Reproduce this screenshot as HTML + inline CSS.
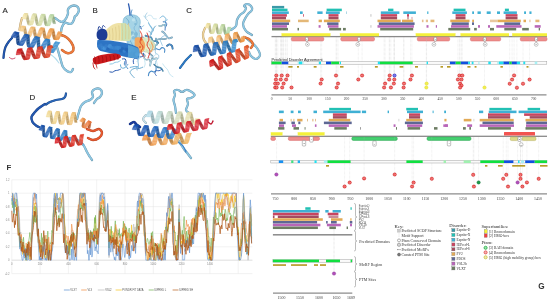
<!DOCTYPE html>
<html><head><meta charset="utf-8"><title>Figure</title>
<style>
html,body{margin:0;padding:0;background:#fff;}
body{width:550px;height:302px;overflow:hidden;position:relative;}
svg{position:absolute;left:0;top:0;display:block;filter:blur(0.3px);}
.sans{font-family:"Liberation Sans",Arial,sans-serif;}
.serif{font-family:"Liberation Serif","Times New Roman",serif;}
</style></head><body>
<svg width="550" height="302" viewBox="0 0 550 302">
<rect width="550" height="302" fill="#fff"/>
<path d="M3.5,58 C3.58,57.17 3.67,54.83 4,53 C4.33,51.17 4.75,48.83 5.5,47 C6.25,45.17 7.42,43.5 8.5,42 C9.58,40.5 11.42,38.67 12,38" fill="none" stroke="#193f7e" stroke-width="2.2" stroke-linecap="round" stroke-linejoin="round"/>
<path d="M3.5,58 C3.58,57.17 3.67,54.83 4,53 C4.33,51.17 4.75,48.83 5.5,47 C6.25,45.17 7.42,43.5 8.5,42 C9.58,40.5 11.42,38.67 12,38" fill="none" stroke="#2458b0" stroke-width="1.5" stroke-linecap="round" stroke-linejoin="round"/>
<path d="M9.5,57.5 C9.92,57.75 11.08,58.92 12,59 C12.92,59.08 14.5,58.17 15,58" fill="none" stroke="#d05070" stroke-width="1" stroke-linecap="round" stroke-linejoin="round"/>
<path d="M55,18 C56,18.63 59.33,21.48 61,21.8 C62.67,22.12 63.85,21.2 65,19.9 C66.15,18.6 67.42,15.67 67.9,14 C68.38,12.33 67.57,11.07 67.9,9.9 C68.23,8.73 68.9,7.73 69.9,7 C70.9,6.27 72.58,5.5 73.9,5.5 C75.22,5.5 76.98,6.1 77.8,7 C78.62,7.9 78.97,9.58 78.8,10.9 C78.63,12.22 77.45,13.98 76.8,14.9 C76.15,15.82 75.38,15.57 74.9,16.4 C74.42,17.23 74.4,18.75 73.9,19.9 C73.4,21.05 72.73,22.65 71.9,23.3 C71.07,23.95 70.07,23.88 68.9,23.8 C67.73,23.72 66.05,22.27 64.9,22.8 C63.75,23.33 62.65,25.47 62,27 C61.35,28.53 61.17,31.17 61,32" fill="none" stroke="#6690a4" stroke-width="2.3" stroke-linecap="round" stroke-linejoin="round"/>
<path d="M55,18 C56,18.63 59.33,21.48 61,21.8 C62.67,22.12 63.85,21.2 65,19.9 C66.15,18.6 67.42,15.67 67.9,14 C68.38,12.33 67.57,11.07 67.9,9.9 C68.23,8.73 68.9,7.73 69.9,7 C70.9,6.27 72.58,5.5 73.9,5.5 C75.22,5.5 76.98,6.1 77.8,7 C78.62,7.9 78.97,9.58 78.8,10.9 C78.63,12.22 77.45,13.98 76.8,14.9 C76.15,15.82 75.38,15.57 74.9,16.4 C74.42,17.23 74.4,18.75 73.9,19.9 C73.4,21.05 72.73,22.65 71.9,23.3 C71.07,23.95 70.07,23.88 68.9,23.8 C67.73,23.72 66.05,22.27 64.9,22.8 C63.75,23.33 62.65,25.47 62,27 C61.35,28.53 61.17,31.17 61,32" fill="none" stroke="#8ec8e4" stroke-width="1.6" stroke-linecap="round" stroke-linejoin="round"/>
<path d="M61,35 C61.83,35.33 64.33,35.83 66,37 C67.67,38.17 69.75,40.17 71,42 C72.25,43.83 73.33,46.33 73.5,48 C73.67,49.67 73.08,51.17 72,52 C70.92,52.83 68.67,53.33 67,53 C65.33,52.67 62.83,50.5 62,50" fill="none" stroke="#ab572b" stroke-width="2.5" stroke-linecap="round" stroke-linejoin="round"/>
<path d="M61,35 C61.83,35.33 64.33,35.83 66,37 C67.67,38.17 69.75,40.17 71,42 C72.25,43.83 73.33,46.33 73.5,48 C73.67,49.67 73.08,51.17 72,52 C70.92,52.83 68.67,53.33 67,53 C65.33,52.67 62.83,50.5 62,50" fill="none" stroke="#ee7a3c" stroke-width="1.8" stroke-linecap="round" stroke-linejoin="round"/>
<path d="M57,47 C57.33,48.17 58.33,51.67 59,54 C59.67,56.33 60.33,58.83 61,61 C61.67,63.17 62,65.33 63,67 C64,68.67 65.67,70.17 67,71 C68.33,71.83 70,72.33 71,72 C72,71.67 72.67,69.5 73,69" fill="none" stroke="#6690a4" stroke-width="2.3" stroke-linecap="round" stroke-linejoin="round"/>
<path d="M57,47 C57.33,48.17 58.33,51.67 59,54 C59.67,56.33 60.33,58.83 61,61 C61.67,63.17 62,65.33 63,67 C64,68.67 65.67,70.17 67,71 C68.33,71.83 70,72.33 71,72 C72,71.67 72.67,69.5 73,69" fill="none" stroke="#8ec8e4" stroke-width="1.6" stroke-linecap="round" stroke-linejoin="round"/>
<path d="M50,54 C50.83,54.67 53.5,56.5 55,58 C56.5,59.5 58.33,62.17 59,63" fill="none" stroke="#b2dcec" stroke-width="1.1" stroke-linecap="round" stroke-linejoin="round"/>
<path d="M22,18 C21.75,19 20.92,22 20.5,24 C20.08,26 19.67,29 19.5,30" fill="none" stroke="#ae976e" stroke-width="2.2" stroke-linecap="round" stroke-linejoin="round"/>
<path d="M22,18 C21.75,19 20.92,22 20.5,24 C20.08,26 19.67,29 19.5,30" fill="none" stroke="#f2d29a" stroke-width="1.5" stroke-linecap="round" stroke-linejoin="round"/>
<polygon points="24.41,13.5 24.76,13.72 27.49,13.83 27.13,13.61" fill="#c0b586" stroke="#c0b586" stroke-width="0.25"/>
<polygon points="24.76,13.72 25.1,14.31 27.82,14.42 27.49,13.83" fill="#bfb586" stroke="#bfb586" stroke-width="0.25"/>
<polygon points="25.1,14.31 25.42,15.23 28.15,15.34 27.82,14.42" fill="#beb586" stroke="#beb586" stroke-width="0.25"/>
<polygon points="25.42,15.23 25.73,16.42 28.46,16.53 28.15,15.34" fill="#beb586" stroke="#beb586" stroke-width="0.25"/>
<polygon points="25.73,16.42 26.04,17.79 28.76,17.91 28.46,16.53" fill="#bdb586" stroke="#bdb586" stroke-width="0.25"/>
<polygon points="26.04,17.79 26.34,19.27 29.06,19.38 28.76,17.91" fill="#bcb486" stroke="#bcb486" stroke-width="0.25"/>
<polygon points="26.34,19.27 26.64,20.73 29.36,20.85 29.06,19.38" fill="#bcb486" stroke="#bcb486" stroke-width="0.25"/>
<polygon points="26.64,20.73 26.94,22.1 29.66,22.21 29.36,20.85" fill="#bcb486" stroke="#bcb486" stroke-width="0.25"/>
<polygon points="26.94,22.1 27.25,23.26 29.98,23.38 29.66,22.21" fill="#bbb486" stroke="#bbb486" stroke-width="0.25"/>
<polygon points="27.25,23.26 27.58,24.15 30.3,24.26 29.98,23.38" fill="#bab486" stroke="#bab486" stroke-width="0.25"/>
<polygon points="27.58,24.15 27.92,24.7 30.64,24.81 30.3,24.26" fill="#b9b486" stroke="#b9b486" stroke-width="0.25"/>
<polygon points="27.92,24.7 28.27,24.87 30.99,24.99 30.64,24.81" fill="#b9b486" stroke="#b9b486" stroke-width="0.25"/>
<polygon points="33.09,13.87 33.44,14.13 36.17,14.25 35.81,13.99" fill="#b1b386" stroke="#b1b386" stroke-width="0.25"/>
<polygon points="33.44,14.13 33.78,14.76 36.5,14.88 36.17,14.25" fill="#b1b386" stroke="#b1b386" stroke-width="0.25"/>
<polygon points="33.78,14.76 34.1,15.72 36.82,15.83 36.5,14.88" fill="#b0b386" stroke="#b0b386" stroke-width="0.25"/>
<polygon points="34.1,15.72 34.41,16.93 37.13,17.05 36.82,15.83" fill="#b0b286" stroke="#b0b286" stroke-width="0.25"/>
<polygon points="34.41,16.93 34.71,18.33 37.44,18.44 37.13,17.05" fill="#afb286" stroke="#afb286" stroke-width="0.25"/>
<polygon points="34.71,18.33 35.01,19.8 37.73,19.92 37.44,18.44" fill="#afb286" stroke="#afb286" stroke-width="0.25"/>
<polygon points="35.01,19.8 35.31,21.26 38.03,21.38 37.73,19.92" fill="#aeb286" stroke="#aeb286" stroke-width="0.25"/>
<polygon points="35.31,21.26 35.62,22.61 38.34,22.72 38.03,21.38" fill="#adb286" stroke="#adb286" stroke-width="0.25"/>
<polygon points="35.62,22.61 35.93,23.74 38.65,23.86 38.34,22.72" fill="#adb286" stroke="#adb286" stroke-width="0.25"/>
<polygon points="35.93,23.74 36.26,24.6 38.98,24.71 38.65,23.86" fill="#acb286" stroke="#acb286" stroke-width="0.25"/>
<polygon points="36.26,24.6 36.6,25.11 39.32,25.22 38.98,24.71" fill="#acb186" stroke="#acb186" stroke-width="0.25"/>
<polygon points="36.6,25.11 36.95,25.24 39.68,25.36 39.32,25.22" fill="#abb186" stroke="#abb186" stroke-width="0.25"/>
<polygon points="41.77,14.25 42.12,14.56 44.85,14.67 44.5,14.37" fill="#a4b086" stroke="#a4b086" stroke-width="0.25"/>
<polygon points="42.12,14.56 42.46,15.22 45.18,15.34 44.85,14.67" fill="#a3b086" stroke="#a3b086" stroke-width="0.25"/>
<polygon points="42.46,15.22 42.78,16.21 45.5,16.33 45.18,15.34" fill="#a3b086" stroke="#a3b086" stroke-width="0.25"/>
<polygon points="42.78,16.21 43.09,17.45 45.81,17.57 45.5,16.33" fill="#a2b086" stroke="#a2b086" stroke-width="0.25"/>
<polygon points="43.09,17.45 43.39,18.86 46.11,18.97 45.81,17.57" fill="#a1b086" stroke="#a1b086" stroke-width="0.25"/>
<polygon points="43.39,18.86 43.69,20.34 46.41,20.46 46.11,18.97" fill="#a0b086" stroke="#a0b086" stroke-width="0.25"/>
<polygon points="43.69,20.34 43.99,21.79 46.71,21.91 46.41,20.46" fill="#a0b086" stroke="#a0b086" stroke-width="0.25"/>
<polygon points="43.99,21.79 44.29,23.12 47.02,23.23 46.71,21.91" fill="#a0af86" stroke="#a0af86" stroke-width="0.25"/>
<polygon points="44.29,23.12 44.61,24.22 47.33,24.34 47.02,23.23" fill="#9faf86" stroke="#9faf86" stroke-width="0.25"/>
<polygon points="44.61,24.22 44.94,25.04 47.66,25.16 47.33,24.34" fill="#9faf86" stroke="#9faf86" stroke-width="0.25"/>
<polygon points="44.94,25.04 45.28,25.51 48,25.63 47.66,25.16" fill="#9eaf86" stroke="#9eaf86" stroke-width="0.25"/>
<polygon points="45.28,25.51 45.64,25.6 48.36,25.72 48,25.63" fill="#9daf86" stroke="#9daf86" stroke-width="0.25"/>
<polygon points="50.46,14.64 50.8,14.98 53.53,15.1 53.18,14.76" fill="#96ad86" stroke="#96ad86" stroke-width="0.25"/>
<polygon points="50.8,14.98 51.14,15.69 53.86,15.81 53.53,15.1" fill="#95ad86" stroke="#95ad86" stroke-width="0.25"/>
<polygon points="51.14,15.69 51.45,16.71 54.18,16.83 53.86,15.81" fill="#94ad86" stroke="#94ad86" stroke-width="0.25"/>
<polygon points="51.45,16.71 51.76,17.97 54.48,18.09 54.18,16.83" fill="#94ad86" stroke="#94ad86" stroke-width="0.25"/>
<polygon points="51.76,17.97 52.06,19.39 54.79,19.51 54.48,18.09" fill="#94ad86" stroke="#94ad86" stroke-width="0.25"/>
<polygon points="52.06,19.39 52.36,20.87 55.09,20.99 54.79,19.51" fill="#93ac86" stroke="#93ac86" stroke-width="0.25"/>
<polygon points="52.36,20.87 52.66,22.32 55.39,22.43 55.09,20.99" fill="#92ac86" stroke="#92ac86" stroke-width="0.25"/>
<polygon points="52.66,22.32 52.97,23.62 55.69,23.74 55.39,22.43" fill="#92ac86" stroke="#92ac86" stroke-width="0.25"/>
<polygon points="22,19 22.42,17.56 26.31,17.73 25.89,19.17" fill="#f5e8b4" stroke="#f5e8b4" stroke-width="0.25"/>
<polygon points="22.42,17.56 22.84,16.22 26.73,16.39 26.31,17.73" fill="#f4e7b2" stroke="#f4e7b2" stroke-width="0.25"/>
<polygon points="22.84,16.22 23.26,15.08 27.14,15.24 26.73,16.39" fill="#f4e6ae" stroke="#f4e6ae" stroke-width="0.25"/>
<polygon points="23.26,15.08 23.66,14.2 27.54,14.37 27.14,15.24" fill="#f2e4a8" stroke="#f2e4a8" stroke-width="0.25"/>
<polygon points="23.66,14.2 24.04,13.66 27.93,13.83 27.54,14.37" fill="#f1e3a8" stroke="#f1e3a8" stroke-width="0.25"/>
<polygon points="24.04,13.66 24.41,13.5 28.3,13.66 27.93,13.83" fill="#f0e3a8" stroke="#f0e3a8" stroke-width="0.25"/>
<polygon points="28.27,24.87 28.64,24.66 32.53,24.83 32.16,25.04" fill="#e7e1a8" stroke="#e7e1a8" stroke-width="0.25"/>
<polygon points="28.64,24.66 29.03,24.09 32.92,24.25 32.53,24.83" fill="#e6e1a8" stroke="#e6e1a8" stroke-width="0.25"/>
<polygon points="29.03,24.09 29.43,23.18 33.32,23.35 32.92,24.25" fill="#e6e1a9" stroke="#e6e1a9" stroke-width="0.25"/>
<polygon points="29.43,23.18 29.84,22.01 33.73,22.17 33.32,23.35" fill="#e7e3ae" stroke="#e7e3ae" stroke-width="0.25"/>
<polygon points="29.84,22.01 30.26,20.65 34.15,20.82 33.73,22.17" fill="#e7e4b2" stroke="#e7e4b2" stroke-width="0.25"/>
<polygon points="30.26,20.65 30.69,19.21 34.58,19.38 34.15,20.82" fill="#e7e5b4" stroke="#e7e5b4" stroke-width="0.25"/>
<polygon points="30.69,19.21 31.11,17.78 35,17.94 34.58,19.38" fill="#e7e5b4" stroke="#e7e5b4" stroke-width="0.25"/>
<polygon points="31.11,17.78 31.53,16.45 35.42,16.62 35,17.94" fill="#e5e4b1" stroke="#e5e4b1" stroke-width="0.25"/>
<polygon points="31.53,16.45 31.94,15.33 35.83,15.5 35.42,16.62" fill="#e3e2ad" stroke="#e3e2ad" stroke-width="0.25"/>
<polygon points="31.94,15.33 32.34,14.5 36.23,14.66 35.83,15.5" fill="#e1e0a8" stroke="#e1e0a8" stroke-width="0.25"/>
<polygon points="32.34,14.5 32.72,14 36.61,14.16 36.23,14.66" fill="#e0e0a8" stroke="#e0e0a8" stroke-width="0.25"/>
<polygon points="32.72,14 33.09,13.87 36.98,14.04 36.61,14.16" fill="#dfe0a8" stroke="#dfe0a8" stroke-width="0.25"/>
<polygon points="36.95,25.24 37.33,24.99 41.22,25.15 40.84,25.41" fill="#d6dea8" stroke="#d6dea8" stroke-width="0.25"/>
<polygon points="37.33,24.99 37.72,24.37 41.61,24.54 41.22,25.15" fill="#d5dea8" stroke="#d5dea8" stroke-width="0.25"/>
<polygon points="37.72,24.37 38.12,23.43 42.01,23.6 41.61,24.54" fill="#d5dfa9" stroke="#d5dfa9" stroke-width="0.25"/>
<polygon points="38.12,23.43 38.53,22.23 42.42,22.4 42.01,23.6" fill="#d7e1af" stroke="#d7e1af" stroke-width="0.25"/>
<polygon points="38.53,22.23 38.95,20.87 42.84,21.03 42.42,22.4" fill="#d8e2b2" stroke="#d8e2b2" stroke-width="0.25"/>
<polygon points="38.95,20.87 39.38,19.42 43.27,19.58 42.84,21.03" fill="#d8e2b4" stroke="#d8e2b4" stroke-width="0.25"/>
<polygon points="39.38,19.42 39.8,17.99 43.69,18.16 43.27,19.58" fill="#d7e1b3" stroke="#d7e1b3" stroke-width="0.25"/>
<polygon points="39.8,17.99 40.22,16.69 44.11,16.85 43.69,18.16" fill="#d6e0b1" stroke="#d6e0b1" stroke-width="0.25"/>
<polygon points="40.22,16.69 40.63,15.6 44.52,15.76 44.11,16.85" fill="#d2dfad" stroke="#d2dfad" stroke-width="0.25"/>
<polygon points="40.63,15.6 41.03,14.79 44.92,14.96 44.52,15.76" fill="#cfdda8" stroke="#cfdda8" stroke-width="0.25"/>
<polygon points="41.03,14.79 41.41,14.34 45.3,14.5 44.92,14.96" fill="#cfdda8" stroke="#cfdda8" stroke-width="0.25"/>
<polygon points="41.41,14.34 41.77,14.25 45.66,14.42 45.3,14.5" fill="#cedda8" stroke="#cedda8" stroke-width="0.25"/>
<polygon points="45.64,25.6 46.01,25.31 49.9,25.47 49.53,25.77" fill="#c4dba8" stroke="#c4dba8" stroke-width="0.25"/>
<polygon points="46.01,25.31 46.4,24.65 50.29,24.82 49.9,25.47" fill="#c4dba8" stroke="#c4dba8" stroke-width="0.25"/>
<polygon points="46.4,24.65 46.81,23.68 50.7,23.85 50.29,24.82" fill="#c4dcaa" stroke="#c4dcaa" stroke-width="0.25"/>
<polygon points="46.81,23.68 47.22,22.46 51.11,22.63 50.7,23.85" fill="#c7ddaf" stroke="#c7ddaf" stroke-width="0.25"/>
<polygon points="47.22,22.46 47.64,21.08 51.53,21.24 51.11,22.63" fill="#c9deb3" stroke="#c9deb3" stroke-width="0.25"/>
<polygon points="47.64,21.08 48.07,19.63 51.96,19.79 51.53,21.24" fill="#c9dfb4" stroke="#c9dfb4" stroke-width="0.25"/>
<polygon points="48.07,19.63 48.49,18.21 52.38,18.38 51.96,19.79" fill="#c8dfb3" stroke="#c8dfb3" stroke-width="0.25"/>
<polygon points="48.49,18.21 48.91,16.93 52.8,17.09 52.38,18.38" fill="#c5deb0" stroke="#c5deb0" stroke-width="0.25"/>
<polygon points="48.91,16.93 49.32,15.86 53.2,16.03 52.8,17.09" fill="#c2dcac" stroke="#c2dcac" stroke-width="0.25"/>
<polygon points="49.32,15.86 49.71,15.1 53.6,15.26 53.2,16.03" fill="#bedaa8" stroke="#bedaa8" stroke-width="0.25"/>
<polygon points="49.71,15.1 50.09,14.68 53.98,14.84 53.6,15.26" fill="#bdd9a8" stroke="#bdd9a8" stroke-width="0.25"/>
<polygon points="50.09,14.68 50.46,14.64 54.34,14.81 53.98,14.84" fill="#bcd9a8" stroke="#bcd9a8" stroke-width="0.25"/>
<polygon points="21.86,26.04 22.24,26.27 25.17,26.54 24.79,26.32" fill="#c4a069" stroke="#c4a069" stroke-width="0.25"/>
<polygon points="22.24,26.27 22.58,26.83 25.52,27.11 25.17,26.54" fill="#c4a068" stroke="#c4a068" stroke-width="0.25"/>
<polygon points="22.58,26.83 22.9,27.71 25.84,27.98 25.52,27.11" fill="#c49f68" stroke="#c49f68" stroke-width="0.25"/>
<polygon points="22.9,27.71 23.2,28.83 26.13,29.1 25.84,27.98" fill="#c49f67" stroke="#c49f67" stroke-width="0.25"/>
<polygon points="23.2,28.83 23.47,30.12 26.41,30.4 26.13,29.1" fill="#c49e67" stroke="#c49e67" stroke-width="0.25"/>
<polygon points="23.47,30.12 23.75,31.51 26.68,31.78 26.41,30.4" fill="#c49e66" stroke="#c49e66" stroke-width="0.25"/>
<polygon points="23.75,31.51 24.02,32.89 26.95,33.16 26.68,31.78" fill="#c49d65" stroke="#c49d65" stroke-width="0.25"/>
<polygon points="24.02,32.89 24.3,34.17 27.23,34.44 26.95,33.16" fill="#c49d64" stroke="#c49d64" stroke-width="0.25"/>
<polygon points="24.3,34.17 24.59,35.27 27.53,35.55 27.23,34.44" fill="#c49c64" stroke="#c49c64" stroke-width="0.25"/>
<polygon points="24.59,35.27 24.91,36.12 27.85,36.39 27.53,35.55" fill="#c49c64" stroke="#c49c64" stroke-width="0.25"/>
<polygon points="24.91,36.12 25.26,36.65 28.2,36.92 27.85,36.39" fill="#c49c63" stroke="#c49c63" stroke-width="0.25"/>
<polygon points="25.26,36.65 25.65,36.84 28.58,37.11 28.2,36.92" fill="#c49b63" stroke="#c49b63" stroke-width="0.25"/>
<polygon points="31.36,26.93 31.74,27.19 34.67,27.46 34.3,27.2" fill="#c3955b" stroke="#c3955b" stroke-width="0.25"/>
<polygon points="31.74,27.19 32.08,27.79 35.02,28.06 34.67,27.46" fill="#c2945a" stroke="#c2945a" stroke-width="0.25"/>
<polygon points="32.08,27.79 32.4,28.69 35.33,28.96 35.02,28.06" fill="#c29459" stroke="#c29459" stroke-width="0.25"/>
<polygon points="32.4,28.69 32.69,29.83 35.63,30.1 35.33,28.96" fill="#c29459" stroke="#c29459" stroke-width="0.25"/>
<polygon points="32.69,29.83 32.97,31.14 35.9,31.41 35.63,30.1" fill="#c29458" stroke="#c29458" stroke-width="0.25"/>
<polygon points="32.97,31.14 33.24,32.53 36.17,32.8 35.9,31.41" fill="#c29358" stroke="#c29358" stroke-width="0.25"/>
<polygon points="33.24,32.53 33.51,33.9 36.44,34.17 36.17,32.8" fill="#c29258" stroke="#c29258" stroke-width="0.25"/>
<polygon points="33.51,33.9 33.79,35.17 36.73,35.44 36.44,34.17" fill="#c29257" stroke="#c29257" stroke-width="0.25"/>
<polygon points="33.79,35.17 34.09,36.25 37.02,36.52 36.73,35.44" fill="#c29156" stroke="#c29156" stroke-width="0.25"/>
<polygon points="34.09,36.25 34.41,37.06 37.35,37.34 37.02,36.52" fill="#c29155" stroke="#c29155" stroke-width="0.25"/>
<polygon points="34.41,37.06 34.76,37.57 37.7,37.84 37.35,37.34" fill="#c29055" stroke="#c29055" stroke-width="0.25"/>
<polygon points="34.76,37.57 35.15,37.72 38.09,37.99 37.7,37.84" fill="#c29054" stroke="#c29054" stroke-width="0.25"/>
<polygon points="40.86,27.82 41.24,28.11 44.17,28.39 43.8,28.09" fill="#c18a4c" stroke="#c18a4c" stroke-width="0.25"/>
<polygon points="41.24,28.11 41.58,28.74 44.51,29.01 44.17,28.39" fill="#c18a4c" stroke="#c18a4c" stroke-width="0.25"/>
<polygon points="41.58,28.74 41.89,29.67 44.83,29.94 44.51,29.01" fill="#c0894c" stroke="#c0894c" stroke-width="0.25"/>
<polygon points="41.89,29.67 42.18,30.83 45.12,31.1 44.83,29.94" fill="#c0884b" stroke="#c0884b" stroke-width="0.25"/>
<polygon points="42.18,30.83 42.46,32.15 45.39,32.42 45.12,31.1" fill="#c0884a" stroke="#c0884a" stroke-width="0.25"/>
<polygon points="42.46,32.15 42.73,33.54 45.66,33.81 45.39,32.42" fill="#c0884a" stroke="#c0884a" stroke-width="0.25"/>
<polygon points="42.73,33.54 43,34.91 45.94,35.18 45.66,33.81" fill="#c08849" stroke="#c08849" stroke-width="0.25"/>
<polygon points="43,34.91 43.28,36.16 46.22,36.44 45.94,35.18" fill="#c08748" stroke="#c08748" stroke-width="0.25"/>
<polygon points="43.28,36.16 43.58,37.22 46.52,37.49 46.22,36.44" fill="#c08748" stroke="#c08748" stroke-width="0.25"/>
<polygon points="43.58,37.22 43.91,38.01 46.85,38.28 46.52,37.49" fill="#c08648" stroke="#c08648" stroke-width="0.25"/>
<polygon points="43.91,38.01 44.27,38.48 47.2,38.75 46.85,38.28" fill="#c08547" stroke="#c08547" stroke-width="0.25"/>
<polygon points="44.27,38.48 44.65,38.6 47.59,38.87 47.2,38.75" fill="#c08546" stroke="#c08546" stroke-width="0.25"/>
<polygon points="50.37,28.71 50.73,29.04 53.67,29.31 53.3,28.99" fill="#c07f3f" stroke="#c07f3f" stroke-width="0.25"/>
<polygon points="50.73,29.04 51.07,29.7 54.01,29.97 53.67,29.31" fill="#c07f3e" stroke="#c07f3e" stroke-width="0.25"/>
<polygon points="51.07,29.7 51.38,30.65 54.32,30.93 54.01,29.97" fill="#bf7e3d" stroke="#bf7e3d" stroke-width="0.25"/>
<polygon points="51.38,30.65 51.67,31.83 54.61,32.11 54.32,30.93" fill="#bf7e3c" stroke="#bf7e3c" stroke-width="0.25"/>
<polygon points="51.67,31.83 51.95,33.17 54.88,33.44 54.61,32.11" fill="#bf7d3c" stroke="#bf7d3c" stroke-width="0.25"/>
<polygon points="51.95,33.17 52.22,34.56 55.15,34.83 54.88,33.44" fill="#bf7d3c" stroke="#bf7d3c" stroke-width="0.25"/>
<polygon points="52.22,34.56 52.49,35.92 55.43,36.19 55.15,34.83" fill="#bf7c3b" stroke="#bf7c3b" stroke-width="0.25"/>
<polygon points="52.49,35.92 52.78,37.16 55.71,37.43 55.43,36.19" fill="#bf7c3b" stroke="#bf7c3b" stroke-width="0.25"/>
<polygon points="52.78,37.16 53.08,38.19 56.02,38.46 55.71,37.43" fill="#bf7c3a" stroke="#bf7c3a" stroke-width="0.25"/>
<polygon points="53.08,38.19 53.41,38.95 56.34,39.22 56.02,38.46" fill="#bf7b39" stroke="#bf7b39" stroke-width="0.25"/>
<polygon points="53.41,38.95 53.77,39.38 56.7,39.66 56.34,39.22" fill="#bf7b38" stroke="#bf7b38" stroke-width="0.25"/>
<polygon points="53.77,39.38 54.16,39.47 57.09,39.74 56.7,39.66" fill="#bf7a38" stroke="#bf7a38" stroke-width="0.25"/>
<polygon points="19,31 19.52,29.69 23.72,30.08 23.2,31.39" fill="#f7d398" stroke="#f7d398" stroke-width="0.25"/>
<polygon points="19.52,29.69 20.03,28.48 24.23,28.87 23.72,30.08" fill="#f7d194" stroke="#f7d194" stroke-width="0.25"/>
<polygon points="20.03,28.48 20.53,27.44 24.72,27.83 24.23,28.87" fill="#f7ce8f" stroke="#f7ce8f" stroke-width="0.25"/>
<polygon points="20.53,27.44 21,26.65 25.2,27.04 24.72,27.83" fill="#f6ca86" stroke="#f6ca86" stroke-width="0.25"/>
<polygon points="21,26.65 21.45,26.18 25.64,26.57 25.2,27.04" fill="#f6ca85" stroke="#f6ca85" stroke-width="0.25"/>
<polygon points="21.45,26.18 21.86,26.04 26.05,26.43 25.64,26.57" fill="#f6c984" stroke="#f6c984" stroke-width="0.25"/>
<polygon points="25.65,36.84 26.06,36.67 30.26,37.06 29.84,37.23" fill="#f5c27b" stroke="#f5c27b" stroke-width="0.25"/>
<polygon points="26.06,36.67 26.51,36.16 30.7,36.55 30.26,37.06" fill="#f4c17a" stroke="#f4c17a" stroke-width="0.25"/>
<polygon points="26.51,36.16 26.98,35.35 31.18,35.74 30.7,36.55" fill="#f4c17a" stroke="#f4c17a" stroke-width="0.25"/>
<polygon points="26.98,35.35 27.48,34.29 31.68,34.68 31.18,35.74" fill="#f5c482" stroke="#f5c482" stroke-width="0.25"/>
<polygon points="27.48,34.29 27.99,33.06 32.19,33.45 31.68,34.68" fill="#f5c687" stroke="#f5c687" stroke-width="0.25"/>
<polygon points="27.99,33.06 28.52,31.75 32.71,32.14 32.19,33.45" fill="#f5c889" stroke="#f5c889" stroke-width="0.25"/>
<polygon points="28.52,31.75 29.04,30.45 33.23,30.84 32.71,32.14" fill="#f5c788" stroke="#f5c788" stroke-width="0.25"/>
<polygon points="29.04,30.45 29.55,29.25 33.74,29.64 33.23,30.84" fill="#f5c585" stroke="#f5c585" stroke-width="0.25"/>
<polygon points="29.55,29.25 30.04,28.23 34.24,28.62 33.74,29.64" fill="#f5c17d" stroke="#f5c17d" stroke-width="0.25"/>
<polygon points="30.04,28.23 30.51,27.47 34.71,27.86 34.24,28.62" fill="#f4bd74" stroke="#f4bd74" stroke-width="0.25"/>
<polygon points="30.51,27.47 30.95,27.03 35.15,27.42 34.71,27.86" fill="#f4bc73" stroke="#f4bc73" stroke-width="0.25"/>
<polygon points="30.95,27.03 31.36,26.93 35.56,27.32 35.15,27.42" fill="#f4bb73" stroke="#f4bb73" stroke-width="0.25"/>
<polygon points="35.15,37.72 35.57,37.52 39.76,37.91 39.34,38.11" fill="#f3b469" stroke="#f3b469" stroke-width="0.25"/>
<polygon points="35.57,37.52 36.02,36.98 40.21,37.37 39.76,37.91" fill="#f2b368" stroke="#f2b368" stroke-width="0.25"/>
<polygon points="36.02,36.98 36.49,36.14 40.69,36.53 40.21,37.37" fill="#f2b46a" stroke="#f2b46a" stroke-width="0.25"/>
<polygon points="36.49,36.14 36.99,35.06 41.19,35.45 40.69,36.53" fill="#f3b872" stroke="#f3b872" stroke-width="0.25"/>
<polygon points="36.99,35.06 37.51,33.82 41.7,34.21 41.19,35.45" fill="#f4bb78" stroke="#f4bb78" stroke-width="0.25"/>
<polygon points="37.51,33.82 38.03,32.5 42.23,32.89 41.7,34.21" fill="#f4bc7a" stroke="#f4bc7a" stroke-width="0.25"/>
<polygon points="38.03,32.5 38.55,31.2 42.75,31.6 42.23,32.89" fill="#f4bb79" stroke="#f4bb79" stroke-width="0.25"/>
<polygon points="38.55,31.2 39.06,30.02 43.26,30.41 42.75,31.6" fill="#f3b874" stroke="#f3b874" stroke-width="0.25"/>
<polygon points="39.06,30.02 39.55,29.02 43.75,29.41 43.26,30.41" fill="#f3b36b" stroke="#f3b36b" stroke-width="0.25"/>
<polygon points="39.55,29.02 40.02,28.29 44.22,28.68 43.75,29.41" fill="#f2af63" stroke="#f2af63" stroke-width="0.25"/>
<polygon points="40.02,28.29 40.46,27.88 44.65,28.27 44.22,28.68" fill="#f2ae62" stroke="#f2ae62" stroke-width="0.25"/>
<polygon points="40.46,27.88 40.86,27.82 45.06,28.21 44.65,28.27" fill="#f2ae61" stroke="#f2ae61" stroke-width="0.25"/>
<polygon points="44.65,38.6 45.07,38.36 49.27,38.75 48.85,38.99" fill="#f1a658" stroke="#f1a658" stroke-width="0.25"/>
<polygon points="45.07,38.36 45.53,37.79 49.72,38.18 49.27,38.75" fill="#f1a657" stroke="#f1a657" stroke-width="0.25"/>
<polygon points="45.53,37.79 46.01,36.92 50.2,37.31 49.72,38.18" fill="#f0a75a" stroke="#f0a75a" stroke-width="0.25"/>
<polygon points="46.01,36.92 46.51,35.82 50.7,36.22 50.2,37.31" fill="#f1ac63" stroke="#f1ac63" stroke-width="0.25"/>
<polygon points="46.51,35.82 47.02,34.57 51.22,34.96 50.7,36.22" fill="#f2af69" stroke="#f2af69" stroke-width="0.25"/>
<polygon points="47.02,34.57 47.55,33.25 51.74,33.64 51.22,34.96" fill="#f2b06b" stroke="#f2b06b" stroke-width="0.25"/>
<polygon points="47.55,33.25 48.07,31.96 52.26,32.35 51.74,33.64" fill="#f2af69" stroke="#f2af69" stroke-width="0.25"/>
<polygon points="48.07,31.96 48.57,30.79 52.77,31.18 52.26,32.35" fill="#f1ab63" stroke="#f1ab63" stroke-width="0.25"/>
<polygon points="48.57,30.79 49.06,29.82 53.26,30.21 52.77,31.18" fill="#f1a65a" stroke="#f1a65a" stroke-width="0.25"/>
<polygon points="49.06,29.82 49.53,29.12 53.72,29.51 53.26,30.21" fill="#f0a151" stroke="#f0a151" stroke-width="0.25"/>
<polygon points="49.53,29.12 49.96,28.74 54.16,29.13 53.72,29.51" fill="#f0a150" stroke="#f0a150" stroke-width="0.25"/>
<polygon points="49.96,28.74 50.37,28.71 54.56,29.1 54.16,29.13" fill="#f0a04f" stroke="#f0a04f" stroke-width="0.25"/>
<polygon points="54.16,39.47 54.58,39.2 58.78,39.59 58.35,39.86" fill="#ef9946" stroke="#ef9946" stroke-width="0.25"/>
<polygon points="54.58,39.2 55.04,38.6 59.23,38.99 58.78,39.59" fill="#ef9845" stroke="#ef9845" stroke-width="0.25"/>
<polygon points="55.04,38.6 55.52,37.71 59.72,38.1 59.23,38.99" fill="#ee9a49" stroke="#ee9a49" stroke-width="0.25"/>
<polygon points="55.52,37.71 56.02,36.59 60.22,36.98 59.72,38.1" fill="#efa054" stroke="#efa054" stroke-width="0.25"/>
<polygon points="56.02,36.59 56.54,35.33 60.74,35.72 60.22,36.98" fill="#f0a35a" stroke="#f0a35a" stroke-width="0.25"/>
<polygon points="56.54,35.33 57.06,34.01 61.26,34.4 60.74,35.72" fill="#f0a45c" stroke="#f0a45c" stroke-width="0.25"/>
<polygon points="57.06,34.01 57.58,32.72 61.78,33.11 61.26,34.4" fill="#f0a359" stroke="#f0a359" stroke-width="0.25"/>
<polygon points="57.58,32.72 58.09,31.57 62.28,31.96 61.78,33.11" fill="#f09f53" stroke="#f09f53" stroke-width="0.25"/>
<polygon points="14.95,31.75 15.33,32.07 18.53,32.8 18.15,32.48" fill="#164188" stroke="#164188" stroke-width="0.25"/>
<polygon points="15.33,32.07 15.62,32.78 18.82,33.51 18.53,32.8" fill="#164288" stroke="#164288" stroke-width="0.25"/>
<polygon points="15.62,32.78 15.84,33.84 19.04,34.57 18.82,33.51" fill="#174288" stroke="#174288" stroke-width="0.25"/>
<polygon points="15.84,33.84 15.99,35.18 19.19,35.91 19.04,34.57" fill="#174389" stroke="#174389" stroke-width="0.25"/>
<polygon points="15.99,35.18 16.09,36.71 19.29,37.44 19.19,35.91" fill="#174489" stroke="#174489" stroke-width="0.25"/>
<polygon points="16.09,36.71 16.18,38.34 19.38,39.07 19.29,37.44" fill="#18448a" stroke="#18448a" stroke-width="0.25"/>
<polygon points="16.18,38.34 16.26,39.96 19.46,40.69 19.38,39.07" fill="#18448a" stroke="#18448a" stroke-width="0.25"/>
<polygon points="16.26,39.96 16.38,41.46 19.58,42.2 19.46,40.69" fill="#18458a" stroke="#18458a" stroke-width="0.25"/>
<polygon points="16.38,41.46 16.54,42.76 19.74,43.49 19.58,42.2" fill="#18468b" stroke="#18468b" stroke-width="0.25"/>
<polygon points="16.54,42.76 16.77,43.75 19.97,44.49 19.74,43.49" fill="#18468b" stroke="#18468b" stroke-width="0.25"/>
<polygon points="16.77,43.75 17.08,44.39 20.28,45.12 19.97,44.49" fill="#18478c" stroke="#18478c" stroke-width="0.25"/>
<polygon points="17.08,44.39 17.48,44.64 20.68,45.37 20.28,45.12" fill="#18488c" stroke="#18488c" stroke-width="0.25"/>
<polygon points="25.37,34.15 25.73,34.55 28.93,35.28 28.57,34.88" fill="#1c4e90" stroke="#1c4e90" stroke-width="0.25"/>
<polygon points="25.73,34.55 26.01,35.33 29.21,36.06 28.93,35.28" fill="#1c4f90" stroke="#1c4f90" stroke-width="0.25"/>
<polygon points="26.01,35.33 26.21,36.44 29.41,37.18 29.21,36.06" fill="#1c5090" stroke="#1c5090" stroke-width="0.25"/>
<polygon points="26.21,36.44 26.35,37.83 29.55,38.56 29.41,37.18" fill="#1d5091" stroke="#1d5091" stroke-width="0.25"/>
<polygon points="26.35,37.83 26.45,39.39 29.65,40.12 29.55,38.56" fill="#1d5091" stroke="#1d5091" stroke-width="0.25"/>
<polygon points="26.45,39.39 26.53,41.02 29.73,41.76 29.65,40.12" fill="#1d5192" stroke="#1d5192" stroke-width="0.25"/>
<polygon points="26.53,41.02 26.62,42.63 29.82,43.36 29.73,41.76" fill="#1e5192" stroke="#1e5192" stroke-width="0.25"/>
<polygon points="26.62,42.63 26.74,44.1 29.94,44.83 29.82,43.36" fill="#1e5293" stroke="#1e5293" stroke-width="0.25"/>
<polygon points="26.74,44.1 26.92,45.34 30.12,46.07 29.94,44.83" fill="#1e5393" stroke="#1e5393" stroke-width="0.25"/>
<polygon points="26.92,45.34 27.16,46.27 30.36,47.01 30.12,46.07" fill="#1e5493" stroke="#1e5493" stroke-width="0.25"/>
<polygon points="27.16,46.27 27.49,46.84 30.69,47.57 30.36,47.01" fill="#1f5494" stroke="#1f5494" stroke-width="0.25"/>
<polygon points="27.49,46.84 27.9,47.01 31.1,47.74 30.69,47.57" fill="#1f5494" stroke="#1f5494" stroke-width="0.25"/>
<polygon points="35.78,36.56 36.13,37.04 39.33,37.77 38.98,37.3" fill="#225c98" stroke="#225c98" stroke-width="0.25"/>
<polygon points="36.13,37.04 36.39,37.89 39.59,38.62 39.33,37.77" fill="#235c98" stroke="#235c98" stroke-width="0.25"/>
<polygon points="36.39,37.89 36.58,39.06 39.78,39.79 39.59,38.62" fill="#235c99" stroke="#235c99" stroke-width="0.25"/>
<polygon points="36.58,39.06 36.71,40.48 39.91,41.22 39.78,39.79" fill="#235d99" stroke="#235d99" stroke-width="0.25"/>
<polygon points="36.71,40.48 36.81,42.07 40.01,42.8 39.91,41.22" fill="#245d99" stroke="#245d99" stroke-width="0.25"/>
<polygon points="36.81,42.07 36.89,43.7 40.09,44.44 40.01,42.8" fill="#245e9a" stroke="#245e9a" stroke-width="0.25"/>
<polygon points="36.89,43.7 36.98,45.29 40.18,46.03 40.09,44.44" fill="#245f9a" stroke="#245f9a" stroke-width="0.25"/>
<polygon points="36.98,45.29 37.11,46.73 40.31,47.46 40.18,46.03" fill="#245f9b" stroke="#245f9b" stroke-width="0.25"/>
<polygon points="37.11,46.73 37.3,47.91 40.5,48.65 40.31,47.46" fill="#24609b" stroke="#24609b" stroke-width="0.25"/>
<polygon points="37.3,47.91 37.55,48.78 40.75,49.51 40.5,48.65" fill="#24609b" stroke="#24609b" stroke-width="0.25"/>
<polygon points="37.55,48.78 37.9,49.27 41.1,50 40.75,49.51" fill="#24619c" stroke="#24619c" stroke-width="0.25"/>
<polygon points="45.77,38.84 46.2,38.99 49.4,39.73 48.97,39.58" fill="#2868a0" stroke="#2868a0" stroke-width="0.25"/>
<polygon points="46.2,38.99 46.53,39.54 49.73,40.27 49.4,39.73" fill="#2868a0" stroke="#2868a0" stroke-width="0.25"/>
<polygon points="46.53,39.54 46.78,40.46 49.98,41.19 49.73,40.27" fill="#2869a0" stroke="#2869a0" stroke-width="0.25"/>
<polygon points="46.78,40.46 46.95,41.68 50.15,42.42 49.98,41.19" fill="#2969a1" stroke="#2969a1" stroke-width="0.25"/>
<polygon points="46.95,41.68 47.07,43.15 50.27,43.88 50.15,42.42" fill="#296aa1" stroke="#296aa1" stroke-width="0.25"/>
<polygon points="47.07,43.15 47.16,44.75 50.36,45.48 50.27,43.88" fill="#296ba1" stroke="#296ba1" stroke-width="0.25"/>
<polygon points="47.16,44.75 47.25,46.38 50.45,47.12 50.36,45.48" fill="#2a6ba2" stroke="#2a6ba2" stroke-width="0.25"/>
<polygon points="47.25,46.38 47.34,47.95 50.54,48.68 50.45,47.12" fill="#2a6ca2" stroke="#2a6ca2" stroke-width="0.25"/>
<polygon points="47.34,47.95 47.48,49.34 50.68,50.08 50.54,48.68" fill="#2a6ca3" stroke="#2a6ca3" stroke-width="0.25"/>
<polygon points="47.48,49.34 47.68,50.47 50.88,51.21 50.68,50.08" fill="#2b6ca3" stroke="#2b6ca3" stroke-width="0.25"/>
<polygon points="47.68,50.47 47.95,51.27 51.15,52.01 50.88,51.21" fill="#2b6da4" stroke="#2b6da4" stroke-width="0.25"/>
<polygon points="47.95,51.27 48.31,51.69 51.51,52.42 51.15,52.01" fill="#2b6ea4" stroke="#2b6ea4" stroke-width="0.25"/>
<polygon points="11,37 11.78,35.57 16.36,36.62 15.57,38.05" fill="#3966b4" stroke="#3966b4" stroke-width="0.25"/>
<polygon points="11.78,35.57 12.54,34.25 17.11,35.3 16.36,36.62" fill="#3362b2" stroke="#3362b2" stroke-width="0.25"/>
<polygon points="12.54,34.25 13.26,33.14 17.83,34.18 17.11,35.3" fill="#2a5aaf" stroke="#2a5aaf" stroke-width="0.25"/>
<polygon points="13.26,33.14 13.9,32.31 18.47,33.36 17.83,34.18" fill="#1b50a9" stroke="#1b50a9" stroke-width="0.25"/>
<polygon points="13.9,32.31 14.47,31.83 19.04,32.88 18.47,33.36" fill="#1b51aa" stroke="#1b51aa" stroke-width="0.25"/>
<polygon points="14.47,31.83 14.95,31.75 19.52,32.8 19.04,32.88" fill="#1c51aa" stroke="#1c51aa" stroke-width="0.25"/>
<polygon points="17.48,44.64 17.97,44.48 22.54,45.52 22.05,45.68" fill="#205ab0" stroke="#205ab0" stroke-width="0.25"/>
<polygon points="17.97,44.48 18.55,43.93 23.13,44.98 22.54,45.52" fill="#205bb0" stroke="#205bb0" stroke-width="0.25"/>
<polygon points="18.55,43.93 19.21,43.04 23.79,44.09 23.13,44.98" fill="#235eb1" stroke="#235eb1" stroke-width="0.25"/>
<polygon points="19.21,43.04 19.94,41.88 24.51,42.92 23.79,44.09" fill="#3268b7" stroke="#3268b7" stroke-width="0.25"/>
<polygon points="19.94,41.88 20.7,40.53 25.28,41.58 24.51,42.92" fill="#3b70ba" stroke="#3b70ba" stroke-width="0.25"/>
<polygon points="20.7,40.53 21.49,39.09 26.06,40.14 25.28,41.58" fill="#3f74bc" stroke="#3f74bc" stroke-width="0.25"/>
<polygon points="21.49,39.09 22.27,37.68 26.84,38.73 26.06,40.14" fill="#3f73bc" stroke="#3f73bc" stroke-width="0.25"/>
<polygon points="22.27,37.68 23.02,36.39 27.6,37.44 26.84,38.73" fill="#396fba" stroke="#396fba" stroke-width="0.25"/>
<polygon points="23.02,36.39 23.73,35.32 28.3,36.37 27.6,37.44" fill="#2e68b7" stroke="#2e68b7" stroke-width="0.25"/>
<polygon points="23.73,35.32 24.36,34.56 28.93,35.61 28.3,36.37" fill="#2360b3" stroke="#2360b3" stroke-width="0.25"/>
<polygon points="24.36,34.56 24.91,34.16 29.48,35.2 28.93,35.61" fill="#2361b4" stroke="#2361b4" stroke-width="0.25"/>
<polygon points="24.91,34.16 25.37,34.15 29.94,35.2 29.48,35.2" fill="#2362b4" stroke="#2362b4" stroke-width="0.25"/>
<polygon points="27.9,47.01 28.42,46.77 32.99,47.82 32.48,48.05" fill="#276bba" stroke="#276bba" stroke-width="0.25"/>
<polygon points="28.42,46.77 29.01,46.15 33.59,47.2 32.99,47.82" fill="#286bba" stroke="#286bba" stroke-width="0.25"/>
<polygon points="29.01,46.15 29.69,45.21 34.26,46.25 33.59,47.2" fill="#2e70bc" stroke="#2e70bc" stroke-width="0.25"/>
<polygon points="29.69,45.21 30.42,44 34.99,45.05 34.26,46.25" fill="#3a79c1" stroke="#3a79c1" stroke-width="0.25"/>
<polygon points="30.42,44 31.19,42.63 35.76,43.68 34.99,45.05" fill="#437fc3" stroke="#437fc3" stroke-width="0.25"/>
<polygon points="31.19,42.63 31.98,41.19 36.55,42.24 35.76,43.68" fill="#4682c5" stroke="#4682c5" stroke-width="0.25"/>
<polygon points="31.98,41.19 32.76,39.79 37.33,40.84 36.55,42.24" fill="#4481c5" stroke="#4481c5" stroke-width="0.25"/>
<polygon points="32.76,39.79 33.5,38.54 38.07,39.59 37.33,40.84" fill="#3e7dc3" stroke="#3e7dc3" stroke-width="0.25"/>
<polygon points="33.5,38.54 34.19,37.52 38.76,38.57 38.07,39.59" fill="#3376c0" stroke="#3376c0" stroke-width="0.25"/>
<polygon points="34.19,37.52 34.81,36.82 39.38,37.87 38.76,38.57" fill="#2a71bd" stroke="#2a71bd" stroke-width="0.25"/>
<polygon points="34.81,36.82 35.34,36.49 39.91,37.54 39.38,37.87" fill="#2b71be" stroke="#2b71be" stroke-width="0.25"/>
<polygon points="35.34,36.49 35.78,36.56 40.35,37.61 39.91,37.54" fill="#2b72be" stroke="#2b72be" stroke-width="0.25"/>
<polygon points="37.9,49.27 38.34,49.36 42.91,50.41 42.47,50.32" fill="#2f7ac3" stroke="#2f7ac3" stroke-width="0.25"/>
<polygon points="38.34,49.36 38.86,49.05 43.44,50.1 42.91,50.41" fill="#2f7bc4" stroke="#2f7bc4" stroke-width="0.25"/>
<polygon points="38.86,49.05 39.48,48.37 44.05,49.41 43.44,50.1" fill="#2f7cc4" stroke="#2f7cc4" stroke-width="0.25"/>
<polygon points="39.48,48.37 40.16,47.36 44.74,48.41 44.05,49.41" fill="#3881c7" stroke="#3881c7" stroke-width="0.25"/>
<polygon points="40.16,47.36 40.91,46.12 45.48,47.17 44.74,48.41" fill="#4389ca" stroke="#4389ca" stroke-width="0.25"/>
<polygon points="40.91,46.12 41.68,44.73 46.25,45.77 45.48,47.17" fill="#4a8ecc" stroke="#4a8ecc" stroke-width="0.25"/>
<polygon points="41.68,44.73 42.47,43.29 47.04,44.33 46.25,45.77" fill="#4d90ce" stroke="#4d90ce" stroke-width="0.25"/>
<polygon points="42.47,43.29 43.24,41.91 47.81,42.96 47.04,44.33" fill="#4a8fcd" stroke="#4a8fcd" stroke-width="0.25"/>
<polygon points="43.24,41.91 43.98,40.69 48.55,41.74 47.81,42.96" fill="#438bcc" stroke="#438bcc" stroke-width="0.25"/>
<polygon points="43.98,40.69 44.66,39.73 49.23,40.78 48.55,41.74" fill="#3884c9" stroke="#3884c9" stroke-width="0.25"/>
<polygon points="44.66,39.73 45.26,39.1 49.83,40.15 49.23,40.78" fill="#3281c8" stroke="#3281c8" stroke-width="0.25"/>
<polygon points="45.26,39.1 45.77,38.84 50.34,39.89 49.83,40.15" fill="#3282c8" stroke="#3282c8" stroke-width="0.25"/>
<polygon points="48.31,51.69 48.77,51.7 53.34,52.75 52.89,52.74" fill="#368bcd" stroke="#368bcd" stroke-width="0.25"/>
<polygon points="48.77,51.7 49.31,51.32 53.89,52.36 53.34,52.75" fill="#378bce" stroke="#378bce" stroke-width="0.25"/>
<polygon points="49.31,51.32 49.94,50.57 54.51,51.61 53.89,52.36" fill="#378cce" stroke="#378cce" stroke-width="0.25"/>
<polygon points="49.94,50.57 50.64,49.51 55.21,50.56 54.51,51.61" fill="#4193d1" stroke="#4193d1" stroke-width="0.25"/>
<polygon points="50.64,49.51 51.39,48.23 55.96,49.28 55.21,50.56" fill="#4c99d4" stroke="#4c99d4" stroke-width="0.25"/>
<polygon points="51.39,48.23 52.17,46.82 56.74,47.87 55.96,49.28" fill="#529dd5" stroke="#529dd5" stroke-width="0.25"/>
<polygon points="52.17,46.82 52.96,45.39 57.53,46.43 56.74,47.87" fill="#539ed6" stroke="#539ed6" stroke-width="0.25"/>
<polygon points="52.96,45.39 53.73,44.03 58.3,45.08 57.53,46.43" fill="#509cd6" stroke="#509cd6" stroke-width="0.25"/>
<polygon points="53.73,44.03 54.45,42.86 59.02,43.91 58.3,45.08" fill="#4899d5" stroke="#4899d5" stroke-width="0.25"/>
<polygon points="54.45,42.86 55.12,41.95 59.69,43 59.02,43.91" fill="#3c93d2" stroke="#3c93d2" stroke-width="0.25"/>
<polygon points="55.12,41.95 55.7,41.39 60.27,42.44 59.69,43" fill="#3a91d2" stroke="#3a91d2" stroke-width="0.25"/>
<polygon points="17.98,49.17 18.42,49.33 21.64,49 21.19,48.84" fill="#a8191c" stroke="#a8191c" stroke-width="0.25"/>
<polygon points="18.42,49.33 18.91,49.87 22.12,49.54 21.64,49" fill="#a8191c" stroke="#a8191c" stroke-width="0.25"/>
<polygon points="18.91,49.87 19.43,50.74 22.64,50.41 22.12,49.54" fill="#a81a1c" stroke="#a81a1c" stroke-width="0.25"/>
<polygon points="19.43,50.74 19.97,51.87 23.18,51.54 22.64,50.41" fill="#a81b1c" stroke="#a81b1c" stroke-width="0.25"/>
<polygon points="19.97,51.87 20.54,53.19 23.75,52.86 23.18,51.54" fill="#a81b1c" stroke="#a81b1c" stroke-width="0.25"/>
<polygon points="20.54,53.19 21.11,54.61 24.32,54.28 23.75,52.86" fill="#a81c1c" stroke="#a81c1c" stroke-width="0.25"/>
<polygon points="21.11,54.61 21.68,56.01 24.9,55.68 24.32,54.28" fill="#a81c1c" stroke="#a81c1c" stroke-width="0.25"/>
<polygon points="21.68,56.01 22.25,57.31 25.46,56.98 24.9,55.68" fill="#a91c1c" stroke="#a91c1c" stroke-width="0.25"/>
<polygon points="22.25,57.31 22.79,58.4 26,58.07 25.46,56.98" fill="#a91d1c" stroke="#a91d1c" stroke-width="0.25"/>
<polygon points="22.79,58.4 23.3,59.21 26.51,58.88 26,58.07" fill="#a91e1c" stroke="#a91e1c" stroke-width="0.25"/>
<polygon points="23.3,59.21 23.78,59.68 26.99,59.36 26.51,58.88" fill="#a91e1c" stroke="#a91e1c" stroke-width="0.25"/>
<polygon points="23.78,59.68 24.22,59.78 27.43,59.45 26.99,59.36" fill="#aa1f1c" stroke="#aa1f1c" stroke-width="0.25"/>
<polygon points="28.17,48.13 28.63,48.36 31.84,48.04 31.39,47.8" fill="#ac251e" stroke="#ac251e" stroke-width="0.25"/>
<polygon points="28.63,48.36 29.12,48.96 32.33,48.63 31.84,48.04" fill="#ac261e" stroke="#ac261e" stroke-width="0.25"/>
<polygon points="29.12,48.96 29.64,49.88 32.85,49.55 32.33,48.63" fill="#ad271e" stroke="#ad271e" stroke-width="0.25"/>
<polygon points="29.64,49.88 30.19,51.06 33.4,50.73 32.85,49.55" fill="#ad271e" stroke="#ad271e" stroke-width="0.25"/>
<polygon points="30.19,51.06 30.76,52.4 33.97,52.07 33.4,50.73" fill="#ad281e" stroke="#ad281e" stroke-width="0.25"/>
<polygon points="30.76,52.4 31.33,53.82 34.55,53.49 33.97,52.07" fill="#ae281e" stroke="#ae281e" stroke-width="0.25"/>
<polygon points="31.33,53.82 31.91,55.21 35.12,54.88 34.55,53.49" fill="#ae281e" stroke="#ae281e" stroke-width="0.25"/>
<polygon points="31.91,55.21 32.47,56.48 35.68,56.15 35.12,54.88" fill="#ae291f" stroke="#ae291f" stroke-width="0.25"/>
<polygon points="32.47,56.48 33,57.53 36.21,57.2 35.68,56.15" fill="#ae291f" stroke="#ae291f" stroke-width="0.25"/>
<polygon points="33,57.53 33.51,58.28 36.72,57.95 36.21,57.2" fill="#af2a1f" stroke="#af2a1f" stroke-width="0.25"/>
<polygon points="33.51,58.28 33.98,58.69 37.19,58.36 36.72,57.95" fill="#af2b1f" stroke="#af2b1f" stroke-width="0.25"/>
<polygon points="33.98,58.69 34.41,58.72 37.62,58.39 37.19,58.36" fill="#af2b1f" stroke="#af2b1f" stroke-width="0.25"/>
<polygon points="38.37,47.11 38.83,47.41 42.04,47.08 41.58,46.78" fill="#b23220" stroke="#b23220" stroke-width="0.25"/>
<polygon points="38.83,47.41 39.33,48.07 42.54,47.74 42.04,47.08" fill="#b23220" stroke="#b23220" stroke-width="0.25"/>
<polygon points="39.33,48.07 39.86,49.04 43.07,48.71 42.54,47.74" fill="#b23320" stroke="#b23320" stroke-width="0.25"/>
<polygon points="39.86,49.04 40.41,50.25 43.62,49.92 43.07,48.71" fill="#b23420" stroke="#b23420" stroke-width="0.25"/>
<polygon points="40.41,50.25 40.98,51.61 44.19,51.28 43.62,49.92" fill="#b33420" stroke="#b33420" stroke-width="0.25"/>
<polygon points="40.98,51.61 41.56,53.03 44.77,52.7 44.19,51.28" fill="#b33420" stroke="#b33420" stroke-width="0.25"/>
<polygon points="41.56,53.03 42.13,54.41 45.34,54.08 44.77,52.7" fill="#b33520" stroke="#b33520" stroke-width="0.25"/>
<polygon points="42.13,54.41 42.68,55.64 45.89,55.31 45.34,54.08" fill="#b43521" stroke="#b43521" stroke-width="0.25"/>
<polygon points="42.68,55.64 43.21,56.64 46.43,56.32 45.89,55.31" fill="#b43621" stroke="#b43621" stroke-width="0.25"/>
<polygon points="43.21,56.64 43.72,57.34 46.93,57.01 46.43,56.32" fill="#b43621" stroke="#b43621" stroke-width="0.25"/>
<polygon points="43.72,57.34 44.18,57.69 47.39,57.36 46.93,57.01" fill="#b43721" stroke="#b43721" stroke-width="0.25"/>
<polygon points="44.18,57.69 44.61,57.65 47.82,57.32 47.39,57.36" fill="#b43821" stroke="#b43821" stroke-width="0.25"/>
<polygon points="48.14,46.11 48.57,46.09 51.78,45.76 51.36,45.78" fill="#b73d23" stroke="#b73d23" stroke-width="0.25"/>
<polygon points="48.57,46.09 49.04,46.46 52.25,46.13 51.78,45.76" fill="#b73e23" stroke="#b73e23" stroke-width="0.25"/>
<polygon points="49.04,46.46 49.54,47.18 52.75,46.85 52.25,46.13" fill="#b73f23" stroke="#b73f23" stroke-width="0.25"/>
<polygon points="49.54,47.18 50.08,48.2 53.29,47.87 52.75,46.85" fill="#b83f23" stroke="#b83f23" stroke-width="0.25"/>
<polygon points="16,55 16.28,53.5 20.86,53.03 20.59,54.53" fill="#d63a40" stroke="#d63a40" stroke-width="0.25"/>
<polygon points="16.28,53.5 16.56,52.11 21.15,51.64 20.86,53.03" fill="#d5363a" stroke="#d5363a" stroke-width="0.25"/>
<polygon points="16.56,52.11 16.87,50.91 21.46,50.44 21.15,51.64" fill="#d42c30" stroke="#d42c30" stroke-width="0.25"/>
<polygon points="16.87,50.91 17.2,49.98 21.79,49.51 21.46,50.44" fill="#d11e22" stroke="#d11e22" stroke-width="0.25"/>
<polygon points="17.2,49.98 17.57,49.39 22.16,48.92 21.79,49.51" fill="#d11f22" stroke="#d11f22" stroke-width="0.25"/>
<polygon points="17.57,49.39 17.98,49.17 22.57,48.7 22.16,48.92" fill="#d11f23" stroke="#d11f23" stroke-width="0.25"/>
<polygon points="24.22,59.78 24.62,59.5 29.21,59.03 28.81,59.31" fill="#d52824" stroke="#d52824" stroke-width="0.25"/>
<polygon points="24.62,59.5 24.98,58.84 29.57,58.37 29.21,59.03" fill="#d52824" stroke="#d52824" stroke-width="0.25"/>
<polygon points="24.98,58.84 25.31,57.86 29.9,57.39 29.57,58.37" fill="#d62c27" stroke="#d62c27" stroke-width="0.25"/>
<polygon points="25.31,57.86 25.61,56.62 30.2,56.15 29.9,57.39" fill="#d93935" stroke="#d93935" stroke-width="0.25"/>
<polygon points="25.61,56.62 25.89,55.2 30.48,54.73 30.2,56.15" fill="#db433e" stroke="#db433e" stroke-width="0.25"/>
<polygon points="25.89,55.2 26.17,53.7 30.76,53.22 30.48,54.73" fill="#dc4843" stroke="#dc4843" stroke-width="0.25"/>
<polygon points="26.17,53.7 26.45,52.21 31.03,51.74 30.76,53.22" fill="#dc4742" stroke="#dc4742" stroke-width="0.25"/>
<polygon points="26.45,52.21 26.74,50.84 31.32,50.37 31.03,51.74" fill="#db423c" stroke="#db423c" stroke-width="0.25"/>
<polygon points="26.74,50.84 27.05,49.68 31.63,49.21 31.32,50.37" fill="#d93831" stroke="#d93831" stroke-width="0.25"/>
<polygon points="27.05,49.68 27.39,48.81 31.97,48.34 31.63,49.21" fill="#d72d25" stroke="#d72d25" stroke-width="0.25"/>
<polygon points="27.39,48.81 27.76,48.28 32.35,47.81 31.97,48.34" fill="#d82e25" stroke="#d82e25" stroke-width="0.25"/>
<polygon points="27.76,48.28 28.17,48.13 32.76,47.66 32.35,47.81" fill="#d82f26" stroke="#d82f26" stroke-width="0.25"/>
<polygon points="34.41,58.72 34.81,58.37 39.39,57.9 39,58.25" fill="#db3727" stroke="#db3727" stroke-width="0.25"/>
<polygon points="34.81,58.37 35.16,57.65 39.75,57.18 39.39,57.9" fill="#dc3827" stroke="#dc3827" stroke-width="0.25"/>
<polygon points="35.16,57.65 35.48,56.62 40.07,56.15 39.75,57.18" fill="#dd3d2c" stroke="#dd3d2c" stroke-width="0.25"/>
<polygon points="35.48,56.62 35.78,55.34 40.37,54.87 40.07,56.15" fill="#df493a" stroke="#df493a" stroke-width="0.25"/>
<polygon points="35.78,55.34 36.06,53.9 40.65,53.43 40.37,54.87" fill="#e05242" stroke="#e05242" stroke-width="0.25"/>
<polygon points="36.06,53.9 36.34,52.39 40.93,51.92 40.65,53.43" fill="#e25545" stroke="#e25545" stroke-width="0.25"/>
<polygon points="36.34,52.39 36.62,50.92 41.21,50.45 40.93,51.92" fill="#e15444" stroke="#e15444" stroke-width="0.25"/>
<polygon points="36.62,50.92 36.91,49.58 41.5,49.11 41.21,50.45" fill="#e04e3d" stroke="#e04e3d" stroke-width="0.25"/>
<polygon points="36.91,49.58 37.22,48.47 41.81,48 41.5,49.11" fill="#df4431" stroke="#df4431" stroke-width="0.25"/>
<polygon points="37.22,48.47 37.57,47.65 42.16,47.18 41.81,48" fill="#de3d28" stroke="#de3d28" stroke-width="0.25"/>
<polygon points="37.57,47.65 37.95,47.19 42.54,46.72 42.16,47.18" fill="#de3d28" stroke="#de3d28" stroke-width="0.25"/>
<polygon points="37.95,47.19 38.37,47.11 42.96,46.64 42.54,46.72" fill="#de3e29" stroke="#de3e29" stroke-width="0.25"/>
<polygon points="44.61,57.65 44.99,57.23 49.58,56.76 49.19,57.18" fill="#e2462a" stroke="#e2462a" stroke-width="0.25"/>
<polygon points="44.99,57.23 45.34,56.45 49.93,55.98 49.58,56.76" fill="#e2472a" stroke="#e2472a" stroke-width="0.25"/>
<polygon points="45.34,56.45 45.66,55.37 50.25,54.9 49.93,55.98" fill="#e34f32" stroke="#e34f32" stroke-width="0.25"/>
<polygon points="45.66,55.37 45.95,54.06 50.54,53.59 50.25,54.9" fill="#e6593e" stroke="#e6593e" stroke-width="0.25"/>
<polygon points="45.95,54.06 46.23,52.6 50.82,52.13 50.54,53.59" fill="#e76046" stroke="#e76046" stroke-width="0.25"/>
<polygon points="46.23,52.6 46.51,51.09 51.1,50.62 50.82,52.13" fill="#e76348" stroke="#e76348" stroke-width="0.25"/>
<polygon points="46.51,51.09 46.79,49.63 51.38,49.16 51.1,50.62" fill="#e76045" stroke="#e76045" stroke-width="0.25"/>
<polygon points="46.79,49.63 47.08,48.33 51.67,47.86 51.38,49.16" fill="#e65b3e" stroke="#e65b3e" stroke-width="0.25"/>
<polygon points="47.08,48.33 47.4,47.26 51.99,46.79 51.67,47.86" fill="#e55232" stroke="#e55232" stroke-width="0.25"/>
<polygon points="47.4,47.26 47.76,46.51 52.34,46.04 51.99,46.79" fill="#e44c2b" stroke="#e44c2b" stroke-width="0.25"/>
<polygon points="47.76,46.51 48.14,46.11 52.73,45.64 52.34,46.04" fill="#e54d2b" stroke="#e54d2b" stroke-width="0.25"/>
<path d="M150.48,48.23 C150.61,47.76 150.87,46.3 151.27,45.43 C151.66,44.55 152.7,43.86 152.84,42.98 C152.99,42.1 152.44,41.08 152.14,40.15 C151.84,39.23 151.7,38.03 151.05,37.45 C150.4,36.88 149.16,37.01 148.24,36.72 C147.31,36.42 145.96,35.87 145.51,35.7" fill="none" stroke="#407390" stroke-width="1.8" stroke-linecap="round" stroke-linejoin="round"/>
<path d="M150.48,48.23 C150.61,47.76 150.87,46.3 151.27,45.43 C151.66,44.55 152.7,43.86 152.84,42.98 C152.99,42.1 152.44,41.08 152.14,40.15 C151.84,39.23 151.7,38.03 151.05,37.45 C150.4,36.88 149.16,37.01 148.24,36.72 C147.31,36.42 145.96,35.87 145.51,35.7" fill="none" stroke="#5aa0c8" stroke-width="1.1" stroke-linecap="round" stroke-linejoin="round"/>
<path d="M164.49,52.26 C164.53,51.74 165.12,49.92 164.7,49.15 C164.27,48.38 162.81,47.57 161.96,47.66 C161.11,47.75 160.49,49.49 159.59,49.68 C158.7,49.87 157.54,49.23 156.6,48.82 C155.65,48.41 154.53,47.98 153.92,47.22 C153.32,46.46 153.14,44.75 152.98,44.25" fill="none" stroke="#4a8cc8" stroke-width="1.1" stroke-linecap="round" stroke-linejoin="round"/>
<path d="M146.44,49.91 C146.75,50.33 147.57,51.66 148.28,52.41 C148.98,53.15 149.91,53.68 150.66,54.39 C151.4,55.1 152.59,55.81 152.75,56.67 C152.91,57.53 151.8,59.06 151.61,59.54" fill="none" stroke="#7090a1" stroke-width="1.6" stroke-linecap="round" stroke-linejoin="round"/>
<path d="M146.44,49.91 C146.75,50.33 147.57,51.66 148.28,52.41 C148.98,53.15 149.91,53.68 150.66,54.39 C151.4,55.1 152.59,55.81 152.75,56.67 C152.91,57.53 151.8,59.06 151.61,59.54" fill="none" stroke="#9cc8e0" stroke-width="0.9" stroke-linecap="round" stroke-linejoin="round"/>
<path d="M138.66,31.72 C138.3,31.61 137.24,31.2 136.51,31.11 C135.77,31.01 134.78,31.49 134.26,31.15 C133.75,30.81 133.36,29.76 133.39,29.09 C133.43,28.41 134.56,27.71 134.47,27.12 C134.39,26.53 133.14,25.81 132.87,25.55" fill="none" stroke="#9cc8e0" stroke-width="1.1" stroke-linecap="round" stroke-linejoin="round"/>
<path d="M142.71,67.15 C142.16,67.37 140.53,68.28 139.38,68.44 C138.23,68.6 136.97,67.98 135.82,68.13 C134.66,68.27 133.41,68.67 132.45,69.31 C131.48,69.95 130.14,70.98 130.03,71.94 C129.92,72.9 131.1,74.09 131.8,75.05 C132.5,76 133.83,77.22 134.24,77.66" fill="none" stroke="#5aa0c8" stroke-width="0.9" stroke-linecap="round" stroke-linejoin="round"/>
<path d="M165.53,25.27 C165.16,25.18 164,24.62 163.31,24.73 C162.62,24.85 162.09,25.77 161.39,25.96 C160.68,26.16 159.48,25.9 159.1,25.88" fill="none" stroke="#809ea9" stroke-width="1.6" stroke-linecap="round" stroke-linejoin="round"/>
<path d="M165.53,25.27 C165.16,25.18 164,24.62 163.31,24.73 C162.62,24.85 162.09,25.77 161.39,25.96 C160.68,26.16 159.48,25.9 159.1,25.88" fill="none" stroke="#b2dcec" stroke-width="0.9" stroke-linecap="round" stroke-linejoin="round"/>
<path d="M140.19,52.76 C140.62,52.93 141.97,53.36 142.78,53.8 C143.59,54.25 144.82,54.72 145.04,55.43 C145.26,56.14 143.89,57.33 144.09,58.05 C144.3,58.78 145.46,59.56 146.28,59.78 C147.11,60 148.39,59.02 149.04,59.38 C149.69,59.74 150,61.5 150.19,61.92" fill="none" stroke="#809ea9" stroke-width="1.4" stroke-linecap="round" stroke-linejoin="round"/>
<path d="M140.19,52.76 C140.62,52.93 141.97,53.36 142.78,53.8 C143.59,54.25 144.82,54.72 145.04,55.43 C145.26,56.14 143.89,57.33 144.09,58.05 C144.3,58.78 145.46,59.56 146.28,59.78 C147.11,60 148.39,59.02 149.04,59.38 C149.69,59.74 150,61.5 150.19,61.92" fill="none" stroke="#b2dcec" stroke-width="0.7" stroke-linecap="round" stroke-linejoin="round"/>
<path d="M155.26,49.16 C155.26,48.74 155.35,47.47 155.22,46.66 C155.08,45.85 154.98,44.74 154.44,44.28 C153.9,43.82 152.73,43.73 151.97,43.91 C151.22,44.09 150.26,45.1 149.92,45.34" fill="none" stroke="#6690a4" stroke-width="1.6" stroke-linecap="round" stroke-linejoin="round"/>
<path d="M155.26,49.16 C155.26,48.74 155.35,47.47 155.22,46.66 C155.08,45.85 154.98,44.74 154.44,44.28 C153.9,43.82 152.73,43.73 151.97,43.91 C151.22,44.09 150.26,45.1 149.92,45.34" fill="none" stroke="#8ec8e4" stroke-width="0.9" stroke-linecap="round" stroke-linejoin="round"/>
<path d="M156.37,18.84 C155.86,18.79 154.08,19.05 153.31,18.56 C152.55,18.07 152.53,16.46 151.77,15.9 C151.01,15.35 149.67,15.02 148.77,15.23 C147.88,15.44 147.26,17.03 146.38,17.16 C145.51,17.29 144.01,16.2 143.53,16.01" fill="none" stroke="#b8dcec" stroke-width="0.7" stroke-linecap="round" stroke-linejoin="round"/>
<path d="M162.17,31.47 C162.59,31.81 163.95,32.73 164.68,33.51 C165.42,34.29 165.86,35.33 166.57,36.14 C167.28,36.94 168.03,38.12 168.94,38.33 C169.86,38.55 171.53,37.58 172.05,37.42" fill="none" stroke="#7090a1" stroke-width="1.8" stroke-linecap="round" stroke-linejoin="round"/>
<path d="M162.17,31.47 C162.59,31.81 163.95,32.73 164.68,33.51 C165.42,34.29 165.86,35.33 166.57,36.14 C167.28,36.94 168.03,38.12 168.94,38.33 C169.86,38.55 171.53,37.58 172.05,37.42" fill="none" stroke="#9cc8e0" stroke-width="1.1" stroke-linecap="round" stroke-linejoin="round"/>
<path d="M137.24,69.98 C137.1,69.58 136.21,68.23 136.41,67.56 C136.61,66.9 138.12,66.68 138.44,66 C138.75,65.31 138.36,64.29 138.28,63.44 C138.21,62.59 137.92,61.73 138,60.9 C138.07,60.06 138.36,59.21 138.72,58.44 C139.07,57.68 139.9,56.66 140.14,56.31" fill="none" stroke="#9cc8e0" stroke-width="1.1" stroke-linecap="round" stroke-linejoin="round"/>
<path d="M138.37,29.47 C138.72,29.3 139.82,28.89 140.43,28.45 C141.04,28 141.45,27.29 142.02,26.79 C142.6,26.3 143.59,25.69 143.9,25.47" fill="none" stroke="#9cc8e0" stroke-width="0.9" stroke-linecap="round" stroke-linejoin="round"/>
<path d="M140.21,37.56 C140.73,37.5 142.52,36.86 143.31,37.24 C144.11,37.63 144.41,39.01 145,39.87 C145.59,40.73 146.1,41.68 146.85,42.38 C147.6,43.08 148.53,43.73 149.48,44.05 C150.44,44.37 152.08,44.25 152.59,44.29" fill="none" stroke="#5aa0c8" stroke-width="1.1" stroke-linecap="round" stroke-linejoin="round"/>
<path d="M137.07,50.31 C137.24,49.97 137.72,48.92 138.1,48.26 C138.48,47.6 138.79,46.8 139.36,46.34 C139.92,45.88 140.84,45.41 141.5,45.51 C142.15,45.61 142.89,46.33 143.3,46.93 C143.7,47.53 143.93,48.39 143.94,49.13 C143.96,49.87 143.48,50.99 143.39,51.36" fill="none" stroke="#b2dcec" stroke-width="0.9" stroke-linecap="round" stroke-linejoin="round"/>
<path d="M161.38,67.41 C160.87,67.29 159.02,67.28 158.31,66.68 C157.6,66.07 157.41,64.76 157.11,63.75 C156.8,62.75 156.58,61.17 156.48,60.66" fill="none" stroke="#b8dcec" stroke-width="0.7" stroke-linecap="round" stroke-linejoin="round"/>
<path d="M156,38.65 C156.06,39.03 156.11,40.23 156.4,40.92 C156.68,41.62 157.7,42.16 157.73,42.81 C157.76,43.46 156.78,44.49 156.59,44.83" fill="none" stroke="#6690a4" stroke-width="1.8" stroke-linecap="round" stroke-linejoin="round"/>
<path d="M156,38.65 C156.06,39.03 156.11,40.23 156.4,40.92 C156.68,41.62 157.7,42.16 157.73,42.81 C157.76,43.46 156.78,44.49 156.59,44.83" fill="none" stroke="#8ec8e4" stroke-width="1.1" stroke-linecap="round" stroke-linejoin="round"/>
<path d="M158.21,42.72 C157.81,42.45 156.67,41.31 155.78,41.1 C154.89,40.88 153.8,41.57 152.87,41.43 C151.94,41.3 150.62,40.48 150.18,40.29" fill="none" stroke="#407390" stroke-width="1.8" stroke-linecap="round" stroke-linejoin="round"/>
<path d="M158.21,42.72 C157.81,42.45 156.67,41.31 155.78,41.1 C154.89,40.88 153.8,41.57 152.87,41.43 C151.94,41.3 150.62,40.48 150.18,40.29" fill="none" stroke="#5aa0c8" stroke-width="1.1" stroke-linecap="round" stroke-linejoin="round"/>
<path d="M151.91,51.18 C151.37,50.99 149.71,49.92 148.66,50.01 C147.62,50.1 146.65,51.72 145.65,51.71 C144.66,51.69 143.52,50.69 142.69,49.93 C141.87,49.16 141.43,47.99 140.7,47.1 C139.97,46.21 138.71,45.02 138.31,44.61" fill="none" stroke="#5aa0c8" stroke-width="0.9" stroke-linecap="round" stroke-linejoin="round"/>
<path d="M164.54,35.66 C164.09,35.91 162.57,36.48 161.84,37.16 C161.11,37.84 160.24,38.83 160.14,39.74 C160.04,40.65 160.86,41.67 161.23,42.63 C161.6,43.59 162.17,45.03 162.36,45.5" fill="none" stroke="#7ab8dc" stroke-width="0.7" stroke-linecap="round" stroke-linejoin="round"/>
<path d="M162.79,63.83 C163.1,64.3 163.93,65.77 164.64,66.62 C165.35,67.47 166.4,68.06 167.06,68.94 C167.73,69.82 168.09,70.92 168.62,71.91 C169.14,72.89 169.49,74.05 170.22,74.85 C170.95,75.65 172.53,76.41 172.99,76.72" fill="none" stroke="#b2dcec" stroke-width="0.7" stroke-linecap="round" stroke-linejoin="round"/>
<path d="M162.85,71.03 C162.69,70.68 162.37,69.49 161.89,68.94 C161.4,68.38 160.65,67.97 159.95,67.69 C159.25,67.41 158.38,67.54 157.69,67.26 C156.99,66.97 156.36,66.47 155.76,65.99 C155.15,65.52 154.35,64.69 154.06,64.43" fill="none" stroke="#407390" stroke-width="1.4" stroke-linecap="round" stroke-linejoin="round"/>
<path d="M162.85,71.03 C162.69,70.68 162.37,69.49 161.89,68.94 C161.4,68.38 160.65,67.97 159.95,67.69 C159.25,67.41 158.38,67.54 157.69,67.26 C156.99,66.97 156.36,66.47 155.76,65.99 C155.15,65.52 154.35,64.69 154.06,64.43" fill="none" stroke="#5aa0c8" stroke-width="0.7" stroke-linecap="round" stroke-linejoin="round"/>
<path d="M156.51,39.88 C157.03,39.72 158.58,39.07 159.65,38.93 C160.72,38.8 161.83,39.1 162.92,39.08 C164.01,39.05 165.64,38.81 166.18,38.76" fill="none" stroke="#7090a1" stroke-width="1.6" stroke-linecap="round" stroke-linejoin="round"/>
<path d="M156.51,39.88 C157.03,39.72 158.58,39.07 159.65,38.93 C160.72,38.8 161.83,39.1 162.92,39.08 C164.01,39.05 165.64,38.81 166.18,38.76" fill="none" stroke="#9cc8e0" stroke-width="0.9" stroke-linecap="round" stroke-linejoin="round"/>
<path d="M156.16,53.37 C155.86,53.81 155.18,55.39 154.39,55.99 C153.59,56.59 152.4,56.68 151.38,56.96 C150.37,57.24 148.82,57.54 148.3,57.66" fill="none" stroke="#b8dcec" stroke-width="0.7" stroke-linecap="round" stroke-linejoin="round"/>
<path d="M137.16,30.23 C137.11,30.68 137.21,32.15 136.88,32.97 C136.54,33.78 135.31,34.31 135.15,35.1 C134.99,35.9 135.61,36.88 135.91,37.75 C136.22,38.61 136.81,39.86 136.99,40.28" fill="none" stroke="#b8dcec" stroke-width="1.1" stroke-linecap="round" stroke-linejoin="round"/>
<path d="M156.02,67.14 C156.02,67.61 156.34,69.17 156.01,69.99 C155.67,70.8 154.79,71.82 154.01,72.02 C153.22,72.21 152.12,71 151.3,71.14 C150.47,71.29 149.54,72.15 149.06,72.91 C148.58,73.67 148.51,75.22 148.4,75.68" fill="none" stroke="#4a8cc8" stroke-width="1.1" stroke-linecap="round" stroke-linejoin="round"/>
<path d="M148.49,22.74 C148.68,23.13 149.2,24.31 149.64,25.04 C150.08,25.77 150.68,26.4 151.13,27.13 C151.58,27.85 152.22,28.6 152.34,29.39 C152.45,30.19 151.97,31.06 151.8,31.9 C151.64,32.74 151.43,34.01 151.35,34.43" fill="none" stroke="#7ab8dc" stroke-width="1.1" stroke-linecap="round" stroke-linejoin="round"/>
<path d="M136.91,61.69 C137.26,61.26 138.34,60 139,59.12 C139.67,58.24 140.06,56.66 140.9,56.39 C141.74,56.12 143.4,56.76 144.03,57.48 C144.66,58.21 144.48,59.65 144.67,60.74 C144.86,61.83 145.25,62.95 145.16,64.03 C145.07,65.1 144.3,66.66 144.13,67.18" fill="none" stroke="#b2dcec" stroke-width="0.7" stroke-linecap="round" stroke-linejoin="round"/>
<path d="M150.09,65.52 C150.19,65.06 150.48,63.68 150.72,62.77 C150.96,61.87 150.95,60.7 151.52,60.07 C152.09,59.45 153.23,59.29 154.12,59 C155.01,58.72 156.41,58.46 156.86,58.35" fill="none" stroke="#809ea9" stroke-width="1.8" stroke-linecap="round" stroke-linejoin="round"/>
<path d="M150.09,65.52 C150.19,65.06 150.48,63.68 150.72,62.77 C150.96,61.87 150.95,60.7 151.52,60.07 C152.09,59.45 153.23,59.29 154.12,59 C155.01,58.72 156.41,58.46 156.86,58.35" fill="none" stroke="#b2dcec" stroke-width="1.1" stroke-linecap="round" stroke-linejoin="round"/>
<path d="M145.97,38.59 C145.44,38.76 143.84,39.35 142.75,39.65 C141.67,39.95 140.55,40.16 139.45,40.41 C138.35,40.66 137.25,41.05 136.14,41.14 C135.02,41.23 133.54,40.46 132.75,40.95 C131.97,41.44 131.65,43.55 131.43,44.07" fill="none" stroke="#9cc8e0" stroke-width="1.1" stroke-linecap="round" stroke-linejoin="round"/>
<path d="M167.02,45.86 C167.43,45.62 168.67,44.37 169.5,44.38 C170.32,44.38 171.43,45.17 171.95,45.89 C172.48,46.61 172.52,48.23 172.63,48.7" fill="none" stroke="#356490" stroke-width="1.8" stroke-linecap="round" stroke-linejoin="round"/>
<path d="M167.02,45.86 C167.43,45.62 168.67,44.37 169.5,44.38 C170.32,44.38 171.43,45.17 171.95,45.89 C172.48,46.61 172.52,48.23 172.63,48.7" fill="none" stroke="#4a8cc8" stroke-width="1.1" stroke-linecap="round" stroke-linejoin="round"/>
<path d="M148.93,31.3 C149.33,31.5 150.59,32.62 151.31,32.52 C152.04,32.42 152.86,31.44 153.27,30.69 C153.69,29.95 153.41,28.84 153.8,28.07 C154.18,27.3 155.27,26.4 155.57,26.06" fill="none" stroke="#5aa0c8" stroke-width="0.9" stroke-linecap="round" stroke-linejoin="round"/>
<path d="M167.27,19.92 C166.97,20.13 165.73,20.59 165.44,21.17 C165.15,21.75 165.73,22.7 165.56,23.38 C165.39,24.07 164.44,24.63 164.41,25.28 C164.37,25.93 165.19,26.95 165.34,27.29" fill="none" stroke="#6aaed8" stroke-width="0.9" stroke-linecap="round" stroke-linejoin="round"/>
<path d="M152.34,31.53 C152.05,31.77 150.95,32.36 150.63,32.97 C150.31,33.58 150.6,34.48 150.4,35.19 C150.2,35.9 149.87,36.61 149.44,37.21 C149.02,37.8 148.39,38.26 147.84,38.76 C147.28,39.25 146.77,40.02 146.12,40.18 C145.47,40.33 144.3,39.77 143.94,39.69" fill="none" stroke="#9cc8e0" stroke-width="1.1" stroke-linecap="round" stroke-linejoin="round"/>
<path d="M155.57,64.27 C155.63,63.69 155.41,61.79 155.89,60.82 C156.36,59.84 157.97,59.41 158.4,58.44 C158.83,57.46 158.95,55.85 158.47,54.97 C157.99,54.1 156.01,54.06 155.5,53.19 C155,52.31 155.45,50.3 155.44,49.72" fill="none" stroke="#9cc8e0" stroke-width="0.9" stroke-linecap="round" stroke-linejoin="round"/>
<path d="M141.71,28.97 C141.37,28.65 140.29,27.75 139.64,27.08 C138.99,26.42 138.19,25.79 137.79,24.98 C137.4,24.17 137.35,22.69 137.27,22.23" fill="none" stroke="#2a5ab0" stroke-width="0.9" stroke-linecap="round" stroke-linejoin="round"/>
<path d="M143.62,53.26 C143.54,53.72 143.67,55.41 143.16,56.02 C142.64,56.64 140.95,56.79 140.51,56.94" fill="none" stroke="#2a5ab0" stroke-width="0.9" stroke-linecap="round" stroke-linejoin="round"/>
<path d="M165.11,30.19 C165.14,29.73 165.01,28.26 165.28,27.4 C165.55,26.53 166.6,25.85 166.72,25 C166.84,24.15 166.56,22.83 165.98,22.3 C165.4,21.76 163.69,21.86 163.23,21.78" fill="none" stroke="#3a70b8" stroke-width="0.9" stroke-linecap="round" stroke-linejoin="round"/>
<path d="M140.97,26.68 C140.52,26.56 139.1,25.78 138.28,25.93 C137.45,26.09 136.46,26.88 136.04,27.62 C135.62,28.37 135.51,29.57 135.75,30.41 C135.99,31.24 137.19,32.24 137.48,32.61" fill="none" stroke="#3a70b8" stroke-width="0.9" stroke-linecap="round" stroke-linejoin="round"/>
<path d="M161.53,69.56 C161.11,69.77 159.89,70.59 159,70.78 C158.12,70.97 156.89,70.32 156.2,70.72 C155.52,71.12 154.85,72.38 154.88,73.18 C154.9,73.99 156.11,75.17 156.35,75.57" fill="none" stroke="#2a5ab0" stroke-width="0.9" stroke-linecap="round" stroke-linejoin="round"/>
<path d="M148.94,44.19 C149.2,44.58 150.12,45.69 150.48,46.53 C150.84,47.38 150.56,48.73 151.12,49.26 C151.69,49.78 153.43,49.59 153.9,49.66" fill="none" stroke="#1e4a9c" stroke-width="0.9" stroke-linecap="round" stroke-linejoin="round"/>
<path d="M124.81,61.53 C124.72,61.99 124.09,63.46 124.3,64.28 C124.51,65.1 125.49,65.71 126.07,66.44 C126.65,67.17 127.5,68.29 127.78,68.66" fill="none" stroke="#4a8cc8" stroke-width="1" stroke-linecap="round" stroke-linejoin="round"/>
<path d="M120.37,69.29 C119.93,69.46 118.65,70.06 117.76,70.29 C116.86,70.53 115.84,70.38 114.98,70.7 C114.13,71.01 113.47,71.99 112.61,72.18 C111.75,72.37 110.3,71.9 109.83,71.84" fill="none" stroke="#2a5ab0" stroke-width="1" stroke-linecap="round" stroke-linejoin="round"/>
<path d="M126.71,56.86 C126.78,56.4 126.65,54.73 127.16,54.1 C127.66,53.46 128.94,52.97 129.76,53.06 C130.57,53.15 131.47,53.98 132.06,54.66 C132.64,55.35 133.08,56.76 133.29,57.18" fill="none" stroke="#6aaed8" stroke-width="1" stroke-linecap="round" stroke-linejoin="round"/>
<path d="M138.41,67.24 C137.97,67.11 136.64,66.53 135.73,66.46 C134.81,66.39 133.87,66.67 132.95,66.82 C132.03,66.98 130.67,67.31 130.21,67.41" fill="none" stroke="#6aaed8" stroke-width="1" stroke-linecap="round" stroke-linejoin="round"/>
<path d="M120.25,60.69 C119.85,60.92 118.7,61.82 117.83,62.1 C116.97,62.38 115.92,62.09 115.05,62.36 C114.18,62.64 113.48,63.47 112.61,63.75 C111.74,64.03 110.29,63.98 109.83,64.03" fill="none" stroke="#8ec8e4" stroke-width="1" stroke-linecap="round" stroke-linejoin="round"/>
<path d="M133.67,63.53 C133.6,63.07 133.08,61.63 133.24,60.76 C133.4,59.9 133.96,58.65 134.65,58.34 C135.34,58.03 136.93,58.82 137.39,58.91" fill="none" stroke="#2a5ab0" stroke-width="1" stroke-linecap="round" stroke-linejoin="round"/>
<path d="M120.55,64.85 C120.65,65.3 120.59,67.04 121.14,67.58 C121.7,68.13 123.05,68.28 123.89,68.1 C124.74,67.93 125.53,67.15 126.2,66.51 C126.86,65.88 127.6,64.65 127.88,64.27" fill="none" stroke="#6aaed8" stroke-width="1" stroke-linecap="round" stroke-linejoin="round"/>
<path d="M122.36,59.01 C122.83,59 124.55,58.5 125.16,58.93 C125.77,59.36 125.9,60.68 126.02,61.59 C126.15,62.5 125.92,63.93 125.9,64.39" fill="none" stroke="#2a5ab0" stroke-width="1" stroke-linecap="round" stroke-linejoin="round"/>
<path d="M139.43,56.22 C139,56.03 137.77,55.31 136.88,55.06 C135.99,54.81 134.67,55.21 134.1,54.7 C133.54,54.18 133.29,52.77 133.5,51.96 C133.7,51.15 135.01,50.19 135.31,49.83" fill="none" stroke="#8ec8e4" stroke-width="1" stroke-linecap="round" stroke-linejoin="round"/>
<path d="M160,18 C160.5,17.67 162,15.83 163,16 C164,16.17 165.83,18 166,19 C166.17,20 164.33,21.5 164,22" fill="none" stroke="#7ab8dc" stroke-width="1" stroke-linecap="round" stroke-linejoin="round"/>
<path d="M147,13 C146.67,13.67 144.83,15.67 145,17 C145.17,18.33 147.5,20.33 148,21" fill="none" stroke="#9cc8e0" stroke-width="0.9" stroke-linecap="round" stroke-linejoin="round"/>
<path d="M124,18 C127,14.5 133,14 137,16 C140.5,18 141,22 139.5,26 C138.5,29 139.5,33 140,37 C140.5,43 139.5,49 136.5,52 C132,53 129,50 128,46 C127,42 126,37 125,33 C123.5,28 122,22 124,18 Z" fill="#a6d4e6" stroke="#78b4d0" stroke-width="0.6"/>
<circle cx="132.59" cy="36.28" r="1.43" fill="#c4e6f0" opacity="0.8"/>
<circle cx="130.89" cy="33.91" r="1.6" fill="#7ab6d4" opacity="0.8"/>
<circle cx="132.43" cy="32.43" r="1.27" fill="#7ab6d4" opacity="0.8"/>
<circle cx="134.29" cy="41.42" r="1.03" fill="#b8e0ee" opacity="0.8"/>
<circle cx="133.2" cy="37.52" r="1.41" fill="#c4e6f0" opacity="0.8"/>
<circle cx="125.74" cy="26.71" r="1.4" fill="#7ab6d4" opacity="0.8"/>
<circle cx="126.03" cy="46.79" r="1.43" fill="#c4e6f0" opacity="0.8"/>
<circle cx="128.51" cy="41.69" r="1.05" fill="#8cc4dc" opacity="0.8"/>
<circle cx="138.12" cy="40.57" r="1.47" fill="#b8e0ee" opacity="0.8"/>
<circle cx="133.45" cy="19.91" r="1.62" fill="#c4e6f0" opacity="0.8"/>
<circle cx="126.65" cy="45.28" r="1.36" fill="#b8e0ee" opacity="0.8"/>
<circle cx="126.74" cy="31.06" r="1.67" fill="#c4e6f0" opacity="0.8"/>
<circle cx="133.41" cy="37.75" r="1.68" fill="#7ab6d4" opacity="0.8"/>
<circle cx="135.89" cy="34.05" r="2" fill="#7ab6d4" opacity="0.8"/>
<circle cx="135.28" cy="24.11" r="1.11" fill="#7ab6d4" opacity="0.8"/>
<circle cx="135.98" cy="37.25" r="1.36" fill="#7ab6d4" opacity="0.8"/>
<path d="M126,18 C126.5,18.67 128.83,20.5 129,22 C129.17,23.5 126.67,25.33 127,27 C127.33,28.67 130.67,30.17 131,32 C131.33,33.83 128.83,36 129,38 C129.17,40 131.17,42 132,44 C132.83,46 133.67,49 134,50" fill="none" stroke="#6aa8cc" stroke-width="0.8" stroke-linecap="round" stroke-linejoin="round"/>
<path d="M135,17 C135.33,18 137.17,21.17 137,23 C136.83,24.83 134,26.17 134,28 C134,29.83 136.83,32 137,34 C137.17,36 134.83,37.83 135,40 C135.17,42.17 137.5,45.83 138,47" fill="none" stroke="#7cb8d8" stroke-width="0.8" stroke-linecap="round" stroke-linejoin="round"/>
<path d="M128.5,4 C128.67,4.83 129.25,7.17 129.5,9 C129.75,10.83 129.92,14 130,15" fill="none" stroke="#2a5ab0" stroke-width="1.3" stroke-linecap="round" stroke-linejoin="round"/>
<path d="M132,10 C131.83,10.67 130.83,12.83 131,14 C131.17,15.17 132.67,16.5 133,17" fill="none" stroke="#4a8cc8" stroke-width="1" stroke-linecap="round" stroke-linejoin="round"/>
<path d="M141,38 C146,36 153,39 155,44 C156,49 152,53 147,53 C143,52 140,46 141,38 Z" fill="#e4ecc0" opacity="0.85"/>
<path d="M135,38 C139,36 144,39 145,44 C146,49 143,53 139,53 C135,52 134,45 135,38 Z" fill="#f2a860"/>
<circle cx="141.1" cy="48.15" r="1.39" fill="#f4c070" opacity="0.9"/>
<circle cx="141.33" cy="48.55" r="1.03" fill="#f4c070" opacity="0.9"/>
<circle cx="140.02" cy="47.14" r="1.04" fill="#e8602e" opacity="0.9"/>
<circle cx="141.28" cy="38.13" r="1.08" fill="#e8602e" opacity="0.9"/>
<circle cx="141.23" cy="39.43" r="1.28" fill="#e8602e" opacity="0.9"/>
<circle cx="142.56" cy="50.78" r="1.01" fill="#f4c070" opacity="0.9"/>
<path d="M140,31 C140.33,31.83 142,34.17 142,36 C142,37.83 139.83,40.17 140,42 C140.17,43.83 142.83,45.33 143,47 C143.17,48.67 140.83,50.33 141,52 C141.17,53.67 143.5,56.17 144,57" fill="none" stroke="#e0402c" stroke-width="0.9" stroke-linecap="round" stroke-linejoin="round"/>
<path d="M147,33 C147.33,34 149,37 149,39 C149,41 146.83,43 147,45 C147.17,47 149.83,48.83 150,51 C150.17,53.17 148.33,56.83 148,58" fill="none" stroke="#d83028" stroke-width="0.9" stroke-linecap="round" stroke-linejoin="round"/>
<path d="M151,42 C151.33,42.83 153,45.33 153,47 C153,48.67 151.33,51.17 151,52" fill="none" stroke="#f08a40" stroke-width="0.9" stroke-linecap="round" stroke-linejoin="round"/>
<path d="M103.5,36 C104.5,31 108,27 113,24.5 C118,22.5 124,22.5 128,25 C131,28 131.5,33 131,37 C130.5,39.5 130,40.5 129,41 C122,41 114,40.6 108,40.2 C105,40 103.6,38.5 103.5,36 Z" fill="#efe2a6"/>
<path d="M121,23 C125,23 128.5,25 130,28.5 C131.5,32 131.2,37 129.5,41 C126,41 123,40.8 121,40.6 Z" fill="#cce2b6"/>
<path d="M106,31 q1.0,7 0.4,9" fill="none" stroke="#dcc886" stroke-width="0.7"/>
<path d="M109.2,29.6 q1.0,7 0.4,10.4" fill="none" stroke="#dcc886" stroke-width="0.7"/>
<path d="M112.4,28.2 q1.0,7 0.4,11.8" fill="none" stroke="#dcc886" stroke-width="0.7"/>
<path d="M115.6,26.8 q1.0,7 0.4,13.2" fill="none" stroke="#dcc886" stroke-width="0.7"/>
<path d="M118.8,25.4 q1.0,7 0.4,14.6" fill="none" stroke="#dcc886" stroke-width="0.7"/>
<path d="M122,24 q1.0,7 0.4,16" fill="none" stroke="#dcc886" stroke-width="0.7"/>
<path d="M125.2,23.2 q1.0,7 0.4,16" fill="none" stroke="#dcc886" stroke-width="0.7"/>
<path d="M128.4,23.2 q1.0,7 0.4,16" fill="none" stroke="#dcc886" stroke-width="0.7"/>
<path d="M97,32 C99,28.5 103,28 106,30 C108,32.5 108,37 106,39.5 C103,41 99,40.5 97.5,38.5 C96.4,36.5 96.4,34 97,32 Z" fill="#1c3c94"/>
<path d="M98,30 C98.17,29.42 98.5,26.75 99,26.5 C99.5,26.25 100.67,28.17 101,28.5" fill="none" stroke="#1c3c94" stroke-width="1" stroke-linecap="round" stroke-linejoin="round"/>
<path d="M102,29 C102.17,28.42 102.5,25.83 103,25.5 C103.5,25.17 104.67,26.75 105,27" fill="none" stroke="#22449c" stroke-width="0.9" stroke-linecap="round" stroke-linejoin="round"/>
<path d="M97.5,40 C104,39.6 112,40.6 120,42 C128,43.4 134,45 138,47.4 C140,50.5 140,55 138.5,58.6 C133,58.8 126,57.2 118,55 C111,53.4 104.5,52 100.6,51 C97.2,49.5 96.4,44.5 97.5,40 Z" fill="#2d74c4"/>
<circle cx="99" cy="46.29" r="1.77" fill="#3a80cc" opacity="0.75"/>
<circle cx="100.81" cy="44.96" r="1.74" fill="#3a80cc" opacity="0.75"/>
<circle cx="102.62" cy="47.64" r="2.24" fill="#3c88d2" opacity="0.75"/>
<circle cx="104.43" cy="48.31" r="1.85" fill="#4c98dc" opacity="0.75"/>
<circle cx="106.24" cy="46.5" r="2.15" fill="#3a80cc" opacity="0.75"/>
<circle cx="108.05" cy="49.03" r="1.77" fill="#2466b6" opacity="0.75"/>
<circle cx="109.86" cy="46.25" r="2.16" fill="#4c98dc" opacity="0.75"/>
<circle cx="111.67" cy="47.4" r="1.77" fill="#3c88d2" opacity="0.75"/>
<circle cx="113.48" cy="47.94" r="1.72" fill="#3c88d2" opacity="0.75"/>
<circle cx="115.29" cy="48.09" r="1.97" fill="#3a80cc" opacity="0.75"/>
<circle cx="117.1" cy="47.63" r="2.18" fill="#3c88d2" opacity="0.75"/>
<circle cx="118.9" cy="48.03" r="2.31" fill="#3c88d2" opacity="0.75"/>
<circle cx="120.71" cy="50.67" r="1.89" fill="#2466b6" opacity="0.75"/>
<circle cx="122.52" cy="48.53" r="1.54" fill="#2466b6" opacity="0.75"/>
<circle cx="124.33" cy="51.11" r="1.73" fill="#3c88d2" opacity="0.75"/>
<circle cx="126.14" cy="49.43" r="1.84" fill="#2466b6" opacity="0.75"/>
<circle cx="127.95" cy="50.46" r="2.2" fill="#2466b6" opacity="0.75"/>
<circle cx="129.76" cy="50.92" r="1.62" fill="#4c98dc" opacity="0.75"/>
<circle cx="131.57" cy="49.01" r="2.23" fill="#3c88d2" opacity="0.75"/>
<circle cx="133.38" cy="51.01" r="1.8" fill="#3a80cc" opacity="0.75"/>
<circle cx="135.19" cy="53.94" r="2.14" fill="#2466b6" opacity="0.75"/>
<circle cx="137" cy="54.28" r="1.94" fill="#4c98dc" opacity="0.75"/>
<path d="M128,45 C133,46 137,47.5 139,49.5 C139.6,53 139,56 138,58.5 C134,58.4 131,57.6 128,57 Z" fill="#5aa6d8" opacity="0.8"/>
<path d="M93,58.3 C96,56 100,54.8 104,54.4 C109,53.6 114,53.3 118,54 C120.5,54.6 121.4,56.2 120.8,57.6 C118.5,59.4 114,60.4 108,61.8 C103,63 99,64.4 95.4,64.5 C93.2,63.6 92.2,60.6 93,58.3 Z" fill="#cc1a1c"/>
<path d="M94.5,56.5 q1.3,3.5 0.6,7" fill="none" stroke="#9c0a10" stroke-width="0.7"/>
<path d="M98.3,56.2 q1.3,3.5 0.6,6.7" fill="none" stroke="#9c0a10" stroke-width="0.7"/>
<path d="M102.1,55.9 q1.3,3.5 0.6,6.4" fill="none" stroke="#9c0a10" stroke-width="0.7"/>
<path d="M105.9,55.6 q1.3,3.5 0.6,6.1" fill="none" stroke="#9c0a10" stroke-width="0.7"/>
<path d="M109.7,55.3 q1.3,3.5 0.6,5.8" fill="none" stroke="#9c0a10" stroke-width="0.7"/>
<path d="M113.5,55 q1.3,3.5 0.6,5.5" fill="none" stroke="#9c0a10" stroke-width="0.7"/>
<path d="M117.3,54.7 q1.3,3.5 0.6,5.2" fill="none" stroke="#9c0a10" stroke-width="0.7"/>
<path d="M93,63 C93.1,63.67 93.27,66 93.6,67 C93.93,68 94.77,68.67 95,69" fill="none" stroke="#c01818" stroke-width="0.9" stroke-linecap="round" stroke-linejoin="round"/>
<path d="M96,64 C96.17,64.67 96.83,67.33 97,68" fill="none" stroke="#b81414" stroke-width="0.8" stroke-linecap="round" stroke-linejoin="round"/>
<path d="M180,68 C180.5,67.33 182,65.33 183,64 C184,62.67 184.67,61.5 186,60 C187.33,58.5 190.17,55.83 191,55" fill="none" stroke="#215990" stroke-width="2.1" stroke-linecap="round" stroke-linejoin="round"/>
<path d="M180,68 C180.5,67.33 182,65.33 183,64 C184,62.67 184.67,61.5 186,60 C187.33,58.5 190.17,55.83 191,55" fill="none" stroke="#2f7cc8" stroke-width="1.4" stroke-linecap="round" stroke-linejoin="round"/>
<path d="M205,28 C204.67,29 203.17,32 203,34 C202.83,36 203.33,38.33 204,40 C204.67,41.67 206.5,43.33 207,44" fill="none" stroke="#ac986e" stroke-width="2.2" stroke-linecap="round" stroke-linejoin="round"/>
<path d="M205,28 C204.67,29 203.17,32 203,34 C202.83,36 203.33,38.33 204,40 C204.67,41.67 206.5,43.33 207,44" fill="none" stroke="#f0d49a" stroke-width="1.5" stroke-linecap="round" stroke-linejoin="round"/>
<path d="M231,30 C231.83,29.33 235,27.67 236,26 C237,24.33 236.33,21.83 237,20 C237.67,18.17 238.83,16.33 240,15 C241.17,13.67 243,13.17 244,12 C245,10.83 246,9 246,8 C246,7 243.83,6.67 244,6 C244.17,5.33 245.83,4 247,4 C248.17,4 250.17,5 251,6 C251.83,7 252.33,8.83 252,10 C251.67,11.17 250,11.83 249,13 C248,14.17 247,15.17 246,17 C245,18.83 243,21.67 243,24 C243,26.33 244.5,29.17 246,31 C247.5,32.83 251,34.33 252,35" fill="none" stroke="#6690a4" stroke-width="2.2" stroke-linecap="round" stroke-linejoin="round"/>
<path d="M231,30 C231.83,29.33 235,27.67 236,26 C237,24.33 236.33,21.83 237,20 C237.67,18.17 238.83,16.33 240,15 C241.17,13.67 243,13.17 244,12 C245,10.83 246,9 246,8 C246,7 243.83,6.67 244,6 C244.17,5.33 245.83,4 247,4 C248.17,4 250.17,5 251,6 C251.83,7 252.33,8.83 252,10 C251.67,11.17 250,11.83 249,13 C248,14.17 247,15.17 246,17 C245,18.83 243,21.67 243,24 C243,26.33 244.5,29.17 246,31 C247.5,32.83 251,34.33 252,35" fill="none" stroke="#8ec8e4" stroke-width="1.5" stroke-linecap="round" stroke-linejoin="round"/>
<path d="M246,38 C247,38.83 250.17,41.33 252,43 C253.83,44.67 255.67,46 257,48 C258.33,50 260.17,53.17 260,55 C259.83,56.83 257.5,58.83 256,59 C254.5,59.17 252.17,57.17 251,56 C249.83,54.83 249.33,52.67 249,52" fill="none" stroke="#6690a4" stroke-width="2.2" stroke-linecap="round" stroke-linejoin="round"/>
<path d="M246,38 C247,38.83 250.17,41.33 252,43 C253.83,44.67 255.67,46 257,48 C258.33,50 260.17,53.17 260,55 C259.83,56.83 257.5,58.83 256,59 C254.5,59.17 252.17,57.17 251,56 C249.83,54.83 249.33,52.67 249,52" fill="none" stroke="#8ec8e4" stroke-width="1.5" stroke-linecap="round" stroke-linejoin="round"/>
<path d="M244,37 C244.83,37.33 247.5,37.83 249,39 C250.5,40.17 252.67,42.5 253,44 C253.33,45.5 251.33,47.33 251,48" fill="none" stroke="#ab572b" stroke-width="2.4" stroke-linecap="round" stroke-linejoin="round"/>
<path d="M244,37 C244.83,37.33 247.5,37.83 249,39 C250.5,40.17 252.67,42.5 253,44 C253.33,45.5 251.33,47.33 251,48" fill="none" stroke="#ee7a3c" stroke-width="1.7" stroke-linecap="round" stroke-linejoin="round"/>
<polygon points="207.2,23.36 207.5,23.55 209.85,23.74 209.55,23.54" fill="#bcb481" stroke="#bcb481" stroke-width="0.25"/>
<polygon points="207.5,23.55 207.76,24.07 210.11,24.25 209.85,23.74" fill="#bcb481" stroke="#bcb481" stroke-width="0.25"/>
<polygon points="207.76,24.07 208.01,24.87 210.36,25.05 210.11,24.25" fill="#bbb381" stroke="#bbb381" stroke-width="0.25"/>
<polygon points="208.01,24.87 208.24,25.9 210.59,26.08 210.36,25.05" fill="#bab381" stroke="#bab381" stroke-width="0.25"/>
<polygon points="208.24,25.9 208.46,27.09 210.8,27.27 210.59,26.08" fill="#b9b381" stroke="#b9b381" stroke-width="0.25"/>
<polygon points="208.46,27.09 208.67,28.36 211.01,28.54 210.8,27.27" fill="#b8b381" stroke="#b8b381" stroke-width="0.25"/>
<polygon points="208.67,28.36 208.88,29.63 211.22,29.81 211.01,28.54" fill="#b8b381" stroke="#b8b381" stroke-width="0.25"/>
<polygon points="208.88,29.63 209.09,30.8 211.44,30.98 211.22,29.81" fill="#b7b381" stroke="#b7b381" stroke-width="0.25"/>
<polygon points="209.09,30.8 209.32,31.81 211.67,31.99 211.44,30.98" fill="#b6b281" stroke="#b6b281" stroke-width="0.25"/>
<polygon points="209.32,31.81 209.57,32.57 211.92,32.76 211.67,31.99" fill="#b5b281" stroke="#b5b281" stroke-width="0.25"/>
<polygon points="209.57,32.57 209.84,33.05 212.19,33.23 211.92,32.76" fill="#b4b281" stroke="#b4b281" stroke-width="0.25"/>
<polygon points="209.84,33.05 210.14,33.21 212.49,33.39 212.19,33.23" fill="#b4b281" stroke="#b4b281" stroke-width="0.25"/>
<polygon points="214.55,23.92 214.84,24.17 217.19,24.35 216.9,24.11" fill="#a9b080" stroke="#a9b080" stroke-width="0.25"/>
<polygon points="214.84,24.17 215.1,24.72 217.45,24.9 217.19,24.35" fill="#a8b080" stroke="#a8b080" stroke-width="0.25"/>
<polygon points="215.1,24.72 215.35,25.55 217.69,25.74 217.45,24.9" fill="#a8b080" stroke="#a8b080" stroke-width="0.25"/>
<polygon points="215.35,25.55 215.57,26.61 217.92,26.79 217.69,25.74" fill="#a7b080" stroke="#a7b080" stroke-width="0.25"/>
<polygon points="215.57,26.61 215.79,27.82 218.14,28 217.92,26.79" fill="#a6b080" stroke="#a6b080" stroke-width="0.25"/>
<polygon points="215.79,27.82 216,29.09 218.35,29.27 218.14,28" fill="#a5af80" stroke="#a5af80" stroke-width="0.25"/>
<polygon points="216,29.09 216.21,30.35 218.56,30.53 218.35,29.27" fill="#a4af80" stroke="#a4af80" stroke-width="0.25"/>
<polygon points="216.21,30.35 216.43,31.51 218.78,31.69 218.56,30.53" fill="#a4af80" stroke="#a4af80" stroke-width="0.25"/>
<polygon points="216.43,31.51 216.66,32.48 219.01,32.66 218.78,31.69" fill="#a3af80" stroke="#a3af80" stroke-width="0.25"/>
<polygon points="216.66,32.48 216.91,33.22 219.26,33.4 219.01,32.66" fill="#a2af80" stroke="#a2af80" stroke-width="0.25"/>
<polygon points="216.91,33.22 217.19,33.65 219.53,33.83 219.26,33.4" fill="#a1ae80" stroke="#a1ae80" stroke-width="0.25"/>
<polygon points="217.19,33.65 217.49,33.77 219.83,33.95 219.53,33.83" fill="#a0ae80" stroke="#a0ae80" stroke-width="0.25"/>
<polygon points="221.89,24.5 222.18,24.78 224.53,24.96 224.24,24.68" fill="#96ac80" stroke="#96ac80" stroke-width="0.25"/>
<polygon points="222.18,24.78 222.44,25.38 224.79,25.56 224.53,24.96" fill="#95ac80" stroke="#95ac80" stroke-width="0.25"/>
<polygon points="222.44,25.38 222.68,26.24 225.03,26.42 224.79,25.56" fill="#94ac80" stroke="#94ac80" stroke-width="0.25"/>
<polygon points="222.68,26.24 222.91,27.32 225.25,27.5 225.03,26.42" fill="#94ac80" stroke="#94ac80" stroke-width="0.25"/>
<polygon points="222.91,27.32 223.12,28.54 225.47,28.72 225.25,27.5" fill="#93ac80" stroke="#93ac80" stroke-width="0.25"/>
<polygon points="223.12,28.54 223.33,29.82 225.68,30 225.47,28.72" fill="#92ac80" stroke="#92ac80" stroke-width="0.25"/>
<polygon points="223.33,29.82 223.54,31.07 225.89,31.25 225.68,30" fill="#91ac80" stroke="#91ac80" stroke-width="0.25"/>
<polygon points="223.54,31.07 223.76,32.21 226.11,32.39 225.89,31.25" fill="#90ab80" stroke="#90ab80" stroke-width="0.25"/>
<polygon points="223.76,32.21 224,33.15 226.34,33.34 226.11,32.39" fill="#90ab80" stroke="#90ab80" stroke-width="0.25"/>
<polygon points="224,33.15 224.25,33.85 226.6,34.03 226.34,33.34" fill="#8fab80" stroke="#8fab80" stroke-width="0.25"/>
<polygon points="224.25,33.85 224.53,34.25 226.88,34.43 226.6,34.03" fill="#8eab80" stroke="#8eab80" stroke-width="0.25"/>
<polygon points="224.53,34.25 224.83,34.32 227.18,34.5 226.88,34.43" fill="#8dab80" stroke="#8dab80" stroke-width="0.25"/>
<polygon points="205,28 205.4,26.78 208.76,27.04 208.35,28.26" fill="#f4e6ae" stroke="#f4e6ae" stroke-width="0.25"/>
<polygon points="205.4,26.78 205.8,25.64 209.15,25.9 208.76,27.04" fill="#f3e5ac" stroke="#f3e5ac" stroke-width="0.25"/>
<polygon points="205.8,25.64 206.18,24.67 209.53,24.93 209.15,25.9" fill="#f1e4a8" stroke="#f1e4a8" stroke-width="0.25"/>
<polygon points="206.18,24.67 206.54,23.94 209.9,24.19 209.53,24.93" fill="#efe1a2" stroke="#efe1a2" stroke-width="0.25"/>
<polygon points="206.54,23.94 206.89,23.49 210.24,23.74 209.9,24.19" fill="#eee1a2" stroke="#eee1a2" stroke-width="0.25"/>
<polygon points="206.89,23.49 207.2,23.36 210.56,23.61 210.24,23.74" fill="#ede1a2" stroke="#ede1a2" stroke-width="0.25"/>
<polygon points="210.14,33.21 210.46,33.04 213.82,33.29 213.5,33.47" fill="#e0dfa2" stroke="#e0dfa2" stroke-width="0.25"/>
<polygon points="210.46,33.04 210.81,32.55 214.16,32.8 213.82,33.29" fill="#dfdea1" stroke="#dfdea1" stroke-width="0.25"/>
<polygon points="210.81,32.55 211.17,31.78 214.53,32.03 214.16,32.8" fill="#dedea2" stroke="#dedea2" stroke-width="0.25"/>
<polygon points="211.17,31.78 211.56,30.78 214.91,31.04 214.53,32.03" fill="#dfe0a8" stroke="#dfe0a8" stroke-width="0.25"/>
<polygon points="211.56,30.78 211.95,29.63 215.31,29.89 214.91,31.04" fill="#e0e2ac" stroke="#e0e2ac" stroke-width="0.25"/>
<polygon points="211.95,29.63 212.36,28.4 215.71,28.66 215.31,29.89" fill="#e0e2ae" stroke="#e0e2ae" stroke-width="0.25"/>
<polygon points="212.36,28.4 212.76,27.19 216.11,27.45 215.71,28.66" fill="#dfe1ad" stroke="#dfe1ad" stroke-width="0.25"/>
<polygon points="212.76,27.19 213.15,26.07 216.51,26.33 216.11,27.45" fill="#dde1ab" stroke="#dde1ab" stroke-width="0.25"/>
<polygon points="213.15,26.07 213.53,25.12 216.89,25.38 216.51,26.33" fill="#dadfa6" stroke="#dadfa6" stroke-width="0.25"/>
<polygon points="213.53,25.12 213.89,24.42 217.25,24.68 216.89,25.38" fill="#d7dda1" stroke="#d7dda1" stroke-width="0.25"/>
<polygon points="213.89,24.42 214.23,24.01 217.59,24.27 217.25,24.68" fill="#d6dda1" stroke="#d6dda1" stroke-width="0.25"/>
<polygon points="214.23,24.01 214.55,23.92 217.9,24.18 217.59,24.27" fill="#d5dda1" stroke="#d5dda1" stroke-width="0.25"/>
<polygon points="217.49,33.77 217.81,33.55 221.16,33.81 220.84,34.02" fill="#c8daa1" stroke="#c8daa1" stroke-width="0.25"/>
<polygon points="217.81,33.55 218.16,33.02 221.51,33.28 221.16,33.81" fill="#c7daa1" stroke="#c7daa1" stroke-width="0.25"/>
<polygon points="218.16,33.02 218.53,32.22 221.88,32.48 221.51,33.28" fill="#c7dba3" stroke="#c7dba3" stroke-width="0.25"/>
<polygon points="218.53,32.22 218.91,31.2 222.27,31.46 221.88,32.48" fill="#cadca8" stroke="#cadca8" stroke-width="0.25"/>
<polygon points="218.91,31.2 219.31,30.04 222.67,30.29 222.27,31.46" fill="#cbdeac" stroke="#cbdeac" stroke-width="0.25"/>
<polygon points="219.31,30.04 219.71,28.81 223.07,29.06 222.67,30.29" fill="#cbdeae" stroke="#cbdeae" stroke-width="0.25"/>
<polygon points="219.71,28.81 220.11,27.6 223.47,27.86 223.07,29.06" fill="#cadead" stroke="#cadead" stroke-width="0.25"/>
<polygon points="220.11,27.6 220.51,26.5 223.86,26.76 223.47,27.86" fill="#c7ddaa" stroke="#c7ddaa" stroke-width="0.25"/>
<polygon points="220.51,26.5 220.89,25.58 224.24,25.84 223.86,26.76" fill="#c3dba6" stroke="#c3dba6" stroke-width="0.25"/>
<polygon points="220.89,25.58 221.24,24.91 224.6,25.17 224.24,25.84" fill="#bfd8a1" stroke="#bfd8a1" stroke-width="0.25"/>
<polygon points="221.24,24.91 221.58,24.54 224.94,24.8 224.6,25.17" fill="#bed8a1" stroke="#bed8a1" stroke-width="0.25"/>
<polygon points="221.58,24.54 221.89,24.5 225.25,24.76 224.94,24.8" fill="#bdd8a1" stroke="#bdd8a1" stroke-width="0.25"/>
<polygon points="224.83,34.32 225.16,34.06 228.51,34.32 228.19,34.58" fill="#b0d6a0" stroke="#b0d6a0" stroke-width="0.25"/>
<polygon points="225.16,34.06 225.51,33.5 228.86,33.75 228.51,34.32" fill="#afd5a0" stroke="#afd5a0" stroke-width="0.25"/>
<polygon points="225.51,33.5 225.88,32.66 229.24,32.92 228.86,33.75" fill="#b0d6a3" stroke="#b0d6a3" stroke-width="0.25"/>
<polygon points="225.88,32.66 226.27,31.62 229.62,31.88 229.24,32.92" fill="#b4d9a8" stroke="#b4d9a8" stroke-width="0.25"/>
<polygon points="226.27,31.62 226.67,30.44 230.02,30.7 229.62,31.88" fill="#b6daac" stroke="#b6daac" stroke-width="0.25"/>
<polygon points="226.67,30.44 227.07,29.21 230.43,29.47 230.02,30.7" fill="#b6dbad" stroke="#b6dbad" stroke-width="0.25"/>
<polygon points="227.07,29.21 227.47,28.01 230.83,28.27 230.43,29.47" fill="#b5d9ac" stroke="#b5d9ac" stroke-width="0.25"/>
<polygon points="227.47,28.01 227.86,26.93 231.22,27.19 230.83,28.27" fill="#b1d8a9" stroke="#b1d8a9" stroke-width="0.25"/>
<polygon points="209.11,37.5 209.49,37.61 212.08,37.12 211.7,37.01" fill="#c5a36f" stroke="#c5a36f" stroke-width="0.25"/>
<polygon points="209.49,37.61 209.94,38.05 212.53,37.56 212.08,37.12" fill="#c5a36e" stroke="#c5a36e" stroke-width="0.25"/>
<polygon points="209.94,38.05 210.44,38.8 213.03,38.31 212.53,37.56" fill="#c5a26d" stroke="#c5a26d" stroke-width="0.25"/>
<polygon points="210.44,38.8 210.99,39.79 213.58,39.3 213.03,38.31" fill="#c5a16c" stroke="#c5a16c" stroke-width="0.25"/>
<polygon points="210.99,39.79 211.57,40.96 214.16,40.47 213.58,39.3" fill="#c5a16c" stroke="#c5a16c" stroke-width="0.25"/>
<polygon points="211.57,40.96 212.16,42.21 214.75,41.72 214.16,40.47" fill="#c5a06c" stroke="#c5a06c" stroke-width="0.25"/>
<polygon points="212.16,42.21 212.76,43.47 215.35,42.98 214.75,41.72" fill="#c5a06b" stroke="#c5a06b" stroke-width="0.25"/>
<polygon points="212.76,43.47 213.34,44.64 215.93,44.15 215.35,42.98" fill="#c5a06a" stroke="#c5a06a" stroke-width="0.25"/>
<polygon points="213.34,44.64 213.89,45.63 216.48,45.14 215.93,44.15" fill="#c59f69" stroke="#c59f69" stroke-width="0.25"/>
<polygon points="213.89,45.63 214.39,46.37 216.98,45.88 216.48,45.14" fill="#c49f69" stroke="#c49f69" stroke-width="0.25"/>
<polygon points="214.39,46.37 214.83,46.82 217.42,46.33 216.98,45.88" fill="#c49e68" stroke="#c49e68" stroke-width="0.25"/>
<polygon points="214.83,46.82 215.21,46.93 217.8,46.44 217.42,46.33" fill="#c49d68" stroke="#c49d68" stroke-width="0.25"/>
<polygon points="217.44,35.92 217.82,36.03 220.41,35.54 220.03,35.43" fill="#c4975f" stroke="#c4975f" stroke-width="0.25"/>
<polygon points="217.82,36.03 218.26,36.48 220.85,35.99 220.41,35.54" fill="#c4975e" stroke="#c4975e" stroke-width="0.25"/>
<polygon points="218.26,36.48 218.76,37.22 221.35,36.73 220.85,35.99" fill="#c4965d" stroke="#c4965d" stroke-width="0.25"/>
<polygon points="218.76,37.22 219.31,38.21 221.9,37.72 221.35,36.73" fill="#c4955c" stroke="#c4955c" stroke-width="0.25"/>
<polygon points="219.31,38.21 219.89,39.38 222.48,38.89 221.9,37.72" fill="#c3955c" stroke="#c3955c" stroke-width="0.25"/>
<polygon points="219.89,39.38 220.49,40.64 223.08,40.15 222.48,38.89" fill="#c3945c" stroke="#c3945c" stroke-width="0.25"/>
<polygon points="220.49,40.64 221.08,41.89 223.67,41.4 223.08,40.15" fill="#c3945b" stroke="#c3945b" stroke-width="0.25"/>
<polygon points="221.08,41.89 221.66,43.06 224.25,42.57 223.67,41.4" fill="#c3945a" stroke="#c3945a" stroke-width="0.25"/>
<polygon points="221.66,43.06 222.21,44.05 224.8,43.56 224.25,42.57" fill="#c39359" stroke="#c39359" stroke-width="0.25"/>
<polygon points="222.21,44.05 222.71,44.8 225.3,44.31 224.8,43.56" fill="#c39359" stroke="#c39359" stroke-width="0.25"/>
<polygon points="222.71,44.8 223.16,45.24 225.75,44.75 225.3,44.31" fill="#c39258" stroke="#c39258" stroke-width="0.25"/>
<polygon points="223.16,45.24 223.54,45.35 226.13,44.86 225.75,44.75" fill="#c39158" stroke="#c39158" stroke-width="0.25"/>
<polygon points="225.76,34.35 226.14,34.46 228.73,33.97 228.35,33.86" fill="#c18b4f" stroke="#c18b4f" stroke-width="0.25"/>
<polygon points="226.14,34.46 226.59,34.9 229.18,34.41 228.73,33.97" fill="#c18b4e" stroke="#c18b4e" stroke-width="0.25"/>
<polygon points="226.59,34.9 227.09,35.65 229.68,35.16 229.18,34.41" fill="#c18a4d" stroke="#c18a4d" stroke-width="0.25"/>
<polygon points="227.09,35.65 227.64,36.64 230.23,36.15 229.68,35.16" fill="#c1894c" stroke="#c1894c" stroke-width="0.25"/>
<polygon points="227.64,36.64 228.22,37.81 230.81,37.32 230.23,36.15" fill="#c1894c" stroke="#c1894c" stroke-width="0.25"/>
<polygon points="228.22,37.81 228.81,39.06 231.4,38.57 230.81,37.32" fill="#c1884c" stroke="#c1884c" stroke-width="0.25"/>
<polygon points="228.81,39.06 229.41,40.32 232,39.83 231.4,38.57" fill="#c1884b" stroke="#c1884b" stroke-width="0.25"/>
<polygon points="229.41,40.32 229.99,41.49 232.58,41 232,39.83" fill="#c1884a" stroke="#c1884a" stroke-width="0.25"/>
<polygon points="229.99,41.49 230.54,42.48 233.13,41.99 232.58,41" fill="#c18749" stroke="#c18749" stroke-width="0.25"/>
<polygon points="230.54,42.48 231.04,43.22 233.63,42.73 233.13,41.99" fill="#c08749" stroke="#c08749" stroke-width="0.25"/>
<polygon points="231.04,43.22 231.48,43.67 234.07,43.18 233.63,42.73" fill="#c08648" stroke="#c08648" stroke-width="0.25"/>
<polygon points="231.48,43.67 231.86,43.78 234.45,43.29 234.07,43.18" fill="#c08548" stroke="#c08548" stroke-width="0.25"/>
<polygon points="234.09,32.77 234.47,32.88 237.06,32.39 236.68,32.28" fill="#c07f3f" stroke="#c07f3f" stroke-width="0.25"/>
<polygon points="234.47,32.88 234.91,33.33 237.5,32.84 237.06,32.39" fill="#c07f3e" stroke="#c07f3e" stroke-width="0.25"/>
<polygon points="234.91,33.33 235.41,34.07 238,33.58 237.5,32.84" fill="#c07e3d" stroke="#c07e3d" stroke-width="0.25"/>
<polygon points="235.41,34.07 235.96,35.06 238.55,34.57 238,33.58" fill="#c07d3c" stroke="#c07d3c" stroke-width="0.25"/>
<polygon points="235.96,35.06 236.54,36.23 239.13,35.74 238.55,34.57" fill="#bf7d3c" stroke="#bf7d3c" stroke-width="0.25"/>
<polygon points="236.54,36.23 237.14,37.49 239.73,37 239.13,35.74" fill="#bf7c3c" stroke="#bf7c3c" stroke-width="0.25"/>
<polygon points="237.14,37.49 237.73,38.74 240.32,38.25 239.73,37" fill="#bf7c3b" stroke="#bf7c3b" stroke-width="0.25"/>
<polygon points="237.73,38.74 238.31,39.91 240.9,39.42 240.32,38.25" fill="#bf7c3a" stroke="#bf7c3a" stroke-width="0.25"/>
<polygon points="238.31,39.91 238.86,40.9 241.45,40.41 240.9,39.42" fill="#bf7b39" stroke="#bf7b39" stroke-width="0.25"/>
<polygon points="238.86,40.9 239.36,41.65 241.95,41.16 241.45,40.41" fill="#bf7b39" stroke="#bf7b39" stroke-width="0.25"/>
<polygon points="239.36,41.65 239.81,42.09 242.4,41.6 241.95,41.16" fill="#bf7a38" stroke="#bf7a38" stroke-width="0.25"/>
<polygon points="239.81,42.09 240.19,42.2 242.78,41.71 242.4,41.6" fill="#bf7938" stroke="#bf7938" stroke-width="0.25"/>
<polygon points="208,43 208.1,41.61 211.8,40.91 211.7,42.3" fill="#f9d69f" stroke="#f9d69f" stroke-width="0.25"/>
<polygon points="208.1,41.61 208.21,40.31 211.91,39.61 211.8,40.91" fill="#f9d49b" stroke="#f9d49b" stroke-width="0.25"/>
<polygon points="208.21,40.31 208.36,39.19 212.06,38.49 211.91,39.61" fill="#f8d295" stroke="#f8d295" stroke-width="0.25"/>
<polygon points="208.36,39.19 208.55,38.31 212.25,37.61 212.06,38.49" fill="#f8ce8e" stroke="#f8ce8e" stroke-width="0.25"/>
<polygon points="208.55,38.31 208.8,37.74 212.5,37.04 212.25,37.61" fill="#f8ce8d" stroke="#f8ce8d" stroke-width="0.25"/>
<polygon points="208.8,37.74 209.11,37.5 212.81,36.8 212.5,37.04" fill="#f7cd8c" stroke="#f7cd8c" stroke-width="0.25"/>
<polygon points="215.21,46.93 215.52,46.69 219.22,45.99 218.91,46.23" fill="#f6c581" stroke="#f6c581" stroke-width="0.25"/>
<polygon points="215.52,46.69 215.77,46.11 219.47,45.41 219.22,45.99" fill="#f6c480" stroke="#f6c480" stroke-width="0.25"/>
<polygon points="215.77,46.11 215.97,45.23 219.67,44.53 219.47,45.41" fill="#f6c47f" stroke="#f6c47f" stroke-width="0.25"/>
<polygon points="215.97,45.23 216.11,44.11 219.81,43.41 219.67,44.53" fill="#f7c786" stroke="#f7c786" stroke-width="0.25"/>
<polygon points="216.11,44.11 216.23,42.81 219.93,42.11 219.81,43.41" fill="#f7c98c" stroke="#f7c98c" stroke-width="0.25"/>
<polygon points="216.23,42.81 216.32,41.42 220.02,40.72 219.93,42.11" fill="#f7ca8e" stroke="#f7ca8e" stroke-width="0.25"/>
<polygon points="216.32,41.42 216.42,40.04 220.12,39.34 220.02,40.72" fill="#f7c98e" stroke="#f7c98e" stroke-width="0.25"/>
<polygon points="216.42,40.04 216.54,38.74 220.24,38.04 220.12,39.34" fill="#f6c78a" stroke="#f6c78a" stroke-width="0.25"/>
<polygon points="216.54,38.74 216.68,37.62 220.38,36.92 220.24,38.04" fill="#f6c483" stroke="#f6c483" stroke-width="0.25"/>
<polygon points="216.68,37.62 216.88,36.74 220.58,36.04 220.38,36.92" fill="#f5bf7a" stroke="#f5bf7a" stroke-width="0.25"/>
<polygon points="216.88,36.74 217.13,36.16 220.83,35.46 220.58,36.04" fill="#f5be79" stroke="#f5be79" stroke-width="0.25"/>
<polygon points="217.13,36.16 217.44,35.92 221.14,35.22 220.83,35.46" fill="#f5be78" stroke="#f5be78" stroke-width="0.25"/>
<polygon points="223.54,45.35 223.85,45.11 227.55,44.41 227.24,44.65" fill="#f4b66d" stroke="#f4b66d" stroke-width="0.25"/>
<polygon points="223.85,45.11 224.1,44.54 227.8,43.84 227.55,44.41" fill="#f4b56c" stroke="#f4b56c" stroke-width="0.25"/>
<polygon points="224.1,44.54 224.29,43.66 227.99,42.96 227.8,43.84" fill="#f3b46b" stroke="#f3b46b" stroke-width="0.25"/>
<polygon points="224.29,43.66 224.44,42.54 228.14,41.84 227.99,42.96" fill="#f4b974" stroke="#f4b974" stroke-width="0.25"/>
<polygon points="224.44,42.54 224.55,41.24 228.25,40.54 228.14,41.84" fill="#f4bb7a" stroke="#f4bb7a" stroke-width="0.25"/>
<polygon points="224.55,41.24 224.65,39.85 228.35,39.15 228.25,40.54" fill="#f5bd7d" stroke="#f5bd7d" stroke-width="0.25"/>
<polygon points="224.65,39.85 224.75,38.46 228.45,37.76 228.35,39.15" fill="#f5bc7c" stroke="#f5bc7c" stroke-width="0.25"/>
<polygon points="224.75,38.46 224.86,37.16 228.56,36.46 228.45,37.76" fill="#f4ba78" stroke="#f4ba78" stroke-width="0.25"/>
<polygon points="224.86,37.16 225.01,36.04 228.71,35.34 228.56,36.46" fill="#f4b670" stroke="#f4b670" stroke-width="0.25"/>
<polygon points="225.01,36.04 225.2,35.16 228.9,34.46 228.71,35.34" fill="#f3b066" stroke="#f3b066" stroke-width="0.25"/>
<polygon points="225.2,35.16 225.45,34.59 229.15,33.89 228.9,34.46" fill="#f3b065" stroke="#f3b065" stroke-width="0.25"/>
<polygon points="225.45,34.59 225.76,34.35 229.46,33.65 229.15,33.89" fill="#f2af64" stroke="#f2af64" stroke-width="0.25"/>
<polygon points="231.86,43.78 232.17,43.54 235.87,42.84 235.56,43.08" fill="#f1a759" stroke="#f1a759" stroke-width="0.25"/>
<polygon points="232.17,43.54 232.42,42.96 236.12,42.26 235.87,42.84" fill="#f1a658" stroke="#f1a658" stroke-width="0.25"/>
<polygon points="232.42,42.96 232.62,42.08 236.32,41.38 236.12,42.26" fill="#f1a657" stroke="#f1a657" stroke-width="0.25"/>
<polygon points="232.62,42.08 232.76,40.96 236.46,40.26 236.32,41.38" fill="#f2ab61" stroke="#f2ab61" stroke-width="0.25"/>
<polygon points="232.76,40.96 232.88,39.66 236.58,38.96 236.46,40.26" fill="#f3ae69" stroke="#f3ae69" stroke-width="0.25"/>
<polygon points="232.88,39.66 232.97,38.28 236.67,37.58 236.58,38.96" fill="#f3b06c" stroke="#f3b06c" stroke-width="0.25"/>
<polygon points="232.97,38.28 233.07,36.89 236.77,36.19 236.67,37.58" fill="#f2af6b" stroke="#f2af6b" stroke-width="0.25"/>
<polygon points="233.07,36.89 233.19,35.59 236.89,34.89 236.77,36.19" fill="#f2ac66" stroke="#f2ac66" stroke-width="0.25"/>
<polygon points="233.19,35.59 233.33,34.47 237.03,33.77 236.89,34.89" fill="#f1a85d" stroke="#f1a85d" stroke-width="0.25"/>
<polygon points="233.33,34.47 233.53,33.59 237.23,32.89 237.03,33.77" fill="#f0a152" stroke="#f0a152" stroke-width="0.25"/>
<polygon points="233.53,33.59 233.78,33.01 237.48,32.31 237.23,32.89" fill="#f0a051" stroke="#f0a051" stroke-width="0.25"/>
<polygon points="233.78,33.01 234.09,32.77 237.79,32.07 237.48,32.31" fill="#f0a050" stroke="#f0a050" stroke-width="0.25"/>
<polygon points="240.19,42.2 240.5,41.96 244.2,41.26 243.89,41.5" fill="#ef9845" stroke="#ef9845" stroke-width="0.25"/>
<polygon points="240.5,41.96 240.75,41.39 244.45,40.69 244.2,41.26" fill="#ef9744" stroke="#ef9744" stroke-width="0.25"/>
<polygon points="240.75,41.39 240.94,40.51 244.64,39.81 244.45,40.69" fill="#ee9643" stroke="#ee9643" stroke-width="0.25"/>
<polygon points="240.94,40.51 241.09,39.39 244.79,38.69 244.64,39.81" fill="#ef9d4e" stroke="#ef9d4e" stroke-width="0.25"/>
<polygon points="241.09,39.39 241.2,38.09 244.9,37.39 244.79,38.69" fill="#f0a157" stroke="#f0a157" stroke-width="0.25"/>
<polygon points="241.2,38.09 241.3,36.7 245,36 244.9,37.39" fill="#f0a35a" stroke="#f0a35a" stroke-width="0.25"/>
<polygon points="194.56,45.7 195,45.86 197.99,45.41 197.55,45.26" fill="#164188" stroke="#164188" stroke-width="0.25"/>
<polygon points="195,45.86 195.5,46.41 198.49,45.97 197.99,45.41" fill="#164288" stroke="#164288" stroke-width="0.25"/>
<polygon points="195.5,46.41 196.05,47.32 199.04,46.87 198.49,45.97" fill="#174288" stroke="#174288" stroke-width="0.25"/>
<polygon points="196.05,47.32 196.64,48.5 199.63,48.06 199.04,46.87" fill="#174389" stroke="#174389" stroke-width="0.25"/>
<polygon points="196.64,48.5 197.26,49.89 200.25,49.45 199.63,48.06" fill="#174489" stroke="#174489" stroke-width="0.25"/>
<polygon points="197.26,49.89 197.9,51.38 200.89,50.93 200.25,49.45" fill="#184489" stroke="#184489" stroke-width="0.25"/>
<polygon points="197.9,51.38 198.54,52.86 201.53,52.41 200.89,50.93" fill="#18448a" stroke="#18448a" stroke-width="0.25"/>
<polygon points="198.54,52.86 199.15,54.23 202.15,53.78 201.53,52.41" fill="#18458a" stroke="#18458a" stroke-width="0.25"/>
<polygon points="199.15,54.23 199.74,55.38 202.73,54.93 202.15,53.78" fill="#18458b" stroke="#18458b" stroke-width="0.25"/>
<polygon points="199.74,55.38 200.29,56.24 203.28,55.79 202.73,54.93" fill="#18468b" stroke="#18468b" stroke-width="0.25"/>
<polygon points="200.29,56.24 200.78,56.74 203.77,56.29 203.28,55.79" fill="#18478b" stroke="#18478b" stroke-width="0.25"/>
<polygon points="200.78,56.74 201.21,56.84 204.2,56.4 203.77,56.29" fill="#19478c" stroke="#19478c" stroke-width="0.25"/>
<polygon points="204.32,44.25 204.77,44.47 207.76,44.02 207.32,43.81" fill="#1c4e90" stroke="#1c4e90" stroke-width="0.25"/>
<polygon points="204.77,44.47 205.28,45.07 208.27,44.62 207.76,44.02" fill="#1c4f90" stroke="#1c4f90" stroke-width="0.25"/>
<polygon points="205.28,45.07 205.84,46.02 208.83,45.57 208.27,44.62" fill="#1c4f90" stroke="#1c4f90" stroke-width="0.25"/>
<polygon points="205.84,46.02 206.43,47.24 209.42,46.79 208.83,45.57" fill="#1d5090" stroke="#1d5090" stroke-width="0.25"/>
<polygon points="206.43,47.24 207.06,48.64 210.05,48.2 209.42,46.79" fill="#1d5091" stroke="#1d5091" stroke-width="0.25"/>
<polygon points="207.06,48.64 207.7,50.14 210.69,49.69 210.05,48.2" fill="#1d5091" stroke="#1d5091" stroke-width="0.25"/>
<polygon points="207.7,50.14 208.33,51.61 211.32,51.16 210.69,49.69" fill="#1e5191" stroke="#1e5191" stroke-width="0.25"/>
<polygon points="208.33,51.61 208.95,52.95 211.94,52.51 211.32,51.16" fill="#1e5292" stroke="#1e5292" stroke-width="0.25"/>
<polygon points="208.95,52.95 209.53,54.07 212.52,53.62 211.94,52.51" fill="#1e5292" stroke="#1e5292" stroke-width="0.25"/>
<polygon points="209.53,54.07 210.07,54.88 213.06,54.44 212.52,53.62" fill="#1f5393" stroke="#1f5393" stroke-width="0.25"/>
<polygon points="210.07,54.88 210.55,55.33 213.54,54.89 213.06,54.44" fill="#1f5493" stroke="#1f5493" stroke-width="0.25"/>
<polygon points="210.55,55.33 210.97,55.38 213.96,54.93 213.54,54.89" fill="#1f5493" stroke="#1f5493" stroke-width="0.25"/>
<polygon points="214.09,42.81 214.55,43.08 217.54,42.63 217.08,42.37" fill="#225b98" stroke="#225b98" stroke-width="0.25"/>
<polygon points="214.55,43.08 215.06,43.73 218.05,43.29 217.54,42.63" fill="#235c98" stroke="#235c98" stroke-width="0.25"/>
<polygon points="215.06,43.73 215.63,44.72 218.62,44.28 218.05,43.29" fill="#235c98" stroke="#235c98" stroke-width="0.25"/>
<polygon points="215.63,44.72 216.23,45.97 219.22,45.53 218.62,44.28" fill="#235c98" stroke="#235c98" stroke-width="0.25"/>
<polygon points="216.23,45.97 216.86,47.4 219.85,46.95 219.22,45.53" fill="#245d98" stroke="#245d98" stroke-width="0.25"/>
<polygon points="216.86,47.4 217.49,48.9 220.49,48.45 219.85,46.95" fill="#245d99" stroke="#245d99" stroke-width="0.25"/>
<polygon points="217.49,48.9 218.13,50.35 221.12,49.91 220.49,48.45" fill="#245e99" stroke="#245e99" stroke-width="0.25"/>
<polygon points="218.13,50.35 218.74,51.67 221.73,51.23 221.12,49.91" fill="#245f99" stroke="#245f99" stroke-width="0.25"/>
<polygon points="218.74,51.67 219.32,52.75 222.31,52.31 221.73,51.23" fill="#245f9a" stroke="#245f9a" stroke-width="0.25"/>
<polygon points="219.32,52.75 219.85,53.52 222.84,53.08 222.31,52.31" fill="#24609a" stroke="#24609a" stroke-width="0.25"/>
<polygon points="219.85,53.52 220.32,53.91 223.31,53.47 222.84,53.08" fill="#25609b" stroke="#25609b" stroke-width="0.25"/>
<polygon points="220.32,53.91 220.74,53.91 223.73,53.46 223.31,53.47" fill="#25609b" stroke="#25609b" stroke-width="0.25"/>
<polygon points="223.86,41.38 224.33,41.7 227.32,41.26 226.85,40.93" fill="#28689f" stroke="#28689f" stroke-width="0.25"/>
<polygon points="224.33,41.7 224.85,42.4 227.84,41.96 227.32,41.26" fill="#2968a0" stroke="#2968a0" stroke-width="0.25"/>
<polygon points="224.85,42.4 225.42,43.43 228.41,42.99 227.84,41.96" fill="#2968a0" stroke="#2968a0" stroke-width="0.25"/>
<polygon points="225.42,43.43 226.02,44.71 229.01,44.27 228.41,42.99" fill="#2969a0" stroke="#2969a0" stroke-width="0.25"/>
<polygon points="226.02,44.71 226.65,46.16 229.64,45.71 229.01,44.27" fill="#2a6aa0" stroke="#2a6aa0" stroke-width="0.25"/>
<polygon points="226.65,46.16 227.29,47.65 230.28,47.21 229.64,45.71" fill="#2a6aa0" stroke="#2a6aa0" stroke-width="0.25"/>
<polygon points="227.29,47.65 227.92,49.1 230.91,48.65 230.28,47.21" fill="#2a6ba1" stroke="#2a6ba1" stroke-width="0.25"/>
<polygon points="227.92,49.1 228.53,50.39 231.52,49.94 230.91,48.65" fill="#2b6ca1" stroke="#2b6ca1" stroke-width="0.25"/>
<polygon points="228.53,50.39 229.1,51.43 232.09,50.99 231.52,49.94" fill="#2b6ca1" stroke="#2b6ca1" stroke-width="0.25"/>
<polygon points="229.1,51.43 229.63,52.15 232.62,51.71 232.09,50.99" fill="#2b6ca2" stroke="#2b6ca2" stroke-width="0.25"/>
<polygon points="229.63,52.15 230.09,52.49 233.08,52.05 232.62,51.71" fill="#2b6da2" stroke="#2b6da2" stroke-width="0.25"/>
<polygon points="233.22,39.98 233.63,39.95 236.62,39.51 236.21,39.54" fill="#2f74a6" stroke="#2f74a6" stroke-width="0.25"/>
<polygon points="233.63,39.95 234.1,40.33 237.1,39.88 236.62,39.51" fill="#2f74a7" stroke="#2f74a7" stroke-width="0.25"/>
<polygon points="234.1,40.33 234.63,41.08 237.62,40.63 237.1,39.88" fill="#2f75a7" stroke="#2f75a7" stroke-width="0.25"/>
<polygon points="234.63,41.08 235.21,42.15 238.2,41.7 237.62,40.63" fill="#3075a8" stroke="#3075a8" stroke-width="0.25"/>
<polygon points="193,52 193.18,50.39 197.45,49.76 197.27,51.36" fill="#3966b4" stroke="#3966b4" stroke-width="0.25"/>
<polygon points="193.18,50.39 193.37,48.9 197.64,48.26 197.45,49.76" fill="#3362b2" stroke="#3362b2" stroke-width="0.25"/>
<polygon points="193.37,48.9 193.59,47.6 197.87,46.97 197.64,48.26" fill="#2a5aaf" stroke="#2a5aaf" stroke-width="0.25"/>
<polygon points="193.59,47.6 193.86,46.6 198.13,45.96 197.87,46.97" fill="#1b50a9" stroke="#1b50a9" stroke-width="0.25"/>
<polygon points="193.86,46.6 194.18,45.95 198.45,45.32 198.13,45.96" fill="#1b51aa" stroke="#1b51aa" stroke-width="0.25"/>
<polygon points="194.18,45.95 194.56,45.7 198.83,45.07 198.45,45.32" fill="#1c51aa" stroke="#1c51aa" stroke-width="0.25"/>
<polygon points="201.21,56.84 201.58,56.53 205.85,55.9 205.48,56.21" fill="#205aaf" stroke="#205aaf" stroke-width="0.25"/>
<polygon points="201.58,56.53 201.89,55.84 206.16,55.2 205.85,55.9" fill="#205bb0" stroke="#205bb0" stroke-width="0.25"/>
<polygon points="201.89,55.84 202.15,54.79 206.42,54.15 206.16,55.2" fill="#225db1" stroke="#225db1" stroke-width="0.25"/>
<polygon points="202.15,54.79 202.37,53.46 206.64,52.83 206.42,54.15" fill="#3168b6" stroke="#3168b6" stroke-width="0.25"/>
<polygon points="202.37,53.46 202.56,51.94 206.83,51.31 206.64,52.83" fill="#3a70ba" stroke="#3a70ba" stroke-width="0.25"/>
<polygon points="202.56,51.94 202.73,50.33 207.01,49.7 206.83,51.31" fill="#3f73bc" stroke="#3f73bc" stroke-width="0.25"/>
<polygon points="202.73,50.33 202.91,48.74 207.19,48.1 207.01,49.7" fill="#3f73bc" stroke="#3f73bc" stroke-width="0.25"/>
<polygon points="202.91,48.74 203.11,47.26 207.38,46.62 207.19,48.1" fill="#3970ba" stroke="#3970ba" stroke-width="0.25"/>
<polygon points="203.11,47.26 203.34,46 207.61,45.36 207.38,46.62" fill="#2f68b6" stroke="#2f68b6" stroke-width="0.25"/>
<polygon points="203.34,46 203.61,45.04 207.88,44.41 207.61,45.36" fill="#2360b3" stroke="#2360b3" stroke-width="0.25"/>
<polygon points="203.61,45.04 203.94,44.45 208.21,43.81 207.88,44.41" fill="#2361b3" stroke="#2361b3" stroke-width="0.25"/>
<polygon points="203.94,44.45 204.32,44.25 208.6,43.62 208.21,43.81" fill="#2361b4" stroke="#2361b4" stroke-width="0.25"/>
<polygon points="210.97,55.38 211.34,55.02 215.61,54.38 215.25,54.74" fill="#286ab9" stroke="#286ab9" stroke-width="0.25"/>
<polygon points="211.34,55.02 211.64,54.27 215.91,53.63 215.61,54.38" fill="#286bb9" stroke="#286bb9" stroke-width="0.25"/>
<polygon points="211.64,54.27 211.89,53.18 216.17,52.54 215.91,53.63" fill="#2c6ebb" stroke="#2c6ebb" stroke-width="0.25"/>
<polygon points="211.89,53.18 212.11,51.82 216.38,51.18 216.17,52.54" fill="#3a78bf" stroke="#3a78bf" stroke-width="0.25"/>
<polygon points="212.11,51.82 212.29,50.28 216.57,49.64 216.38,51.18" fill="#427ec2" stroke="#427ec2" stroke-width="0.25"/>
<polygon points="212.29,50.28 212.47,48.67 216.74,48.03 216.57,49.64" fill="#4681c4" stroke="#4681c4" stroke-width="0.25"/>
<polygon points="212.47,48.67 212.65,47.08 216.92,46.44 216.74,48.03" fill="#4681c4" stroke="#4681c4" stroke-width="0.25"/>
<polygon points="212.65,47.08 212.85,45.63 217.12,44.99 216.92,46.44" fill="#3f7dc3" stroke="#3f7dc3" stroke-width="0.25"/>
<polygon points="212.85,45.63 213.08,44.41 217.36,43.77 217.12,44.99" fill="#3476bf" stroke="#3476bf" stroke-width="0.25"/>
<polygon points="213.08,44.41 213.36,43.49 217.64,42.86 217.36,43.77" fill="#2b70bc" stroke="#2b70bc" stroke-width="0.25"/>
<polygon points="213.36,43.49 213.7,42.95 217.97,42.32 217.64,42.86" fill="#2b71bd" stroke="#2b71bd" stroke-width="0.25"/>
<polygon points="213.7,42.95 214.09,42.81 218.37,42.18 217.97,42.32" fill="#2b71bd" stroke="#2b71bd" stroke-width="0.25"/>
<polygon points="220.74,53.91 221.09,53.49 225.36,52.85 225.01,53.27" fill="#2f7ac2" stroke="#2f7ac2" stroke-width="0.25"/>
<polygon points="221.09,53.49 221.39,52.69 225.66,52.05 225.36,52.85" fill="#307bc3" stroke="#307bc3" stroke-width="0.25"/>
<polygon points="221.39,52.69 221.64,51.56 225.91,50.92 225.66,52.05" fill="#367fc5" stroke="#367fc5" stroke-width="0.25"/>
<polygon points="221.64,51.56 221.84,50.17 226.12,49.54 225.91,50.92" fill="#4287c9" stroke="#4287c9" stroke-width="0.25"/>
<polygon points="221.84,50.17 222.03,48.62 226.3,47.98 226.12,49.54" fill="#4a8dcb" stroke="#4a8dcb" stroke-width="0.25"/>
<polygon points="222.03,48.62 222.2,47 226.48,46.36 226.3,47.98" fill="#4d8fcc" stroke="#4d8fcc" stroke-width="0.25"/>
<polygon points="222.2,47 222.39,45.42 226.66,44.79 226.48,46.36" fill="#4b8ecc" stroke="#4b8ecc" stroke-width="0.25"/>
<polygon points="222.39,45.42 222.59,44 226.86,43.36 226.66,44.79" fill="#458bca" stroke="#458bca" stroke-width="0.25"/>
<polygon points="222.59,44 222.83,42.81 227.1,42.18 226.86,43.36" fill="#3a84c8" stroke="#3a84c8" stroke-width="0.25"/>
<polygon points="222.83,42.81 223.12,41.95 227.39,41.31 227.1,42.18" fill="#3280c6" stroke="#3280c6" stroke-width="0.25"/>
<polygon points="223.12,41.95 223.46,41.46 227.73,40.83 227.39,41.31" fill="#3381c6" stroke="#3381c6" stroke-width="0.25"/>
<polygon points="223.46,41.46 223.86,41.38 228.14,40.74 227.73,40.83" fill="#3381c7" stroke="#3381c7" stroke-width="0.25"/>
<polygon points="230.09,52.49 230.5,52.43 234.77,51.79 234.37,51.86" fill="#3789cc" stroke="#3789cc" stroke-width="0.25"/>
<polygon points="230.5,52.43 230.85,51.96 235.12,51.32 234.77,51.79" fill="#378acc" stroke="#378acc" stroke-width="0.25"/>
<polygon points="230.85,51.96 231.13,51.11 235.41,50.47 235.12,51.32" fill="#378bcc" stroke="#378bcc" stroke-width="0.25"/>
<polygon points="231.13,51.11 231.38,49.94 235.65,49.3 235.41,50.47" fill="#3f8fcf" stroke="#3f8fcf" stroke-width="0.25"/>
<polygon points="231.38,49.94 231.58,48.52 235.85,47.88 235.65,49.3" fill="#4a97d2" stroke="#4a97d2" stroke-width="0.25"/>
<polygon points="231.58,48.52 231.76,46.95 236.04,46.31 235.85,47.88" fill="#519bd4" stroke="#519bd4" stroke-width="0.25"/>
<polygon points="231.76,46.95 231.94,45.33 236.21,44.7 236.04,46.31" fill="#549dd5" stroke="#549dd5" stroke-width="0.25"/>
<polygon points="231.94,45.33 232.12,43.77 236.39,43.14 236.21,44.7" fill="#529cd4" stroke="#529cd4" stroke-width="0.25"/>
<polygon points="232.12,43.77 232.33,42.37 236.6,41.74 236.39,43.14" fill="#4a99d3" stroke="#4a99d3" stroke-width="0.25"/>
<polygon points="232.33,42.37 232.58,41.23 236.85,40.59 236.6,41.74" fill="#4093d1" stroke="#4093d1" stroke-width="0.25"/>
<polygon points="232.58,41.23 232.87,40.42 237.14,39.78 236.85,40.59" fill="#3a90d0" stroke="#3a90d0" stroke-width="0.25"/>
<polygon points="232.87,40.42 233.22,39.98 237.49,39.34 237.14,39.78" fill="#3a91d0" stroke="#3a91d0" stroke-width="0.25"/>
<polygon points="209.93,60.56 210.38,60.61 213.05,59.53 212.6,59.47" fill="#aa1817" stroke="#aa1817" stroke-width="0.25"/>
<polygon points="210.38,60.61 210.97,61.04 213.65,59.96 213.05,59.53" fill="#aa1817" stroke="#aa1817" stroke-width="0.25"/>
<polygon points="210.97,61.04 211.7,61.8 214.38,60.71 213.65,59.96" fill="#ab1817" stroke="#ab1817" stroke-width="0.25"/>
<polygon points="211.7,61.8 212.54,62.82 215.21,61.74 214.38,60.71" fill="#ab1918" stroke="#ab1918" stroke-width="0.25"/>
<polygon points="212.54,62.82 213.45,64.03 216.13,62.95 215.21,61.74" fill="#ab1a18" stroke="#ab1a18" stroke-width="0.25"/>
<polygon points="213.45,64.03 214.4,65.33 217.08,64.25 216.13,62.95" fill="#ab1a18" stroke="#ab1a18" stroke-width="0.25"/>
<polygon points="214.4,65.33 215.35,66.63 218.02,65.55 217.08,64.25" fill="#ab1b18" stroke="#ab1b18" stroke-width="0.25"/>
<polygon points="215.35,66.63 216.26,67.82 218.93,66.74 218.02,65.55" fill="#ab1c18" stroke="#ab1c18" stroke-width="0.25"/>
<polygon points="216.26,67.82 217.08,68.81 219.75,67.73 218.93,66.74" fill="#ac1c18" stroke="#ac1c18" stroke-width="0.25"/>
<polygon points="217.08,68.81 217.79,69.53 220.47,68.44 219.75,67.73" fill="#ac1c18" stroke="#ac1c18" stroke-width="0.25"/>
<polygon points="217.79,69.53 218.37,69.9 221.04,68.82 220.47,68.44" fill="#ac1d18" stroke="#ac1d18" stroke-width="0.25"/>
<polygon points="218.37,69.9 218.8,69.91 221.47,68.83 221.04,68.82" fill="#ac1d18" stroke="#ac1d18" stroke-width="0.25"/>
<polygon points="218.66,57.03 219.13,57.14 221.8,56.06 221.33,55.95" fill="#ae241a" stroke="#ae241a" stroke-width="0.25"/>
<polygon points="219.13,57.14 219.74,57.61 222.42,56.53 221.8,56.06" fill="#ae251a" stroke="#ae251a" stroke-width="0.25"/>
<polygon points="219.74,57.61 220.49,58.41 223.16,57.33 222.42,56.53" fill="#ae251a" stroke="#ae251a" stroke-width="0.25"/>
<polygon points="220.49,58.41 221.34,59.46 224.01,58.38 223.16,57.33" fill="#ae261b" stroke="#ae261b" stroke-width="0.25"/>
<polygon points="221.34,59.46 222.26,60.69 224.93,59.61 224.01,58.38" fill="#ae271b" stroke="#ae271b" stroke-width="0.25"/>
<polygon points="222.26,60.69 223.21,62 225.88,60.92 224.93,59.61" fill="#af271b" stroke="#af271b" stroke-width="0.25"/>
<polygon points="223.21,62 224.16,63.29 226.83,62.21 225.88,60.92" fill="#af281b" stroke="#af281b" stroke-width="0.25"/>
<polygon points="224.16,63.29 225.05,64.46 227.73,63.38 226.83,62.21" fill="#af281b" stroke="#af281b" stroke-width="0.25"/>
<polygon points="225.05,64.46 225.86,65.42 228.54,64.33 227.73,63.38" fill="#af281c" stroke="#af281c" stroke-width="0.25"/>
<polygon points="225.86,65.42 226.56,66.09 229.23,65 228.54,64.33" fill="#af291c" stroke="#af291c" stroke-width="0.25"/>
<polygon points="226.56,66.09 227.12,66.42 229.79,65.33 229.23,65" fill="#b02a1c" stroke="#b02a1c" stroke-width="0.25"/>
<polygon points="227.12,66.42 227.52,66.37 230.19,65.29 229.79,65.33" fill="#b02a1c" stroke="#b02a1c" stroke-width="0.25"/>
<polygon points="227.39,53.51 227.88,53.67 230.55,52.59 230.07,52.43" fill="#b1311d" stroke="#b1311d" stroke-width="0.25"/>
<polygon points="227.88,53.67 228.52,54.19 231.19,53.11 230.55,52.59" fill="#b1321d" stroke="#b1321d" stroke-width="0.25"/>
<polygon points="228.52,54.19 229.28,55.03 231.95,53.95 231.19,53.11" fill="#b2321e" stroke="#b2321e" stroke-width="0.25"/>
<polygon points="229.28,55.03 230.14,56.11 232.81,55.03 231.95,53.95" fill="#b2331e" stroke="#b2331e" stroke-width="0.25"/>
<polygon points="230.14,56.11 231.07,57.36 233.74,56.27 232.81,55.03" fill="#b2341e" stroke="#b2341e" stroke-width="0.25"/>
<polygon points="231.07,57.36 232.02,58.67 234.69,57.59 233.74,56.27" fill="#b2341e" stroke="#b2341e" stroke-width="0.25"/>
<polygon points="232.02,58.67 232.96,59.94 235.63,58.86 234.69,57.59" fill="#b2341e" stroke="#b2341e" stroke-width="0.25"/>
<polygon points="232.96,59.94 233.85,61.09 236.52,60.01 235.63,58.86" fill="#b3351e" stroke="#b3351e" stroke-width="0.25"/>
<polygon points="233.85,61.09 234.64,62.01 237.32,60.93 236.52,60.01" fill="#b3351f" stroke="#b3351f" stroke-width="0.25"/>
<polygon points="234.64,62.01 235.32,62.64 237.99,61.56 237.32,60.93" fill="#b3361f" stroke="#b3361f" stroke-width="0.25"/>
<polygon points="235.32,62.64 235.86,62.92 238.53,61.84 237.99,61.56" fill="#b3371f" stroke="#b3371f" stroke-width="0.25"/>
<polygon points="235.86,62.92 236.24,62.82 238.91,61.74 238.53,61.84" fill="#b3371f" stroke="#b3371f" stroke-width="0.25"/>
<polygon points="236.13,50 236.64,50.21 239.31,49.13 238.8,48.91" fill="#b53e20" stroke="#b53e20" stroke-width="0.25"/>
<polygon points="236.64,50.21 237.29,50.78 239.96,49.69 239.31,49.13" fill="#b53f21" stroke="#b53f21" stroke-width="0.25"/>
<polygon points="237.29,50.78 238.07,51.65 240.74,50.57 239.96,49.69" fill="#b53f21" stroke="#b53f21" stroke-width="0.25"/>
<polygon points="238.07,51.65 238.94,52.76 241.61,51.68 240.74,50.57" fill="#b54021" stroke="#b54021" stroke-width="0.25"/>
<polygon points="238.94,52.76 239.87,54.02 242.55,52.94 241.61,51.68" fill="#b64021" stroke="#b64021" stroke-width="0.25"/>
<polygon points="239.87,54.02 240.83,55.33 243.5,54.25 242.55,52.94" fill="#b64021" stroke="#b64021" stroke-width="0.25"/>
<polygon points="240.83,55.33 241.76,56.6 244.44,55.52 243.5,54.25" fill="#b64121" stroke="#b64121" stroke-width="0.25"/>
<polygon points="241.76,56.6 242.64,57.72 245.31,56.64 244.44,55.52" fill="#b64222" stroke="#b64222" stroke-width="0.25"/>
<polygon points="242.64,57.72 243.42,58.6 246.09,57.52 245.31,56.64" fill="#b64222" stroke="#b64222" stroke-width="0.25"/>
<polygon points="243.42,58.6 244.08,59.19 246.75,58.11 246.09,57.52" fill="#b74322" stroke="#b74322" stroke-width="0.25"/>
<polygon points="244.08,59.19 244.6,59.42 247.27,58.33 246.75,58.11" fill="#b74422" stroke="#b74422" stroke-width="0.25"/>
<polygon points="244.49,46.61 244.87,46.49 247.54,45.41 247.16,45.52" fill="#b84a24" stroke="#b84a24" stroke-width="0.25"/>
<polygon points="244.87,46.49 245.4,46.75 248.07,45.67 247.54,45.41" fill="#b84b24" stroke="#b84b24" stroke-width="0.25"/>
<polygon points="245.4,46.75 246.07,47.37 248.74,46.28 248.07,45.67" fill="#b94c24" stroke="#b94c24" stroke-width="0.25"/>
<polygon points="246.07,47.37 246.86,48.28 249.53,47.19 248.74,46.28" fill="#b94c24" stroke="#b94c24" stroke-width="0.25"/>
<polygon points="210,67 209.78,65.41 213.6,63.86 213.82,65.45" fill="#da393a" stroke="#da393a" stroke-width="0.25"/>
<polygon points="209.78,65.41 209.6,63.91 213.41,62.36 213.6,63.86" fill="#d93435" stroke="#d93435" stroke-width="0.25"/>
<polygon points="209.6,63.91 209.49,62.61 213.31,61.06 213.41,62.36" fill="#d72a2b" stroke="#d72a2b" stroke-width="0.25"/>
<polygon points="209.49,62.61 209.5,61.58 213.32,60.03 213.31,61.06" fill="#d51c1d" stroke="#d51c1d" stroke-width="0.25"/>
<polygon points="209.5,61.58 209.64,60.88 213.46,59.34 213.32,60.03" fill="#d51d1d" stroke="#d51d1d" stroke-width="0.25"/>
<polygon points="209.64,60.88 209.93,60.56 213.75,59.01 213.46,59.34" fill="#d51d1d" stroke="#d51d1d" stroke-width="0.25"/>
<polygon points="218.8,69.91 219.07,69.53 222.88,67.99 222.61,68.36" fill="#d7261f" stroke="#d7261f" stroke-width="0.25"/>
<polygon points="219.07,69.53 219.19,68.79 223.01,67.24 222.88,67.99" fill="#d8271f" stroke="#d8271f" stroke-width="0.25"/>
<polygon points="219.19,68.79 219.18,67.72 223,66.17 223.01,67.24" fill="#d82921" stroke="#d82921" stroke-width="0.25"/>
<polygon points="219.18,67.72 219.06,66.38 222.88,64.84 223,66.17" fill="#db3730" stroke="#db3730" stroke-width="0.25"/>
<polygon points="219.06,66.38 218.87,64.87 222.69,63.32 222.88,64.84" fill="#dc423a" stroke="#dc423a" stroke-width="0.25"/>
<polygon points="218.87,64.87 218.65,63.27 222.46,61.72 222.69,63.32" fill="#dd463e" stroke="#dd463e" stroke-width="0.25"/>
<polygon points="218.65,63.27 218.43,61.68 222.25,60.14 222.46,61.72" fill="#de463d" stroke="#de463d" stroke-width="0.25"/>
<polygon points="218.43,61.68 218.25,60.21 222.07,58.66 222.25,60.14" fill="#dd4137" stroke="#dd4137" stroke-width="0.25"/>
<polygon points="218.25,60.21 218.16,58.94 221.98,57.39 222.07,58.66" fill="#db372d" stroke="#db372d" stroke-width="0.25"/>
<polygon points="218.16,58.94 218.19,57.95 222.01,56.4 221.98,57.39" fill="#d92c21" stroke="#d92c21" stroke-width="0.25"/>
<polygon points="218.19,57.95 218.35,57.3 222.17,55.76 222.01,56.4" fill="#d92d21" stroke="#d92d21" stroke-width="0.25"/>
<polygon points="218.35,57.3 218.66,57.03 222.48,55.48 222.17,55.76" fill="#da2d21" stroke="#da2d21" stroke-width="0.25"/>
<polygon points="227.52,66.37 227.77,65.94 231.59,64.39 231.34,64.82" fill="#dc3623" stroke="#dc3623" stroke-width="0.25"/>
<polygon points="227.77,65.94 227.87,65.15 231.69,63.6 231.59,64.39" fill="#dc3723" stroke="#dc3723" stroke-width="0.25"/>
<polygon points="227.87,65.15 227.84,64.04 231.66,62.49 231.69,63.6" fill="#dd3b28" stroke="#dd3b28" stroke-width="0.25"/>
<polygon points="227.84,64.04 227.72,62.67 231.53,61.13 231.66,62.49" fill="#e04835" stroke="#e04835" stroke-width="0.25"/>
<polygon points="227.72,62.67 227.52,61.14 231.34,59.6 231.53,61.13" fill="#e1513e" stroke="#e1513e" stroke-width="0.25"/>
<polygon points="227.52,61.14 227.29,59.54 231.11,57.99 231.34,59.6" fill="#e25442" stroke="#e25442" stroke-width="0.25"/>
<polygon points="227.29,59.54 227.08,57.96 230.9,56.41 231.11,57.99" fill="#e15440" stroke="#e15440" stroke-width="0.25"/>
<polygon points="227.08,57.96 226.91,56.51 230.73,54.96 230.9,56.41" fill="#e04f3a" stroke="#e04f3a" stroke-width="0.25"/>
<polygon points="226.91,56.51 226.84,55.27 230.66,53.73 230.73,54.96" fill="#e04530" stroke="#e04530" stroke-width="0.25"/>
<polygon points="226.84,55.27 226.88,54.33 230.7,52.78 230.66,53.73" fill="#de3c25" stroke="#de3c25" stroke-width="0.25"/>
<polygon points="226.88,54.33 227.06,53.73 230.88,52.18 230.7,52.78" fill="#de3d25" stroke="#de3d25" stroke-width="0.25"/>
<polygon points="227.06,53.73 227.39,53.51 231.21,51.96 230.88,52.18" fill="#de3d25" stroke="#de3d25" stroke-width="0.25"/>
<polygon points="236.24,62.82 236.47,62.34 240.29,60.79 240.06,61.27" fill="#e14627" stroke="#e14627" stroke-width="0.25"/>
<polygon points="236.47,62.34 236.55,61.5 240.37,59.96 240.29,60.79" fill="#e14727" stroke="#e14727" stroke-width="0.25"/>
<polygon points="236.55,61.5 236.51,60.35 240.33,58.81 240.37,59.96" fill="#e24c2e" stroke="#e24c2e" stroke-width="0.25"/>
<polygon points="236.51,60.35 236.37,58.96 240.19,57.41 240.33,58.81" fill="#e4583a" stroke="#e4583a" stroke-width="0.25"/>
<polygon points="236.37,58.96 236.17,57.41 239.99,55.87 240.19,57.41" fill="#e55f42" stroke="#e55f42" stroke-width="0.25"/>
<polygon points="236.17,57.41 235.94,55.8 239.76,54.26 239.99,55.87" fill="#e66245" stroke="#e66245" stroke-width="0.25"/>
<polygon points="235.94,55.8 235.73,54.24 239.55,52.69 239.76,54.26" fill="#e66143" stroke="#e66143" stroke-width="0.25"/>
<polygon points="235.73,54.24 235.58,52.81 239.39,51.27 239.55,52.69" fill="#e55c3d" stroke="#e55c3d" stroke-width="0.25"/>
<polygon points="235.58,52.81 235.51,51.61 239.33,50.07 239.39,51.27" fill="#e35232" stroke="#e35232" stroke-width="0.25"/>
<polygon points="235.51,51.61 235.57,50.71 239.39,49.17 239.33,50.07" fill="#e24c29" stroke="#e24c29" stroke-width="0.25"/>
<polygon points="235.57,50.71 235.77,50.16 239.59,48.62 239.39,49.17" fill="#e24d29" stroke="#e24d29" stroke-width="0.25"/>
<polygon points="235.77,50.16 236.13,50 239.95,48.45 239.59,48.62" fill="#e34d29" stroke="#e34d29" stroke-width="0.25"/>
<polygon points="244.6,59.42 244.96,59.26 248.78,57.72 248.41,57.87" fill="#e5552b" stroke="#e5552b" stroke-width="0.25"/>
<polygon points="244.96,59.26 245.17,58.73 248.98,57.19 248.78,57.72" fill="#e5562b" stroke="#e5562b" stroke-width="0.25"/>
<polygon points="245.17,58.73 245.23,57.85 249.05,56.3 248.98,57.19" fill="#e5572c" stroke="#e5572c" stroke-width="0.25"/>
<polygon points="245.23,57.85 245.17,56.66 248.99,55.12 249.05,56.3" fill="#e75d34" stroke="#e75d34" stroke-width="0.25"/>
<polygon points="245.17,56.66 245.02,55.24 248.84,53.7 248.99,55.12" fill="#e8673f" stroke="#e8673f" stroke-width="0.25"/>
<polygon points="245.02,55.24 244.81,53.68 248.63,52.14 248.84,53.7" fill="#e96e47" stroke="#e96e47" stroke-width="0.25"/>
<polygon points="244.81,53.68 244.59,52.07 248.41,50.53 248.63,52.14" fill="#e97049" stroke="#e97049" stroke-width="0.25"/>
<polygon points="244.59,52.07 244.38,50.52 248.2,48.98 248.41,50.53" fill="#e96e46" stroke="#e96e46" stroke-width="0.25"/>
<polygon points="244.38,50.52 244.24,49.12 248.06,47.58 248.2,48.98" fill="#e8693f" stroke="#e8693f" stroke-width="0.25"/>
<polygon points="244.24,49.12 244.19,47.96 248.01,46.41 248.06,47.58" fill="#e86034" stroke="#e86034" stroke-width="0.25"/>
<polygon points="244.19,47.96 244.27,47.1 248.09,45.56 248.01,46.41" fill="#e75c2d" stroke="#e75c2d" stroke-width="0.25"/>
<polygon points="244.27,47.1 244.49,46.61 248.31,45.06 248.09,45.56" fill="#e75d2d" stroke="#e75d2d" stroke-width="0.25"/>
<path d="M66,93.5 C65.83,94.08 65.67,96.08 65,97 C64.33,97.92 63.5,98.5 62,99 C60.5,99.5 58,99.5 56,100 C54,100.5 51.67,101.25 50,102 C48.33,102.75 46.67,104.08 46,104.5" fill="none" stroke="#1e4984" stroke-width="2.2" stroke-linecap="round" stroke-linejoin="round"/>
<path d="M66,93.5 C65.83,94.08 65.67,96.08 65,97 C64.33,97.92 63.5,98.5 62,99 C60.5,99.5 58,99.5 56,100 C54,100.5 51.67,101.25 50,102 C48.33,102.75 46.67,104.08 46,104.5" fill="none" stroke="#2a66b8" stroke-width="1.5" stroke-linecap="round" stroke-linejoin="round"/>
<path d="M45,104 C44,104.67 40.67,106.67 39,108 C37.33,109.33 36.25,110.5 35,112 C33.75,113.5 31.92,115.33 31.5,117 C31.08,118.67 31.75,120.58 32.5,122 C33.25,123.42 34.92,124.67 36,125.5 C37.08,126.33 38.5,126.75 39,127" fill="none" stroke="#193f7e" stroke-width="2.4" stroke-linecap="round" stroke-linejoin="round"/>
<path d="M45,104 C44,104.67 40.67,106.67 39,108 C37.33,109.33 36.25,110.5 35,112 C33.75,113.5 31.92,115.33 31.5,117 C31.08,118.67 31.75,120.58 32.5,122 C33.25,123.42 34.92,124.67 36,125.5 C37.08,126.33 38.5,126.75 39,127" fill="none" stroke="#2458b0" stroke-width="1.7" stroke-linecap="round" stroke-linejoin="round"/>
<path d="M77,119 C77.33,117.83 78.33,114.17 79,112 C79.67,109.83 80,107.67 81,106 C82,104.33 83.5,103 85,102 C86.5,101 88.67,100.83 90,100 C91.33,99.17 92.67,98.33 93,97 C93.33,95.67 91.67,93.33 92,92 C92.33,90.67 93.67,89.5 95,89 C96.33,88.5 98.83,88.33 100,89 C101.17,89.67 102,91.67 102,93 C102,94.33 100.83,96 100,97 C99.17,98 98,98 97,99 C96,100 94.5,102.33 94,103" fill="none" stroke="#6690a4" stroke-width="2.3" stroke-linecap="round" stroke-linejoin="round"/>
<path d="M77,119 C77.33,117.83 78.33,114.17 79,112 C79.67,109.83 80,107.67 81,106 C82,104.33 83.5,103 85,102 C86.5,101 88.67,100.83 90,100 C91.33,99.17 92.67,98.33 93,97 C93.33,95.67 91.67,93.33 92,92 C92.33,90.67 93.67,89.5 95,89 C96.33,88.5 98.83,88.33 100,89 C101.17,89.67 102,91.67 102,93 C102,94.33 100.83,96 100,97 C99.17,98 98,98 97,99 C96,100 94.5,102.33 94,103" fill="none" stroke="#8ec8e4" stroke-width="1.6" stroke-linecap="round" stroke-linejoin="round"/>
<path d="M87,129 C88,129.33 91,131 93,131 C95,131 97.5,128.67 99,129 C100.5,129.33 102,131.5 102,133 C102,134.5 100.5,136.83 99,138 C97.5,139.17 94.83,140 93,140 C91.17,140 88.83,138.33 88,138" fill="none" stroke="#a74022" stroke-width="2.4" stroke-linecap="round" stroke-linejoin="round"/>
<path d="M87,129 C88,129.33 91,131 93,131 C95,131 97.5,128.67 99,129 C100.5,129.33 102,131.5 102,133 C102,134.5 100.5,136.83 99,138 C97.5,139.17 94.83,140 93,140 C91.17,140 88.83,138.33 88,138" fill="none" stroke="#e85a30" stroke-width="1.7" stroke-linecap="round" stroke-linejoin="round"/>
<path d="M80,141 C80.67,141.83 82.83,144.17 84,146 C85.17,147.83 86,150.17 87,152 C88,153.83 89.17,155.67 90,157 C90.83,158.33 91.67,159.5 92,160" fill="none" stroke="#6690a4" stroke-width="2.3" stroke-linecap="round" stroke-linejoin="round"/>
<path d="M80,141 C80.67,141.83 82.83,144.17 84,146 C85.17,147.83 86,150.17 87,152 C88,153.83 89.17,155.67 90,157 C90.83,158.33 91.67,159.5 92,160" fill="none" stroke="#8ec8e4" stroke-width="1.6" stroke-linecap="round" stroke-linejoin="round"/>
<path d="M75,138 C75.83,138.5 78.5,139.83 80,141 C81.5,142.17 83.33,144.33 84,145" fill="none" stroke="#6aaed8" stroke-width="1.2" stroke-linecap="round" stroke-linejoin="round"/>
<polygon points="82.8,117.92 82.97,118.19 85.16,119.24 84.98,118.97" fill="#bf743c" stroke="#bf743c" stroke-width="0.25"/>
<polygon points="82.97,118.19 83.03,118.71 85.21,119.76 85.16,119.24" fill="#bf743c" stroke="#bf743c" stroke-width="0.25"/>
<polygon points="83.03,118.71 82.97,119.46 85.16,120.51 85.21,119.76" fill="#be733b" stroke="#be733b" stroke-width="0.25"/>
<polygon points="82.97,119.46 82.83,120.38 85.02,121.43 85.16,120.51" fill="#be723a" stroke="#be723a" stroke-width="0.25"/>
<polygon points="82.83,120.38 82.63,121.43 84.82,122.48 85.02,121.43" fill="#be703a" stroke="#be703a" stroke-width="0.25"/>
<polygon points="82.63,121.43 82.4,122.55 84.59,123.6 84.82,122.48" fill="#be7039" stroke="#be7039" stroke-width="0.25"/>
<polygon points="82.4,122.55 82.17,123.65 84.36,124.7 84.59,123.6" fill="#bd6f38" stroke="#bd6f38" stroke-width="0.25"/>
<polygon points="82.17,123.65 81.99,124.68 84.17,125.73 84.36,124.7" fill="#bd6e38" stroke="#bd6e38" stroke-width="0.25"/>
<polygon points="81.99,124.68 81.86,125.56 84.05,126.61 84.17,125.73" fill="#bd6c38" stroke="#bd6c38" stroke-width="0.25"/>
<polygon points="81.86,125.56 81.83,126.25 84.02,127.3 84.05,126.61" fill="#bd6c37" stroke="#bd6c37" stroke-width="0.25"/>
<polygon points="81.83,126.25 81.92,126.71 84.11,127.76 84.02,127.3" fill="#bd6b36" stroke="#bd6b36" stroke-width="0.25"/>
<polygon points="81.92,126.71 82.13,126.91 84.31,127.96 84.11,127.76" fill="#bc6a35" stroke="#bc6a35" stroke-width="0.25"/>
<polygon points="88.71,120.78 88.86,121.11 91.04,122.16 90.9,121.83" fill="#bb5c2e" stroke="#bb5c2e" stroke-width="0.25"/>
<polygon points="88.86,121.11 88.88,121.69 91.07,122.74 91.04,122.16" fill="#ba5c2d" stroke="#ba5c2d" stroke-width="0.25"/>
<polygon points="88.88,121.69 88.8,122.48 90.99,123.53 91.07,122.74" fill="#ba5b2c" stroke="#ba5b2c" stroke-width="0.25"/>
<polygon points="88.8,122.48 88.65,123.45 90.83,124.5 90.99,123.53" fill="#ba592c" stroke="#ba592c" stroke-width="0.25"/>
<polygon points="88.65,123.45 88.43,124.52 90.62,125.57 90.83,124.5" fill="#ba582c" stroke="#ba582c" stroke-width="0.25"/>
<polygon points="88.43,124.52 88.2,125.64 90.39,126.69 90.62,125.57" fill="#ba582b" stroke="#ba582b" stroke-width="0.25"/>
<polygon points="88.2,125.64 87.98,126.73 90.17,127.78 90.39,126.69" fill="#b9572a" stroke="#b9572a" stroke-width="0.25"/>
<polygon points="87.98,126.73 87.81,127.73 89.99,128.78 90.17,127.78" fill="#b9552a" stroke="#b9552a" stroke-width="0.25"/>
<polygon points="79.5,121 80.22,120.13 83.35,121.63 82.62,122.5" fill="#f2a867" stroke="#f2a867" stroke-width="0.25"/>
<polygon points="80.22,120.13 80.91,119.33 84.04,120.83 83.35,121.63" fill="#f2a462" stroke="#f2a462" stroke-width="0.25"/>
<polygon points="80.91,119.33 81.54,118.66 84.66,120.16 84.04,120.83" fill="#f19e5a" stroke="#f19e5a" stroke-width="0.25"/>
<polygon points="81.54,118.66 82.07,118.17 85.2,119.67 84.66,120.16" fill="#ef964e" stroke="#ef964e" stroke-width="0.25"/>
<polygon points="82.07,118.17 82.5,117.92 85.62,119.42 85.2,119.67" fill="#ef954d" stroke="#ef954d" stroke-width="0.25"/>
<polygon points="82.5,117.92 82.8,117.92 85.92,119.42 85.62,119.42" fill="#ef944c" stroke="#ef944c" stroke-width="0.25"/>
<polygon points="82.13,126.91 82.46,126.85 85.58,128.35 85.25,128.41" fill="#ec8343" stroke="#ec8343" stroke-width="0.25"/>
<polygon points="82.46,126.85 82.91,126.54 86.04,128.04 85.58,128.35" fill="#ec8242" stroke="#ec8242" stroke-width="0.25"/>
<polygon points="82.91,126.54 83.47,126 86.6,127.5 86.04,128.04" fill="#ec8344" stroke="#ec8344" stroke-width="0.25"/>
<polygon points="83.47,126 84.12,125.3 87.24,126.8 86.6,127.5" fill="#ed8950" stroke="#ed8950" stroke-width="0.25"/>
<polygon points="84.12,125.3 84.82,124.47 87.94,125.97 87.24,126.8" fill="#ed8d57" stroke="#ed8d57" stroke-width="0.25"/>
<polygon points="84.82,124.47 85.54,123.59 88.67,125.09 87.94,125.97" fill="#ee8f59" stroke="#ee8f59" stroke-width="0.25"/>
<polygon points="85.54,123.59 86.26,122.73 89.38,124.23 88.67,125.09" fill="#ee8d57" stroke="#ee8d57" stroke-width="0.25"/>
<polygon points="86.26,122.73 86.93,121.96 90.06,123.46 89.38,124.23" fill="#ed8751" stroke="#ed8751" stroke-width="0.25"/>
<polygon points="86.93,121.96 87.54,121.33 90.66,122.83 90.06,123.46" fill="#ec8047" stroke="#ec8047" stroke-width="0.25"/>
<polygon points="87.54,121.33 88.05,120.9 91.17,122.4 90.66,122.83" fill="#ea783c" stroke="#ea783c" stroke-width="0.25"/>
<polygon points="88.05,120.9 88.44,120.71 91.57,122.21 91.17,122.4" fill="#ea773b" stroke="#ea773b" stroke-width="0.25"/>
<polygon points="88.44,120.71 88.71,120.78 91.84,122.28 91.57,122.21" fill="#ea753b" stroke="#ea753b" stroke-width="0.25"/>
<polygon points="48.4,110.94 48.72,111.18 51.25,111.34 50.92,111.09" fill="#c1ae79" stroke="#c1ae79" stroke-width="0.25"/>
<polygon points="48.72,111.18 49.02,111.84 51.54,111.99 51.25,111.34" fill="#c1ae78" stroke="#c1ae78" stroke-width="0.25"/>
<polygon points="49.02,111.84 49.29,112.86 51.82,113.01 51.54,111.99" fill="#c1ae78" stroke="#c1ae78" stroke-width="0.25"/>
<polygon points="49.29,112.86 49.55,114.18 52.07,114.33 51.82,113.01" fill="#c1ad78" stroke="#c1ad78" stroke-width="0.25"/>
<polygon points="49.55,114.18 49.79,115.71 52.32,115.86 52.07,114.33" fill="#c1ad78" stroke="#c1ad78" stroke-width="0.25"/>
<polygon points="49.79,115.71 50.03,117.34 52.55,117.49 52.32,115.86" fill="#c1ad78" stroke="#c1ad78" stroke-width="0.25"/>
<polygon points="50.03,117.34 50.26,118.96 52.79,119.12 52.55,117.49" fill="#c1ac78" stroke="#c1ac78" stroke-width="0.25"/>
<polygon points="50.26,118.96 50.51,120.47 53.03,120.63 52.79,119.12" fill="#c1ac77" stroke="#c1ac77" stroke-width="0.25"/>
<polygon points="50.51,120.47 50.76,121.77 53.29,121.92 53.03,120.63" fill="#c1ac77" stroke="#c1ac77" stroke-width="0.25"/>
<polygon points="50.76,121.77 51.04,122.75 53.57,122.9 53.29,121.92" fill="#c1ac76" stroke="#c1ac76" stroke-width="0.25"/>
<polygon points="51.04,122.75 51.34,123.36 53.87,123.52 53.57,122.9" fill="#c1ac76" stroke="#c1ac76" stroke-width="0.25"/>
<polygon points="51.34,123.36 51.67,123.56 54.19,123.71 53.87,123.52" fill="#c1ac76" stroke="#c1ac76" stroke-width="0.25"/>
<polygon points="56.46,111.44 56.78,111.73 59.31,111.88 58.99,111.59" fill="#c1a872" stroke="#c1a872" stroke-width="0.25"/>
<polygon points="56.78,111.73 57.07,112.43 59.6,112.58 59.31,111.88" fill="#c1a871" stroke="#c1a871" stroke-width="0.25"/>
<polygon points="57.07,112.43 57.34,113.49 59.87,113.64 59.6,112.58" fill="#c1a871" stroke="#c1a871" stroke-width="0.25"/>
<polygon points="57.34,113.49 57.6,114.83 60.13,114.99 59.87,113.64" fill="#c1a871" stroke="#c1a871" stroke-width="0.25"/>
<polygon points="57.6,114.83 57.84,116.38 60.37,116.53 60.13,114.99" fill="#c1a870" stroke="#c1a870" stroke-width="0.25"/>
<polygon points="57.84,116.38 58.08,118.02 60.6,118.17 60.37,116.53" fill="#c1a770" stroke="#c1a770" stroke-width="0.25"/>
<polygon points="58.08,118.02 58.31,119.63 60.84,119.79 60.6,118.17" fill="#c1a770" stroke="#c1a770" stroke-width="0.25"/>
<polygon points="58.31,119.63 58.56,121.12 61.09,121.28 60.84,119.79" fill="#c1a770" stroke="#c1a770" stroke-width="0.25"/>
<polygon points="58.56,121.12 58.82,122.38 61.35,122.54 61.09,121.28" fill="#c1a770" stroke="#c1a770" stroke-width="0.25"/>
<polygon points="58.82,122.38 59.1,123.33 61.63,123.49 61.35,122.54" fill="#c1a66f" stroke="#c1a66f" stroke-width="0.25"/>
<polygon points="59.1,123.33 59.4,123.9 61.93,124.05 61.63,123.49" fill="#c1a66f" stroke="#c1a66f" stroke-width="0.25"/>
<polygon points="59.4,123.9 59.73,124.05 62.26,124.2 61.93,124.05" fill="#c1a66f" stroke="#c1a66f" stroke-width="0.25"/>
<polygon points="64.52,111.94 64.84,112.28 67.36,112.44 67.05,112.1" fill="#c1a36b" stroke="#c1a36b" stroke-width="0.25"/>
<polygon points="64.84,112.28 65.13,113.02 67.66,113.18 67.36,112.44" fill="#c1a26b" stroke="#c1a26b" stroke-width="0.25"/>
<polygon points="65.13,113.02 65.4,114.12 67.93,114.27 67.66,113.18" fill="#c1a26a" stroke="#c1a26a" stroke-width="0.25"/>
<polygon points="65.4,114.12 65.65,115.49 68.18,115.65 67.93,114.27" fill="#c1a26a" stroke="#c1a26a" stroke-width="0.25"/>
<polygon points="65.65,115.49 65.89,117.05 68.42,117.21 68.18,115.65" fill="#c1a169" stroke="#c1a169" stroke-width="0.25"/>
<polygon points="65.89,117.05 66.13,118.69 68.66,118.85 68.42,117.21" fill="#c1a169" stroke="#c1a169" stroke-width="0.25"/>
<polygon points="66.13,118.69 66.37,120.3 68.89,120.46 68.66,118.85" fill="#c1a169" stroke="#c1a169" stroke-width="0.25"/>
<polygon points="66.37,120.3 66.61,121.77 69.14,121.93 68.89,120.46" fill="#c1a168" stroke="#c1a168" stroke-width="0.25"/>
<polygon points="66.61,121.77 66.87,123 69.4,123.16 69.14,121.93" fill="#c1a068" stroke="#c1a068" stroke-width="0.25"/>
<polygon points="66.87,123 67.16,123.91 69.68,124.06 69.4,123.16" fill="#c1a068" stroke="#c1a068" stroke-width="0.25"/>
<polygon points="67.16,123.91 67.46,124.43 69.99,124.58 69.68,124.06" fill="#c1a068" stroke="#c1a068" stroke-width="0.25"/>
<polygon points="67.46,124.43 67.79,124.53 70.32,124.69 69.99,124.58" fill="#c1a068" stroke="#c1a068" stroke-width="0.25"/>
<polygon points="72.58,112.45 72.89,112.84 75.42,112.99 75.11,112.61" fill="#c19c64" stroke="#c19c64" stroke-width="0.25"/>
<polygon points="72.89,112.84 73.18,113.62 75.71,113.78 75.42,112.99" fill="#c19c64" stroke="#c19c64" stroke-width="0.25"/>
<polygon points="73.18,113.62 73.45,114.75 75.98,114.91 75.71,113.78" fill="#c19c63" stroke="#c19c63" stroke-width="0.25"/>
<polygon points="73.45,114.75 73.7,116.15 76.23,116.31 75.98,114.91" fill="#c19c63" stroke="#c19c63" stroke-width="0.25"/>
<polygon points="73.7,116.15 73.94,117.73 76.47,117.88 76.23,116.31" fill="#c19c62" stroke="#c19c62" stroke-width="0.25"/>
<polygon points="73.94,117.73 74.18,119.37 76.71,119.52 76.47,117.88" fill="#c19c62" stroke="#c19c62" stroke-width="0.25"/>
<polygon points="74.18,119.37 74.42,120.97 76.94,121.12 76.71,119.52" fill="#c19c62" stroke="#c19c62" stroke-width="0.25"/>
<polygon points="74.42,120.97 74.67,122.42 77.19,122.57 76.94,121.12" fill="#c19b61" stroke="#c19b61" stroke-width="0.25"/>
<polygon points="46,117 46.43,115.41 50.05,115.63 49.61,117.22" fill="#f4e1a8" stroke="#f4e1a8" stroke-width="0.25"/>
<polygon points="46.43,115.41 46.86,113.93 50.47,114.16 50.05,115.63" fill="#f3e0a5" stroke="#f3e0a5" stroke-width="0.25"/>
<polygon points="46.86,113.93 47.28,112.67 50.89,112.89 50.47,114.16" fill="#f3dda0" stroke="#f3dda0" stroke-width="0.25"/>
<polygon points="47.28,112.67 47.67,111.71 51.29,111.93 50.89,112.89" fill="#f2db99" stroke="#f2db99" stroke-width="0.25"/>
<polygon points="47.67,111.71 48.05,111.12 51.66,111.34 51.29,111.93" fill="#f2db99" stroke="#f2db99" stroke-width="0.25"/>
<polygon points="48.05,111.12 48.4,110.94 52.01,111.16 51.66,111.34" fill="#f2da98" stroke="#f2da98" stroke-width="0.25"/>
<polygon points="51.67,123.56 52.02,123.33 55.63,123.55 55.28,123.78" fill="#f2d793" stroke="#f2d793" stroke-width="0.25"/>
<polygon points="52.02,123.33 52.39,122.7 56,122.92 55.63,123.55" fill="#f2d693" stroke="#f2d693" stroke-width="0.25"/>
<polygon points="52.39,122.7 52.79,121.7 56.4,121.92 56,122.92" fill="#f2d694" stroke="#f2d694" stroke-width="0.25"/>
<polygon points="52.79,121.7 53.21,120.4 56.82,120.63 56.4,121.92" fill="#f3d99a" stroke="#f3d99a" stroke-width="0.25"/>
<polygon points="53.21,120.4 53.64,118.91 57.25,119.13 56.82,120.63" fill="#f3da9e" stroke="#f3da9e" stroke-width="0.25"/>
<polygon points="53.64,118.91 54.07,117.32 57.68,117.54 57.25,119.13" fill="#f4dba0" stroke="#f4dba0" stroke-width="0.25"/>
<polygon points="54.07,117.32 54.51,115.73 58.12,115.96 57.68,117.54" fill="#f4dba0" stroke="#f4dba0" stroke-width="0.25"/>
<polygon points="54.51,115.73 54.93,114.28 58.55,114.5 58.12,115.96" fill="#f3d99d" stroke="#f3d99d" stroke-width="0.25"/>
<polygon points="54.93,114.28 55.35,113.04 58.96,113.26 58.55,114.5" fill="#f3d796" stroke="#f3d796" stroke-width="0.25"/>
<polygon points="55.35,113.04 55.74,112.12 59.35,112.34 58.96,113.26" fill="#f2d490" stroke="#f2d490" stroke-width="0.25"/>
<polygon points="55.74,112.12 56.11,111.57 59.72,111.79 59.35,112.34" fill="#f2d490" stroke="#f2d490" stroke-width="0.25"/>
<polygon points="56.11,111.57 56.46,111.44 60.07,111.66 59.72,111.79" fill="#f2d38f" stroke="#f2d38f" stroke-width="0.25"/>
<polygon points="59.73,124.05 60.08,123.77 63.69,124 63.34,124.27" fill="#f2cf8a" stroke="#f2cf8a" stroke-width="0.25"/>
<polygon points="60.08,123.77 60.46,123.1 64.07,123.32 63.69,124" fill="#f2cf8a" stroke="#f2cf8a" stroke-width="0.25"/>
<polygon points="60.46,123.1 60.86,122.06 64.47,122.28 64.07,123.32" fill="#f2d08c" stroke="#f2d08c" stroke-width="0.25"/>
<polygon points="60.86,122.06 61.28,120.74 64.89,120.96 64.47,122.28" fill="#f3d292" stroke="#f3d292" stroke-width="0.25"/>
<polygon points="61.28,120.74 61.71,119.23 65.32,119.45 64.89,120.96" fill="#f4d497" stroke="#f4d497" stroke-width="0.25"/>
<polygon points="61.71,119.23 62.15,117.63 65.76,117.85 65.32,119.45" fill="#f4d599" stroke="#f4d599" stroke-width="0.25"/>
<polygon points="62.15,117.63 62.58,116.06 66.19,116.28 65.76,117.85" fill="#f4d498" stroke="#f4d498" stroke-width="0.25"/>
<polygon points="62.58,116.06 63.01,114.62 66.62,114.84 66.19,116.28" fill="#f3d294" stroke="#f3d294" stroke-width="0.25"/>
<polygon points="63.01,114.62 63.42,113.42 67.03,113.64 66.62,114.84" fill="#f3d08d" stroke="#f3d08d" stroke-width="0.25"/>
<polygon points="63.42,113.42 63.81,112.53 67.42,112.75 67.03,113.64" fill="#f2cd87" stroke="#f2cd87" stroke-width="0.25"/>
<polygon points="63.81,112.53 64.18,112.03 67.79,112.25 67.42,112.75" fill="#f2cc87" stroke="#f2cc87" stroke-width="0.25"/>
<polygon points="64.18,112.03 64.52,111.94 68.13,112.16 67.79,112.25" fill="#f2cc86" stroke="#f2cc86" stroke-width="0.25"/>
<polygon points="67.79,124.53 68.15,124.21 71.76,124.43 71.4,124.75" fill="#f2c881" stroke="#f2c881" stroke-width="0.25"/>
<polygon points="68.15,124.21 68.53,123.49 72.14,123.71 71.76,124.43" fill="#f2c881" stroke="#f2c881" stroke-width="0.25"/>
<polygon points="68.53,123.49 68.93,122.42 72.54,122.64 72.14,123.71" fill="#f2c884" stroke="#f2c884" stroke-width="0.25"/>
<polygon points="68.93,122.42 69.35,121.07 72.96,121.3 72.54,122.64" fill="#f3cc8a" stroke="#f3cc8a" stroke-width="0.25"/>
<polygon points="69.35,121.07 69.78,119.55 73.39,119.77 72.96,121.3" fill="#f4ce8f" stroke="#f4ce8f" stroke-width="0.25"/>
<polygon points="69.78,119.55 70.22,117.95 73.83,118.17 73.39,119.77" fill="#f4cf91" stroke="#f4cf91" stroke-width="0.25"/>
<polygon points="70.22,117.95 70.65,116.38 74.26,116.61 73.83,118.17" fill="#f4cd8f" stroke="#f4cd8f" stroke-width="0.25"/>
<polygon points="70.65,116.38 71.08,114.97 74.69,115.19 74.26,116.61" fill="#f3cc8b" stroke="#f3cc8b" stroke-width="0.25"/>
<polygon points="71.08,114.97 71.49,113.79 75.1,114.02 74.69,115.19" fill="#f3c984" stroke="#f3c984" stroke-width="0.25"/>
<polygon points="71.49,113.79 71.88,112.95 75.49,113.17 75.1,114.02" fill="#f2c57e" stroke="#f2c57e" stroke-width="0.25"/>
<polygon points="71.88,112.95 72.24,112.49 75.85,112.71 75.49,113.17" fill="#f2c57e" stroke="#f2c57e" stroke-width="0.25"/>
<polygon points="72.24,112.49 72.58,112.45 76.19,112.67 75.85,112.71" fill="#f2c57d" stroke="#f2c57d" stroke-width="0.25"/>
<polygon points="41.76,125.15 42.03,125.4 44.36,125.93 44.09,125.68" fill="#18468b" stroke="#18468b" stroke-width="0.25"/>
<polygon points="42.03,125.4 42.23,126 44.56,126.53 44.36,125.93" fill="#18468c" stroke="#18468c" stroke-width="0.25"/>
<polygon points="42.23,126 42.35,126.91 44.68,127.43 44.56,126.53" fill="#18478c" stroke="#18478c" stroke-width="0.25"/>
<polygon points="42.35,126.91 42.42,128.07 44.75,128.59 44.68,127.43" fill="#18478c" stroke="#18478c" stroke-width="0.25"/>
<polygon points="42.42,128.07 42.44,129.41 44.77,129.93 44.75,128.59" fill="#18488c" stroke="#18488c" stroke-width="0.25"/>
<polygon points="42.44,129.41 42.45,130.84 44.78,131.37 44.77,129.93" fill="#18488c" stroke="#18488c" stroke-width="0.25"/>
<polygon points="42.45,130.84 42.45,132.28 44.78,132.8 44.78,131.37" fill="#19488c" stroke="#19488c" stroke-width="0.25"/>
<polygon points="42.45,132.28 42.48,133.62 44.81,134.14 44.78,132.8" fill="#19498d" stroke="#19498d" stroke-width="0.25"/>
<polygon points="42.48,133.62 42.54,134.78 44.87,135.3 44.81,134.14" fill="#19498d" stroke="#19498d" stroke-width="0.25"/>
<polygon points="42.54,134.78 42.67,135.69 45,136.21 44.87,135.3" fill="#1a4a8e" stroke="#1a4a8e" stroke-width="0.25"/>
<polygon points="42.67,135.69 42.86,136.28 45.19,136.81 45,136.21" fill="#1a4b8e" stroke="#1a4b8e" stroke-width="0.25"/>
<polygon points="42.86,136.28 43.13,136.53 45.46,137.06 45.19,136.81" fill="#1a4b8e" stroke="#1a4b8e" stroke-width="0.25"/>
<polygon points="49.25,126.84 49.52,127.09 51.85,127.62 51.58,127.37" fill="#1d5192" stroke="#1d5192" stroke-width="0.25"/>
<polygon points="49.52,127.09 49.72,127.69 52.05,128.21 51.85,127.62" fill="#1e5293" stroke="#1e5293" stroke-width="0.25"/>
<polygon points="49.72,127.69 49.84,128.6 52.17,129.12 52.05,128.21" fill="#1e5293" stroke="#1e5293" stroke-width="0.25"/>
<polygon points="49.84,128.6 49.91,129.76 52.24,130.28 52.17,129.12" fill="#1e5393" stroke="#1e5393" stroke-width="0.25"/>
<polygon points="49.91,129.76 49.93,131.1 52.26,131.62 52.24,130.28" fill="#1f5494" stroke="#1f5494" stroke-width="0.25"/>
<polygon points="49.93,131.1 49.94,132.53 52.27,133.06 52.26,131.62" fill="#1f5494" stroke="#1f5494" stroke-width="0.25"/>
<polygon points="49.94,132.53 49.94,133.97 52.27,134.49 52.27,133.06" fill="#1f5494" stroke="#1f5494" stroke-width="0.25"/>
<polygon points="49.94,133.97 49.97,135.31 52.3,135.83 52.27,134.49" fill="#205494" stroke="#205494" stroke-width="0.25"/>
<polygon points="49.97,135.31 50.04,136.47 52.37,136.99 52.3,135.83" fill="#205594" stroke="#205594" stroke-width="0.25"/>
<polygon points="50.04,136.47 50.16,137.37 52.49,137.9 52.37,136.99" fill="#205695" stroke="#205695" stroke-width="0.25"/>
<polygon points="50.16,137.37 50.35,137.97 52.68,138.5 52.49,137.9" fill="#205695" stroke="#205695" stroke-width="0.25"/>
<polygon points="50.35,137.97 50.63,138.22 52.96,138.75 52.68,138.5" fill="#205795" stroke="#205795" stroke-width="0.25"/>
<polygon points="56.74,128.53 57.02,128.78 59.35,129.3 59.08,129.05" fill="#245d99" stroke="#245d99" stroke-width="0.25"/>
<polygon points="57.02,128.78 57.21,129.38 59.54,129.9 59.35,129.3" fill="#245d9a" stroke="#245d9a" stroke-width="0.25"/>
<polygon points="57.21,129.38 57.33,130.28 59.66,130.81 59.54,129.9" fill="#245e9a" stroke="#245e9a" stroke-width="0.25"/>
<polygon points="57.33,130.28 57.4,131.44 59.73,131.97 59.66,130.81" fill="#245e9a" stroke="#245e9a" stroke-width="0.25"/>
<polygon points="57.4,131.44 57.43,132.78 59.76,133.31 59.73,131.97" fill="#245f9b" stroke="#245f9b" stroke-width="0.25"/>
<polygon points="57.43,132.78 57.43,134.22 59.76,134.74 59.76,133.31" fill="#24609b" stroke="#24609b" stroke-width="0.25"/>
<polygon points="57.43,134.22 57.44,135.65 59.77,136.18 59.76,134.74" fill="#25609b" stroke="#25609b" stroke-width="0.25"/>
<polygon points="57.44,135.65 57.46,136.99 59.79,137.52 59.77,136.18" fill="#25609c" stroke="#25609c" stroke-width="0.25"/>
<polygon points="57.46,136.99 57.53,138.15 59.86,138.68 59.79,137.52" fill="#25609c" stroke="#25609c" stroke-width="0.25"/>
<polygon points="57.53,138.15 57.65,139.06 59.98,139.59 59.86,138.68" fill="#26619c" stroke="#26619c" stroke-width="0.25"/>
<polygon points="57.65,139.06 57.85,139.66 60.18,140.18 59.98,139.59" fill="#26629c" stroke="#26629c" stroke-width="0.25"/>
<polygon points="57.85,139.66 58.12,139.91 60.45,140.43 60.18,140.18" fill="#26629c" stroke="#26629c" stroke-width="0.25"/>
<polygon points="64.24,130.22 64.51,130.47 66.84,130.99 66.57,130.74" fill="#2968a0" stroke="#2968a0" stroke-width="0.25"/>
<polygon points="64.51,130.47 64.7,131.06 67.03,131.59 66.84,130.99" fill="#2a69a1" stroke="#2a69a1" stroke-width="0.25"/>
<polygon points="64.7,131.06 64.83,131.97 67.16,132.5 67.03,131.59" fill="#2a69a1" stroke="#2a69a1" stroke-width="0.25"/>
<polygon points="64.83,131.97 64.89,133.13 67.22,133.66 67.16,132.5" fill="#2a6aa1" stroke="#2a6aa1" stroke-width="0.25"/>
<polygon points="64.89,133.13 64.92,134.47 67.25,135 67.22,133.66" fill="#2b6ba2" stroke="#2b6ba2" stroke-width="0.25"/>
<polygon points="64.92,134.47 64.92,135.91 67.25,136.43 67.25,135" fill="#2b6ba2" stroke="#2b6ba2" stroke-width="0.25"/>
<polygon points="64.92,135.91 64.93,137.34 67.26,137.87 67.25,136.43" fill="#2b6ca3" stroke="#2b6ca3" stroke-width="0.25"/>
<polygon points="64.93,137.34 64.95,138.68 67.29,139.21 67.26,137.87" fill="#2c6ca3" stroke="#2c6ca3" stroke-width="0.25"/>
<polygon points="64.95,138.68 65.02,139.84 67.35,140.37 67.29,139.21" fill="#2c6ca3" stroke="#2c6ca3" stroke-width="0.25"/>
<polygon points="65.02,139.84 65.14,140.75 67.48,141.27 67.35,140.37" fill="#2c6da4" stroke="#2c6da4" stroke-width="0.25"/>
<polygon points="65.14,140.75 65.34,141.35 67.67,141.87 67.48,141.27" fill="#2c6da4" stroke="#2c6da4" stroke-width="0.25"/>
<polygon points="65.34,141.35 65.61,141.6 67.94,142.12 67.67,141.87" fill="#2c6ea4" stroke="#2c6ea4" stroke-width="0.25"/>
<polygon points="38.7,130 39.32,128.71 42.65,129.46 42.03,130.75" fill="#3a6bb7" stroke="#3a6bb7" stroke-width="0.25"/>
<polygon points="39.32,128.71 39.92,127.51 43.25,128.26 42.65,129.46" fill="#3568b5" stroke="#3568b5" stroke-width="0.25"/>
<polygon points="39.92,127.51 40.48,126.49 43.81,127.24 43.25,128.26" fill="#2c60b2" stroke="#2c60b2" stroke-width="0.25"/>
<polygon points="40.48,126.49 40.98,125.72 44.31,126.47 43.81,127.24" fill="#1d56ad" stroke="#1d56ad" stroke-width="0.25"/>
<polygon points="40.98,125.72 41.41,125.26 44.74,126.01 44.31,126.47" fill="#1d56ae" stroke="#1d56ae" stroke-width="0.25"/>
<polygon points="41.41,125.26 41.76,125.15 45.09,125.9 44.74,126.01" fill="#1e57ae" stroke="#1e57ae" stroke-width="0.25"/>
<polygon points="43.13,136.53 43.49,136.42 46.82,137.17 46.46,137.28" fill="#225fb3" stroke="#225fb3" stroke-width="0.25"/>
<polygon points="43.49,136.42 43.92,135.97 47.25,136.72 46.82,137.17" fill="#225fb3" stroke="#225fb3" stroke-width="0.25"/>
<polygon points="43.92,135.97 44.42,135.2 47.75,135.95 47.25,136.72" fill="#2260b4" stroke="#2260b4" stroke-width="0.25"/>
<polygon points="44.42,135.2 44.97,134.18 48.3,134.93 47.75,135.95" fill="#316bb9" stroke="#316bb9" stroke-width="0.25"/>
<polygon points="44.97,134.18 45.57,132.98 48.9,133.73 48.3,134.93" fill="#3b72bc" stroke="#3b72bc" stroke-width="0.25"/>
<polygon points="45.57,132.98 46.19,131.69 49.52,132.44 48.9,133.73" fill="#4077bf" stroke="#4077bf" stroke-width="0.25"/>
<polygon points="46.19,131.69 46.81,130.39 50.14,131.14 49.52,132.44" fill="#4177bf" stroke="#4177bf" stroke-width="0.25"/>
<polygon points="46.81,130.39 47.41,129.19 50.74,129.94 50.14,131.14" fill="#3c74bd" stroke="#3c74bd" stroke-width="0.25"/>
<polygon points="47.41,129.19 47.97,128.17 51.3,128.92 50.74,129.94" fill="#326ebb" stroke="#326ebb" stroke-width="0.25"/>
<polygon points="47.97,128.17 48.47,127.41 51.8,128.16 51.3,128.92" fill="#2464b6" stroke="#2464b6" stroke-width="0.25"/>
<polygon points="48.47,127.41 48.9,126.95 52.23,127.7 51.8,128.16" fill="#2565b6" stroke="#2565b6" stroke-width="0.25"/>
<polygon points="48.9,126.95 49.25,126.84 52.58,127.59 52.23,127.7" fill="#2566b7" stroke="#2566b7" stroke-width="0.25"/>
<polygon points="50.63,138.22 50.98,138.11 54.31,138.86 53.96,138.97" fill="#296dbc" stroke="#296dbc" stroke-width="0.25"/>
<polygon points="50.98,138.11 51.41,137.66 54.74,138.41 54.31,138.86" fill="#296ebc" stroke="#296ebc" stroke-width="0.25"/>
<polygon points="51.41,137.66 51.91,136.89 55.24,137.64 54.74,138.41" fill="#2a6fbc" stroke="#2a6fbc" stroke-width="0.25"/>
<polygon points="51.91,136.89 52.47,135.87 55.8,136.62 55.24,137.64" fill="#3878c1" stroke="#3878c1" stroke-width="0.25"/>
<polygon points="52.47,135.87 53.07,134.67 56.4,135.42 55.8,136.62" fill="#4280c4" stroke="#4280c4" stroke-width="0.25"/>
<polygon points="53.07,134.67 53.69,133.38 57.02,134.12 56.4,135.42" fill="#4783c7" stroke="#4783c7" stroke-width="0.25"/>
<polygon points="53.69,133.38 54.3,132.08 57.63,132.83 57.02,134.12" fill="#4784c7" stroke="#4784c7" stroke-width="0.25"/>
<polygon points="54.3,132.08 54.9,130.88 58.23,131.63 57.63,132.83" fill="#4282c5" stroke="#4282c5" stroke-width="0.25"/>
<polygon points="54.9,130.88 55.46,129.86 58.79,130.61 58.23,131.63" fill="#3a7bc3" stroke="#3a7bc3" stroke-width="0.25"/>
<polygon points="55.46,129.86 55.96,129.09 59.29,129.84 58.79,130.61" fill="#2c73bf" stroke="#2c73bf" stroke-width="0.25"/>
<polygon points="55.96,129.09 56.39,128.64 59.72,129.39 59.29,129.84" fill="#2c73c0" stroke="#2c73c0" stroke-width="0.25"/>
<polygon points="56.39,128.64 56.74,128.53 60.07,129.28 59.72,129.39" fill="#2d74c0" stroke="#2d74c0" stroke-width="0.25"/>
<polygon points="58.12,139.91 58.47,139.8 61.8,140.55 61.45,140.66" fill="#317cc5" stroke="#317cc5" stroke-width="0.25"/>
<polygon points="58.47,139.8 58.9,139.34 62.23,140.09 61.8,140.55" fill="#317cc5" stroke="#317cc5" stroke-width="0.25"/>
<polygon points="58.9,139.34 59.4,138.58 62.73,139.33 62.23,140.09" fill="#317dc6" stroke="#317dc6" stroke-width="0.25"/>
<polygon points="59.4,138.58 59.96,137.56 63.29,138.31 62.73,139.33" fill="#3f86ca" stroke="#3f86ca" stroke-width="0.25"/>
<polygon points="59.96,137.56 60.56,136.36 63.89,137.11 63.29,138.31" fill="#498ccc" stroke="#498ccc" stroke-width="0.25"/>
<polygon points="60.56,136.36 61.18,135.06 64.51,135.81 63.89,137.11" fill="#4d90cf" stroke="#4d90cf" stroke-width="0.25"/>
<polygon points="61.18,135.06 61.8,133.77 65.13,134.52 64.51,135.81" fill="#4d91cf" stroke="#4d91cf" stroke-width="0.25"/>
<polygon points="61.8,133.77 62.4,132.57 65.73,133.32 65.13,134.52" fill="#4a8ecd" stroke="#4a8ecd" stroke-width="0.25"/>
<polygon points="62.4,132.57 62.95,131.55 66.28,132.3 65.73,133.32" fill="#4089cc" stroke="#4089cc" stroke-width="0.25"/>
<polygon points="62.95,131.55 63.45,130.78 66.78,131.53 66.28,132.3" fill="#3381c8" stroke="#3381c8" stroke-width="0.25"/>
<polygon points="63.45,130.78 63.88,130.33 67.21,131.08 66.78,131.53" fill="#3482c8" stroke="#3482c8" stroke-width="0.25"/>
<polygon points="63.88,130.33 64.24,130.22 67.57,130.97 67.21,131.08" fill="#3483c9" stroke="#3483c9" stroke-width="0.25"/>
<polygon points="65.61,141.6 65.96,141.49 69.29,142.24 68.94,142.35" fill="#388ace" stroke="#388ace" stroke-width="0.25"/>
<polygon points="65.96,141.49 66.39,141.03 69.72,141.78 69.29,142.24" fill="#388bce" stroke="#388bce" stroke-width="0.25"/>
<polygon points="66.39,141.03 66.89,140.26 70.22,141.01 69.72,141.78" fill="#398cce" stroke="#398cce" stroke-width="0.25"/>
<polygon points="66.89,140.26 67.45,139.24 70.78,139.99 70.22,141.01" fill="#4694d2" stroke="#4694d2" stroke-width="0.25"/>
<polygon points="67.45,139.24 68.05,138.04 71.38,138.79 70.78,139.99" fill="#4f9ad4" stroke="#4f9ad4" stroke-width="0.25"/>
<polygon points="68.05,138.04 68.67,136.75 72,137.5 71.38,138.79" fill="#549cd6" stroke="#549cd6" stroke-width="0.25"/>
<polygon points="56.09,138.05 56.47,138.2 59.08,137.8 58.71,137.65" fill="#ad181c" stroke="#ad181c" stroke-width="0.25"/>
<polygon points="56.47,138.2 56.89,138.69 59.51,138.3 59.08,137.8" fill="#ad181c" stroke="#ad181c" stroke-width="0.25"/>
<polygon points="56.89,138.69 57.36,139.49 59.98,139.1 59.51,138.3" fill="#ad191c" stroke="#ad191c" stroke-width="0.25"/>
<polygon points="57.36,139.49 57.87,140.53 60.49,140.14 59.98,139.1" fill="#ad191c" stroke="#ad191c" stroke-width="0.25"/>
<polygon points="57.87,140.53 58.41,141.75 61.03,141.36 60.49,140.14" fill="#ad1a1c" stroke="#ad1a1c" stroke-width="0.25"/>
<polygon points="58.41,141.75 58.96,143.05 61.57,142.65 61.03,141.36" fill="#ad1a1c" stroke="#ad1a1c" stroke-width="0.25"/>
<polygon points="58.96,143.05 59.5,144.33 62.12,143.94 61.57,142.65" fill="#ad1b1c" stroke="#ad1b1c" stroke-width="0.25"/>
<polygon points="59.5,144.33 60.03,145.52 62.65,145.12 62.12,143.94" fill="#ad1b1c" stroke="#ad1b1c" stroke-width="0.25"/>
<polygon points="60.03,145.52 60.53,146.51 63.15,146.11 62.65,145.12" fill="#ad1c1c" stroke="#ad1c1c" stroke-width="0.25"/>
<polygon points="60.53,146.51 60.99,147.23 63.61,146.84 63.15,146.11" fill="#ae1c1c" stroke="#ae1c1c" stroke-width="0.25"/>
<polygon points="60.99,147.23 61.41,147.64 64.02,147.25 63.61,146.84" fill="#ae1c1c" stroke="#ae1c1c" stroke-width="0.25"/>
<polygon points="61.41,147.64 61.77,147.7 64.39,147.31 64.02,147.25" fill="#ae1c1c" stroke="#ae1c1c" stroke-width="0.25"/>
<polygon points="64.36,136.82 64.74,137.06 67.36,136.66 66.97,136.43" fill="#af211d" stroke="#af211d" stroke-width="0.25"/>
<polygon points="64.74,137.06 65.18,137.63 67.8,137.24 67.36,136.66" fill="#af221d" stroke="#af221d" stroke-width="0.25"/>
<polygon points="65.18,137.63 65.66,138.5 68.28,138.11 67.8,137.24" fill="#af221d" stroke="#af221d" stroke-width="0.25"/>
<polygon points="65.66,138.5 66.18,139.6 68.8,139.2 68.28,138.11" fill="#af231d" stroke="#af231d" stroke-width="0.25"/>
<polygon points="66.18,139.6 66.72,140.84 69.34,140.45 68.8,139.2" fill="#b0231e" stroke="#b0231e" stroke-width="0.25"/>
<polygon points="66.72,140.84 67.27,142.14 69.89,141.75 69.34,140.45" fill="#b0241e" stroke="#b0241e" stroke-width="0.25"/>
<polygon points="67.27,142.14 67.81,143.41 70.43,143.02 69.89,141.75" fill="#b0241e" stroke="#b0241e" stroke-width="0.25"/>
<polygon points="67.81,143.41 68.34,144.55 70.95,144.16 70.43,143.02" fill="#b0241e" stroke="#b0241e" stroke-width="0.25"/>
<polygon points="68.34,144.55 68.83,145.48 71.44,145.09 70.95,144.16" fill="#b0241e" stroke="#b0241e" stroke-width="0.25"/>
<polygon points="68.83,145.48 69.28,146.14 71.89,145.74 71.44,145.09" fill="#b0241e" stroke="#b0241e" stroke-width="0.25"/>
<polygon points="69.28,146.14 69.68,146.46 72.3,146.07 71.89,145.74" fill="#b0251e" stroke="#b0251e" stroke-width="0.25"/>
<polygon points="69.68,146.46 70.03,146.43 72.64,146.04 72.3,146.07" fill="#b0251e" stroke="#b0251e" stroke-width="0.25"/>
<polygon points="72.28,135.65 72.62,135.62 75.24,135.22 74.89,135.25" fill="#b12a20" stroke="#b12a20" stroke-width="0.25"/>
<polygon points="72.62,135.62 73.02,135.94 75.64,135.55 75.24,135.22" fill="#b12b20" stroke="#b12b20" stroke-width="0.25"/>
<polygon points="73.02,135.94 73.47,136.59 76.09,136.2 75.64,135.55" fill="#b12b20" stroke="#b12b20" stroke-width="0.25"/>
<polygon points="73.47,136.59 73.97,137.52 76.58,137.13 76.09,136.2" fill="#b12c20" stroke="#b12c20" stroke-width="0.25"/>
<polygon points="73.97,137.52 74.49,138.67 77.11,138.27 76.58,137.13" fill="#b12c20" stroke="#b12c20" stroke-width="0.25"/>
<polygon points="74.49,138.67 75.03,139.93 77.65,139.54 77.11,138.27" fill="#b12c20" stroke="#b12c20" stroke-width="0.25"/>
<polygon points="75.03,139.93 75.58,141.24 78.2,140.84 77.65,139.54" fill="#b12c20" stroke="#b12c20" stroke-width="0.25"/>
<polygon points="75.58,141.24 76.12,142.48 78.74,142.09 78.2,140.84" fill="#b12c20" stroke="#b12c20" stroke-width="0.25"/>
<polygon points="76.12,142.48 76.64,143.58 79.25,143.18 78.74,142.09" fill="#b12d20" stroke="#b12d20" stroke-width="0.25"/>
<polygon points="76.64,143.58 77.12,144.45 79.74,144.05 79.25,143.18" fill="#b22d20" stroke="#b22d20" stroke-width="0.25"/>
<polygon points="77.12,144.45 77.56,145.02 80.18,144.63 79.74,144.05" fill="#b22e20" stroke="#b22e20" stroke-width="0.25"/>
<polygon points="77.56,145.02 77.95,145.26 80.56,144.86 80.18,144.63" fill="#b22e20" stroke="#b22e20" stroke-width="0.25"/>
<polygon points="54.8,143.5 54.94,142.1 58.68,141.54 58.54,142.94" fill="#dd3a40" stroke="#dd3a40" stroke-width="0.25"/>
<polygon points="54.94,142.1 55.1,140.8 58.84,140.24 58.68,141.54" fill="#dc353a" stroke="#dc353a" stroke-width="0.25"/>
<polygon points="55.1,140.8 55.28,139.68 59.02,139.12 58.84,140.24" fill="#da2b30" stroke="#da2b30" stroke-width="0.25"/>
<polygon points="55.28,139.68 55.5,138.81 59.24,138.25 59.02,139.12" fill="#d81d22" stroke="#d81d22" stroke-width="0.25"/>
<polygon points="55.5,138.81 55.77,138.26 59.51,137.69 59.24,138.25" fill="#d81e22" stroke="#d81e22" stroke-width="0.25"/>
<polygon points="55.77,138.26 56.09,138.05 59.83,137.49 59.51,137.69" fill="#d91e23" stroke="#d91e23" stroke-width="0.25"/>
<polygon points="61.77,147.7 62.08,147.41 65.81,146.84 65.51,147.14" fill="#da2524" stroke="#da2524" stroke-width="0.25"/>
<polygon points="62.08,147.41 62.33,146.77 66.07,146.21 65.81,146.84" fill="#da2524" stroke="#da2524" stroke-width="0.25"/>
<polygon points="62.33,146.77 62.54,145.83 66.28,145.27 66.07,146.21" fill="#db2928" stroke="#db2928" stroke-width="0.25"/>
<polygon points="62.54,145.83 62.72,144.66 66.46,144.09 66.28,145.27" fill="#dd3735" stroke="#dd3735" stroke-width="0.25"/>
<polygon points="62.72,144.66 62.87,143.32 66.61,142.76 66.46,144.09" fill="#de403e" stroke="#de403e" stroke-width="0.25"/>
<polygon points="62.87,143.32 63.01,141.92 66.75,141.35 66.61,142.76" fill="#df4442" stroke="#df4442" stroke-width="0.25"/>
<polygon points="63.01,141.92 63.15,140.54 66.89,139.97 66.75,141.35" fill="#e04341" stroke="#e04341" stroke-width="0.25"/>
<polygon points="63.15,140.54 63.32,139.27 67.05,138.71 66.89,139.97" fill="#df3e3b" stroke="#df3e3b" stroke-width="0.25"/>
<polygon points="63.32,139.27 63.51,138.2 67.25,137.64 67.05,138.71" fill="#dd3330" stroke="#dd3330" stroke-width="0.25"/>
<polygon points="63.51,138.2 63.74,137.41 67.48,136.85 67.25,137.64" fill="#db2925" stroke="#db2925" stroke-width="0.25"/>
<polygon points="63.74,137.41 64.02,136.94 67.76,136.38 67.48,136.85" fill="#db2925" stroke="#db2925" stroke-width="0.25"/>
<polygon points="64.02,136.94 64.36,136.82 68.09,136.26 67.76,136.38" fill="#db2a25" stroke="#db2a25" stroke-width="0.25"/>
<polygon points="70.03,146.43 70.32,146.05 74.06,145.48 73.76,145.87" fill="#dc3026" stroke="#dc3026" stroke-width="0.25"/>
<polygon points="70.32,146.05 70.57,145.33 74.3,144.77 74.06,145.48" fill="#dd3027" stroke="#dd3027" stroke-width="0.25"/>
<polygon points="70.57,145.33 70.77,144.33 74.5,143.76 74.3,144.77" fill="#de382e" stroke="#de382e" stroke-width="0.25"/>
<polygon points="70.77,144.33 70.93,143.1 74.67,142.54 74.5,143.76" fill="#e0433a" stroke="#e0433a" stroke-width="0.25"/>
<polygon points="70.93,143.1 71.08,141.74 74.82,141.18 74.67,142.54" fill="#e14c42" stroke="#e14c42" stroke-width="0.25"/>
<polygon points="71.08,141.74 71.22,140.33 74.96,139.77 74.82,141.18" fill="#e24e45" stroke="#e24e45" stroke-width="0.25"/>
<polygon points="71.22,140.33 71.37,138.97 75.11,138.41 74.96,139.77" fill="#e14c42" stroke="#e14c42" stroke-width="0.25"/>
<polygon points="71.37,138.97 71.54,137.75 75.27,137.19 75.11,138.41" fill="#e0453a" stroke="#e0453a" stroke-width="0.25"/>
<polygon points="71.54,137.75 71.74,136.75 75.48,136.19 75.27,137.19" fill="#de3b2e" stroke="#de3b2e" stroke-width="0.25"/>
<polygon points="71.74,136.75 71.98,136.03 75.72,135.47 75.48,136.19" fill="#dd3427" stroke="#dd3427" stroke-width="0.25"/>
<polygon points="71.98,136.03 72.28,135.65 76.01,135.08 75.72,135.47" fill="#dd3527" stroke="#dd3527" stroke-width="0.25"/>
<polygon points="77.95,145.26 78.28,145.14 82.02,144.58 81.68,144.69" fill="#df3b29" stroke="#df3b29" stroke-width="0.25"/>
<polygon points="78.28,145.14 78.56,144.67 82.3,144.1 82.02,144.58" fill="#df3b29" stroke="#df3b29" stroke-width="0.25"/>
<polygon points="78.56,144.67 78.79,143.87 82.53,143.31 82.3,144.1" fill="#df3c29" stroke="#df3c29" stroke-width="0.25"/>
<polygon points="78.79,143.87 78.99,142.81 82.72,142.25 82.53,143.31" fill="#e14634" stroke="#e14634" stroke-width="0.25"/>
<polygon points="78.99,142.81 79.15,141.54 82.89,140.98 82.72,142.25" fill="#e2503e" stroke="#e2503e" stroke-width="0.25"/>
<polygon points="79.15,141.54 79.29,140.16 83.03,139.6 82.89,140.98" fill="#e35645" stroke="#e35645" stroke-width="0.25"/>
<polygon points="79.29,140.16 79.43,138.76 83.17,138.19 83.03,139.6" fill="#e35846" stroke="#e35846" stroke-width="0.25"/>
<polygon points="79.43,138.76 79.58,137.42 83.32,136.86 83.17,138.19" fill="#e45543" stroke="#e45543" stroke-width="0.25"/>
<polygon points="79.58,137.42 79.76,136.25 83.5,135.68 83.32,136.86" fill="#e24e3a" stroke="#e24e3a" stroke-width="0.25"/>
<polygon points="79.76,136.25 79.97,135.31 83.71,134.75 83.5,135.68" fill="#e1422d" stroke="#e1422d" stroke-width="0.25"/>
<polygon points="79.97,135.31 80.23,134.67 83.96,134.11 83.71,134.75" fill="#e0402a" stroke="#e0402a" stroke-width="0.25"/>
<path d="M130,124 C130.67,123.67 132.83,121.83 134,122 C135.17,122.17 136,124.17 137,125 C138,125.83 139.5,126.67 140,127" fill="none" stroke="#142b70" stroke-width="2.5" stroke-linecap="round" stroke-linejoin="round"/>
<path d="M130,124 C130.67,123.67 132.83,121.83 134,122 C135.17,122.17 136,124.17 137,125 C138,125.83 139.5,126.67 140,127" fill="none" stroke="#1c3c9c" stroke-width="1.8" stroke-linecap="round" stroke-linejoin="round"/>
<path d="M176,113 C175.83,111.83 175.42,108.17 175,106 C174.58,103.83 173.5,101.83 173.5,100 C173.5,98.17 174.92,96.5 175,95 C175.08,93.5 173.5,91.83 174,91 C174.5,90.17 176.67,89.83 178,90 C179.33,90.17 180.67,92 182,92 C183.33,92 184.67,90.17 186,90 C187.33,89.83 188.57,90.17 190,91 C191.43,91.83 194.43,93.83 194.6,95 C194.77,96.17 192.27,97.33 191,98 C189.73,98.67 187.5,98 187,99 C186.5,100 188.17,102.17 188,104 C187.83,105.83 185.83,108.5 186,110 C186.17,111.5 188.5,112.5 189,113" fill="none" stroke="#6690a4" stroke-width="2.2" stroke-linecap="round" stroke-linejoin="round"/>
<path d="M176,113 C175.83,111.83 175.42,108.17 175,106 C174.58,103.83 173.5,101.83 173.5,100 C173.5,98.17 174.92,96.5 175,95 C175.08,93.5 173.5,91.83 174,91 C174.5,90.17 176.67,89.83 178,90 C179.33,90.17 180.67,92 182,92 C183.33,92 184.67,90.17 186,90 C187.33,89.83 188.57,90.17 190,91 C191.43,91.83 194.43,93.83 194.6,95 C194.77,96.17 192.27,97.33 191,98 C189.73,98.67 187.5,98 187,99 C186.5,100 188.17,102.17 188,104 C187.83,105.83 185.83,108.5 186,110 C186.17,111.5 188.5,112.5 189,113" fill="none" stroke="#8ec8e4" stroke-width="1.5" stroke-linecap="round" stroke-linejoin="round"/>
<path d="M176,137 C176.67,138 178.67,141 180,143 C181.33,145 182.67,147.17 184,149 C185.33,150.83 186.83,152.5 188,154 C189.17,155.5 190.5,157.33 191,158" fill="none" stroke="#6690a4" stroke-width="2.3" stroke-linecap="round" stroke-linejoin="round"/>
<path d="M176,137 C176.67,138 178.67,141 180,143 C181.33,145 182.67,147.17 184,149 C185.33,150.83 186.83,152.5 188,154 C189.17,155.5 190.5,157.33 191,158" fill="none" stroke="#8ec8e4" stroke-width="1.6" stroke-linecap="round" stroke-linejoin="round"/>
<path d="M178,142 C178.83,142.67 181.67,144.33 183,146 C184.33,147.67 185.5,151 186,152" fill="none" stroke="#3a80c8" stroke-width="1.2" stroke-linecap="round" stroke-linejoin="round"/>
<path d="M146,115 C145.5,115.67 143,117.67 143,119 C143,120.33 145.5,122.33 146,123" fill="none" stroke="#90a4ab" stroke-width="2.1" stroke-linecap="round" stroke-linejoin="round"/>
<path d="M146,115 C145.5,115.67 143,117.67 143,119 C143,120.33 145.5,122.33 146,123" fill="none" stroke="#c8e4ee" stroke-width="1.4" stroke-linecap="round" stroke-linejoin="round"/>
<polygon points="148.63,111.07 149.04,111.29 152.04,111.37 151.64,111.16" fill="#92b0b8" stroke="#92b0b8" stroke-width="0.25"/>
<polygon points="149.04,111.29 149.43,111.9 152.43,111.98 152.04,111.37" fill="#93b0b8" stroke="#93b0b8" stroke-width="0.25"/>
<polygon points="149.43,111.9 149.82,112.86 152.82,112.95 152.43,111.98" fill="#93b0b7" stroke="#93b0b7" stroke-width="0.25"/>
<polygon points="149.82,112.86 150.19,114.12 153.19,114.2 152.82,112.95" fill="#93b0b6" stroke="#93b0b6" stroke-width="0.25"/>
<polygon points="150.19,114.12 150.56,115.57 153.57,115.66 153.19,114.2" fill="#94b0b6" stroke="#94b0b6" stroke-width="0.25"/>
<polygon points="150.56,115.57 150.93,117.14 153.93,117.22 153.57,115.66" fill="#94b0b5" stroke="#94b0b5" stroke-width="0.25"/>
<polygon points="150.93,117.14 151.3,118.7 154.3,118.79 153.93,117.22" fill="#94b0b5" stroke="#94b0b5" stroke-width="0.25"/>
<polygon points="151.3,118.7 151.67,120.16 154.67,120.24 154.3,118.79" fill="#94b0b4" stroke="#94b0b4" stroke-width="0.25"/>
<polygon points="151.67,120.16 152.05,121.41 155.05,121.5 154.67,120.24" fill="#95b0b4" stroke="#95b0b4" stroke-width="0.25"/>
<polygon points="152.05,121.41 152.43,122.38 155.43,122.46 155.05,121.5" fill="#96b0b4" stroke="#96b0b4" stroke-width="0.25"/>
<polygon points="152.43,122.38 152.82,122.99 155.83,123.07 155.43,122.46" fill="#96b0b3" stroke="#96b0b3" stroke-width="0.25"/>
<polygon points="152.82,122.99 153.23,123.2 156.23,123.29 155.83,123.07" fill="#96b0b3" stroke="#96b0b3" stroke-width="0.25"/>
<polygon points="158.5,111.35 158.9,111.56 161.9,111.65 161.5,111.43" fill="#9cb0ac" stroke="#9cb0ac" stroke-width="0.25"/>
<polygon points="158.9,111.56 159.3,112.17 162.3,112.26 161.9,111.65" fill="#9cb0ac" stroke="#9cb0ac" stroke-width="0.25"/>
<polygon points="159.3,112.17 159.68,113.14 162.68,113.22 162.3,112.26" fill="#9cb0ab" stroke="#9cb0ab" stroke-width="0.25"/>
<polygon points="159.68,113.14 160.06,114.39 163.06,114.48 162.68,113.22" fill="#9cb0ab" stroke="#9cb0ab" stroke-width="0.25"/>
<polygon points="160.06,114.39 160.43,115.85 163.43,115.93 163.06,114.48" fill="#9db0aa" stroke="#9db0aa" stroke-width="0.25"/>
<polygon points="160.43,115.85 160.79,117.41 163.8,117.5 163.43,115.93" fill="#9eb0a9" stroke="#9eb0a9" stroke-width="0.25"/>
<polygon points="160.79,117.41 161.16,118.98 164.16,119.06 163.8,117.5" fill="#9eb0a9" stroke="#9eb0a9" stroke-width="0.25"/>
<polygon points="161.16,118.98 161.53,120.44 164.53,120.52 164.16,119.06" fill="#9eb0a8" stroke="#9eb0a8" stroke-width="0.25"/>
<polygon points="161.53,120.44 161.91,121.69 164.91,121.77 164.53,120.52" fill="#9fb0a8" stroke="#9fb0a8" stroke-width="0.25"/>
<polygon points="161.91,121.69 162.29,122.65 165.29,122.74 164.91,121.77" fill="#a0b0a8" stroke="#a0b0a8" stroke-width="0.25"/>
<polygon points="162.29,122.65 162.69,123.26 165.69,123.35 165.29,122.74" fill="#a0b0a7" stroke="#a0b0a7" stroke-width="0.25"/>
<polygon points="162.69,123.26 163.09,123.48 166.09,123.56 165.69,123.35" fill="#a0b0a7" stroke="#a0b0a7" stroke-width="0.25"/>
<polygon points="168.36,111.62 168.76,111.84 171.77,111.92 171.36,111.71" fill="#a5b1a0" stroke="#a5b1a0" stroke-width="0.25"/>
<polygon points="168.76,111.84 169.16,112.45 172.16,112.53 171.77,111.92" fill="#a6b1a0" stroke="#a6b1a0" stroke-width="0.25"/>
<polygon points="169.16,112.45 169.54,113.41 172.54,113.5 172.16,112.53" fill="#a6b19f" stroke="#a6b19f" stroke-width="0.25"/>
<polygon points="169.54,113.41 169.92,114.67 172.92,114.75 172.54,113.5" fill="#a6b19f" stroke="#a6b19f" stroke-width="0.25"/>
<polygon points="169.92,114.67 170.29,116.13 173.29,116.21 172.92,114.75" fill="#a7b19e" stroke="#a7b19e" stroke-width="0.25"/>
<polygon points="170.29,116.13 170.66,117.69 173.66,117.77 173.29,116.21" fill="#a8b19e" stroke="#a8b19e" stroke-width="0.25"/>
<polygon points="170.66,117.69 171.02,119.25 174.03,119.34 173.66,117.77" fill="#a8b19d" stroke="#a8b19d" stroke-width="0.25"/>
<polygon points="171.02,119.25 171.39,120.71 174.4,120.8 174.03,119.34" fill="#a8b19c" stroke="#a8b19c" stroke-width="0.25"/>
<polygon points="171.39,120.71 171.77,121.97 174.77,122.05 174.4,120.8" fill="#a8b19c" stroke="#a8b19c" stroke-width="0.25"/>
<polygon points="171.77,121.97 172.15,122.93 175.16,123.01 174.77,122.05" fill="#a9b19c" stroke="#a9b19c" stroke-width="0.25"/>
<polygon points="172.15,122.93 172.55,123.54 175.55,123.62 175.16,123.01" fill="#a9b19c" stroke="#a9b19c" stroke-width="0.25"/>
<polygon points="172.55,123.54 172.95,123.76 175.96,123.84 175.55,123.62" fill="#a9b19b" stroke="#a9b19b" stroke-width="0.25"/>
<polygon points="178.22,111.9 178.63,112.12 181.63,112.2 181.22,111.98" fill="#afb294" stroke="#afb294" stroke-width="0.25"/>
<polygon points="178.63,112.12 179.02,112.73 182.02,112.81 181.63,112.2" fill="#b0b294" stroke="#b0b294" stroke-width="0.25"/>
<polygon points="179.02,112.73 179.4,113.69 182.41,113.77 182.02,112.81" fill="#b0b294" stroke="#b0b294" stroke-width="0.25"/>
<polygon points="179.4,113.69 179.78,114.94 182.78,115.03 182.41,113.77" fill="#b0b293" stroke="#b0b293" stroke-width="0.25"/>
<polygon points="179.78,114.94 180.15,116.4 183.15,116.49 182.78,115.03" fill="#b0b292" stroke="#b0b292" stroke-width="0.25"/>
<polygon points="180.15,116.4 180.52,117.97 183.52,118.05 183.15,116.49" fill="#b1b292" stroke="#b1b292" stroke-width="0.25"/>
<polygon points="180.52,117.97 180.89,119.53 183.89,119.61 183.52,118.05" fill="#b1b291" stroke="#b1b291" stroke-width="0.25"/>
<polygon points="180.89,119.53 181.26,120.99 184.26,121.07 183.89,119.61" fill="#b1b291" stroke="#b1b291" stroke-width="0.25"/>
<polygon points="181.26,120.99 181.63,122.24 184.63,122.33 184.26,121.07" fill="#b2b290" stroke="#b2b290" stroke-width="0.25"/>
<polygon points="181.63,122.24 182.02,123.21 185.02,123.29 184.63,122.33" fill="#b3b290" stroke="#b3b290" stroke-width="0.25"/>
<polygon points="182.02,123.21 182.41,123.82 185.41,123.9 185.02,123.29" fill="#b3b290" stroke="#b3b290" stroke-width="0.25"/>
<polygon points="182.41,123.82 182.82,124.03 185.82,124.12 185.41,123.9" fill="#b3b28f" stroke="#b3b28f" stroke-width="0.25"/>
<polygon points="188.08,112.18 188.49,112.39 191.49,112.48 191.08,112.26" fill="#b8b288" stroke="#b8b288" stroke-width="0.25"/>
<polygon points="188.49,112.39 188.88,113 191.88,113.09 191.49,112.48" fill="#b9b288" stroke="#b9b288" stroke-width="0.25"/>
<polygon points="188.88,113 189.27,113.97 192.27,114.05 191.88,113.09" fill="#b9b288" stroke="#b9b288" stroke-width="0.25"/>
<polygon points="189.27,113.97 189.64,115.22 192.64,115.3 192.27,114.05" fill="#b9b387" stroke="#b9b387" stroke-width="0.25"/>
<polygon points="189.64,115.22 190.01,116.68 193.01,116.76 192.64,115.3" fill="#bab387" stroke="#bab387" stroke-width="0.25"/>
<polygon points="190.01,116.68 190.38,118.24 193.38,118.33 193.01,116.76" fill="#bbb386" stroke="#bbb386" stroke-width="0.25"/>
<polygon points="190.38,118.24 190.75,119.81 193.75,119.89 193.38,118.33" fill="#bbb385" stroke="#bbb385" stroke-width="0.25"/>
<polygon points="190.75,119.81 191.12,121.26 194.12,121.35 193.75,119.89" fill="#bbb385" stroke="#bbb385" stroke-width="0.25"/>
<polygon points="191.12,121.26 191.49,122.52 194.5,122.6 194.12,121.35" fill="#bcb384" stroke="#bcb384" stroke-width="0.25"/>
<polygon points="191.49,122.52 191.88,123.48 194.88,123.57 194.5,122.6" fill="#bcb384" stroke="#bcb384" stroke-width="0.25"/>
<polygon points="191.88,123.48 192.27,124.09 195.27,124.18 194.88,123.57" fill="#bcb384" stroke="#bcb384" stroke-width="0.25"/>
<polygon points="192.27,124.09 192.68,124.31 195.68,124.39 195.27,124.18" fill="#bcb383" stroke="#bcb383" stroke-width="0.25"/>
<polygon points="146,117 146.45,115.46 150.74,115.58 150.29,117.12" fill="#bee1ed" stroke="#bee1ed" stroke-width="0.25"/>
<polygon points="146.45,115.46 146.91,114.02 151.19,114.14 150.74,115.58" fill="#bce0eb" stroke="#bce0eb" stroke-width="0.25"/>
<polygon points="146.91,114.02 147.35,112.79 151.64,112.91 151.19,114.14" fill="#badeea" stroke="#badeea" stroke-width="0.25"/>
<polygon points="147.35,112.79 147.79,111.85 152.08,111.97 151.64,112.91" fill="#b6dce8" stroke="#b6dce8" stroke-width="0.25"/>
<polygon points="147.79,111.85 148.22,111.26 152.5,111.38 152.08,111.97" fill="#b6dce8" stroke="#b6dce8" stroke-width="0.25"/>
<polygon points="148.22,111.26 148.63,111.07 152.92,111.19 152.5,111.38" fill="#b6dce7" stroke="#b6dce7" stroke-width="0.25"/>
<polygon points="153.23,123.2 153.65,123.01 157.93,123.13 157.52,123.32" fill="#bddddf" stroke="#bddddf" stroke-width="0.25"/>
<polygon points="153.65,123.01 154.07,122.42 158.36,122.54 157.93,123.13" fill="#beddde" stroke="#beddde" stroke-width="0.25"/>
<polygon points="154.07,122.42 154.51,121.48 158.8,121.6 158.36,122.54" fill="#beddde" stroke="#beddde" stroke-width="0.25"/>
<polygon points="154.51,121.48 154.96,120.25 159.24,120.37 158.8,121.6" fill="#c2dfdf" stroke="#c2dfdf" stroke-width="0.25"/>
<polygon points="154.96,120.25 155.41,118.82 159.7,118.94 159.24,120.37" fill="#c6e1e0" stroke="#c6e1e0" stroke-width="0.25"/>
<polygon points="155.41,118.82 155.86,117.28 160.15,117.4 159.7,118.94" fill="#c8e2e1" stroke="#c8e2e1" stroke-width="0.25"/>
<polygon points="155.86,117.28 156.32,115.74 160.6,115.86 160.15,117.4" fill="#c8e2e0" stroke="#c8e2e0" stroke-width="0.25"/>
<polygon points="156.32,115.74 156.77,114.3 161.06,114.42 160.6,115.86" fill="#c7e1df" stroke="#c7e1df" stroke-width="0.25"/>
<polygon points="156.77,114.3 157.21,113.07 161.5,113.19 161.06,114.42" fill="#c5dfdc" stroke="#c5dfdc" stroke-width="0.25"/>
<polygon points="157.21,113.07 157.65,112.13 161.94,112.25 161.5,113.19" fill="#c2ddd9" stroke="#c2ddd9" stroke-width="0.25"/>
<polygon points="157.65,112.13 158.08,111.54 162.37,111.66 161.94,112.25" fill="#c2ddd9" stroke="#c2ddd9" stroke-width="0.25"/>
<polygon points="158.08,111.54 158.5,111.35 162.78,111.47 162.37,111.66" fill="#c2ddd8" stroke="#c2ddd8" stroke-width="0.25"/>
<polygon points="163.09,123.48 163.51,123.29 167.8,123.41 167.38,123.6" fill="#c9ddd0" stroke="#c9ddd0" stroke-width="0.25"/>
<polygon points="163.51,123.29 163.94,122.7 168.22,122.82 167.8,123.41" fill="#caddcf" stroke="#caddcf" stroke-width="0.25"/>
<polygon points="163.94,122.7 164.37,121.76 168.66,121.88 168.22,122.82" fill="#caddcf" stroke="#caddcf" stroke-width="0.25"/>
<polygon points="164.37,121.76 164.82,120.53 169.11,120.65 168.66,121.88" fill="#cde0d1" stroke="#cde0d1" stroke-width="0.25"/>
<polygon points="164.82,120.53 165.27,119.09 169.56,119.21 169.11,120.65" fill="#d1e2d3" stroke="#d1e2d3" stroke-width="0.25"/>
<polygon points="165.27,119.09 165.72,117.55 170.01,117.67 169.56,119.21" fill="#d3e2d4" stroke="#d3e2d4" stroke-width="0.25"/>
<polygon points="165.72,117.55 166.18,116.01 170.47,116.13 170.01,117.67" fill="#d3e2d3" stroke="#d3e2d3" stroke-width="0.25"/>
<polygon points="166.18,116.01 166.63,114.58 170.92,114.7 170.47,116.13" fill="#d2e2d2" stroke="#d2e2d2" stroke-width="0.25"/>
<polygon points="166.63,114.58 167.08,113.35 171.36,113.47 170.92,114.7" fill="#d0e0ce" stroke="#d0e0ce" stroke-width="0.25"/>
<polygon points="167.08,113.35 167.51,112.4 171.8,112.52 171.36,113.47" fill="#cedecb" stroke="#cedecb" stroke-width="0.25"/>
<polygon points="167.51,112.4 167.94,111.82 172.23,111.94 171.8,112.52" fill="#cedeca" stroke="#cedeca" stroke-width="0.25"/>
<polygon points="167.94,111.82 168.36,111.62 172.65,111.74 172.23,111.94" fill="#cedec9" stroke="#cedec9" stroke-width="0.25"/>
<polygon points="172.95,123.76 173.37,123.56 177.66,123.68 177.24,123.88" fill="#d5dec1" stroke="#d5dec1" stroke-width="0.25"/>
<polygon points="173.37,123.56 173.8,122.98 178.09,123.1 177.66,123.68" fill="#d6dec1" stroke="#d6dec1" stroke-width="0.25"/>
<polygon points="173.8,122.98 174.24,122.03 178.52,122.15 178.09,123.1" fill="#d6dec0" stroke="#d6dec0" stroke-width="0.25"/>
<polygon points="174.24,122.03 174.68,120.8 178.97,120.92 178.52,122.15" fill="#d9e0c3" stroke="#d9e0c3" stroke-width="0.25"/>
<polygon points="174.68,120.8 175.13,119.37 179.42,119.49 178.97,120.92" fill="#dbe2c6" stroke="#dbe2c6" stroke-width="0.25"/>
<polygon points="175.13,119.37 175.59,117.83 179.88,117.95 179.42,119.49" fill="#dde2c7" stroke="#dde2c7" stroke-width="0.25"/>
<polygon points="175.59,117.83 176.04,116.29 180.33,116.41 179.88,117.95" fill="#dde2c7" stroke="#dde2c7" stroke-width="0.25"/>
<polygon points="176.04,116.29 176.49,114.85 180.78,114.97 180.33,116.41" fill="#dce2c4" stroke="#dce2c4" stroke-width="0.25"/>
<polygon points="176.49,114.85 176.94,113.62 181.23,113.74 180.78,114.97" fill="#dbe0c0" stroke="#dbe0c0" stroke-width="0.25"/>
<polygon points="176.94,113.62 177.38,112.68 181.66,112.8 181.23,113.74" fill="#dadebc" stroke="#dadebc" stroke-width="0.25"/>
<polygon points="177.38,112.68 177.8,112.09 182.09,112.21 181.66,112.8" fill="#dadfbb" stroke="#dadfbb" stroke-width="0.25"/>
<polygon points="177.8,112.09 178.22,111.9 182.51,112.02 182.09,112.21" fill="#dadfbb" stroke="#dadfbb" stroke-width="0.25"/>
<polygon points="182.82,124.03 183.23,123.84 187.52,123.96 187.1,124.15" fill="#e1dfb2" stroke="#e1dfb2" stroke-width="0.25"/>
<polygon points="183.23,123.84 183.66,123.25 187.95,123.37 187.52,123.96" fill="#e2dfb2" stroke="#e2dfb2" stroke-width="0.25"/>
<polygon points="183.66,123.25 184.1,122.31 188.39,122.43 187.95,123.37" fill="#e2dfb1" stroke="#e2dfb1" stroke-width="0.25"/>
<polygon points="184.1,122.31 184.54,121.08 188.83,121.2 188.39,122.43" fill="#e4e1b6" stroke="#e4e1b6" stroke-width="0.25"/>
<polygon points="184.54,121.08 185,119.64 189.28,119.76 188.83,121.2" fill="#e6e3b9" stroke="#e6e3b9" stroke-width="0.25"/>
<polygon points="185,119.64 185.45,118.1 189.74,118.22 189.28,119.76" fill="#e8e3ba" stroke="#e8e3ba" stroke-width="0.25"/>
<polygon points="185.45,118.1 185.9,116.56 190.19,116.68 189.74,118.22" fill="#e8e3ba" stroke="#e8e3ba" stroke-width="0.25"/>
<polygon points="185.9,116.56 186.36,115.13 190.64,115.25 190.19,116.68" fill="#e7e3b7" stroke="#e7e3b7" stroke-width="0.25"/>
<polygon points="186.36,115.13 186.8,113.9 191.09,114.02 190.64,115.25" fill="#e7e1b3" stroke="#e7e1b3" stroke-width="0.25"/>
<polygon points="186.8,113.9 187.24,112.96 191.53,113.08 191.09,114.02" fill="#e6dfad" stroke="#e6dfad" stroke-width="0.25"/>
<polygon points="187.24,112.96 187.67,112.37 191.95,112.49 191.53,113.08" fill="#e6dfac" stroke="#e6dfac" stroke-width="0.25"/>
<polygon points="187.67,112.37 188.08,112.18 192.37,112.3 191.95,112.49" fill="#e6dfac" stroke="#e6dfac" stroke-width="0.25"/>
<polygon points="192.68,124.31 193.1,124.12 197.38,124.24 196.97,124.43" fill="#ede0a4" stroke="#ede0a4" stroke-width="0.25"/>
<polygon points="193.1,124.12 193.52,123.53 197.81,123.65 197.38,124.24" fill="#eee0a3" stroke="#eee0a3" stroke-width="0.25"/>
<polygon points="193.52,123.53 193.96,122.59 198.25,122.71 197.81,123.65" fill="#eee0a2" stroke="#eee0a2" stroke-width="0.25"/>
<polygon points="193.96,122.59 194.41,121.36 198.69,121.48 198.25,122.71" fill="#efe2a8" stroke="#efe2a8" stroke-width="0.25"/>
<polygon points="194.41,121.36 194.86,119.92 199.15,120.04 198.69,121.48" fill="#f1e3ab" stroke="#f1e3ab" stroke-width="0.25"/>
<polygon points="194.86,119.92 195.31,118.38 199.6,118.5 199.15,120.04" fill="#f2e4ae" stroke="#f2e4ae" stroke-width="0.25"/>
<polygon points="144.45,135.17 144.92,135.35 148.25,135.18 147.79,135" fill="#c17c41" stroke="#c17c41" stroke-width="0.25"/>
<polygon points="144.92,135.35 145.4,135.87 148.73,135.7 148.25,135.18" fill="#c17c41" stroke="#c17c41" stroke-width="0.25"/>
<polygon points="145.4,135.87 145.89,136.69 149.22,136.53 148.73,135.7" fill="#c17d41" stroke="#c17d41" stroke-width="0.25"/>
<polygon points="145.89,136.69 146.4,137.77 149.73,137.61 149.22,136.53" fill="#c17d42" stroke="#c17d42" stroke-width="0.25"/>
<polygon points="146.4,137.77 146.91,139.02 150.25,138.86 149.73,137.61" fill="#c17d42" stroke="#c17d42" stroke-width="0.25"/>
<polygon points="146.91,139.02 147.44,140.36 150.77,140.19 150.25,138.86" fill="#c17e42" stroke="#c17e42" stroke-width="0.25"/>
<polygon points="147.44,140.36 147.95,141.69 151.29,141.52 150.77,140.19" fill="#c17e42" stroke="#c17e42" stroke-width="0.25"/>
<polygon points="147.95,141.69 148.47,142.91 151.8,142.74 151.29,141.52" fill="#c17e43" stroke="#c17e43" stroke-width="0.25"/>
<polygon points="148.47,142.91 148.98,143.95 152.31,143.78 151.8,142.74" fill="#c17f43" stroke="#c17f43" stroke-width="0.25"/>
<polygon points="148.98,143.95 149.47,144.72 152.8,144.55 152.31,143.78" fill="#c17f43" stroke="#c17f43" stroke-width="0.25"/>
<polygon points="149.47,144.72 149.94,145.18 153.28,145.01 152.8,144.55" fill="#c17f43" stroke="#c17f43" stroke-width="0.25"/>
<polygon points="149.94,145.18 150.4,145.28 153.74,145.12 153.28,145.01" fill="#c18044" stroke="#c18044" stroke-width="0.25"/>
<polygon points="155.31,134.64 155.78,134.88 159.11,134.71 158.65,134.47" fill="#c08346" stroke="#c08346" stroke-width="0.25"/>
<polygon points="155.78,134.88 156.26,135.46 159.59,135.3 159.11,134.71" fill="#c08447" stroke="#c08447" stroke-width="0.25"/>
<polygon points="156.26,135.46 156.76,136.34 160.09,136.18 159.59,135.3" fill="#c08447" stroke="#c08447" stroke-width="0.25"/>
<polygon points="156.76,136.34 157.27,137.46 160.6,137.29 160.09,136.18" fill="#c08447" stroke="#c08447" stroke-width="0.25"/>
<polygon points="157.27,137.46 157.78,138.74 161.12,138.57 160.6,137.29" fill="#c08448" stroke="#c08448" stroke-width="0.25"/>
<polygon points="157.78,138.74 158.31,140.08 161.64,139.91 161.12,138.57" fill="#c08448" stroke="#c08448" stroke-width="0.25"/>
<polygon points="158.31,140.08 158.82,141.39 162.16,141.22 161.64,139.91" fill="#c08448" stroke="#c08448" stroke-width="0.25"/>
<polygon points="158.82,141.39 159.34,142.59 162.67,142.42 162.16,141.22" fill="#c08548" stroke="#c08548" stroke-width="0.25"/>
<polygon points="159.34,142.59 159.84,143.58 163.17,143.41 162.67,142.42" fill="#c08548" stroke="#c08548" stroke-width="0.25"/>
<polygon points="159.84,143.58 160.33,144.29 163.66,144.13 163.17,143.41" fill="#c08548" stroke="#c08548" stroke-width="0.25"/>
<polygon points="160.33,144.29 160.8,144.69 164.14,144.52 163.66,144.13" fill="#c08648" stroke="#c08648" stroke-width="0.25"/>
<polygon points="160.8,144.69 161.26,144.72 164.59,144.56 164.14,144.52" fill="#c08648" stroke="#c08648" stroke-width="0.25"/>
<polygon points="166.17,134.12 166.64,134.43 169.97,134.26 169.5,133.95" fill="#c0894c" stroke="#c0894c" stroke-width="0.25"/>
<polygon points="166.64,134.43 167.13,135.07 170.46,134.9 169.97,134.26" fill="#c08a4c" stroke="#c08a4c" stroke-width="0.25"/>
<polygon points="167.13,135.07 167.63,136 170.96,135.84 170.46,134.9" fill="#c08a4c" stroke="#c08a4c" stroke-width="0.25"/>
<polygon points="167.63,136 168.14,137.16 171.47,136.99 170.96,135.84" fill="#c08a4c" stroke="#c08a4c" stroke-width="0.25"/>
<polygon points="168.14,137.16 168.65,138.45 171.99,138.28 171.47,136.99" fill="#c08b4c" stroke="#c08b4c" stroke-width="0.25"/>
<polygon points="168.65,138.45 169.18,139.79 172.51,139.63 171.99,138.28" fill="#c08b4d" stroke="#c08b4d" stroke-width="0.25"/>
<polygon points="169.18,139.79 169.69,141.09 173.03,140.93 172.51,139.63" fill="#c08b4d" stroke="#c08b4d" stroke-width="0.25"/>
<polygon points="169.69,141.09 170.21,142.25 173.54,142.09 173.03,140.93" fill="#c08c4d" stroke="#c08c4d" stroke-width="0.25"/>
<polygon points="170.21,142.25 170.71,143.2 174.04,143.03 173.54,142.09" fill="#c08c4d" stroke="#c08c4d" stroke-width="0.25"/>
<polygon points="170.71,143.2 171.19,143.86 174.53,143.69 174.04,143.03" fill="#c08c4e" stroke="#c08c4e" stroke-width="0.25"/>
<polygon points="171.19,143.86 171.66,144.18 175,144.02 174.53,143.69" fill="#c08c4e" stroke="#c08c4e" stroke-width="0.25"/>
<polygon points="176.57,133.59 177.03,133.61 180.36,133.44 179.91,133.42" fill="#c09051" stroke="#c09051" stroke-width="0.25"/>
<polygon points="177.03,133.61 177.5,133.99 180.84,133.82 180.36,133.44" fill="#c09051" stroke="#c09051" stroke-width="0.25"/>
<polygon points="177.5,133.99 177.99,134.69 181.32,134.52 180.84,133.82" fill="#c09051" stroke="#c09051" stroke-width="0.25"/>
<polygon points="177.99,134.69 178.49,135.67 181.83,135.5 181.32,134.52" fill="#c09051" stroke="#c09051" stroke-width="0.25"/>
<polygon points="178.49,135.67 179.01,136.86 182.34,136.69 181.83,135.5" fill="#c09152" stroke="#c09152" stroke-width="0.25"/>
<polygon points="179.01,136.86 179.52,138.17 182.86,138 182.34,136.69" fill="#c09152" stroke="#c09152" stroke-width="0.25"/>
<polygon points="179.52,138.17 180.05,139.51 183.38,139.34 182.86,138" fill="#c09152" stroke="#c09152" stroke-width="0.25"/>
<polygon points="180.05,139.51 180.56,140.79 183.9,140.62 183.38,139.34" fill="#c09253" stroke="#c09253" stroke-width="0.25"/>
<polygon points="180.56,140.79 181.07,141.92 184.41,141.75 183.9,140.62" fill="#c09253" stroke="#c09253" stroke-width="0.25"/>
<polygon points="181.07,141.92 181.57,142.81 184.9,142.64 184.41,141.75" fill="#c09253" stroke="#c09253" stroke-width="0.25"/>
<polygon points="181.57,142.81 182.05,143.41 185.39,143.24 184.9,142.64" fill="#c09353" stroke="#c09353" stroke-width="0.25"/>
<polygon points="182.05,143.41 182.52,143.67 185.85,143.5 185.39,143.24" fill="#c09354" stroke="#c09354" stroke-width="0.25"/>
<polygon points="142,140.5 142.38,139.12 147.15,138.88 146.76,140.26" fill="#f4a867" stroke="#f4a867" stroke-width="0.25"/>
<polygon points="142.38,139.12 142.77,137.84 147.54,137.6 147.15,138.88" fill="#f3a563" stroke="#f3a563" stroke-width="0.25"/>
<polygon points="142.77,137.84 143.17,136.74 147.93,136.5 147.54,137.6" fill="#f3a15c" stroke="#f3a15c" stroke-width="0.25"/>
<polygon points="143.17,136.74 143.58,135.89 148.35,135.65 147.93,136.5" fill="#f29b51" stroke="#f29b51" stroke-width="0.25"/>
<polygon points="143.58,135.89 144.01,135.36 148.77,135.12 148.35,135.65" fill="#f29b51" stroke="#f29b51" stroke-width="0.25"/>
<polygon points="144.01,135.36 144.45,135.17 149.22,134.93 148.77,135.12" fill="#f29c51" stroke="#f29c51" stroke-width="0.25"/>
<polygon points="150.4,145.28 150.84,145.03 155.61,144.79 155.16,145.04" fill="#f2a055" stroke="#f2a055" stroke-width="0.25"/>
<polygon points="150.84,145.03 151.27,144.43 156.03,144.19 155.61,144.79" fill="#f2a055" stroke="#f2a055" stroke-width="0.25"/>
<polygon points="151.27,144.43 151.68,143.53 156.44,143.29 156.03,144.19" fill="#f2a258" stroke="#f2a258" stroke-width="0.25"/>
<polygon points="151.68,143.53 152.07,142.39 156.83,142.15 156.44,143.29" fill="#f3a863" stroke="#f3a863" stroke-width="0.25"/>
<polygon points="152.07,142.39 152.46,141.08 157.22,140.84 156.83,142.15" fill="#f4ac6a" stroke="#f4ac6a" stroke-width="0.25"/>
<polygon points="152.46,141.08 152.84,139.7 157.61,139.46 157.22,140.84" fill="#f4af6d" stroke="#f4af6d" stroke-width="0.25"/>
<polygon points="152.84,139.7 153.23,138.33 157.99,138.09 157.61,139.46" fill="#f4ae6d" stroke="#f4ae6d" stroke-width="0.25"/>
<polygon points="153.23,138.33 153.62,137.07 158.38,136.84 157.99,138.09" fill="#f3ac68" stroke="#f3ac68" stroke-width="0.25"/>
<polygon points="153.62,137.07 154.02,136.02 158.78,135.78 158.38,136.84" fill="#f2a860" stroke="#f2a860" stroke-width="0.25"/>
<polygon points="154.02,136.02 154.43,135.22 159.2,134.99 158.78,135.78" fill="#f1a358" stroke="#f1a358" stroke-width="0.25"/>
<polygon points="154.43,135.22 154.86,134.76 159.63,134.52 159.2,134.99" fill="#f1a458" stroke="#f1a458" stroke-width="0.25"/>
<polygon points="154.86,134.76 155.31,134.64 160.07,134.4 159.63,134.52" fill="#f1a458" stroke="#f1a458" stroke-width="0.25"/>
<polygon points="161.26,144.72 161.7,144.4 166.46,144.16 166.02,144.49" fill="#f1a85c" stroke="#f1a85c" stroke-width="0.25"/>
<polygon points="161.7,144.4 162.12,143.74 166.88,143.51 166.46,144.16" fill="#f1a95c" stroke="#f1a95c" stroke-width="0.25"/>
<polygon points="162.12,143.74 162.52,142.79 167.28,142.55 166.88,143.51" fill="#f1ab60" stroke="#f1ab60" stroke-width="0.25"/>
<polygon points="162.52,142.79 162.92,141.61 167.68,141.37 167.28,142.55" fill="#f2b06b" stroke="#f2b06b" stroke-width="0.25"/>
<polygon points="162.92,141.61 163.3,140.28 168.07,140.04 167.68,141.37" fill="#f3b471" stroke="#f3b471" stroke-width="0.25"/>
<polygon points="163.3,140.28 163.69,138.89 168.45,138.65 168.07,140.04" fill="#f3b673" stroke="#f3b673" stroke-width="0.25"/>
<polygon points="163.69,138.89 164.07,137.54 168.84,137.3 168.45,138.65" fill="#f3b572" stroke="#f3b572" stroke-width="0.25"/>
<polygon points="164.07,137.54 164.47,136.32 169.23,136.08 168.84,137.3" fill="#f2b36d" stroke="#f2b36d" stroke-width="0.25"/>
<polygon points="164.47,136.32 164.87,135.3 169.63,135.07 169.23,136.08" fill="#f2ae65" stroke="#f2ae65" stroke-width="0.25"/>
<polygon points="164.87,135.3 165.29,134.57 170.05,134.33 169.63,135.07" fill="#f1ab5e" stroke="#f1ab5e" stroke-width="0.25"/>
<polygon points="165.29,134.57 165.72,134.17 170.48,133.93 170.05,134.33" fill="#f1ac5f" stroke="#f1ac5f" stroke-width="0.25"/>
<polygon points="165.72,134.17 166.17,134.12 170.93,133.88 170.48,133.93" fill="#f1ac5f" stroke="#f1ac5f" stroke-width="0.25"/>
<polygon points="171.66,144.18 172.11,144.15 176.88,143.91 176.42,143.94" fill="#f1b062" stroke="#f1b062" stroke-width="0.25"/>
<polygon points="172.11,144.15 172.55,143.76 177.31,143.53 176.88,143.91" fill="#f1b062" stroke="#f1b062" stroke-width="0.25"/>
<polygon points="172.55,143.76 172.97,143.05 177.73,142.81 177.31,143.53" fill="#f1b163" stroke="#f1b163" stroke-width="0.25"/>
<polygon points="172.97,143.05 173.37,142.04 178.13,141.81 177.73,142.81" fill="#f2b469" stroke="#f2b469" stroke-width="0.25"/>
<polygon points="173.37,142.04 173.76,140.83 178.52,140.59 178.13,141.81" fill="#f2b872" stroke="#f2b872" stroke-width="0.25"/>
<polygon points="173.76,140.83 174.15,139.48 178.91,139.24 178.52,140.59" fill="#f3bc78" stroke="#f3bc78" stroke-width="0.25"/>
<polygon points="174.15,139.48 174.53,138.09 179.29,137.85 178.91,139.24" fill="#f3bd79" stroke="#f3bd79" stroke-width="0.25"/>
<polygon points="174.53,138.09 174.92,136.76 179.68,136.52 179.29,137.85" fill="#f3bb77" stroke="#f3bb77" stroke-width="0.25"/>
<polygon points="174.92,136.76 175.31,135.57 180.08,135.33 179.68,136.52" fill="#f2ba71" stroke="#f2ba71" stroke-width="0.25"/>
<polygon points="175.31,135.57 175.72,134.6 180.48,134.36 180.08,135.33" fill="#f1b569" stroke="#f1b569" stroke-width="0.25"/>
<polygon points="175.72,134.6 176.14,133.93 180.9,133.69 180.48,134.36" fill="#f0b465" stroke="#f0b465" stroke-width="0.25"/>
<polygon points="176.14,133.93 176.57,133.59 181.34,133.35 180.9,133.69" fill="#f0b465" stroke="#f0b465" stroke-width="0.25"/>
<polygon points="182.52,143.67 182.97,143.57 187.73,143.33 187.28,143.43" fill="#f0b869" stroke="#f0b869" stroke-width="0.25"/>
<polygon points="182.97,143.57 183.4,143.11 188.16,142.87 187.73,143.33" fill="#f0b969" stroke="#f0b969" stroke-width="0.25"/>
<polygon points="183.4,143.11 183.81,142.34 188.58,142.1 188.16,142.87" fill="#f0b969" stroke="#f0b969" stroke-width="0.25"/>
<polygon points="183.81,142.34 184.22,141.29 188.98,141.05 188.58,142.1" fill="#f1bd71" stroke="#f1bd71" stroke-width="0.25"/>
<polygon points="184.22,141.29 184.61,140.04 189.37,139.8 188.98,141.05" fill="#f2c179" stroke="#f2c179" stroke-width="0.25"/>
<polygon points="184.61,140.04 184.99,138.68 189.75,138.44 189.37,139.8" fill="#f2c37d" stroke="#f2c37d" stroke-width="0.25"/>
<polygon points="184.99,138.68 185.38,137.29 190.14,137.05 189.75,138.44" fill="#f2c37f" stroke="#f2c37f" stroke-width="0.25"/>
<polygon points="185.38,137.29 185.76,135.98 190.53,135.74 190.14,137.05" fill="#f2c37c" stroke="#f2c37c" stroke-width="0.25"/>
<polygon points="185.76,135.98 186.16,134.82 190.92,134.59 190.53,135.74" fill="#f1c076" stroke="#f1c076" stroke-width="0.25"/>
<polygon points="186.16,134.82 186.57,133.91 191.33,133.67 190.92,134.59" fill="#f0bc6d" stroke="#f0bc6d" stroke-width="0.25"/>
<polygon points="186.57,133.91 186.99,133.3 191.75,133.06 191.33,133.67" fill="#f0bc6c" stroke="#f0bc6c" stroke-width="0.25"/>
<polygon points="134.96,124.57 135.35,124.81 138.35,125.11 137.96,124.87" fill="#16428e" stroke="#16428e" stroke-width="0.25"/>
<polygon points="135.35,124.81 135.7,125.39 138.7,125.69 138.35,125.11" fill="#16438e" stroke="#16438e" stroke-width="0.25"/>
<polygon points="135.7,125.39 136.02,126.28 139.02,126.58 138.7,125.69" fill="#17438f" stroke="#17438f" stroke-width="0.25"/>
<polygon points="136.02,126.28 136.32,127.41 139.32,127.71 139.02,126.58" fill="#17448f" stroke="#17448f" stroke-width="0.25"/>
<polygon points="136.32,127.41 136.6,128.72 139.6,129.02 139.32,127.71" fill="#17448f" stroke="#17448f" stroke-width="0.25"/>
<polygon points="136.6,128.72 136.87,130.12 139.87,130.42 139.6,129.02" fill="#184490" stroke="#184490" stroke-width="0.25"/>
<polygon points="136.87,130.12 137.15,131.5 140.15,131.8 139.87,130.42" fill="#184590" stroke="#184590" stroke-width="0.25"/>
<polygon points="137.15,131.5 137.43,132.79 140.43,133.09 140.15,131.8" fill="#184590" stroke="#184590" stroke-width="0.25"/>
<polygon points="137.43,132.79 137.73,133.88 140.73,134.18 140.43,133.09" fill="#184690" stroke="#184690" stroke-width="0.25"/>
<polygon points="137.73,133.88 138.06,134.72 141.06,135.02 140.73,134.18" fill="#184690" stroke="#184690" stroke-width="0.25"/>
<polygon points="138.06,134.72 138.42,135.23 141.42,135.53 141.06,135.02" fill="#184790" stroke="#184790" stroke-width="0.25"/>
<polygon points="138.42,135.23 138.81,135.4 141.81,135.7 141.42,135.53" fill="#184890" stroke="#184890" stroke-width="0.25"/>
<polygon points="144.73,125.56 145.11,125.86 148.11,126.16 147.73,125.86" fill="#1c4d94" stroke="#1c4d94" stroke-width="0.25"/>
<polygon points="145.11,125.86 145.46,126.51 148.46,126.81 148.11,126.16" fill="#1c4d94" stroke="#1c4d94" stroke-width="0.25"/>
<polygon points="145.46,126.51 145.78,127.45 148.78,127.75 148.46,126.81" fill="#1c4e94" stroke="#1c4e94" stroke-width="0.25"/>
<polygon points="145.78,127.45 146.07,128.62 149.07,128.92 148.78,127.75" fill="#1d4e95" stroke="#1d4e95" stroke-width="0.25"/>
<polygon points="146.07,128.62 146.35,129.96 149.35,130.26 149.07,128.92" fill="#1d4f95" stroke="#1d4f95" stroke-width="0.25"/>
<polygon points="146.35,129.96 146.62,131.36 149.62,131.66 149.35,130.26" fill="#1d5095" stroke="#1d5095" stroke-width="0.25"/>
<polygon points="146.62,131.36 146.89,132.73 149.89,133.03 149.62,131.66" fill="#1e5096" stroke="#1e5096" stroke-width="0.25"/>
<polygon points="146.89,132.73 147.18,133.98 150.18,134.28 149.89,133.03" fill="#1e5096" stroke="#1e5096" stroke-width="0.25"/>
<polygon points="147.18,133.98 147.48,135.03 150.48,135.33 150.18,134.28" fill="#1e5096" stroke="#1e5096" stroke-width="0.25"/>
<polygon points="147.48,135.03 147.82,135.81 150.82,136.11 150.48,135.33" fill="#1e5196" stroke="#1e5196" stroke-width="0.25"/>
<polygon points="147.82,135.81 148.18,136.26 151.18,136.56 150.82,136.11" fill="#1f5197" stroke="#1f5197" stroke-width="0.25"/>
<polygon points="148.18,136.26 148.58,136.36 151.58,136.66 151.18,136.56" fill="#1f5297" stroke="#1f5297" stroke-width="0.25"/>
<polygon points="154.5,126.56 154.87,126.93 157.87,127.23 157.5,126.86" fill="#22589a" stroke="#22589a" stroke-width="0.25"/>
<polygon points="154.87,126.93 155.21,127.63 158.21,127.93 157.87,127.23" fill="#23589b" stroke="#23589b" stroke-width="0.25"/>
<polygon points="155.21,127.63 155.53,128.62 158.53,128.92 158.21,127.93" fill="#23589b" stroke="#23589b" stroke-width="0.25"/>
<polygon points="155.53,128.62 155.82,129.84 158.82,130.14 158.53,128.92" fill="#23599b" stroke="#23599b" stroke-width="0.25"/>
<polygon points="155.82,129.84 156.09,131.19 159.09,131.49 158.82,130.14" fill="#24599c" stroke="#24599c" stroke-width="0.25"/>
<polygon points="156.09,131.19 156.36,132.59 159.36,132.89 159.09,131.49" fill="#245a9c" stroke="#245a9c" stroke-width="0.25"/>
<polygon points="156.36,132.59 156.64,133.95 159.64,134.25 159.36,132.89" fill="#245b9c" stroke="#245b9c" stroke-width="0.25"/>
<polygon points="156.64,133.95 156.93,135.17 159.93,135.47 159.64,134.25" fill="#245b9c" stroke="#245b9c" stroke-width="0.25"/>
<polygon points="156.93,135.17 157.24,136.17 160.24,136.47 159.93,135.47" fill="#245c9c" stroke="#245c9c" stroke-width="0.25"/>
<polygon points="157.24,136.17 157.58,136.89 160.58,137.19 160.24,136.47" fill="#245c9c" stroke="#245c9c" stroke-width="0.25"/>
<polygon points="157.58,136.89 157.95,137.28 160.95,137.58 160.58,137.19" fill="#245c9c" stroke="#245c9c" stroke-width="0.25"/>
<polygon points="163.86,127.49 164.27,127.57 167.27,127.87 166.86,127.79" fill="#2862a0" stroke="#2862a0" stroke-width="0.25"/>
<polygon points="164.27,127.57 164.64,128.01 167.64,128.31 167.27,127.87" fill="#2863a0" stroke="#2863a0" stroke-width="0.25"/>
<polygon points="164.64,128.01 164.97,128.77 167.97,129.07 167.64,128.31" fill="#2863a0" stroke="#2863a0" stroke-width="0.25"/>
<polygon points="164.97,128.77 165.28,129.81 168.28,130.11 167.97,129.07" fill="#2964a1" stroke="#2964a1" stroke-width="0.25"/>
<polygon points="165.28,129.81 165.56,131.06 168.56,131.36 168.28,130.11" fill="#2964a1" stroke="#2964a1" stroke-width="0.25"/>
<polygon points="165.56,131.06 165.84,132.42 168.84,132.72 168.56,131.36" fill="#2964a1" stroke="#2964a1" stroke-width="0.25"/>
<polygon points="165.84,132.42 166.11,133.83 169.11,134.13 168.84,132.72" fill="#2a64a2" stroke="#2a64a2" stroke-width="0.25"/>
<polygon points="166.11,133.83 166.39,135.16 169.39,135.46 169.11,134.13" fill="#2a65a2" stroke="#2a65a2" stroke-width="0.25"/>
<polygon points="166.39,135.16 166.68,136.35 169.68,136.65 169.39,135.46" fill="#2a66a2" stroke="#2a66a2" stroke-width="0.25"/>
<polygon points="166.68,136.35 167,137.3 170,137.6 169.68,136.65" fill="#2b66a3" stroke="#2b66a3" stroke-width="0.25"/>
<polygon points="167,137.3 167.34,137.96 170.34,138.26 170,137.6" fill="#2b67a3" stroke="#2b67a3" stroke-width="0.25"/>
<polygon points="167.34,137.96 167.72,138.28 170.72,138.58 170.34,138.26" fill="#2b67a3" stroke="#2b67a3" stroke-width="0.25"/>
<polygon points="132,129.5 132.54,128.19 136.83,128.62 136.29,129.93" fill="#3967bb" stroke="#3967bb" stroke-width="0.25"/>
<polygon points="132.54,128.19 133.07,126.98 137.36,127.4 136.83,128.62" fill="#3364b9" stroke="#3364b9" stroke-width="0.25"/>
<polygon points="133.07,126.98 133.59,125.94 137.88,126.37 137.36,127.4" fill="#2a5cb6" stroke="#2a5cb6" stroke-width="0.25"/>
<polygon points="133.59,125.94 134.08,125.16 138.36,125.59 137.88,126.37" fill="#1b52b1" stroke="#1b52b1" stroke-width="0.25"/>
<polygon points="134.08,125.16 134.54,124.69 138.82,125.12 138.36,125.59" fill="#1b52b1" stroke="#1b52b1" stroke-width="0.25"/>
<polygon points="134.54,124.69 134.96,124.57 139.25,125 138.82,125.12" fill="#1c53b2" stroke="#1c53b2" stroke-width="0.25"/>
<polygon points="138.81,135.4 139.24,135.21 143.53,135.64 143.1,135.83" fill="#205ab6" stroke="#205ab6" stroke-width="0.25"/>
<polygon points="139.24,135.21 139.71,134.68 143.99,135.11 143.53,135.64" fill="#205bb6" stroke="#205bb6" stroke-width="0.25"/>
<polygon points="139.71,134.68 140.2,133.85 144.49,134.28 143.99,135.11" fill="#235db7" stroke="#235db7" stroke-width="0.25"/>
<polygon points="140.2,133.85 140.72,132.77 145.01,133.2 144.49,134.28" fill="#3268bc" stroke="#3268bc" stroke-width="0.25"/>
<polygon points="140.72,132.77 141.25,131.53 145.54,131.96 145.01,133.2" fill="#3b6fbf" stroke="#3b6fbf" stroke-width="0.25"/>
<polygon points="141.25,131.53 141.8,130.22 146.08,130.65 145.54,131.96" fill="#3f73c1" stroke="#3f73c1" stroke-width="0.25"/>
<polygon points="141.8,130.22 142.34,128.92 146.62,129.35 146.08,130.65" fill="#3f72c1" stroke="#3f72c1" stroke-width="0.25"/>
<polygon points="142.34,128.92 142.87,127.73 147.15,128.16 146.62,129.35" fill="#396fbf" stroke="#396fbf" stroke-width="0.25"/>
<polygon points="142.87,127.73 143.38,126.74 147.66,127.17 147.15,128.16" fill="#2e67bc" stroke="#2e67bc" stroke-width="0.25"/>
<polygon points="143.38,126.74 143.86,126.02 148.15,126.44 147.66,127.17" fill="#235fb9" stroke="#235fb9" stroke-width="0.25"/>
<polygon points="143.86,126.02 144.31,125.61 148.6,126.04 148.15,126.44" fill="#2360b9" stroke="#2360b9" stroke-width="0.25"/>
<polygon points="144.31,125.61 144.73,125.56 149.02,125.99 148.6,126.04" fill="#2360b9" stroke="#2360b9" stroke-width="0.25"/>
<polygon points="148.58,136.36 149.02,136.11 153.31,136.54 152.87,136.79" fill="#2768bd" stroke="#2768bd" stroke-width="0.25"/>
<polygon points="149.02,136.11 149.49,135.52 153.78,135.94 153.31,136.54" fill="#2868be" stroke="#2868be" stroke-width="0.25"/>
<polygon points="149.49,135.52 149.99,134.63 154.28,135.06 153.78,135.94" fill="#2e6dc0" stroke="#2e6dc0" stroke-width="0.25"/>
<polygon points="149.99,134.63 150.51,133.52 154.8,133.95 154.28,135.06" fill="#3a76c3" stroke="#3a76c3" stroke-width="0.25"/>
<polygon points="150.51,133.52 151.05,132.26 155.34,132.68 154.8,133.95" fill="#437cc7" stroke="#437cc7" stroke-width="0.25"/>
<polygon points="151.05,132.26 151.59,130.93 155.88,131.36 155.34,132.68" fill="#467ec8" stroke="#467ec8" stroke-width="0.25"/>
<polygon points="151.59,130.93 152.13,129.65 156.42,130.08 155.88,131.36" fill="#447ec7" stroke="#447ec7" stroke-width="0.25"/>
<polygon points="152.13,129.65 152.66,128.49 156.95,128.92 156.42,130.08" fill="#3e79c6" stroke="#3e79c6" stroke-width="0.25"/>
<polygon points="152.66,128.49 153.17,127.55 157.45,127.98 156.95,128.92" fill="#3372c3" stroke="#3372c3" stroke-width="0.25"/>
<polygon points="153.17,127.55 153.64,126.88 157.93,127.31 157.45,127.98" fill="#2a6dc0" stroke="#2a6dc0" stroke-width="0.25"/>
<polygon points="153.64,126.88 154.09,126.54 158.38,126.97 157.93,127.31" fill="#2b6dc1" stroke="#2b6dc1" stroke-width="0.25"/>
<polygon points="154.09,126.54 154.5,126.56 158.79,126.99 158.38,126.97" fill="#2b6ec1" stroke="#2b6ec1" stroke-width="0.25"/>
<polygon points="157.95,137.28 158.36,137.31 162.64,137.74 162.24,137.71" fill="#2f74c5" stroke="#2f74c5" stroke-width="0.25"/>
<polygon points="158.36,137.31 158.8,136.99 163.09,137.42 162.64,137.74" fill="#2f75c5" stroke="#2f75c5" stroke-width="0.25"/>
<polygon points="158.8,136.99 159.28,136.34 163.56,136.77 163.09,137.42" fill="#2f76c5" stroke="#2f76c5" stroke-width="0.25"/>
<polygon points="159.28,136.34 159.78,135.4 164.07,135.83 163.56,136.77" fill="#387bc8" stroke="#387bc8" stroke-width="0.25"/>
<polygon points="159.78,135.4 160.31,134.25 164.6,134.68 164.07,135.83" fill="#4384cb" stroke="#4384cb" stroke-width="0.25"/>
<polygon points="160.31,134.25 160.85,132.97 165.13,133.4 164.6,134.68" fill="#4a88cd" stroke="#4a88cd" stroke-width="0.25"/>
<polygon points="160.85,132.97 161.39,131.65 165.68,132.08 165.13,133.4" fill="#4d8acf" stroke="#4d8acf" stroke-width="0.25"/>
<polygon points="161.39,131.65 161.93,130.39 166.22,130.82 165.68,132.08" fill="#4a89ce" stroke="#4a89ce" stroke-width="0.25"/>
<polygon points="161.93,130.39 162.45,129.27 166.74,129.69 166.22,130.82" fill="#4385cc" stroke="#4385cc" stroke-width="0.25"/>
<polygon points="162.45,129.27 162.95,128.37 167.24,128.8 166.74,129.69" fill="#387dca" stroke="#387dca" stroke-width="0.25"/>
<polygon points="162.95,128.37 163.43,127.76 167.71,128.19 167.24,128.8" fill="#327ac8" stroke="#327ac8" stroke-width="0.25"/>
<polygon points="163.43,127.76 163.86,127.49 168.15,127.92 167.71,128.19" fill="#327bc8" stroke="#327bc8" stroke-width="0.25"/>
<polygon points="167.72,138.28 168.13,138.25 172.42,138.68 172.01,138.71" fill="#3682cc" stroke="#3682cc" stroke-width="0.25"/>
<polygon points="168.13,138.25 168.58,137.86 172.87,138.29 172.42,138.68" fill="#3782cd" stroke="#3782cd" stroke-width="0.25"/>
<polygon points="168.58,137.86 169.07,137.15 173.35,137.58 172.87,138.29" fill="#3783cd" stroke="#3783cd" stroke-width="0.25"/>
<polygon points="169.07,137.15 169.58,136.17 173.86,136.6 173.35,137.58" fill="#418ad0" stroke="#418ad0" stroke-width="0.25"/>
<polygon points="169.58,136.17 170.11,134.99 174.39,135.42 173.86,136.6" fill="#4c90d3" stroke="#4c90d3" stroke-width="0.25"/>
<polygon points="170.11,134.99 170.65,133.69 174.93,134.12 174.39,135.42" fill="#5295d4" stroke="#5295d4" stroke-width="0.25"/>
<polygon points="170.65,133.69 171.19,132.38 175.47,132.8 174.93,134.12" fill="#5396d5" stroke="#5396d5" stroke-width="0.25"/>
<polygon points="171.19,132.38 171.72,131.13 176.01,131.56 175.47,132.8" fill="#5094d5" stroke="#5094d5" stroke-width="0.25"/>
<polygon points="171.72,131.13 172.24,130.04 176.53,130.47 176.01,131.56" fill="#488fd3" stroke="#488fd3" stroke-width="0.25"/>
<polygon points="172.24,130.04 172.74,129.2 177.03,129.63 176.53,130.47" fill="#3c89d0" stroke="#3c89d0" stroke-width="0.25"/>
<polygon points="172.74,129.2 173.21,128.65 177.49,129.08 177.03,129.63" fill="#3a87d0" stroke="#3a87d0" stroke-width="0.25"/>
<polygon points="168.53,124.69 168.95,124.81 171.82,124.34 171.4,124.22" fill="#ac181c" stroke="#ac181c" stroke-width="0.25"/>
<polygon points="168.95,124.81 169.42,125.26 172.29,124.79 171.82,124.34" fill="#ac181c" stroke="#ac181c" stroke-width="0.25"/>
<polygon points="169.42,125.26 169.94,126.01 172.81,125.54 172.29,124.79" fill="#ac181c" stroke="#ac181c" stroke-width="0.25"/>
<polygon points="169.94,126.01 170.5,126.99 173.37,126.52 172.81,125.54" fill="#ac191d" stroke="#ac191d" stroke-width="0.25"/>
<polygon points="170.5,126.99 171.09,128.14 173.96,127.67 173.37,126.52" fill="#ac191d" stroke="#ac191d" stroke-width="0.25"/>
<polygon points="171.09,128.14 171.69,129.36 174.56,128.9 173.96,127.67" fill="#ac191d" stroke="#ac191d" stroke-width="0.25"/>
<polygon points="171.69,129.36 172.29,130.58 175.15,130.12 174.56,128.9" fill="#ac191e" stroke="#ac191e" stroke-width="0.25"/>
<polygon points="172.29,130.58 172.87,131.71 175.74,131.24 175.15,130.12" fill="#ac191e" stroke="#ac191e" stroke-width="0.25"/>
<polygon points="172.87,131.71 173.42,132.65 176.29,132.18 175.74,131.24" fill="#ac1a1e" stroke="#ac1a1e" stroke-width="0.25"/>
<polygon points="173.42,132.65 173.93,133.34 176.8,132.87 176.29,132.18" fill="#ac1a1e" stroke="#ac1a1e" stroke-width="0.25"/>
<polygon points="173.93,133.34 174.4,133.73 177.26,133.27 176.8,132.87" fill="#ac1a1f" stroke="#ac1a1f" stroke-width="0.25"/>
<polygon points="174.4,133.73 174.81,133.79 177.67,133.32 177.26,133.27" fill="#ac1a1f" stroke="#ac1a1f" stroke-width="0.25"/>
<polygon points="177.87,123.17 178.3,123.36 181.17,122.9 180.74,122.71" fill="#ac1c22" stroke="#ac1c22" stroke-width="0.25"/>
<polygon points="178.3,123.36 178.78,123.87 181.65,123.41 181.17,122.9" fill="#ac1c22" stroke="#ac1c22" stroke-width="0.25"/>
<polygon points="178.78,123.87 179.31,124.67 182.18,124.2 181.65,123.41" fill="#ac1c23" stroke="#ac1c23" stroke-width="0.25"/>
<polygon points="179.31,124.67 179.88,125.69 182.74,125.22 182.18,124.2" fill="#ac1c23" stroke="#ac1c23" stroke-width="0.25"/>
<polygon points="179.88,125.69 180.47,126.86 183.33,126.39 182.74,125.22" fill="#ac1c23" stroke="#ac1c23" stroke-width="0.25"/>
<polygon points="180.47,126.86 181.07,128.09 183.93,127.63 183.33,126.39" fill="#ac1c23" stroke="#ac1c23" stroke-width="0.25"/>
<polygon points="181.07,128.09 181.66,129.3 184.53,128.83 183.93,127.63" fill="#ac1c24" stroke="#ac1c24" stroke-width="0.25"/>
<polygon points="181.66,129.3 182.24,130.39 185.11,129.93 184.53,128.83" fill="#ac1d24" stroke="#ac1d24" stroke-width="0.25"/>
<polygon points="182.24,130.39 182.79,131.29 185.65,130.83 185.11,129.93" fill="#ac1d24" stroke="#ac1d24" stroke-width="0.25"/>
<polygon points="182.79,131.29 183.29,131.93 186.16,131.47 185.65,130.83" fill="#ac1d24" stroke="#ac1d24" stroke-width="0.25"/>
<polygon points="183.29,131.93 183.74,132.26 186.61,131.8 186.16,131.47" fill="#ac1d24" stroke="#ac1d24" stroke-width="0.25"/>
<polygon points="183.74,132.26 184.14,132.26 187.01,131.79 186.61,131.8" fill="#ac1d24" stroke="#ac1d24" stroke-width="0.25"/>
<polygon points="187.21,121.68 187.65,121.93 190.52,121.46 190.08,121.21" fill="#ac2028" stroke="#ac2028" stroke-width="0.25"/>
<polygon points="187.65,121.93 188.14,122.5 191.01,122.03 190.52,121.46" fill="#ac2028" stroke="#ac2028" stroke-width="0.25"/>
<polygon points="188.14,122.5 188.68,123.34 191.55,122.87 191.01,122.03" fill="#ac2028" stroke="#ac2028" stroke-width="0.25"/>
<polygon points="188.68,123.34 189.25,124.4 192.12,123.93 191.55,122.87" fill="#ac2028" stroke="#ac2028" stroke-width="0.25"/>
<polygon points="189.25,124.4 189.84,125.58 192.71,125.12 192.12,123.93" fill="#ac2028" stroke="#ac2028" stroke-width="0.25"/>
<polygon points="189.84,125.58 190.44,126.82 193.31,126.35 192.71,125.12" fill="#ac2029" stroke="#ac2029" stroke-width="0.25"/>
<polygon points="190.44,126.82 191.04,128.01 193.9,127.54 193.31,126.35" fill="#ac2029" stroke="#ac2029" stroke-width="0.25"/>
<polygon points="191.04,128.01 191.61,129.07 194.48,128.61 193.9,127.54" fill="#ac2029" stroke="#ac2029" stroke-width="0.25"/>
<polygon points="191.61,129.07 192.15,129.93 195.01,129.46 194.48,128.61" fill="#ac202a" stroke="#ac202a" stroke-width="0.25"/>
<polygon points="192.15,129.93 192.64,130.51 195.51,130.05 195.01,129.46" fill="#ac202a" stroke="#ac202a" stroke-width="0.25"/>
<polygon points="192.64,130.51 193.09,130.78 195.95,130.31 195.51,130.05" fill="#ac212a" stroke="#ac212a" stroke-width="0.25"/>
<polygon points="196.16,120.21 196.55,120.19 199.42,119.72 199.02,119.75" fill="#ac232d" stroke="#ac232d" stroke-width="0.25"/>
<polygon points="196.55,120.19 197,120.51 199.87,120.04 199.42,119.72" fill="#ac232d" stroke="#ac232d" stroke-width="0.25"/>
<polygon points="197,120.51 197.5,121.13 200.37,120.66 199.87,120.04" fill="#ac232e" stroke="#ac232e" stroke-width="0.25"/>
<polygon points="197.5,121.13 198.05,122.02 200.92,121.55 200.37,120.66" fill="#ac232e" stroke="#ac232e" stroke-width="0.25"/>
<polygon points="198.05,122.02 198.63,123.11 201.49,122.64 200.92,121.55" fill="#ac242e" stroke="#ac242e" stroke-width="0.25"/>
<polygon points="198.63,123.11 199.22,124.31 202.09,123.84 201.49,122.64" fill="#ac242f" stroke="#ac242f" stroke-width="0.25"/>
<polygon points="199.22,124.31 199.82,125.54 202.69,125.08 202.09,123.84" fill="#ac242f" stroke="#ac242f" stroke-width="0.25"/>
<polygon points="199.82,125.54 200.41,126.72 203.28,126.25 202.69,125.08" fill="#ac242f" stroke="#ac242f" stroke-width="0.25"/>
<polygon points="200.41,126.72 200.98,127.75 203.84,127.28 203.28,126.25" fill="#ac2430" stroke="#ac2430" stroke-width="0.25"/>
<polygon points="200.98,127.75 201.51,128.55 204.38,128.09 203.84,127.28" fill="#ac2430" stroke="#ac2430" stroke-width="0.25"/>
<polygon points="201.51,128.55 201.99,129.08 204.86,128.61 204.38,128.09" fill="#ac2430" stroke="#ac2430" stroke-width="0.25"/>
<polygon points="201.99,129.08 202.43,129.28 205.29,128.82 204.86,128.61" fill="#ac2430" stroke="#ac2430" stroke-width="0.25"/>
<polygon points="167,130 167.18,128.65 171.27,127.98 171.1,129.33" fill="#dd3c40" stroke="#dd3c40" stroke-width="0.25"/>
<polygon points="167.18,128.65 167.37,127.39 171.47,126.72 171.27,127.98" fill="#dc373a" stroke="#dc373a" stroke-width="0.25"/>
<polygon points="167.37,127.39 167.6,126.3 171.69,125.63 171.47,126.72" fill="#db2c31" stroke="#db2c31" stroke-width="0.25"/>
<polygon points="167.6,126.3 167.86,125.45 171.95,124.79 171.69,125.63" fill="#d81f23" stroke="#d81f23" stroke-width="0.25"/>
<polygon points="167.86,125.45 168.17,124.9 172.26,124.24 171.95,124.79" fill="#d81f23" stroke="#d81f23" stroke-width="0.25"/>
<polygon points="168.17,124.9 168.53,124.69 172.63,124.02 172.26,124.24" fill="#d81f24" stroke="#d81f24" stroke-width="0.25"/>
<polygon points="174.81,133.79 175.16,133.51 179.25,132.84 178.9,133.12" fill="#d82127" stroke="#d82127" stroke-width="0.25"/>
<polygon points="175.16,133.51 175.46,132.9 179.55,132.23 179.25,132.84" fill="#d82128" stroke="#d82128" stroke-width="0.25"/>
<polygon points="175.46,132.9 175.71,132 179.81,131.34 179.55,132.23" fill="#d9252b" stroke="#d9252b" stroke-width="0.25"/>
<polygon points="175.71,132 175.93,130.87 180.02,130.21 179.81,131.34" fill="#db3238" stroke="#db3238" stroke-width="0.25"/>
<polygon points="175.93,130.87 176.12,129.59 180.21,128.92 180.02,130.21" fill="#dd3c42" stroke="#dd3c42" stroke-width="0.25"/>
<polygon points="176.12,129.59 176.3,128.23 180.39,127.57 180.21,128.92" fill="#dd4046" stroke="#dd4046" stroke-width="0.25"/>
<polygon points="176.3,128.23 176.48,126.89 180.57,126.22 180.39,127.57" fill="#dd3f45" stroke="#dd3f45" stroke-width="0.25"/>
<polygon points="176.48,126.89 176.68,125.66 180.77,124.99 180.57,126.22" fill="#dc3940" stroke="#dc3940" stroke-width="0.25"/>
<polygon points="176.68,125.66 176.91,124.61 181,123.94 180.77,124.99" fill="#da2f35" stroke="#da2f35" stroke-width="0.25"/>
<polygon points="176.91,124.61 177.18,123.82 181.27,123.15 181,123.94" fill="#d8232a" stroke="#d8232a" stroke-width="0.25"/>
<polygon points="177.18,123.82 177.5,123.33 181.59,122.66 181.27,123.15" fill="#d8232a" stroke="#d8232a" stroke-width="0.25"/>
<polygon points="177.5,123.33 177.87,123.17 181.96,122.51 181.59,122.66" fill="#d8232b" stroke="#d8232b" stroke-width="0.25"/>
<polygon points="184.14,132.26 184.48,131.91 188.58,131.24 188.24,131.59" fill="#d8262f" stroke="#d8262f" stroke-width="0.25"/>
<polygon points="184.48,131.91 184.77,131.24 188.87,130.58 188.58,131.24" fill="#d8262f" stroke="#d8262f" stroke-width="0.25"/>
<polygon points="184.77,131.24 185.02,130.3 189.11,129.63 188.87,130.58" fill="#d92c34" stroke="#d92c34" stroke-width="0.25"/>
<polygon points="185.02,130.3 185.23,129.13 189.32,128.46 189.11,129.63" fill="#db3841" stroke="#db3841" stroke-width="0.25"/>
<polygon points="185.23,129.13 185.42,127.83 189.51,127.16 189.32,128.46" fill="#dd4049" stroke="#dd4049" stroke-width="0.25"/>
<polygon points="185.42,127.83 185.59,126.46 189.69,125.8 189.51,127.16" fill="#dd444c" stroke="#dd444c" stroke-width="0.25"/>
<polygon points="185.59,126.46 185.78,125.14 189.87,124.47 189.69,125.8" fill="#dd434a" stroke="#dd434a" stroke-width="0.25"/>
<polygon points="185.78,125.14 185.98,123.93 190.08,123.27 189.87,124.47" fill="#dc3c45" stroke="#dc3c45" stroke-width="0.25"/>
<polygon points="185.98,123.93 186.22,122.93 190.31,122.26 190.08,123.27" fill="#da303a" stroke="#da303a" stroke-width="0.25"/>
<polygon points="186.22,122.93 186.5,122.19 190.59,121.52 190.31,122.26" fill="#d82731" stroke="#d82731" stroke-width="0.25"/>
<polygon points="186.5,122.19 186.83,121.76 190.92,121.1 190.59,121.52" fill="#d82732" stroke="#d82732" stroke-width="0.25"/>
<polygon points="186.83,121.76 187.21,121.68 191.31,121.01 190.92,121.1" fill="#d82832" stroke="#d82832" stroke-width="0.25"/>
<polygon points="193.09,130.78 193.47,130.71 197.57,130.04 197.18,130.11" fill="#d82a36" stroke="#d82a36" stroke-width="0.25"/>
<polygon points="193.47,130.71 193.81,130.3 197.9,129.63 197.57,130.04" fill="#d82a36" stroke="#d82a36" stroke-width="0.25"/>
<polygon points="193.81,130.3 194.09,129.57 198.18,128.91 197.9,129.63" fill="#d82a36" stroke="#d82a36" stroke-width="0.25"/>
<polygon points="194.09,129.57 194.32,128.58 198.42,127.91 198.18,128.91" fill="#d9323e" stroke="#d9323e" stroke-width="0.25"/>
<polygon points="194.32,128.58 194.53,127.38 198.62,126.72 198.42,127.91" fill="#dc3e4a" stroke="#dc3e4a" stroke-width="0.25"/>
<polygon points="194.53,127.38 194.71,126.06 198.81,125.39 198.62,126.72" fill="#dd4650" stroke="#dd4650" stroke-width="0.25"/>
<polygon points="194.71,126.06 194.89,124.7 198.99,124.03 198.81,125.39" fill="#dd4852" stroke="#dd4852" stroke-width="0.25"/>
<polygon points="194.89,124.7 195.08,123.39 199.17,122.72 198.99,124.03" fill="#dd4551" stroke="#dd4551" stroke-width="0.25"/>
<polygon points="195.08,123.39 195.29,122.22 199.38,121.55 199.17,122.72" fill="#db3d49" stroke="#db3d49" stroke-width="0.25"/>
<polygon points="195.29,122.22 195.53,121.26 199.62,120.59 199.38,121.55" fill="#d9313e" stroke="#d9313e" stroke-width="0.25"/>
<polygon points="195.53,121.26 195.82,120.58 199.91,119.91 199.62,120.59" fill="#d82c38" stroke="#d82c38" stroke-width="0.25"/>
<polygon points="195.82,120.58 196.16,120.21 200.25,119.55 199.91,119.91" fill="#d82c39" stroke="#d82c39" stroke-width="0.25"/>
<polygon points="202.43,129.28 202.8,129.15 206.9,128.48 206.52,128.62" fill="#d82e3d" stroke="#d82e3d" stroke-width="0.25"/>
<polygon points="202.8,129.15 203.13,128.68 207.22,128.01 206.9,128.48" fill="#d82e3d" stroke="#d82e3d" stroke-width="0.25"/>
<polygon points="203.13,128.68 203.4,127.9 207.49,127.23 207.22,128.01" fill="#d82e3d" stroke="#d82e3d" stroke-width="0.25"/>
<polygon points="203.4,127.9 203.63,126.86 207.72,126.19 207.49,127.23" fill="#da3948" stroke="#da3948" stroke-width="0.25"/>
<polygon points="203.63,126.86 203.83,125.63 207.92,124.96 207.72,126.19" fill="#dc4452" stroke="#dc4452" stroke-width="0.25"/>
<polygon points="203.83,125.63 204.01,124.29 208.11,123.63 207.92,124.96" fill="#dd4a57" stroke="#dd4a57" stroke-width="0.25"/>
<polygon points="204.01,124.29 204.19,122.93 208.28,122.27 208.11,123.63" fill="#dd4b58" stroke="#dd4b58" stroke-width="0.25"/>
<polygon points="204.19,122.93 204.38,121.64 208.47,120.98 208.28,122.27" fill="#dd4856" stroke="#dd4856" stroke-width="0.25"/>
<polygon points="204.38,121.64 204.59,120.51 208.69,119.84 208.47,120.98" fill="#db3f4e" stroke="#db3f4e" stroke-width="0.25"/>
<polygon points="204.59,120.51 204.84,119.6 208.94,118.93 208.69,119.84" fill="#d93342" stroke="#d93342" stroke-width="0.25"/>
<polygon points="204.84,119.6 205.14,118.97 209.24,118.31 208.94,118.93" fill="#d83040" stroke="#d83040" stroke-width="0.25"/>
<path d="M208,122 C208.5,122.33 210.17,124.17 211,124 C211.83,123.83 212.67,121.5 213,121" fill="none" stroke="#c01830" stroke-width="1.4" stroke-linecap="round" stroke-linejoin="round"/>
<text x="2.6" y="12.6" font-size="7.9" class="sans" fill="#2a2a2a" stroke="#2a2a2a" stroke-width="0.15">A</text>
<text x="92.6" y="12.6" font-size="7.9" class="sans" fill="#2a2a2a" stroke="#2a2a2a" stroke-width="0.15">B</text>
<text x="186.3" y="12.7" font-size="7.9" class="sans" fill="#2a2a2a" stroke="#2a2a2a" stroke-width="0.15">C</text>
<text x="29.5" y="99.5" font-size="7.9" class="sans" fill="#2a2a2a" stroke="#2a2a2a" stroke-width="0.15">D</text>
<text x="131.3" y="99.5" font-size="7.9" class="sans" fill="#2a2a2a" stroke="#2a2a2a" stroke-width="0.15">E</text>
<line x1="11.8" y1="273.6" x2="252.4" y2="273.6" stroke="#e2e2e2" stroke-width="0.45"/>
<line x1="11.8" y1="260.2" x2="252.4" y2="260.2" stroke="#e2e2e2" stroke-width="0.45"/>
<line x1="11.8" y1="246.8" x2="252.4" y2="246.8" stroke="#e2e2e2" stroke-width="0.45"/>
<line x1="11.8" y1="233.4" x2="252.4" y2="233.4" stroke="#e2e2e2" stroke-width="0.45"/>
<line x1="11.8" y1="220" x2="252.4" y2="220" stroke="#e2e2e2" stroke-width="0.45"/>
<line x1="11.8" y1="206.6" x2="252.4" y2="206.6" stroke="#e2e2e2" stroke-width="0.45"/>
<line x1="11.8" y1="193.2" x2="252.4" y2="193.2" stroke="#e2e2e2" stroke-width="0.45"/>
<line x1="11.8" y1="179.8" x2="252.4" y2="179.8" stroke="#e2e2e2" stroke-width="0.45"/>
<line x1="11.8" y1="179.8" x2="11.8" y2="273.6" stroke="#e2e2e2" stroke-width="0.45"/>
<line x1="40.1" y1="179.8" x2="40.1" y2="273.6" stroke="#e2e2e2" stroke-width="0.45"/>
<line x1="68.4" y1="179.8" x2="68.4" y2="273.6" stroke="#e2e2e2" stroke-width="0.45"/>
<line x1="96.7" y1="179.8" x2="96.7" y2="273.6" stroke="#e2e2e2" stroke-width="0.45"/>
<line x1="125" y1="179.8" x2="125" y2="273.6" stroke="#e2e2e2" stroke-width="0.45"/>
<line x1="153.3" y1="179.8" x2="153.3" y2="273.6" stroke="#e2e2e2" stroke-width="0.45"/>
<line x1="181.6" y1="179.8" x2="181.6" y2="273.6" stroke="#e2e2e2" stroke-width="0.45"/>
<line x1="209.9" y1="179.8" x2="209.9" y2="273.6" stroke="#e2e2e2" stroke-width="0.45"/>
<line x1="238.2" y1="179.8" x2="238.2" y2="273.6" stroke="#e2e2e2" stroke-width="0.45"/>
<line x1="11.8" y1="260.2" x2="252.4" y2="260.2" stroke="#cfcfcf" stroke-width="0.5"/>
<text x="9.6" y="274.55" font-size="2.7" text-anchor="end" class="sans" fill="#8a8a8a">-0.2</text>
<text x="9.6" y="261.15" font-size="2.7" text-anchor="end" class="sans" fill="#8a8a8a">0</text>
<text x="9.6" y="247.75" font-size="2.7" text-anchor="end" class="sans" fill="#8a8a8a">0.2</text>
<text x="9.6" y="234.35" font-size="2.7" text-anchor="end" class="sans" fill="#8a8a8a">0.4</text>
<text x="9.6" y="220.95" font-size="2.7" text-anchor="end" class="sans" fill="#8a8a8a">0.6</text>
<text x="9.6" y="207.55" font-size="2.7" text-anchor="end" class="sans" fill="#8a8a8a">0.8</text>
<text x="9.6" y="194.15" font-size="2.7" text-anchor="end" class="sans" fill="#8a8a8a">1</text>
<text x="9.6" y="180.75" font-size="2.7" text-anchor="end" class="sans" fill="#8a8a8a">1.2</text>
<text x="11.8" y="265.4" font-size="2.7" text-anchor="middle" class="sans" fill="#8a8a8a">0</text>
<text x="40.1" y="265.4" font-size="2.7" text-anchor="middle" class="sans" fill="#8a8a8a">200</text>
<text x="68.4" y="265.4" font-size="2.7" text-anchor="middle" class="sans" fill="#8a8a8a">400</text>
<text x="96.7" y="265.4" font-size="2.7" text-anchor="middle" class="sans" fill="#8a8a8a">600</text>
<text x="125" y="265.4" font-size="2.7" text-anchor="middle" class="sans" fill="#8a8a8a">800</text>
<text x="153.3" y="265.4" font-size="2.7" text-anchor="middle" class="sans" fill="#8a8a8a">1000</text>
<text x="181.6" y="265.4" font-size="2.7" text-anchor="middle" class="sans" fill="#8a8a8a">1200</text>
<text x="209.9" y="265.4" font-size="2.7" text-anchor="middle" class="sans" fill="#8a8a8a">1400</text>
<path d="M11.8,193.2 L12.25,193.2 L12.7,193.2 L13.15,194.64 L13.6,202.01 L14.05,201.19 L14.5,204.09 L14.95,207 L15.4,200.39 L15.85,197.14 L16.3,193.2 L16.75,198.44 L17.2,198.97 L17.65,202.59 L18.1,211.61 L18.55,209.53 L19,217.29 L19.45,217.6 L19.9,228.71 L20.35,233.95 L20.8,231.98 L21.25,238.14 L21.7,239.41 L22.15,247.27 L22.6,248.83 L23.05,245.24 L23.5,244.96 L23.95,248.15 L24.4,256.42 L24.85,253.6 L25.3,254.07 L25.75,251.11 L26.2,251.85 L26.65,247.59 L27.1,250.69 L27.55,250.95 L28,248.79 L28.45,256.29 L28.9,256.47 L29.35,256.48 L29.8,243.43 L30.25,246.21 L30.7,243.83 L31.15,242.44 L31.6,238.87 L32.05,230.7 L32.5,207.57 L32.95,204.58 L33.4,197.42 L33.85,200.8 L34.3,198.86 L34.75,193.2 L35.2,193.2 L35.65,197.53 L36.1,204.2 L36.55,203.96 L37,207.19 L37.45,220.84 L37.9,228.83 L38.35,237.64 L38.8,240.43 L39.25,242.3 L39.7,251.12 L40.15,259.61 L40.6,260.2 L41.05,254.07 L41.5,260.2 L41.95,260.2 L42.4,260.2 L42.85,260.2 L43.3,259.41 L43.75,257.31 L44.2,248.51 L44.65,249 L45.1,244.74 L45.55,249.56 L46,253.44 L46.45,250.73 L46.9,260.2 L47.35,258.21 L47.8,253.48 L48.25,258.2 L48.7,252.65 L49.15,255.13 L49.6,260.2 L50.05,260.2 L50.5,260.2 L50.95,260.2 L51.4,256.37 L51.85,241.54 L52.3,235.46 L52.75,232.53 L53.2,214.73 L53.65,211.1 L54.1,198.23 L54.55,201.92 L55,195.23 L55.45,199.87 L55.9,202.64 L56.35,202.52 L56.8,193.2 L57.25,193.2 L57.7,198.67 L58.15,201.97 L58.6,208.84 L59.05,206.76 L59.5,206.64 L59.95,198.54 L60.4,203.91 L60.85,201.8 L61.3,203.36 L61.75,202.84 L62.2,195.13 L62.65,194.24 L63.1,194.17 L63.55,196.98 L64,200.57 L64.45,219.31 L64.9,232.45 L65.35,252.6 L65.8,250.55 L66.25,240.44 L66.7,246.68 L67.15,251.69 L67.6,251.93 L68.05,252.54 L68.5,252.24 L68.95,255.38 L69.4,247.36 L69.85,243.81 L70.3,247.1 L70.75,243.82 L71.2,237.42 L71.65,230.23 L72.1,230.56 L72.55,232.49 L73,241.1 L73.45,251.15 L73.9,253.58 L74.35,246.31 L74.8,242.21 L75.25,243.89 L75.7,248.3 L76.15,246.02 L76.6,232.25 L77.05,217.1 L77.5,213.2 L77.95,209.18 L78.4,213.87 L78.85,209.96 L79.3,200.31 L79.75,196.51 L80.2,193.2 L80.65,193.2 L81.1,193.2 L81.55,193.2 L82,193.2 L82.45,197.56 L82.9,193.32 L83.35,193.2 L83.8,193.2 L84.25,194.53 L84.7,194.16 L85.15,193.2 L85.6,202.32 L86.05,199.66 L86.5,208.6 L86.95,213.16 L87.4,225.88 L87.85,235.47 L88.3,228.44 L88.75,236.36 L89.2,242.11 L89.65,232.51 L90.1,240.95 L90.55,230.14 L91,235.45 L91.45,243.37 L91.9,242.53 L92.35,241.07 L92.8,238.84 L93.25,238.37 L93.7,230.53 L94.15,242.41 L94.6,239.68 L95.05,237.04 L95.5,225.58 L95.95,238.7 L96.4,237.87 L96.85,241.67 L97.3,241.5 L97.75,234.88 L98.2,230.89 L98.65,212.89 L99.1,205.1 L99.55,196.53 L100,193.2 L100.45,193.2 L100.9,193.2 L101.35,193.2 L101.8,194.66 L102.25,193.2 L102.7,193.2 L103.15,193.55 L103.6,194.83 L104.05,193.2 L104.5,193.2 L104.95,201.56 L105.4,216.43 L105.85,221.71 L106.3,226.09 L106.75,224.81 L107.2,207.85 L107.65,205.71 L108.1,205.48 L108.55,233.2 L109,257.59 L109.45,249.07 L109.9,245.36 L110.35,236.41 L110.8,237.24 L111.25,239.1 L111.7,238.98 L112.15,243.87 L112.6,244.38 L113.05,251.76 L113.5,246.04 L113.95,248.96 L114.4,248.06 L114.85,241.05 L115.3,235.37 L115.75,241.27 L116.2,228.96 L116.65,235.09 L117.1,231.55 L117.55,229.61 L118,232.96 L118.45,235.85 L118.9,230.03 L119.35,232.02 L119.8,235.82 L120.25,249.59 L120.7,251.8 L121.15,243.18 L121.6,242.7 L122.05,247.39 L122.5,247.44 L122.95,244.74 L123.4,237.28 L123.85,233.85 L124.3,228.38 L124.75,234.41 L125.2,229.14 L125.65,234.61 L126.1,237.65 L126.55,230.2 L127,235.42 L127.45,240.17 L127.9,243.7 L128.35,246.81 L128.8,238.73 L129.25,234.87 L129.7,235.68 L130.15,238.36 L130.6,235.03 L131.05,238.32 L131.5,237.01 L131.95,236.18 L132.4,237.09 L132.85,229.78 L133.3,225.23 L133.75,224.28 L134.2,239.28 L134.65,227.98 L135.1,226.92 L135.55,231.86 L136,232.59 L136.45,223.6 L136.9,211.71 L137.35,202.66 L137.8,201.16 L138.25,202.41 L138.7,196.37 L139.15,195.71 L139.6,198.84 L140.05,199.28 L140.5,197.42 L140.95,194.43 L141.4,193.2 L141.85,195.96 L142.3,193.71 L142.75,195.55 L143.2,197.45 L143.65,198.85 L144.1,205.81 L144.55,215.64 L145,230.57 L145.45,251.93 L145.9,255.61 L146.35,248.05 L146.8,252.25 L147.25,250.24 L147.7,249.25 L148.15,250.01 L148.6,246.76 L149.05,250.84 L149.5,256.52 L149.95,260.2 L150.4,253.16 L150.85,255.21 L151.3,256.21 L151.75,251.25 L152.2,256.94 L152.65,247.41 L153.1,247.86 L153.55,254.16 L154,258.12 L154.45,251.55 L154.9,259.19 L155.35,260.2 L155.8,257.85 L156.25,255.3 L156.7,254.81 L157.15,252.73 L157.6,255.44 L158.05,255.79 L158.5,249.1 L158.95,248.59 L159.4,253.85 L159.85,245.86 L160.3,259.99 L160.75,257.04 L161.2,252.14 L161.65,247.63 L162.1,249.32 L162.55,252.83 L163,249.63 L163.45,251.18 L163.9,248.05 L164.35,260.2 L164.8,254.18 L165.25,255.14 L165.7,243.27 L166.15,232.05 L166.6,220.38 L167.05,217.1 L167.5,212.41 L167.95,210.56 L168.4,200.92 L168.85,196.69 L169.3,199.04 L169.75,193.2 L170.2,193.2 L170.65,201.28 L171.1,194.65 L171.55,202.72 L172,201.26 L172.45,204.56 L172.9,214.9 L173.35,229.45 L173.8,242.79 L174.25,251.21 L174.7,252.08 L175.15,252.95 L175.6,246.53 L176.05,253.19 L176.5,259.6 L176.95,257.71 L177.4,250.06 L177.85,253.09 L178.3,246.58 L178.75,209.12 L179.2,204.62 L179.65,215.37 L180.1,237.33 L180.55,247.08 L181,246.43 L181.45,245.63 L181.9,246.53 L182.35,243.56 L182.8,241.65 L183.25,240.78 L183.7,240.69 L184.15,247.34 L184.6,251.59 L185.05,243.45 L185.5,241.98 L185.95,239.59 L186.4,243.72 L186.85,240.4 L187.3,240.2 L187.75,241.15 L188.2,240.85 L188.65,244.99 L189.1,239.16 L189.55,230.34 L190,234.72 L190.45,232.94 L190.9,237.8 L191.35,231.54 L191.8,222.1 L192.25,232.43 L192.7,232.48 L193.15,223.52 L193.6,223.25 L194.05,223.87 L194.5,234.8 L194.95,231.39 L195.4,222.63 L195.85,211.5 L196.3,206.84 L196.75,209.83 L197.2,212.45 L197.65,214.57 L198.1,209.44 L198.55,195.79 L199,195.29 L199.45,201.59 L199.9,193.2 L200.35,201.18 L200.8,193.2 L201.25,194.36 L201.7,193.2 L202.15,193.2 L202.6,193.2 L203.05,193.2 L203.5,193.2 L203.95,195.83 L204.4,200.04 L204.85,206.58 L205.3,206.51 L205.75,199.24 L206.2,206.46 L206.65,220.84 L207.1,218.03 L207.55,226.37 L208,235.78 L208.45,251.97 L208.9,255.84 L209.35,245.32 L209.8,247.2 L210.25,251.21 L210.7,250.79 L211.15,260.2 L211.6,260.2 L212.05,260.2 L212.5,260.2 L212.95,245.19 L213.4,223.37 L213.85,215.85 L214.3,211.29 L214.75,209.32 L215.2,198.58 L215.65,193.2 L216.1,193.2 L216.55,193.2 L217,193.2 L217.45,196.09 L217.9,202.01 L218.35,204.41 L218.8,200.34 L219.25,198.44 L219.7,199.94 L220.15,193.35 L220.6,194.3 L221.05,197.63 L221.5,200.3 L221.95,200.43 L222.4,204.99 L222.85,207.49 L223.3,202.72 L223.75,204.19 L224.2,203.49 L224.65,196.31 L225.1,198.75 L225.55,193.32 L226,196.39 L226.45,193.2 L226.9,193.39 L227.35,204.75 L227.8,197.59 L228.25,200.32 L228.7,209.87 L229.15,205.8 L229.6,203.4 L230.05,208.6 L230.5,208.31 L230.95,202.83 L231.4,195.77 L231.85,193.2 L232.3,193.2 L232.75,193.2 L233.2,205.84 L233.65,206.45 L234.1,202.61 L234.55,213.5 L235,203.89 L235.45,198.14 L235.9,202.63 L236.35,203.45 L236.8,209.56 L237.25,220.72 L237.7,224.15 L238.15,234.07 L238.6,252.04 L239.05,254.78 L239.5,257.88 L239.95,251.23 L240.4,248.91 L240.85,254.48 L241.3,256.28 L241.75,249.21 L242.2,237.88 L242.65,215.31 L243.1,199.5 L243.55,198.26 L244,211.17 L244.45,223.84 L244.9,230.17 L245.35,242.84 L245.8,235.48 L246.25,239.31 L246.7,240.31 L247.15,249.11 L247.6,250.37 L248.05,260.2 L248.5,255.27 L248.95,238.1 L249.4,226.99 L249.85,216.66 L250.3,208.05 L250.75,207.11 L251.2,223.6 L251.65,235.71" fill="none" stroke="#b4b4b4" stroke-width="0.6" stroke-linejoin="round"/>
<path d="M11.8,193.2 L12.25,193.53 L12.7,193.95 L13.15,195.72 L13.6,198.99 L14.05,211.56 L14.5,210.32 L14.95,209.44 L15.4,210.16 L15.85,209.51 L16.3,206.26 L16.75,205.24 L17.2,212.81 L17.65,213.83 L18.1,217.76 L18.55,234.88 L19,228.29 L19.45,235.07 L19.9,240.56 L20.35,237.37 L20.8,237.12 L21.25,239.33 L21.7,246.16 L22.15,246 L22.6,254.43 L23.05,244.7 L23.5,252.13 L23.95,251.92 L24.4,251.41 L24.85,250.76 L25.3,252.96 L25.75,250.82 L26.2,260.2 L26.65,260.2 L27.1,258.02 L27.55,256.87 L28,247.11 L28.45,253.3 L28.9,251.78 L29.35,259.36 L29.8,252.05 L30.25,256.51 L30.7,258.6 L31.15,241.01 L31.6,233.46 L32.05,226.3 L32.5,217.6 L32.95,220.86 L33.4,220.15 L33.85,206.89 L34.3,209.48 L34.75,202.88 L35.2,212.28 L35.65,210.51 L36.1,214.78 L36.55,207.55 L37,212.96 L37.45,227.06 L37.9,241.49 L38.35,243.08 L38.8,244.2 L39.25,252.35 L39.7,252 L40.15,247.13 L40.6,249.25 L41.05,252.74 L41.5,249.39 L41.95,253.09 L42.4,249.91 L42.85,253.72 L43.3,246.3 L43.75,250.82 L44.2,256.68 L44.65,254.23 L45.1,256.46 L45.55,258.73 L46,255.35 L46.45,248.59 L46.9,258.13 L47.35,252.9 L47.8,250.5 L48.25,249.5 L48.7,244.85 L49.15,252.8 L49.6,248.21 L50.05,250.26 L50.5,249.92 L50.95,251.26 L51.4,249.93 L51.85,245.58 L52.3,237.07 L52.75,224.54 L53.2,214.93 L53.65,205.64 L54.1,203.9 L54.55,205.92 L55,198.2 L55.45,193.2 L55.9,200.04 L56.35,200.67 L56.8,201.34 L57.25,203.96 L57.7,204 L58.15,202.35 L58.6,198.12 L59.05,199.78 L59.5,197.27 L59.95,200.18 L60.4,198.02 L60.85,199.72 L61.3,200.29 L61.75,202.24 L62.2,196.79 L62.65,193.2 L63.1,202.93 L63.55,212.66 L64,215.79 L64.45,222.41 L64.9,228.3 L65.35,236.58 L65.8,245.04 L66.25,249.91 L66.7,245.48 L67.15,244.44 L67.6,242.07 L68.05,244.47 L68.5,245.15 L68.95,253.15 L69.4,242.91 L69.85,248.17 L70.3,241.48 L70.75,245.89 L71.2,244.08 L71.65,238.3 L72.1,238.63 L72.55,242.14 L73,238.46 L73.45,238.76 L73.9,240.3 L74.35,243.69 L74.8,247.55 L75.25,247.8 L75.7,248.07 L76.15,245.58 L76.6,236.12 L77.05,230.49 L77.5,227.37 L77.95,225.15 L78.4,214.54 L78.85,208.93 L79.3,201.63 L79.75,196.12 L80.2,193.57 L80.65,194.72 L81.1,193.2 L81.55,193.2 L82,205.99 L82.45,202.25 L82.9,193.2 L83.35,196.22 L83.8,195.45 L84.25,193.2 L84.7,198.09 L85.15,199.08 L85.6,213.75 L86.05,220.85 L86.5,222.41 L86.95,231.19 L87.4,241.29 L87.85,239.66 L88.3,237.91 L88.75,237.95 L89.2,239.93 L89.65,237.86 L90.1,238.54 L90.55,241.77 L91,237.71 L91.45,236.14 L91.9,236.64 L92.35,233.8 L92.8,240 L93.25,238.13 L93.7,238.21 L94.15,229.04 L94.6,227.66 L95.05,219.55 L95.5,217.89 L95.95,226.25 L96.4,234.38 L96.85,231.58 L97.3,233.72 L97.75,234.32 L98.2,238.05 L98.65,226.48 L99.1,216.24 L99.55,206.29 L100,202.21 L100.45,206.65 L100.9,213.6 L101.35,206.91 L101.8,204.62 L102.25,204.06 L102.7,199.22 L103.15,203.68 L103.6,199.71 L104.05,203.22 L104.5,205.4 L104.95,212.11 L105.4,217.63 L105.85,230.84 L106.3,223.86 L106.75,220.16 L107.2,220.22 L107.65,212.84 L108.1,217.15 L108.55,224.14 L109,230.65 L109.45,232.39 L109.9,242.94 L110.35,233.48 L110.8,229.43 L111.25,230.77 L111.7,233.18 L112.15,231.1 L112.6,239.78 L113.05,237.13 L113.5,238.56 L113.95,243.69 L114.4,239.57 L114.85,236.87 L115.3,228.56 L115.75,227.18 L116.2,238.11 L116.65,245.73 L117.1,241.25 L117.55,239.75 L118,242.81 L118.45,247.45 L118.9,244.59 L119.35,248 L119.8,248.07 L120.25,241.05 L120.7,240.17 L121.15,244.15 L121.6,247.59 L122.05,244.48 L122.5,233.08 L122.95,236.66 L123.4,227.54 L123.85,233.86 L124.3,234.35 L124.75,230.34 L125.2,235.29 L125.65,234.65 L126.1,241.53 L126.55,236.52 L127,232.11 L127.45,238.74 L127.9,238.92 L128.35,242.07 L128.8,252 L129.25,234.21 L129.7,234.05 L130.15,232.69 L130.6,233.64 L131.05,234.81 L131.5,224.85 L131.95,238.82 L132.4,239.28 L132.85,240.05 L133.3,239.49 L133.75,234.55 L134.2,238.02 L134.65,242.36 L135.1,243.5 L135.55,236.54 L136,230.49 L136.45,225.85 L136.9,215.93 L137.35,217.74 L137.8,210.98 L138.25,209.68 L138.7,210.35 L139.15,210.41 L139.6,200.33 L140.05,200.85 L140.5,199.9 L140.95,204.18 L141.4,194.99 L141.85,199.26 L142.3,203.93 L142.75,205.8 L143.2,211.58 L143.65,217.82 L144.1,232.04 L144.55,236.17 L145,234.67 L145.45,237.37 L145.9,249.78 L146.35,248.65 L146.8,252.35 L147.25,260.2 L147.7,260.2 L148.15,260.2 L148.6,253.55 L149.05,253.56 L149.5,252.47 L149.95,258.31 L150.4,253.85 L150.85,260.2 L151.3,255.3 L151.75,247.04 L152.2,255.1 L152.65,250.26 L153.1,245.31 L153.55,250.28 L154,246.74 L154.45,249.37 L154.9,253.24 L155.35,260.2 L155.8,260.2 L156.25,260.2 L156.7,247.2 L157.15,247.83 L157.6,250.36 L158.05,257.43 L158.5,247.04 L158.95,254.98 L159.4,246.99 L159.85,244.47 L160.3,247.64 L160.75,252.26 L161.2,251.35 L161.65,256.41 L162.1,249.72 L162.55,241.33 L163,240.07 L163.45,237.86 L163.9,244.15 L164.35,242.42 L164.8,247.64 L165.25,247.54 L165.7,238.87 L166.15,222.41 L166.6,222.09 L167.05,220.72 L167.5,229.66 L167.95,222.74 L168.4,218.6 L168.85,214.69 L169.3,211.96 L169.75,205.22 L170.2,205.31 L170.65,201.26 L171.1,204.09 L171.55,204.95 L172,198.34 L172.45,201.81 L172.9,211.36 L173.35,218.71 L173.8,230 L174.25,239.49 L174.7,246.65 L175.15,257.31 L175.6,255.78 L176.05,257.66 L176.5,252.01 L176.95,245.24 L177.4,247.79 L177.85,244.29 L178.3,231.64 L178.75,215.01 L179.2,208.74 L179.65,221.03 L180.1,236.9 L180.55,240.85 L181,248.65 L181.45,241.02 L181.9,242.9 L182.35,235.45 L182.8,243.74 L183.25,242.05 L183.7,240.15 L184.15,241.54 L184.6,239.09 L185.05,242.49 L185.5,245.19 L185.95,247.59 L186.4,244.34 L186.85,243.26 L187.3,237.42 L187.75,237.03 L188.2,238.41 L188.65,239.48 L189.1,245.49 L189.55,241.45 L190,235.43 L190.45,240.29 L190.9,237.81 L191.35,231.99 L191.8,235.27 L192.25,232.86 L192.7,234.15 L193.15,220.82 L193.6,218.16 L194.05,217.42 L194.5,225.72 L194.95,224.02 L195.4,226.13 L195.85,222.73 L196.3,223.74 L196.75,220.29 L197.2,223 L197.65,215.35 L198.1,199.84 L198.55,203.72 L199,206.31 L199.45,200.48 L199.9,195.7 L200.35,198.44 L200.8,195.24 L201.25,194.22 L201.7,193.35 L202.15,193.2 L202.6,199.95 L203.05,199.81 L203.5,201.67 L203.95,206.81 L204.4,204.64 L204.85,212.53 L205.3,217.86 L205.75,210.33 L206.2,225.64 L206.65,226.29 L207.1,227.43 L207.55,235.55 L208,244.68 L208.45,258.69 L208.9,257.73 L209.35,260.2 L209.8,251.99 L210.25,259.74 L210.7,255.01 L211.15,260.2 L211.6,259.25 L212.05,248.08 L212.5,246.59 L212.95,241.83 L213.4,233.6 L213.85,224.39 L214.3,217.96 L214.75,215.07 L215.2,217.89 L215.65,206.2 L216.1,195.54 L216.55,193.2 L217,193.2 L217.45,193.83 L217.9,198.48 L218.35,195.62 L218.8,193.2 L219.25,198.61 L219.7,198.89 L220.15,203.9 L220.6,205.13 L221.05,203.57 L221.5,199.7 L221.95,203.17 L222.4,202.6 L222.85,194.97 L223.3,194.35 L223.75,193.2 L224.2,193.55 L224.65,196.3 L225.1,195.18 L225.55,194.17 L226,195.94 L226.45,193.2 L226.9,195.31 L227.35,193.2 L227.8,195.79 L228.25,194.36 L228.7,199.75 L229.15,202.29 L229.6,206.3 L230.05,198.28 L230.5,196.8 L230.95,197.18 L231.4,195.5 L231.85,200.68 L232.3,199.37 L232.75,201.13 L233.2,207.83 L233.65,204.54 L234.1,205.29 L234.55,195.77 L235,199.97 L235.45,201.81 L235.9,196.03 L236.35,197.27 L236.8,219.59 L237.25,226.12 L237.7,231.59 L238.15,227.24 L238.6,243.7 L239.05,254.39 L239.5,260.2 L239.95,260.2 L240.4,245.64 L240.85,243.4 L241.3,245.7 L241.75,240.79 L242.2,234.57 L242.65,223.97 L243.1,202.88 L243.55,195.18 L244,198.38 L244.45,205.16 L244.9,224.99 L245.35,241.43 L245.8,235.6 L246.25,235.25 L246.7,238.16 L247.15,241.65 L247.6,240.05 L248.05,239.49 L248.5,237.23 L248.95,229.96 L249.4,224.92 L249.85,220.04 L250.3,208.4 L250.75,213.6 L251.2,214.09 L251.65,225.77" fill="none" stroke="#f7c318" stroke-width="0.6" stroke-linejoin="round"/>
<path d="M11.8,204.75 L12.25,198.7 L12.7,207.83 L13.15,202.37 L13.6,210.19 L14.05,214.51 L14.5,202.79 L14.95,204.98 L15.4,206.85 L15.85,203.61 L16.3,198.9 L16.75,203.95 L17.2,206.78 L17.65,218.89 L18.1,221.1 L18.55,224.4 L19,234.12 L19.45,242.22 L19.9,247.2 L20.35,241.38 L20.8,239.04 L21.25,239.77 L21.7,239.06 L22.15,247.01 L22.6,244.63 L23.05,241.53 L23.5,237.3 L23.95,244.22 L24.4,245.78 L24.85,255.64 L25.3,252.77 L25.75,260.2 L26.2,260 L26.65,245.86 L27.1,256.14 L27.55,244.97 L28,241.94 L28.45,243.72 L28.9,239.95 L29.35,237.15 L29.8,232.49 L30.25,236.64 L30.7,240.53 L31.15,242.36 L31.6,241.39 L32.05,231.26 L32.5,227.15 L32.95,215.12 L33.4,224.24 L33.85,220.47 L34.3,216.08 L34.75,222.05 L35.2,206.03 L35.65,222.52 L36.1,219.09 L36.55,221.5 L37,215.24 L37.45,234.56 L37.9,228.22 L38.35,234.14 L38.8,236.61 L39.25,242.9 L39.7,240.06 L40.15,247.41 L40.6,245.33 L41.05,242.34 L41.5,233.26 L41.95,251.79 L42.4,240.19 L42.85,237.5 L43.3,243.64 L43.75,242.19 L44.2,245.34 L44.65,235.47 L45.1,238.28 L45.55,241.67 L46,242.91 L46.45,242.83 L46.9,242.2 L47.35,245.34 L47.8,231.1 L48.25,245.48 L48.7,260.2 L49.15,251.99 L49.6,247.4 L50.05,242.58 L50.5,243.41 L50.95,243.49 L51.4,239.2 L51.85,230.43 L52.3,232.3 L52.75,232.81 L53.2,215.27 L53.65,210.34 L54.1,217.01 L54.55,201.15 L55,198.86 L55.45,204.69 L55.9,213.11 L56.35,211.82 L56.8,218.23 L57.25,221.92 L57.7,225.77 L58.15,224.34 L58.6,215.47 L59.05,219.12 L59.5,225.22 L59.95,215.49 L60.4,212.81 L60.85,207.05 L61.3,202.35 L61.75,205.96 L62.2,206.82 L62.65,207.51 L63.1,218.42 L63.55,218.13 L64,214.22 L64.45,220.26 L64.9,230.19 L65.35,236.85 L65.8,241.23 L66.25,244.19 L66.7,244.41 L67.15,247.61 L67.6,247.41 L68.05,253.25 L68.5,245.27 L68.95,242.32 L69.4,246.87 L69.85,255.18 L70.3,246.85 L70.75,235.15 L71.2,237.71 L71.65,236.9 L72.1,237.39 L72.55,232.45 L73,239.81 L73.45,234.27 L73.9,238.54 L74.35,233.51 L74.8,235.57 L75.25,237.85 L75.7,245.6 L76.15,245.03 L76.6,239.47 L77.05,228.25 L77.5,222.56 L77.95,224.75 L78.4,219.5 L78.85,210.23 L79.3,208.79 L79.75,208.5 L80.2,209.27 L80.65,203.46 L81.1,201.91 L81.55,208.89 L82,205.27 L82.45,207.94 L82.9,210.65 L83.35,201.28 L83.8,198.84 L84.25,206.46 L84.7,208.68 L85.15,210.15 L85.6,218.49 L86.05,219.43 L86.5,217.58 L86.95,233.63 L87.4,233.1 L87.85,231.29 L88.3,230.24 L88.75,239.48 L89.2,235.2 L89.65,239.4 L90.1,233.81 L90.55,230.83 L91,231.43 L91.45,236.98 L91.9,238.83 L92.35,231.85 L92.8,237.26 L93.25,231.94 L93.7,228.69 L94.15,230.91 L94.6,217.51 L95.05,223.37 L95.5,215.33 L95.95,233.73 L96.4,244.26 L96.85,232.33 L97.3,228.28 L97.75,231.36 L98.2,230.94 L98.65,236.6 L99.1,228.38 L99.55,223.85 L100,217.6 L100.45,209.1 L100.9,208.06 L101.35,204.87 L101.8,208.7 L102.25,209.97 L102.7,209.38 L103.15,212.77 L103.6,207.06 L104.05,215.43 L104.5,206.62 L104.95,220.94 L105.4,219.61 L105.85,229.34 L106.3,219.15 L106.75,219.04 L107.2,215.36 L107.65,211.49 L108.1,221.75 L108.55,235.47 L109,248.06 L109.45,234.73 L109.9,238.5 L110.35,240.01 L110.8,237.95 L111.25,226.27 L111.7,240.52 L112.15,237.14 L112.6,238.96 L113.05,234.87 L113.5,245.11 L113.95,242.39 L114.4,234.02 L114.85,225.6 L115.3,220.83 L115.75,231.29 L116.2,231.43 L116.65,232.31 L117.1,239.63 L117.55,243.87 L118,234.55 L118.45,233.01 L118.9,234.7 L119.35,228.62 L119.8,237.76 L120.25,234.33 L120.7,235.44 L121.15,236.26 L121.6,233.39 L122.05,233.2 L122.5,232.13 L122.95,231.1 L123.4,221.17 L123.85,227.89 L124.3,223.92 L124.75,224.05 L125.2,229.42 L125.65,226.31 L126.1,234.07 L126.55,227.63 L127,235.46 L127.45,238.11 L127.9,235.43 L128.35,231.58 L128.8,229.28 L129.25,228.05 L129.7,233.12 L130.15,239.43 L130.6,234.24 L131.05,232.71 L131.5,238.44 L131.95,230.79 L132.4,231.01 L132.85,237.32 L133.3,232.97 L133.75,239.99 L134.2,240.77 L134.65,233.99 L135.1,240.86 L135.55,235.62 L136,240.48 L136.45,230.35 L136.9,230.53 L137.35,223.75 L137.8,228.75 L138.25,225.59 L138.7,215.26 L139.15,210.5 L139.6,218.56 L140.05,206.75 L140.5,201.28 L140.95,206.39 L141.4,200.2 L141.85,211.05 L142.3,211.46 L142.75,205.61 L143.2,205.01 L143.65,208.2 L144.1,224.4 L144.55,235.63 L145,232.48 L145.45,245.15 L145.9,245.59 L146.35,250.35 L146.8,240.93 L147.25,238.34 L147.7,238.71 L148.15,241.52 L148.6,242.5 L149.05,244.62 L149.5,241.81 L149.95,240.94 L150.4,239.27 L150.85,243.18 L151.3,232.8 L151.75,236.57 L152.2,232.81 L152.65,231.59 L153.1,243.07 L153.55,253.26 L154,242.54 L154.45,245.81 L154.9,244.73 L155.35,245.8 L155.8,244.04 L156.25,250.1 L156.7,247.26 L157.15,247.84 L157.6,245.82 L158.05,257.36 L158.5,246.32 L158.95,243.51 L159.4,253.19 L159.85,252.72 L160.3,248.25 L160.75,242.42 L161.2,242.46 L161.65,234.73 L162.1,237.99 L162.55,245.17 L163,246.78 L163.45,239.41 L163.9,242.48 L164.35,235.85 L164.8,231.48 L165.25,231.4 L165.7,226.91 L166.15,228.63 L166.6,226.57 L167.05,227.53 L167.5,228.39 L167.95,232.42 L168.4,225.17 L168.85,221.34 L169.3,220.4 L169.75,212.96 L170.2,208.45 L170.65,211.16 L171.1,203.92 L171.55,202.92 L172,201.78 L172.45,212.82 L172.9,228.4 L173.35,229.27 L173.8,232.35 L174.25,230.24 L174.7,232.86 L175.15,231.93 L175.6,241.05 L176.05,240.07 L176.5,246.37 L176.95,255.58 L177.4,249.06 L177.85,235.13 L178.3,241.26 L178.75,219.14 L179.2,221.26 L179.65,227.89 L180.1,232.94 L180.55,233.96 L181,239.49 L181.45,236.55 L181.9,233.61 L182.35,230.26 L182.8,237.29 L183.25,228.58 L183.7,222.35 L184.15,216.44 L184.6,233.3 L185.05,233.17 L185.5,243.51 L185.95,236.19 L186.4,231.13 L186.85,237.36 L187.3,242.59 L187.75,235.64 L188.2,229.92 L188.65,234.66 L189.1,234.12 L189.55,245.91 L190,241.97 L190.45,235.36 L190.9,231.97 L191.35,222.57 L191.8,232.47 L192.25,243.36 L192.7,234.08 L193.15,234.76 L193.6,230.14 L194.05,225.3 L194.5,223.39 L194.95,217.94 L195.4,215.13 L195.85,228.44 L196.3,225.35 L196.75,212.28 L197.2,218.72 L197.65,211.71 L198.1,210.54 L198.55,209.98 L199,199.23 L199.45,197.63 L199.9,203.58 L200.35,200.25 L200.8,210.4 L201.25,212.28 L201.7,204.69 L202.15,206.55 L202.6,214.47 L203.05,210.98 L203.5,209.8 L203.95,204.02 L204.4,203.38 L204.85,210.03 L205.3,214.6 L205.75,216.24 L206.2,223.85 L206.65,222.78 L207.1,220.36 L207.55,220.55 L208,227.99 L208.45,236.96 L208.9,236.56 L209.35,243.29 L209.8,242.69 L210.25,252.07 L210.7,249.61 L211.15,238 L211.6,245.22 L212.05,251.38 L212.5,244.7 L212.95,227.46 L213.4,216.99 L213.85,220.75 L214.3,223.84 L214.75,220.09 L215.2,219.48 L215.65,212.38 L216.1,213.23 L216.55,219.49 L217,219.03 L217.45,218.08 L217.9,221.28 L218.35,224.7 L218.8,216.91 L219.25,208.15 L219.7,213.88 L220.15,216.73 L220.6,212.86 L221.05,213.65 L221.5,216.07 L221.95,206.41 L222.4,213.29 L222.85,215.55 L223.3,216.96 L223.75,219.52 L224.2,218.51 L224.65,214.79 L225.1,209.23 L225.55,210.36 L226,213.74 L226.45,221.12 L226.9,218.33 L227.35,220.34 L227.8,216.51 L228.25,208.84 L228.7,208.48 L229.15,210.38 L229.6,214.38 L230.05,213.54 L230.5,213.29 L230.95,218.99 L231.4,220.44 L231.85,214.85 L232.3,224.34 L232.75,222.9 L233.2,225.06 L233.65,212.26 L234.1,209.57 L234.55,207.96 L235,207.24 L235.45,207.27 L235.9,207.47 L236.35,217.14 L236.8,219.6 L237.25,222.45 L237.7,233.11 L238.15,229.53 L238.6,232.63 L239.05,248.4 L239.5,250.29 L239.95,248.08 L240.4,246.23 L240.85,238.9 L241.3,243.7 L241.75,240.25 L242.2,231.72 L242.65,220.41 L243.1,215.89 L243.55,216.02 L244,214.71 L244.45,232.23 L244.9,228.12 L245.35,233.37 L245.8,239.9 L246.25,239.6 L246.7,248.02 L247.15,254.19 L247.6,248.5 L248.05,247.85 L248.5,237.09 L248.95,236.91 L249.4,235.76 L249.85,231.09 L250.3,213.85 L250.75,216.69 L251.2,227.35 L251.65,238.43" fill="none" stroke="#6fb04a" stroke-width="0.6" stroke-linejoin="round"/>
<path d="M11.8,197.04 L12.25,195.63 L12.7,199.48 L13.15,198.42 L13.6,200.48 L14.05,204.12 L14.5,197.83 L14.95,203.36 L15.4,201.97 L15.85,204.6 L16.3,205.14 L16.75,204.52 L17.2,207.3 L17.65,210.85 L18.1,211.31 L18.55,206.41 L19,213.96 L19.45,231.6 L19.9,233.57 L20.35,236.89 L20.8,239.49 L21.25,234.39 L21.7,239.51 L22.15,250.79 L22.6,247.52 L23.05,247.99 L23.5,252.16 L23.95,253.97 L24.4,254.3 L24.85,252.39 L25.3,253.45 L25.75,251.92 L26.2,243.11 L26.65,249.23 L27.1,252.16 L27.55,251.08 L28,244.71 L28.45,248.86 L28.9,241.14 L29.35,248.14 L29.8,250.19 L30.25,246.64 L30.7,248.1 L31.15,247.62 L31.6,237.4 L32.05,224.65 L32.5,216.64 L32.95,214.33 L33.4,205.38 L33.85,199.06 L34.3,196.36 L34.75,193.2 L35.2,201.53 L35.65,204.06 L36.1,202.73 L36.55,208.69 L37,219.91 L37.45,225.64 L37.9,232.8 L38.35,235.96 L38.8,243.02 L39.25,239.65 L39.7,247.02 L40.15,242.42 L40.6,243.1 L41.05,246.76 L41.5,245.21 L41.95,246.46 L42.4,247.99 L42.85,255.39 L43.3,252.88 L43.75,247.52 L44.2,246.02 L44.65,242.84 L45.1,239.02 L45.55,241.24 L46,234.94 L46.45,245.99 L46.9,245.95 L47.35,255.52 L47.8,246.18 L48.25,244.53 L48.7,237.08 L49.15,242.36 L49.6,252.89 L50.05,244.59 L50.5,251.59 L50.95,255.07 L51.4,249.82 L51.85,239.19 L52.3,236.76 L52.75,232.6 L53.2,232.12 L53.65,211.51 L54.1,209.84 L54.55,206.28 L55,198.89 L55.45,196.44 L55.9,198.33 L56.35,207.45 L56.8,210.05 L57.25,207.93 L57.7,205.09 L58.15,209.7 L58.6,211.9 L59.05,211.73 L59.5,209 L59.95,207.22 L60.4,206.94 L60.85,207.72 L61.3,201.24 L61.75,199.45 L62.2,198.66 L62.65,193.2 L63.1,194.2 L63.55,204.74 L64,213.16 L64.45,224.79 L64.9,227.99 L65.35,236.78 L65.8,238.34 L66.25,235.78 L66.7,235.56 L67.15,239.72 L67.6,243.38 L68.05,236.03 L68.5,237.83 L68.95,245.04 L69.4,240.75 L69.85,240.92 L70.3,241.27 L70.75,236.54 L71.2,234.05 L71.65,224.13 L72.1,227.23 L72.55,230.62 L73,230.36 L73.45,238.92 L73.9,236.8 L74.35,239.45 L74.8,235.21 L75.25,241.52 L75.7,239.39 L76.15,246.75 L76.6,241.7 L77.05,232.42 L77.5,222.46 L77.95,210.84 L78.4,204.65 L78.85,210.37 L79.3,207.37 L79.75,195.78 L80.2,194.77 L80.65,202.47 L81.1,198.5 L81.55,203.19 L82,204.47 L82.45,206.78 L82.9,203.61 L83.35,193.2 L83.8,193.2 L84.25,195.55 L84.7,193.2 L85.15,202.81 L85.6,210.39 L86.05,214.21 L86.5,215.83 L86.95,224.88 L87.4,225.62 L87.85,234.15 L88.3,233.01 L88.75,233.66 L89.2,238.72 L89.65,242.02 L90.1,239.81 L90.55,248.34 L91,243 L91.45,239.78 L91.9,237.73 L92.35,237.35 L92.8,234.61 L93.25,235.45 L93.7,230.97 L94.15,237.92 L94.6,230.5 L95.05,234.4 L95.5,230.83 L95.95,233.14 L96.4,234.38 L96.85,236.77 L97.3,228.89 L97.75,235.12 L98.2,238.28 L98.65,228.4 L99.1,217.35 L99.55,209.13 L100,209.87 L100.45,209.85 L100.9,201.44 L101.35,204.03 L101.8,198.02 L102.25,195.32 L102.7,198.71 L103.15,208.44 L103.6,201.28 L104.05,204.58 L104.5,208.53 L104.95,217.55 L105.4,228.01 L105.85,231.26 L106.3,228.01 L106.75,226.58 L107.2,218.84 L107.65,210.13 L108.1,215.07 L108.55,228.54 L109,231.03 L109.45,229.65 L109.9,229.17 L110.35,236.51 L110.8,245.22 L111.25,238.89 L111.7,238.79 L112.15,240.74 L112.6,238.14 L113.05,240.71 L113.5,242.57 L113.95,232.64 L114.4,241.44 L114.85,235.26 L115.3,230.67 L115.75,224.48 L116.2,227.44 L116.65,227.89 L117.1,234.45 L117.55,234.3 L118,243.9 L118.45,243.01 L118.9,240.66 L119.35,240.13 L119.8,241.81 L120.25,235.83 L120.7,244.53 L121.15,241.67 L121.6,241.95 L122.05,239.64 L122.5,237.68 L122.95,227.77 L123.4,234.83 L123.85,227.84 L124.3,223.46 L124.75,227.66 L125.2,232.32 L125.65,238.07 L126.1,240.18 L126.55,229.38 L127,242.31 L127.45,238.61 L127.9,241.97 L128.35,232.83 L128.8,234.65 L129.25,242.63 L129.7,243.13 L130.15,240 L130.6,238.25 L131.05,241.59 L131.5,240.27 L131.95,240.09 L132.4,235.78 L132.85,234.33 L133.3,233.76 L133.75,236.6 L134.2,231.78 L134.65,234.59 L135.1,237.01 L135.55,236.47 L136,235.8 L136.45,233.5 L136.9,235.86 L137.35,220.43 L137.8,214.49 L138.25,209.1 L138.7,211.16 L139.15,204.46 L139.6,200.87 L140.05,198.47 L140.5,193.2 L140.95,197.25 L141.4,197.29 L141.85,208.14 L142.3,204.37 L142.75,205.93 L143.2,214.96 L143.65,222.36 L144.1,235.23 L144.55,236.67 L145,235.92 L145.45,253.48 L145.9,248.05 L146.35,243.01 L146.8,248.74 L147.25,255.99 L147.7,259.99 L148.15,260.2 L148.6,259.27 L149.05,245.21 L149.5,251.54 L149.95,246.63 L150.4,241.66 L150.85,248.44 L151.3,249.42 L151.75,246.27 L152.2,250.72 L152.65,245.31 L153.1,238.72 L153.55,244.76 L154,251.36 L154.45,248.59 L154.9,247.91 L155.35,251.97 L155.8,251.31 L156.25,249.81 L156.7,247.13 L157.15,242.97 L157.6,247.9 L158.05,254.28 L158.5,259.33 L158.95,247.12 L159.4,250.34 L159.85,252.08 L160.3,240.36 L160.75,239.25 L161.2,233.2 L161.65,239.96 L162.1,245.74 L162.55,248.35 L163,244.34 L163.45,242.4 L163.9,240.76 L164.35,231.32 L164.8,230.01 L165.25,239.64 L165.7,235.44 L166.15,229.32 L166.6,229.25 L167.05,214.63 L167.5,213.28 L167.95,207.96 L168.4,208.86 L168.85,208.33 L169.3,198.87 L169.75,200.06 L170.2,203.56 L170.65,204.25 L171.1,204.05 L171.55,204.57 L172,206.23 L172.45,207.94 L172.9,205.25 L173.35,216.35 L173.8,231.05 L174.25,225.78 L174.7,236.53 L175.15,249.99 L175.6,258.2 L176.05,260.2 L176.5,252.28 L176.95,253.23 L177.4,253.8 L177.85,250.14 L178.3,241.34 L178.75,226.79 L179.2,222.28 L179.65,227.06 L180.1,232.03 L180.55,240.42 L181,236.46 L181.45,235.86 L181.9,234.55 L182.35,238.83 L182.8,244.16 L183.25,237.96 L183.7,236.24 L184.15,240.65 L184.6,243.13 L185.05,237.48 L185.5,227.96 L185.95,229.31 L186.4,220.08 L186.85,224.23 L187.3,226.1 L187.75,226.48 L188.2,224.26 L188.65,234.32 L189.1,232.54 L189.55,226.59 L190,235.58 L190.45,232.57 L190.9,228.63 L191.35,222.19 L191.8,219.29 L192.25,224.65 L192.7,218.13 L193.15,228.07 L193.6,234.48 L194.05,225.81 L194.5,223.81 L194.95,230.67 L195.4,223.94 L195.85,219.27 L196.3,215.86 L196.75,218.61 L197.2,223.97 L197.65,224.88 L198.1,214.9 L198.55,206.85 L199,204.65 L199.45,204.94 L199.9,198.43 L200.35,203.7 L200.8,204.75 L201.25,193.37 L201.7,198.84 L202.15,203.25 L202.6,199.62 L203.05,210.97 L203.5,201.99 L203.95,209.62 L204.4,212.51 L204.85,216.54 L205.3,217.44 L205.75,218.58 L206.2,220.35 L206.65,230.89 L207.1,228.2 L207.55,229.39 L208,241.64 L208.45,245.23 L208.9,251.47 L209.35,254.2 L209.8,252.05 L210.25,249.07 L210.7,246.54 L211.15,255.88 L211.6,252.17 L212.05,251.59 L212.5,237.57 L212.95,233.68 L213.4,226.93 L213.85,222.48 L214.3,217.65 L214.75,219.02 L215.2,211.34 L215.65,205.25 L216.1,202.26 L216.55,202.9 L217,204.5 L217.45,203.05 L217.9,207.94 L218.35,199.19 L218.8,200.93 L219.25,209.14 L219.7,207.67 L220.15,202.02 L220.6,203.43 L221.05,203.95 L221.5,212.58 L221.95,202.56 L222.4,202.28 L222.85,209.98 L223.3,208.08 L223.75,199.37 L224.2,198.74 L224.65,205.76 L225.1,205.92 L225.55,202.87 L226,194.08 L226.45,196.57 L226.9,196.13 L227.35,200.21 L227.8,201.15 L228.25,205.95 L228.7,209.93 L229.15,212.36 L229.6,210.67 L230.05,202.45 L230.5,202.96 L230.95,198.27 L231.4,197.25 L231.85,198.97 L232.3,202.35 L232.75,193.61 L233.2,193.2 L233.65,193.2 L234.1,193.2 L234.55,193.2 L235,193.2 L235.45,195.01 L235.9,195.83 L236.35,193.2 L236.8,211.13 L237.25,229.92 L237.7,231.75 L238.15,234.76 L238.6,244.22 L239.05,245.73 L239.5,247.14 L239.95,247.44 L240.4,244.61 L240.85,233.13 L241.3,225.99 L241.75,223.03 L242.2,224.77 L242.65,213.12 L243.1,214.27 L243.55,219.39 L244,211.74 L244.45,216.15 L244.9,222.91 L245.35,223.86 L245.8,221.55 L246.25,227.44 L246.7,232.02 L247.15,234.13 L247.6,234.68 L248.05,237.53 L248.5,242.6 L248.95,223.99 L249.4,223.87 L249.85,220.42 L250.3,212.82 L250.75,214.95 L251.2,221.41 L251.65,221.33" fill="none" stroke="#ef8a3c" stroke-width="0.6" stroke-linejoin="round"/>
<path d="M11.8,197.91 L12.25,201.2 L12.7,193.2 L13.15,205.33 L13.6,201.48 L14.05,212.74 L14.5,197.06 L14.95,193.44 L15.4,193.2 L15.85,193.2 L16.3,193.2 L16.75,193.2 L17.2,198.9 L17.65,201.15 L18.1,210.5 L18.55,214.79 L19,222.63 L19.45,238.85 L19.9,249.17 L20.35,236.8 L20.8,244.9 L21.25,254.56 L21.7,256.37 L22.15,260.2 L22.6,260.2 L23.05,260.2 L23.5,251.14 L23.95,256.27 L24.4,258.25 L24.85,256.6 L25.3,248.24 L25.75,256.84 L26.2,260.2 L26.65,248.78 L27.1,260.2 L27.55,260.2 L28,259.55 L28.45,247.61 L28.9,259.73 L29.35,260.2 L29.8,260.2 L30.25,260.2 L30.7,260.2 L31.15,257.83 L31.6,250.1 L32.05,229.63 L32.5,211.66 L32.95,195.82 L33.4,193.2 L33.85,193.2 L34.3,193.2 L34.75,193.2 L35.2,193.2 L35.65,196.99 L36.1,198.61 L36.55,194 L37,208.68 L37.45,231.06 L37.9,240.59 L38.35,244.32 L38.8,252.12 L39.25,260.2 L39.7,256.52 L40.15,258.1 L40.6,260.2 L41.05,258.02 L41.5,258.55 L41.95,260.2 L42.4,255.83 L42.85,246.54 L43.3,251.54 L43.75,248.05 L44.2,242.94 L44.65,258.42 L45.1,260.2 L45.55,258.26 L46,260.2 L46.45,260.2 L46.9,255.94 L47.35,251.7 L47.8,252.12 L48.25,260.2 L48.7,249.98 L49.15,252.18 L49.6,252.28 L50.05,254.05 L50.5,260.2 L50.95,260.2 L51.4,260.2 L51.85,250.8 L52.3,251.1 L52.75,246.75 L53.2,225.63 L53.65,201.02 L54.1,194.83 L54.55,193.2 L55,197.98 L55.45,212.18 L55.9,201.36 L56.35,196.75 L56.8,193.2 L57.25,194.16 L57.7,199.92 L58.15,198.39 L58.6,209.89 L59.05,212.51 L59.5,211.38 L59.95,201.39 L60.4,193.2 L60.85,193.2 L61.3,193.2 L61.75,193.2 L62.2,193.2 L62.65,193.2 L63.1,196.58 L63.55,219.28 L64,227.29 L64.45,238.13 L64.9,247.36 L65.35,252.75 L65.8,248.48 L66.25,244.82 L66.7,254.5 L67.15,252.1 L67.6,245.92 L68.05,253.86 L68.5,251.22 L68.95,256.61 L69.4,260.2 L69.85,260.2 L70.3,260.2 L70.75,259.36 L71.2,256.95 L71.65,249.06 L72.1,259.86 L72.55,244.55 L73,243.62 L73.45,253.94 L73.9,260.2 L74.35,260.2 L74.8,255.34 L75.25,254.09 L75.7,253.49 L76.15,260.2 L76.6,260.2 L77.05,236.25 L77.5,218.88 L77.95,220.65 L78.4,217.15 L78.85,211.78 L79.3,205.77 L79.75,193.2 L80.2,193.2 L80.65,193.2 L81.1,193.2 L81.55,198.05 L82,198.42 L82.45,193.2 L82.9,193.2 L83.35,197.08 L83.8,193.2 L84.25,193.2 L84.7,193.2 L85.15,193.2 L85.6,205.69 L86.05,202.92 L86.5,214.91 L86.95,236.42 L87.4,253.71 L87.85,250.24 L88.3,252.35 L88.75,260.2 L89.2,260.2 L89.65,249.32 L90.1,244.85 L90.55,254.91 L91,239.5 L91.45,248.02 L91.9,257.1 L92.35,255.17 L92.8,246.9 L93.25,237.51 L93.7,234.8 L94.15,240.72 L94.6,243.85 L95.05,250.9 L95.5,246.88 L95.95,248.24 L96.4,244.34 L96.85,251.48 L97.3,250.87 L97.75,252.75 L98.2,253.84 L98.65,240.44 L99.1,219.42 L99.55,209.6 L100,197.34 L100.45,194.65 L100.9,200.87 L101.35,193.2 L101.8,193.2 L102.25,193.2 L102.7,193.2 L103.15,193.2 L103.6,199.06 L104.05,197.28 L104.5,196.8 L104.95,206.36 L105.4,223.94 L105.85,230.88 L106.3,229.68 L106.75,217.05 L107.2,211.65 L107.65,203.41 L108.1,218.14 L108.55,248.28 L109,255.37 L109.45,241.7 L109.9,241.65 L110.35,247.75 L110.8,252.21 L111.25,247.94 L111.7,243.76 L112.15,242.77 L112.6,250.54 L113.05,252.19 L113.5,255.71 L113.95,256.69 L114.4,259.83 L114.85,257.11 L115.3,260.2 L115.75,260.2 L116.2,253.3 L116.65,255.49 L117.1,248.26 L117.55,255.96 L118,255.23 L118.45,251.25 L118.9,258.38 L119.35,260.2 L119.8,243.77 L120.25,253.95 L120.7,259.26 L121.15,260.2 L121.6,257.76 L122.05,255.77 L122.5,247.94 L122.95,244.05 L123.4,247.92 L123.85,248.56 L124.3,254.33 L124.75,257.49 L125.2,255.13 L125.65,246.39 L126.1,246.78 L126.55,244.19 L127,243.13 L127.45,249.86 L127.9,240.6 L128.35,251.54 L128.8,257.62 L129.25,259.27 L129.7,250.64 L130.15,253.35 L130.6,257.74 L131.05,252.6 L131.5,245.47 L131.95,248.75 L132.4,250.96 L132.85,244.25 L133.3,241.49 L133.75,239.69 L134.2,247.93 L134.65,245.13 L135.1,242.57 L135.55,253.47 L136,241.57 L136.45,237.82 L136.9,229.21 L137.35,202.71 L137.8,200.87 L138.25,206.88 L138.7,202.21 L139.15,193.58 L139.6,193.2 L140.05,193.2 L140.5,195.2 L140.95,197.6 L141.4,199.84 L141.85,202.7 L142.3,198.31 L142.75,199.13 L143.2,199.83 L143.65,213.48 L144.1,229.53 L144.55,232.64 L145,245 L145.45,251.11 L145.9,260.2 L146.35,260.2 L146.8,260.2 L147.25,260.2 L147.7,260.2 L148.15,260.2 L148.6,260.2 L149.05,260.2 L149.5,258.08 L149.95,260.2 L150.4,253.44 L150.85,256.75 L151.3,260.2 L151.75,260.2 L152.2,260.2 L152.65,260.2 L153.1,260.2 L153.55,260.2 L154,260.2 L154.45,260.2 L154.9,260.2 L155.35,260.2 L155.8,260.2 L156.25,254.25 L156.7,248.36 L157.15,250.99 L157.6,258.79 L158.05,260.2 L158.5,260.2 L158.95,255.07 L159.4,256.24 L159.85,260.2 L160.3,260.2 L160.75,260.2 L161.2,260.2 L161.65,260.2 L162.1,258.78 L162.55,253.85 L163,256.62 L163.45,260.2 L163.9,258.51 L164.35,248.04 L164.8,250.94 L165.25,260.2 L165.7,247.93 L166.15,242.18 L166.6,212.63 L167.05,215.77 L167.5,216.21 L167.95,212.75 L168.4,198.59 L168.85,196.35 L169.3,201.7 L169.75,207.86 L170.2,200.87 L170.65,199.99 L171.1,200.31 L171.55,193.2 L172,193.2 L172.45,193.2 L172.9,208.58 L173.35,233.7 L173.8,250.66 L174.25,254.24 L174.7,253.51 L175.15,255.47 L175.6,258.15 L176.05,259.95 L176.5,260.2 L176.95,260.2 L177.4,260.2 L177.85,260.2 L178.3,257.56 L178.75,211.32 L179.2,209.97 L179.65,228.24 L180.1,243.56 L180.55,253.51 L181,244.86 L181.45,246.17 L181.9,245.58 L182.35,243.8 L182.8,260.2 L183.25,259.63 L183.7,260.2 L184.15,260.2 L184.6,259.75 L185.05,249.42 L185.5,250.75 L185.95,240.57 L186.4,246.87 L186.85,246.28 L187.3,244.41 L187.75,238.36 L188.2,241.43 L188.65,246.18 L189.1,246.68 L189.55,252.9 L190,240.42 L190.45,236.92 L190.9,236.85 L191.35,237.59 L191.8,243.03 L192.25,244.53 L192.7,237.58 L193.15,242.45 L193.6,243.96 L194.05,230.37 L194.5,223.26 L194.95,227.07 L195.4,225.57 L195.85,221.59 L196.3,208.36 L196.75,211.26 L197.2,210.05 L197.65,199.9 L198.1,193.2 L198.55,193.2 L199,193.2 L199.45,193.2 L199.9,196.15 L200.35,197.64 L200.8,194.11 L201.25,193.2 L201.7,193.66 L202.15,196.49 L202.6,197.33 L203.05,193.93 L203.5,193.2 L203.95,199.61 L204.4,195.48 L204.85,201.55 L205.3,194.94 L205.75,202.77 L206.2,222.14 L206.65,248.48 L207.1,252.24 L207.55,259.16 L208,259.07 L208.45,260.2 L208.9,260.2 L209.35,260.2 L209.8,257.02 L210.25,260.2 L210.7,260.2 L211.15,260.2 L211.6,260.2 L212.05,260.2 L212.5,260.2 L212.95,257.87 L213.4,239.92 L213.85,223.49 L214.3,216.16 L214.75,202.38 L215.2,199 L215.65,193.2 L216.1,193.2 L216.55,193.2 L217,193.2 L217.45,193.2 L217.9,193.2 L218.35,193.2 L218.8,193.2 L219.25,193.2 L219.7,193.2 L220.15,193.2 L220.6,193.2 L221.05,193.2 L221.5,193.2 L221.95,193.2 L222.4,193.2 L222.85,193.2 L223.3,193.2 L223.75,193.2 L224.2,193.2 L224.65,193.2 L225.1,193.2 L225.55,193.2 L226,193.2 L226.45,193.2 L226.9,193.2 L227.35,193.2 L227.8,193.2 L228.25,193.2 L228.7,193.2 L229.15,193.2 L229.6,193.2 L230.05,193.2 L230.5,193.2 L230.95,193.2 L231.4,193.2 L231.85,193.2 L232.3,193.2 L232.75,193.2 L233.2,193.2 L233.65,193.2 L234.1,193.2 L234.55,193.2 L235,193.2 L235.45,193.2 L235.9,193.2 L236.35,193.2 L236.8,217.61 L237.25,235.23 L237.7,240.93 L238.15,249.56 L238.6,257.89 L239.05,260.2 L239.5,257.31 L239.95,260.2 L240.4,259.88 L240.85,258.79 L241.3,256.3 L241.75,252.67 L242.2,243.47 L242.65,218.27 L243.1,202.39 L243.55,193.2 L244,201.21 L244.45,214.93 L244.9,220.48 L245.35,235.15 L245.8,239.4 L246.25,240.23 L246.7,254.39 L247.15,252.75 L247.6,252 L248.05,253.04 L248.5,247.49 L248.95,237.6 L249.4,217.07 L249.85,209.2 L250.3,199.83 L250.75,206.54 L251.2,218.03 L251.65,243.01" fill="none" stroke="#5a8fd0" stroke-width="0.6" stroke-linejoin="round"/>
<path d="M11.8,210.79 L12.25,221.44 L12.7,222.15 L13.15,218.54 L13.6,213.66 L14.05,219.01 L14.5,227.68 L14.95,220.78 L15.4,224.61 L15.85,214.3 L16.3,215.61 L16.75,207.26 L17.2,216.44 L17.65,227.92 L18.1,235.28 L18.55,235.26 L19,234.59 L19.45,232.87 L19.9,236.96 L20.35,243.16 L20.8,240.99 L21.25,250.78 L21.7,246.96 L22.15,252.17 L22.6,243.86 L23.05,242.03 L23.5,244.33 L23.95,252.95 L24.4,249.86 L24.85,249.68 L25.3,254.5 L25.75,257.37 L26.2,249.09 L26.65,252.96 L27.1,250.28 L27.55,243.96 L28,255.28 L28.45,244.35 L28.9,242.23 L29.35,248.95 L29.8,253.34 L30.25,256.52 L30.7,247.15 L31.15,259.9 L31.6,244.61 L32.05,236.05 L32.5,232.94 L32.95,230.47 L33.4,227.89 L33.85,221.6 L34.3,211.02 L34.75,216.52 L35.2,212.07 L35.65,211.82 L36.1,217.63 L36.55,219.11 L37,230.01 L37.45,235.49 L37.9,236.4 L38.35,229.01 L38.8,238.01 L39.25,245.37 L39.7,249.21 L40.15,251.43 L40.6,256.95 L41.05,245.24 L41.5,252.34 L41.95,256.04 L42.4,258.73 L42.85,253.04 L43.3,238.56 L43.75,230.67 L44.2,236.75 L44.65,242.88 L45.1,247.87 L45.55,254.99 L46,249.21 L46.45,249.95 L46.9,238.87 L47.35,244.91 L47.8,251.55 L48.25,259.28 L48.7,260.2 L49.15,253.39 L49.6,250.19 L50.05,256.39 L50.5,260.2 L50.95,254.96 L51.4,253.06 L51.85,245.85 L52.3,242.1 L52.75,244.08 L53.2,244.31 L53.65,231.13 L54.1,225.78 L54.55,221.15 L55,212.25 L55.45,207.53 L55.9,214.81 L56.35,215.46 L56.8,230.76 L57.25,223.23 L57.7,223.82 L58.15,219.7 L58.6,218.3 L59.05,227.2 L59.5,226.32 L59.95,218.11 L60.4,221.34 L60.85,219.57 L61.3,222.23 L61.75,216.08 L62.2,213.64 L62.65,218.92 L63.1,229.46 L63.55,242.82 L64,233.94 L64.45,237.7 L64.9,245.7 L65.35,250.46 L65.8,253.06 L66.25,246.89 L66.7,245.01 L67.15,259.37 L67.6,255.71 L68.05,253.02 L68.5,253.26 L68.95,250.62 L69.4,240.9 L69.85,242.81 L70.3,239.08 L70.75,236.5 L71.2,246.59 L71.65,234.14 L72.1,236.32 L72.55,241.35 L73,239.58 L73.45,232.6 L73.9,244.63 L74.35,249.51 L74.8,246.44 L75.25,255.6 L75.7,256.74 L76.15,251.16 L76.6,241.71 L77.05,234.43 L77.5,226.9 L77.95,221.87 L78.4,226.69 L78.85,224.98 L79.3,220.98 L79.75,217.87 L80.2,210.17 L80.65,207.84 L81.1,221.5 L81.55,215.23 L82,219.86 L82.45,222.35 L82.9,211.22 L83.35,205.43 L83.8,203.29 L84.25,205.35 L84.7,203.36 L85.15,220.18 L85.6,220.01 L86.05,227.21 L86.5,232.43 L86.95,244.24 L87.4,236.84 L87.85,232.52 L88.3,233.5 L88.75,241.35 L89.2,241.36 L89.65,247.72 L90.1,246.83 L90.55,237.25 L91,231.98 L91.45,234.13 L91.9,234.64 L92.35,239.38 L92.8,238.73 L93.25,240.56 L93.7,237.62 L94.15,241.47 L94.6,234.82 L95.05,237.95 L95.5,237.42 L95.95,239 L96.4,231.35 L96.85,230.83 L97.3,239.39 L97.75,244.44 L98.2,238.57 L98.65,233.88 L99.1,228.93 L99.55,221.45 L100,210.74 L100.45,214.89 L100.9,207.88 L101.35,213.22 L101.8,214.27 L102.25,212.79 L102.7,215.77 L103.15,221.05 L103.6,227.53 L104.05,226.77 L104.5,228.64 L104.95,230.96 L105.4,229.27 L105.85,231.73 L106.3,227.52 L106.75,227.06 L107.2,223.3 L107.65,220.33 L108.1,223.31 L108.55,229.92 L109,241.71 L109.45,240.29 L109.9,240.89 L110.35,236.16 L110.8,235.93 L111.25,243.23 L111.7,241.98 L112.15,239.99 L112.6,242.39 L113.05,237.42 L113.5,239.78 L113.95,248.45 L114.4,244.36 L114.85,239.49 L115.3,244.78 L115.75,239.45 L116.2,254.18 L116.65,237.1 L117.1,246.12 L117.55,246.2 L118,245.76 L118.45,251.49 L118.9,246.02 L119.35,249.87 L119.8,254.28 L120.25,260.2 L120.7,250.04 L121.15,241.72 L121.6,244.6 L122.05,243.07 L122.5,234.76 L122.95,236.21 L123.4,232.61 L123.85,231.16 L124.3,231.53 L124.75,232.71 L125.2,230.15 L125.65,234.13 L126.1,237.03 L126.55,243.3 L127,253.87 L127.45,253.72 L127.9,251.02 L128.35,242.9 L128.8,245.96 L129.25,255.61 L129.7,246.69 L130.15,239.15 L130.6,239.76 L131.05,239.9 L131.5,239.81 L131.95,241.34 L132.4,234.5 L132.85,242.44 L133.3,246.02 L133.75,251.13 L134.2,248.5 L134.65,247.81 L135.1,247.02 L135.55,242.16 L136,235.41 L136.45,242.9 L136.9,236.4 L137.35,235.29 L137.8,233.91 L138.25,232.68 L138.7,225.97 L139.15,230.45 L139.6,214.85 L140.05,214.11 L140.5,217.27 L140.95,224.39 L141.4,215.26 L141.85,213.25 L142.3,211.51 L142.75,214.75 L143.2,211.77 L143.65,214.56 L144.1,214.97 L144.55,223.76 L145,228.03 L145.45,241.6 L145.9,246.96 L146.35,250.19 L146.8,250.72 L147.25,251.65 L147.7,252.68 L148.15,253.1 L148.6,252.16 L149.05,254.39 L149.5,256.76 L149.95,256.55 L150.4,250.63 L150.85,247.31 L151.3,243.93 L151.75,235.71 L152.2,249.53 L152.65,247.24 L153.1,257.35 L153.55,258.77 L154,260.2 L154.45,256.97 L154.9,248.53 L155.35,242.99 L155.8,246.04 L156.25,244.23 L156.7,246.05 L157.15,255.53 L157.6,245.55 L158.05,252.28 L158.5,255.35 L158.95,254.67 L159.4,258.92 L159.85,259.44 L160.3,252.43 L160.75,257.23 L161.2,257.64 L161.65,260.2 L162.1,260.2 L162.55,256.8 L163,251.22 L163.45,251.91 L163.9,241.14 L164.35,249.18 L164.8,245.37 L165.25,249.64 L165.7,245.99 L166.15,238.95 L166.6,242.81 L167.05,229.61 L167.5,230.8 L167.95,229.09 L168.4,225.36 L168.85,217.77 L169.3,221.13 L169.75,224.15 L170.2,218.61 L170.65,219.47 L171.1,221.44 L171.55,219.07 L172,211.49 L172.45,223.76 L172.9,242.63 L173.35,245.44 L173.8,255.27 L174.25,251.21 L174.7,254.93 L175.15,254.01 L175.6,245.6 L176.05,250.94 L176.5,260.1 L176.95,260.15 L177.4,258.82 L177.85,259.83 L178.3,246.59 L178.75,230.24 L179.2,222.08 L179.65,226.24 L180.1,237.46 L180.55,244.76 L181,246.62 L181.45,245.38 L181.9,248.25 L182.35,254.64 L182.8,237.93 L183.25,234.45 L183.7,241.36 L184.15,245.64 L184.6,246.97 L185.05,243.06 L185.5,244.52 L185.95,254.29 L186.4,246.15 L186.85,240.3 L187.3,246.85 L187.75,250.41 L188.2,245.5 L188.65,248.18 L189.1,238.58 L189.55,234.59 L190,245.67 L190.45,239.92 L190.9,246.85 L191.35,246.49 L191.8,235.8 L192.25,238.64 L192.7,235.14 L193.15,238.65 L193.6,227.61 L194.05,232.18 L194.5,218.73 L194.95,224.75 L195.4,231.87 L195.85,231.72 L196.3,232.17 L196.75,222.75 L197.2,231.28 L197.65,222.68 L198.1,212.14 L198.55,206.83 L199,216.81 L199.45,209.26 L199.9,207.65 L200.35,205.24 L200.8,214.91 L201.25,213.7 L201.7,208.13 L202.15,211.81 L202.6,214.28 L203.05,219.44 L203.5,220.67 L203.95,220.21 L204.4,207.48 L204.85,215.25 L205.3,221.27 L205.75,228.21 L206.2,230.7 L206.65,237.49 L207.1,243.22 L207.55,252.34 L208,240.52 L208.45,247.23 L208.9,254.78 L209.35,253.74 L209.8,258.31 L210.25,256.79 L210.7,260.2 L211.15,260.2 L211.6,260.2 L212.05,255.84 L212.5,250.88 L212.95,245.37 L213.4,238.16 L213.85,241.08 L214.3,236.02 L214.75,230.05 L215.2,219.3 L215.65,220.56 L216.1,225.19 L216.55,224.34 L217,223.28 L217.45,224.16 L217.9,224.57 L218.35,222.58 L218.8,224.69 L219.25,225.26 L219.7,227.4 L220.15,233.77 L220.6,226.83 L221.05,227.03 L221.5,225.16 L221.95,229.05 L222.4,217.16 L222.85,214.37 L223.3,220.34 L223.75,220.04 L224.2,218.8 L224.65,213.69 L225.1,220.18 L225.55,220.01 L226,228.18 L226.45,228.9 L226.9,228.36 L227.35,227.79 L227.8,230.55 L228.25,223.38 L228.7,226.64 L229.15,228.02 L229.6,225.7 L230.05,218.05 L230.5,216.33 L230.95,222.29 L231.4,230.33 L231.85,236.18 L232.3,232.41 L232.75,226.6 L233.2,222.88 L233.65,224.7 L234.1,227.97 L234.55,223.04 L235,216.39 L235.45,218.83 L235.9,217.87 L236.35,221.7 L236.8,227.25 L237.25,226.74 L237.7,235.08 L238.15,232.69 L238.6,244.43 L239.05,250.94 L239.5,249.61 L239.95,247.23 L240.4,250.6 L240.85,248.35 L241.3,246.1 L241.75,244.49 L242.2,239.83 L242.65,228.25 L243.1,229.35 L243.55,221.25 L244,220.5 L244.45,235.23 L244.9,239.34 L245.35,245.93 L245.8,252.03 L246.25,247.64 L246.7,243.81 L247.15,247.99 L247.6,246.6 L248.05,247.14 L248.5,255.3 L248.95,246.62 L249.4,232.92 L249.85,221.51 L250.3,228.77 L250.75,236.32 L251.2,236.38 L251.65,243.59" fill="none" stroke="#b0581a" stroke-width="0.75" stroke-linejoin="round"/>
<text x="6.6" y="169.7" font-size="7.8" font-weight="bold" class="sans" fill="#333">F</text>
<line x1="63.9" y1="290" x2="69.8" y2="290" stroke="#5a8fd0" stroke-width="0.7"/>
<text x="70.3" y="290.9" font-size="2.6" class="sans" fill="#555">VLXT</text>
<line x1="81.2" y1="290" x2="86.8" y2="290" stroke="#ef8a3c" stroke-width="0.7"/>
<text x="87.4" y="290.9" font-size="2.6" class="sans" fill="#555">VL3</text>
<line x1="97.8" y1="290" x2="104.6" y2="290" stroke="#b8b8b8" stroke-width="0.7"/>
<text x="105.2" y="290.9" font-size="2.6" class="sans" fill="#555">VSL2</text>
<line x1="115.6" y1="290" x2="121.7" y2="290" stroke="#f7c318" stroke-width="0.7"/>
<text x="122.3" y="290.9" font-size="2.6" class="sans" fill="#555">PONDR FIT DATA</text>
<line x1="148.7" y1="290" x2="153.8" y2="290" stroke="#6fb04a" stroke-width="0.7"/>
<text x="154.3" y="290.9" font-size="2.6" class="sans" fill="#555">IUPRED L</text>
<line x1="172.6" y1="290" x2="178.5" y2="290" stroke="#b8601c" stroke-width="0.7"/>
<text x="179.1" y="290.9" font-size="2.6" class="sans" fill="#555">IUPRED SH</text>
<rect x="272" y="5.9" width="12.2" height="2.55" fill="#3c9aa8"/>
<rect x="272" y="8.65" width="15.5" height="2.55" fill="#22c0b4"/>
<rect x="326.6" y="8.65" width="15.2" height="2.55" fill="#22c0b4"/>
<rect x="388.1" y="8.65" width="5.3" height="2.55" fill="#22c0b4"/>
<rect x="453.6" y="8.65" width="11.9" height="2.55" fill="#22c0b4"/>
<rect x="504.9" y="8.65" width="4" height="2.55" fill="#22c0b4"/>
<rect x="272" y="11.4" width="16.8" height="2.55" fill="#3fb0d4"/>
<rect x="300" y="11.4" width="2.7" height="2.55" fill="#3fb0d4"/>
<rect x="317.3" y="11.4" width="5.3" height="2.55" fill="#3fb0d4"/>
<rect x="325.9" y="11.4" width="13.9" height="2.55" fill="#3fb0d4"/>
<rect x="346" y="11.4" width="0.8" height="2.55" fill="#9ccfe0"/>
<rect x="380.8" y="11.4" width="18.6" height="2.55" fill="#3fb0d4"/>
<rect x="403.3" y="11.4" width="12.6" height="2.55" fill="#3fb0d4"/>
<rect x="427.2" y="11.4" width="1.2" height="2.55" fill="#3fb0d4"/>
<rect x="452.3" y="11.4" width="14.6" height="2.55" fill="#3fb0d4"/>
<rect x="472.2" y="11.4" width="1.8" height="2.55" fill="#3fb0d4"/>
<rect x="477.5" y="11.4" width="3.3" height="2.55" fill="#3fb0d4"/>
<rect x="486.7" y="11.4" width="4" height="2.55" fill="#3fb0d4"/>
<rect x="497" y="11.4" width="3" height="2.55" fill="#3fb0d4"/>
<rect x="503.6" y="11.4" width="13.3" height="2.55" fill="#3fb0d4"/>
<rect x="524.1" y="11.4" width="1.9" height="2.55" fill="#3fb0d4"/>
<rect x="529.4" y="11.4" width="2.1" height="2.55" fill="#3fb0d4"/>
<rect x="272" y="14.15" width="14.9" height="2.55" fill="#c84660"/>
<rect x="303.2" y="14.15" width="0.8" height="2.55" fill="#c84660"/>
<rect x="328.5" y="14.15" width="10" height="2.55" fill="#c84660"/>
<rect x="370.6" y="14.15" width="0.7" height="2.55" fill="#aaaaaa"/>
<rect x="380.8" y="14.15" width="16.3" height="2.55" fill="#c84660"/>
<rect x="407" y="14.15" width="2" height="2.55" fill="#c84660"/>
<rect x="455.6" y="14.15" width="9.9" height="2.55" fill="#c84660"/>
<rect x="505.6" y="14.15" width="11.9" height="2.55" fill="#c84660"/>
<rect x="272" y="16.9" width="14" height="2.55" fill="#a44c60"/>
<rect x="328.5" y="16.9" width="10" height="2.55" fill="#a44c60"/>
<rect x="380.8" y="16.9" width="16.3" height="2.55" fill="#a44c60"/>
<rect x="407.5" y="16.9" width="1" height="2.55" fill="#a44c60"/>
<rect x="411.5" y="16.9" width="1" height="2.55" fill="#d8a0a8"/>
<rect x="455.6" y="16.9" width="9.9" height="2.55" fill="#a44c60"/>
<rect x="505.6" y="16.9" width="11.9" height="2.55" fill="#a44c60"/>
<rect x="272" y="19.65" width="18.2" height="2.55" fill="#e2aa56"/>
<rect x="298" y="19.65" width="10.7" height="2.55" fill="#e4b878"/>
<rect x="318.6" y="19.65" width="3.3" height="2.55" fill="#e2aa56"/>
<rect x="323.9" y="19.65" width="15.9" height="2.55" fill="#e2aa56"/>
<rect x="377.5" y="19.65" width="23.2" height="2.55" fill="#e2aa56"/>
<rect x="402" y="19.65" width="11.2" height="2.55" fill="#e2aa56"/>
<rect x="421.9" y="19.65" width="1.6" height="2.55" fill="#e6c090"/>
<rect x="425.8" y="19.65" width="2.2" height="2.55" fill="#e6c090"/>
<rect x="430.5" y="19.65" width="3.9" height="2.55" fill="#e4b878"/>
<rect x="450.3" y="19.65" width="19.2" height="2.55" fill="#e2aa56"/>
<rect x="472.2" y="19.65" width="1.8" height="2.55" fill="#e2aa56"/>
<rect x="490" y="19.65" width="7.6" height="2.55" fill="#e8c8a0"/>
<rect x="497.6" y="19.65" width="23.2" height="2.55" fill="#e2aa56"/>
<rect x="523.5" y="19.65" width="2.5" height="2.55" fill="#e2aa56"/>
<rect x="529.4" y="19.65" width="1.1" height="2.55" fill="#e6c090"/>
<rect x="535.4" y="19.65" width="4" height="2.55" fill="#e4b878"/>
<rect x="272" y="22.4" width="17" height="2.55" fill="#5e6894"/>
<rect x="327.2" y="22.4" width="11.3" height="2.55" fill="#5e6894"/>
<rect x="378.8" y="22.4" width="35.8" height="2.55" fill="#5e6894"/>
<rect x="451.6" y="22.4" width="17.2" height="2.55" fill="#5e6894"/>
<rect x="472" y="22.4" width="2" height="2.55" fill="#5e6894"/>
<rect x="504.3" y="22.4" width="15.9" height="2.55" fill="#5e6894"/>
<rect x="272" y="25.15" width="15" height="2.55" fill="#b866b8"/>
<rect x="318.6" y="25.15" width="2" height="2.55" fill="#b866b8"/>
<rect x="327.9" y="25.15" width="10.6" height="2.55" fill="#b866b8"/>
<rect x="370.6" y="25.15" width="0.7" height="2.55" fill="#aaaaaa"/>
<rect x="377.5" y="25.15" width="36.4" height="2.55" fill="#b866b8"/>
<rect x="426.5" y="25.15" width="2" height="2.55" fill="#b866b8"/>
<rect x="435.8" y="25.15" width="1.2" height="2.55" fill="#b866b8"/>
<rect x="451" y="25.15" width="17.8" height="2.55" fill="#b866b8"/>
<rect x="478" y="25.15" width="2" height="2.55" fill="#b866b8"/>
<rect x="488" y="25.15" width="2" height="2.55" fill="#b866b8"/>
<rect x="496.3" y="25.15" width="25.2" height="2.55" fill="#b866b8"/>
<rect x="534.7" y="25.15" width="6" height="2.55" fill="#b866b8"/>
<rect x="272" y="27.9" width="16" height="2.55" fill="#6c7c62"/>
<rect x="297.5" y="27.9" width="1.5" height="2.55" fill="#6c7c62"/>
<rect x="329.2" y="27.9" width="11.9" height="2.55" fill="#6c7c62"/>
<rect x="343" y="27.9" width="2.8" height="2.55" fill="#6c7c62"/>
<rect x="380.2" y="27.9" width="33" height="2.55" fill="#6c7c62"/>
<rect x="448.3" y="27.9" width="21.9" height="2.55" fill="#6c7c62"/>
<rect x="474.1" y="27.9" width="2.7" height="2.55" fill="#6c7c62"/>
<rect x="490" y="27.9" width="4" height="2.55" fill="#6c7c62"/>
<rect x="504.3" y="27.9" width="11.9" height="2.55" fill="#6c7c62"/>
<rect x="522.2" y="27.9" width="6.6" height="2.55" fill="#6c7c62"/>
<rect x="538.7" y="27.9" width="1.3" height="2.55" fill="#6c7c62"/>
<rect x="329.2" y="107.85" width="21.8" height="2.55" fill="#22c0b4"/>
<rect x="406.25" y="107.85" width="11.75" height="2.55" fill="#22c0b4"/>
<rect x="489.4" y="107.85" width="22.2" height="2.55" fill="#22c0b4"/>
<rect x="527.6" y="107.85" width="12.5" height="2.55" fill="#22c0b4"/>
<rect x="278.9" y="110.6" width="4.85" height="2.55" fill="#3fb0d4"/>
<rect x="290.7" y="110.6" width="2.8" height="2.55" fill="#3fb0d4"/>
<rect x="298" y="110.6" width="2.8" height="2.55" fill="#3fb0d4"/>
<rect x="313.5" y="110.6" width="3.5" height="2.55" fill="#3fb0d4"/>
<rect x="323.2" y="110.6" width="37.4" height="2.55" fill="#3fb0d4"/>
<rect x="361.9" y="110.6" width="4.2" height="2.55" fill="#3fb0d4"/>
<rect x="387.6" y="110.6" width="1.4" height="2.55" fill="#3fb0d4"/>
<rect x="407" y="110.6" width="16" height="2.55" fill="#3fb0d4"/>
<rect x="432.6" y="110.6" width="1" height="2.55" fill="#3fb0d4"/>
<rect x="444.2" y="110.6" width="1.8" height="2.55" fill="#3fb0d4"/>
<rect x="479" y="110.6" width="4.2" height="2.55" fill="#3fb0d4"/>
<rect x="488.75" y="110.6" width="27.75" height="2.55" fill="#3fb0d4"/>
<rect x="518.6" y="110.6" width="28.4" height="2.55" fill="#3fb0d4"/>
<rect x="332.9" y="113.35" width="13.9" height="2.55" fill="#c84660"/>
<rect x="409" y="113.35" width="11.1" height="2.55" fill="#c84660"/>
<rect x="488" y="113.35" width="22.2" height="2.55" fill="#c84660"/>
<rect x="524.1" y="113.35" width="22.9" height="2.55" fill="#c84660"/>
<rect x="332.9" y="116.1" width="13.9" height="2.55" fill="#a44c60"/>
<rect x="409" y="116.1" width="11.1" height="2.55" fill="#a44c60"/>
<rect x="488" y="116.1" width="22.2" height="2.55" fill="#a44c60"/>
<rect x="529.7" y="116.1" width="17.3" height="2.55" fill="#a44c60"/>
<rect x="279.6" y="118.85" width="3.4" height="2.55" fill="#e2aa56"/>
<rect x="290.7" y="118.85" width="0.8" height="2.55" fill="#e2aa56"/>
<rect x="293.5" y="118.85" width="0.8" height="2.55" fill="#e2aa56"/>
<rect x="297.2" y="118.85" width="5.3" height="2.55" fill="#e2aa56"/>
<rect x="307" y="118.85" width="1" height="2.55" fill="#e4c090"/>
<rect x="312.2" y="118.85" width="1.3" height="2.55" fill="#e4c090"/>
<rect x="315" y="118.85" width="1" height="2.55" fill="#e4c090"/>
<rect x="328.75" y="118.85" width="21.55" height="2.55" fill="#e2aa56"/>
<rect x="398.5" y="118.85" width="0.8" height="2.55" fill="#cccccc"/>
<rect x="406.25" y="118.85" width="15.95" height="2.55" fill="#e2aa56"/>
<rect x="444.4" y="118.85" width="2.1" height="2.55" fill="#e2aa56"/>
<rect x="463.75" y="118.85" width="7.65" height="2.55" fill="#e2aa56"/>
<rect x="473.5" y="118.85" width="0.8" height="2.55" fill="#cccccc"/>
<rect x="479.7" y="118.85" width="34" height="2.55" fill="#e2aa56"/>
<rect x="525.5" y="118.85" width="21.5" height="2.55" fill="#e2aa56"/>
<rect x="278.9" y="121.6" width="6.7" height="2.55" fill="#5e6894"/>
<rect x="291.4" y="121.6" width="3.5" height="2.55" fill="#5e6894"/>
<rect x="298.3" y="121.6" width="2.1" height="2.55" fill="#5e6894"/>
<rect x="323.9" y="121.6" width="27.8" height="2.55" fill="#5e6894"/>
<rect x="404.9" y="121.6" width="18" height="2.55" fill="#5e6894"/>
<rect x="482.5" y="121.6" width="31.2" height="2.55" fill="#5e6894"/>
<rect x="526.2" y="121.6" width="20.8" height="2.55" fill="#5e6894"/>
<rect x="279" y="124.35" width="5" height="2.55" fill="#b866b8"/>
<rect x="292" y="124.35" width="4" height="2.55" fill="#b866b8"/>
<rect x="314.9" y="124.35" width="1.6" height="2.55" fill="#b866b8"/>
<rect x="328.75" y="124.35" width="20.15" height="2.55" fill="#b866b8"/>
<rect x="393.6" y="124.35" width="1.9" height="2.55" fill="#b866b8"/>
<rect x="407" y="124.35" width="15.2" height="2.55" fill="#b866b8"/>
<rect x="443.3" y="124.35" width="4.6" height="2.55" fill="#b866b8"/>
<rect x="445" y="124.35" width="2.8" height="2.55" fill="#b866b8"/>
<rect x="467.2" y="124.35" width="4.9" height="2.55" fill="#b866b8"/>
<rect x="479.7" y="124.35" width="34.3" height="2.55" fill="#b866b8"/>
<rect x="526" y="124.35" width="21" height="2.55" fill="#b866b8"/>
<rect x="278.2" y="127.1" width="6.2" height="2.55" fill="#6c7c62"/>
<rect x="293.5" y="127.1" width="5.5" height="2.55" fill="#6c7c62"/>
<rect x="304.6" y="127.1" width="0.9" height="2.55" fill="#6c7c62"/>
<rect x="334.3" y="127.1" width="12.5" height="2.55" fill="#6c7c62"/>
<rect x="360" y="127.1" width="0.8" height="2.55" fill="#888888"/>
<rect x="396" y="127.1" width="1" height="2.55" fill="#6c7c62"/>
<rect x="407.6" y="127.1" width="12.5" height="2.55" fill="#6c7c62"/>
<rect x="434" y="127.1" width="3.5" height="2.55" fill="#6c7c62"/>
<rect x="463" y="127.1" width="2.8" height="2.55" fill="#6c7c62"/>
<rect x="469.3" y="127.1" width="1.7" height="2.55" fill="#6c7c62"/>
<rect x="488" y="127.1" width="22.9" height="2.55" fill="#6c7c62"/>
<rect x="525.5" y="127.1" width="21.5" height="2.55" fill="#6c7c62"/>
<rect x="305.3" y="207.25" width="5.3" height="2.55" fill="#22c0b4"/>
<rect x="350.5" y="207.25" width="1.2" height="2.55" fill="#22c0b4"/>
<rect x="272.9" y="210" width="46.7" height="2.55" fill="#3fb0d4"/>
<rect x="325.3" y="210" width="3.3" height="2.55" fill="#3fb0d4"/>
<rect x="332.6" y="210" width="8.2" height="2.55" fill="#3fb0d4"/>
<rect x="272.9" y="212.75" width="45.8" height="2.55" fill="#c84660"/>
<rect x="327.7" y="212.75" width="10.7" height="2.55" fill="#c84660"/>
<rect x="272.9" y="215.5" width="1.6" height="2.55" fill="#a44c60"/>
<rect x="277.8" y="215.5" width="40.9" height="2.55" fill="#a44c60"/>
<rect x="328.6" y="215.5" width="9.8" height="2.55" fill="#c88a96"/>
<rect x="272.9" y="218.25" width="49.9" height="2.55" fill="#e2aa56"/>
<rect x="331" y="218.25" width="11.5" height="2.55" fill="#e2aa56"/>
<rect x="350.3" y="218.25" width="1.2" height="2.55" fill="#e2aa56"/>
<rect x="272.9" y="221" width="44.2" height="2.55" fill="#5e6894"/>
<rect x="326.1" y="221" width="1.6" height="2.55" fill="#5e6894"/>
<rect x="331" y="221" width="5.7" height="2.55" fill="#5e6894"/>
<rect x="349.8" y="221" width="2.5" height="2.55" fill="#5e6894"/>
<rect x="272.9" y="223.75" width="47.5" height="2.55" fill="#b866b8"/>
<rect x="326.9" y="223.75" width="13.9" height="2.55" fill="#b866b8"/>
<rect x="350" y="223.75" width="2" height="2.55" fill="#b866b8"/>
<rect x="272.9" y="226.5" width="45" height="2.55" fill="#6c7c62"/>
<rect x="329.4" y="226.5" width="6.5" height="2.55" fill="#6c7c62"/>
<rect x="346.6" y="226.5" width="1.4" height="2.55" fill="#6c7c62"/>
<rect x="271.5" y="35.95" width="275.5" height="1.3" fill="#8a8a8a"/>
<rect x="281.5" y="33.2" width="49" height="3.1" rx="0.2" fill="#f4f03a"/>
<rect x="339.9" y="33.2" width="39.1" height="3.1" rx="0.2" fill="#f4f03a"/>
<rect x="415.7" y="33.2" width="39.8" height="3.1" rx="0.2" fill="#f4f03a"/>
<rect x="460.5" y="33.2" width="48.5" height="3.1" rx="0.2" fill="#f4f03a"/>
<rect x="512.2" y="33.2" width="34.8" height="3.1" rx="0.2" fill="#f4f03a"/>
<rect x="291.3" y="37.2" width="32.5" height="3.8" rx="1.4" fill="#ee8e8c" stroke="#d86868" stroke-width="0.5"/>
<rect x="340.8" y="37.2" width="33.7" height="3.8" rx="1.4" fill="#ee8e8c" stroke="#d86868" stroke-width="0.5"/>
<rect x="417.3" y="37.2" width="32.4" height="3.8" rx="1.4" fill="#ee8e8c" stroke="#d86868" stroke-width="0.5"/>
<rect x="470.4" y="37.2" width="30.3" height="3.8" rx="1.4" fill="#ee8e8c" stroke="#d86868" stroke-width="0.5"/>
<rect x="520.3" y="37.2" width="26.7" height="3.8" rx="1.4" fill="#ee8e8c" stroke="#d86868" stroke-width="0.5"/>
<rect x="270.8" y="135.65" width="276.2" height="1.3" fill="#8a8a8a"/>
<rect x="270.8" y="132.2" width="11.7" height="3.4" rx="0.2" fill="#f4f03a"/>
<rect x="297.7" y="132.2" width="26.9" height="3.4" rx="0.2" fill="#f4f03a"/>
<rect x="504" y="132.1" width="31" height="3.5" rx="0.2" fill="#f25450"/>
<rect x="270.8" y="136.9" width="4.7" height="3.5" rx="1.4" fill="#ee8e8c" stroke="#d86868" stroke-width="0.5"/>
<rect x="288.3" y="136.9" width="31.2" height="3.5" rx="1.4" fill="#ee8e8c" stroke="#d86868" stroke-width="0.5"/>
<rect x="351.8" y="136.9" width="45.5" height="3.5" rx="1.4" fill="#46d070" stroke="#2aa050" stroke-width="0.5"/>
<rect x="427" y="136.9" width="44" height="3.5" rx="1.4" fill="#46d070" stroke="#2aa050" stroke-width="0.5"/>
<rect x="510.2" y="136.9" width="7.7" height="3.7" rx="1.4" fill="#dcd888" stroke="#b8b060" stroke-width="0.5"/>
<rect x="522" y="136.9" width="14" height="3.7" rx="1.4" fill="#dcd888" stroke="#b8b060" stroke-width="0.5"/>
<rect x="272.9" y="234.05" width="79.4" height="1.5" fill="#8a8a8a"/>
<line x1="306.8" y1="40.5" x2="307.4" y2="43" stroke="#888" stroke-width="0.35"/>
<rect x="305.45" y="37.3" width="2.7" height="3.8" rx="0.8" fill="#fff" stroke="#666" stroke-width="0.4"/>
<text x="306.8" y="40.2" font-size="2.8" text-anchor="middle" class="serif" fill="#333">1</text>
<circle cx="307.4" cy="44.4" r="1.9" fill="#fff" stroke="#777" stroke-width="0.4"/>
<text x="307.4" y="45.4" font-size="2.8" text-anchor="middle" class="serif" fill="#444">5</text>
<line x1="359" y1="40.5" x2="357.8" y2="43" stroke="#888" stroke-width="0.35"/>
<rect x="357.65" y="37.3" width="2.7" height="3.8" rx="0.8" fill="#fff" stroke="#666" stroke-width="0.4"/>
<text x="359" y="40.2" font-size="2.8" text-anchor="middle" class="serif" fill="#333">1</text>
<circle cx="357.8" cy="44.4" r="1.9" fill="#fff" stroke="#777" stroke-width="0.4"/>
<text x="357.8" y="45.4" font-size="2.8" text-anchor="middle" class="serif" fill="#444">5</text>
<line x1="435.3" y1="40.5" x2="433.9" y2="43" stroke="#888" stroke-width="0.35"/>
<rect x="433.95" y="37.3" width="2.7" height="3.8" rx="0.8" fill="#fff" stroke="#666" stroke-width="0.4"/>
<text x="435.3" y="40.2" font-size="2.8" text-anchor="middle" class="serif" fill="#333">1</text>
<circle cx="433.9" cy="44.4" r="1.9" fill="#fff" stroke="#777" stroke-width="0.4"/>
<text x="433.9" y="45.4" font-size="2.8" text-anchor="middle" class="serif" fill="#444">5</text>
<line x1="484.7" y1="40.5" x2="485.2" y2="43" stroke="#888" stroke-width="0.35"/>
<rect x="483.35" y="37.3" width="2.7" height="3.8" rx="0.8" fill="#fff" stroke="#666" stroke-width="0.4"/>
<text x="484.7" y="40.2" font-size="2.8" text-anchor="middle" class="serif" fill="#333">1</text>
<circle cx="485.2" cy="44.4" r="1.9" fill="#fff" stroke="#777" stroke-width="0.4"/>
<text x="485.2" y="45.4" font-size="2.8" text-anchor="middle" class="serif" fill="#444">5</text>
<line x1="536.2" y1="40.5" x2="536.2" y2="43" stroke="#888" stroke-width="0.35"/>
<rect x="534.85" y="37.3" width="2.7" height="3.8" rx="0.8" fill="#fff" stroke="#666" stroke-width="0.4"/>
<text x="536.2" y="40.2" font-size="2.8" text-anchor="middle" class="serif" fill="#333">1</text>
<circle cx="536.2" cy="44.4" r="1.9" fill="#fff" stroke="#777" stroke-width="0.4"/>
<text x="536.2" y="45.4" font-size="2.8" text-anchor="middle" class="serif" fill="#444">5</text>
<rect x="309.7" y="136.5" width="3.4" height="5.6" rx="0.8" fill="#fff" stroke="#666" stroke-width="0.4"/>
<text x="311.4" y="140.3" font-size="2.8" text-anchor="middle" class="serif" fill="#333">1</text>
<rect x="302.3" y="140.6" width="3.4" height="5.4" rx="0.8" fill="#fff" stroke="#666" stroke-width="0.4"/>
<text x="304" y="144.3" font-size="2.8" text-anchor="middle" class="serif" fill="#333">4</text>
<rect x="372.8" y="140.9" width="3.4" height="5.2" rx="0.8" fill="#fff" stroke="#666" stroke-width="0.4"/>
<text x="374.5" y="144.5" font-size="2.8" text-anchor="middle" class="serif" fill="#333">3</text>
<rect x="447.3" y="140.7" width="3.4" height="5.2" rx="0.8" fill="#fff" stroke="#666" stroke-width="0.4"/>
<text x="449" y="144.3" font-size="2.8" text-anchor="middle" class="serif" fill="#333">3</text>
<rect x="518" y="137.1" width="3" height="4.4" rx="0.8" fill="#fff" stroke="#666" stroke-width="0.4"/>
<text x="519.5" y="140.3" font-size="2.8" text-anchor="middle" class="serif" fill="#333">2</text>
<circle cx="521.2" cy="144.6" r="1.9" fill="#fff" stroke="#777" stroke-width="0.4"/>
<text x="521.2" y="145.6" font-size="2.8" text-anchor="middle" class="serif" fill="#444">5</text>
<line x1="275.2" y1="37.5" x2="275.2" y2="82" stroke="#bdbdbd" stroke-width="0.3" stroke-dasharray="0.6,0.7"/>
<line x1="275.9" y1="37.5" x2="275.9" y2="77.9" stroke="#bdbdbd" stroke-width="0.3" stroke-dasharray="0.6,0.7"/>
<line x1="276.3" y1="37.5" x2="276.3" y2="73.9" stroke="#bdbdbd" stroke-width="0.3" stroke-dasharray="0.6,0.7"/>
<line x1="276.6" y1="37.5" x2="276.6" y2="85.9" stroke="#bdbdbd" stroke-width="0.3" stroke-dasharray="0.6,0.7"/>
<line x1="277.8" y1="37.5" x2="277.8" y2="82" stroke="#bdbdbd" stroke-width="0.3" stroke-dasharray="0.6,0.7"/>
<line x1="280.7" y1="37.5" x2="280.7" y2="77.9" stroke="#bdbdbd" stroke-width="0.3" stroke-dasharray="0.6,0.7"/>
<line x1="281.7" y1="37.5" x2="281.7" y2="73.9" stroke="#bdbdbd" stroke-width="0.3" stroke-dasharray="0.6,0.7"/>
<line x1="282.2" y1="37.5" x2="282.2" y2="85.9" stroke="#bdbdbd" stroke-width="0.3" stroke-dasharray="0.6,0.7"/>
<line x1="283.6" y1="37.5" x2="283.6" y2="82" stroke="#bdbdbd" stroke-width="0.3" stroke-dasharray="0.6,0.7"/>
<line x1="286.1" y1="37.5" x2="286.1" y2="77.9" stroke="#bdbdbd" stroke-width="0.3" stroke-dasharray="0.6,0.7"/>
<line x1="287.5" y1="37.5" x2="287.5" y2="73.9" stroke="#bdbdbd" stroke-width="0.3" stroke-dasharray="0.6,0.7"/>
<line x1="291.5" y1="37.5" x2="291.5" y2="85.9" stroke="#bdbdbd" stroke-width="0.3" stroke-dasharray="0.6,0.7"/>
<line x1="320.6" y1="37.5" x2="320.6" y2="82" stroke="#bdbdbd" stroke-width="0.3" stroke-dasharray="0.6,0.7"/>
<line x1="321.7" y1="37.5" x2="321.7" y2="77.9" stroke="#bdbdbd" stroke-width="0.3" stroke-dasharray="0.6,0.7"/>
<line x1="336" y1="37.5" x2="336" y2="73.9" stroke="#bdbdbd" stroke-width="0.3" stroke-dasharray="0.6,0.7"/>
<line x1="336.7" y1="37.5" x2="336.7" y2="85.9" stroke="#bdbdbd" stroke-width="0.3" stroke-dasharray="0.6,0.7"/>
<line x1="338" y1="37.5" x2="338" y2="82" stroke="#bdbdbd" stroke-width="0.3" stroke-dasharray="0.6,0.7"/>
<line x1="358.3" y1="37.5" x2="358.3" y2="77.9" stroke="#bdbdbd" stroke-width="0.3" stroke-dasharray="0.6,0.7"/>
<line x1="362.1" y1="37.5" x2="362.1" y2="73.9" stroke="#bdbdbd" stroke-width="0.3" stroke-dasharray="0.6,0.7"/>
<line x1="384.1" y1="37.5" x2="384.1" y2="85.9" stroke="#bdbdbd" stroke-width="0.3" stroke-dasharray="0.6,0.7"/>
<line x1="385.1" y1="37.5" x2="385.1" y2="82" stroke="#bdbdbd" stroke-width="0.3" stroke-dasharray="0.6,0.7"/>
<line x1="389.2" y1="37.5" x2="389.2" y2="77.9" stroke="#bdbdbd" stroke-width="0.3" stroke-dasharray="0.6,0.7"/>
<line x1="389.7" y1="37.5" x2="389.7" y2="73.9" stroke="#bdbdbd" stroke-width="0.3" stroke-dasharray="0.6,0.7"/>
<line x1="390.9" y1="37.5" x2="390.9" y2="85.9" stroke="#bdbdbd" stroke-width="0.3" stroke-dasharray="0.6,0.7"/>
<line x1="393.8" y1="37.5" x2="393.8" y2="82" stroke="#bdbdbd" stroke-width="0.3" stroke-dasharray="0.6,0.7"/>
<line x1="394.3" y1="37.5" x2="394.3" y2="73.9" stroke="#bdbdbd" stroke-width="0.3" stroke-dasharray="0.6,0.7"/>
<line x1="394.5" y1="37.5" x2="394.5" y2="73.9" stroke="#bdbdbd" stroke-width="0.3" stroke-dasharray="0.6,0.7"/>
<line x1="403.6" y1="37.5" x2="403.6" y2="85.9" stroke="#bdbdbd" stroke-width="0.3" stroke-dasharray="0.6,0.7"/>
<line x1="404" y1="37.5" x2="404" y2="82" stroke="#bdbdbd" stroke-width="0.3" stroke-dasharray="0.6,0.7"/>
<line x1="410.5" y1="37.5" x2="410.5" y2="77.9" stroke="#bdbdbd" stroke-width="0.3" stroke-dasharray="0.6,0.7"/>
<line x1="411.9" y1="37.5" x2="411.9" y2="73.9" stroke="#bdbdbd" stroke-width="0.3" stroke-dasharray="0.6,0.7"/>
<line x1="426.3" y1="37.5" x2="426.3" y2="85.9" stroke="#bdbdbd" stroke-width="0.3" stroke-dasharray="0.6,0.7"/>
<line x1="426.6" y1="37.5" x2="426.6" y2="82" stroke="#bdbdbd" stroke-width="0.3" stroke-dasharray="0.6,0.7"/>
<line x1="457.9" y1="37.5" x2="457.9" y2="77.9" stroke="#bdbdbd" stroke-width="0.3" stroke-dasharray="0.6,0.7"/>
<line x1="459.4" y1="37.5" x2="459.4" y2="73.9" stroke="#bdbdbd" stroke-width="0.3" stroke-dasharray="0.6,0.7"/>
<line x1="460.1" y1="37.5" x2="460.1" y2="82" stroke="#bdbdbd" stroke-width="0.3" stroke-dasharray="0.6,0.7"/>
<line x1="461.5" y1="37.5" x2="461.5" y2="77.9" stroke="#bdbdbd" stroke-width="0.3" stroke-dasharray="0.6,0.7"/>
<line x1="462.3" y1="37.5" x2="462.3" y2="73.9" stroke="#bdbdbd" stroke-width="0.3" stroke-dasharray="0.6,0.7"/>
<line x1="484.5" y1="37.5" x2="484.5" y2="86" stroke="#bdbdbd" stroke-width="0.3" stroke-dasharray="0.6,0.7"/>
<line x1="509.7" y1="37.5" x2="509.7" y2="82.1" stroke="#bdbdbd" stroke-width="0.3" stroke-dasharray="0.6,0.7"/>
<line x1="512.1" y1="37.5" x2="512.1" y2="78" stroke="#bdbdbd" stroke-width="0.3" stroke-dasharray="0.6,0.7"/>
<line x1="514.1" y1="37.5" x2="514.1" y2="73.8" stroke="#bdbdbd" stroke-width="0.3" stroke-dasharray="0.6,0.7"/>
<line x1="516.9" y1="37.5" x2="516.9" y2="86.1" stroke="#bdbdbd" stroke-width="0.3" stroke-dasharray="0.6,0.7"/>
<line x1="523" y1="37.5" x2="523" y2="82.1" stroke="#bdbdbd" stroke-width="0.3" stroke-dasharray="0.6,0.7"/>
<line x1="529.6" y1="37.5" x2="529.6" y2="78" stroke="#bdbdbd" stroke-width="0.3" stroke-dasharray="0.6,0.7"/>
<line x1="281" y1="37.5" x2="281" y2="60" stroke="#bdbdbd" stroke-width="0.3" stroke-dasharray="0.6,0.7"/>
<line x1="283.2" y1="37.5" x2="283.2" y2="60" stroke="#bdbdbd" stroke-width="0.3" stroke-dasharray="0.6,0.7"/>
<line x1="285.3" y1="37.5" x2="285.3" y2="60" stroke="#bdbdbd" stroke-width="0.3" stroke-dasharray="0.6,0.7"/>
<circle cx="276.3" cy="75.5" r="1.75" fill="#e83838" stroke="#c02020" stroke-width="0.3"/>
<circle cx="276.3" cy="75.5" r="0.75" fill="none" stroke="#fff" stroke-width="0.35" opacity="0.9"/>
<circle cx="281.7" cy="75.5" r="1.75" fill="#e83838" stroke="#c02020" stroke-width="0.3"/>
<circle cx="281.7" cy="75.5" r="0.75" fill="none" stroke="#fff" stroke-width="0.35" opacity="0.9"/>
<circle cx="287.5" cy="75.5" r="1.75" fill="#e83838" stroke="#c02020" stroke-width="0.3"/>
<circle cx="287.5" cy="75.5" r="0.75" fill="none" stroke="#fff" stroke-width="0.35" opacity="0.9"/>
<circle cx="275.9" cy="79.5" r="1.75" fill="#e83838" stroke="#c02020" stroke-width="0.3"/>
<circle cx="275.9" cy="79.5" r="0.75" fill="none" stroke="#fff" stroke-width="0.35" opacity="0.9"/>
<circle cx="280.7" cy="79.5" r="1.75" fill="#e83838" stroke="#c02020" stroke-width="0.3"/>
<circle cx="280.7" cy="79.5" r="0.75" fill="none" stroke="#fff" stroke-width="0.35" opacity="0.9"/>
<circle cx="286.1" cy="79.5" r="1.75" fill="#e83838" stroke="#c02020" stroke-width="0.3"/>
<circle cx="286.1" cy="79.5" r="0.75" fill="none" stroke="#fff" stroke-width="0.35" opacity="0.9"/>
<circle cx="275.2" cy="83.6" r="1.75" fill="#e83838" stroke="#c02020" stroke-width="0.3"/>
<circle cx="275.2" cy="83.6" r="0.75" fill="none" stroke="#fff" stroke-width="0.35" opacity="0.9"/>
<circle cx="277.8" cy="83.6" r="1.75" fill="#e83838" stroke="#c02020" stroke-width="0.3"/>
<circle cx="277.8" cy="83.6" r="0.75" fill="none" stroke="#fff" stroke-width="0.35" opacity="0.9"/>
<circle cx="283.6" cy="83.6" r="1.75" fill="#e83838" stroke="#c02020" stroke-width="0.3"/>
<circle cx="283.6" cy="83.6" r="0.75" fill="none" stroke="#fff" stroke-width="0.35" opacity="0.9"/>
<circle cx="275.2" cy="87.5" r="1.75" fill="#e83838" stroke="#c02020" stroke-width="0.3"/>
<circle cx="275.2" cy="87.5" r="0.75" fill="none" stroke="#fff" stroke-width="0.35" opacity="0.9"/>
<circle cx="276.6" cy="87.5" r="1.75" fill="#e83838" stroke="#c02020" stroke-width="0.3"/>
<circle cx="276.6" cy="87.5" r="0.75" fill="none" stroke="#fff" stroke-width="0.35" opacity="0.9"/>
<circle cx="282.2" cy="87.5" r="1.75" fill="#e83838" stroke="#c02020" stroke-width="0.3"/>
<circle cx="282.2" cy="87.5" r="0.75" fill="none" stroke="#fff" stroke-width="0.35" opacity="0.9"/>
<circle cx="291.5" cy="87.5" r="1.75" fill="#e83838" stroke="#c02020" stroke-width="0.3"/>
<circle cx="291.5" cy="87.5" r="0.75" fill="none" stroke="#fff" stroke-width="0.35" opacity="0.9"/>
<circle cx="321.7" cy="79.5" r="1.75" fill="#e83838" stroke="#c02020" stroke-width="0.3"/>
<circle cx="321.7" cy="79.5" r="0.75" fill="none" stroke="#fff" stroke-width="0.35" opacity="0.9"/>
<circle cx="320.6" cy="83.6" r="1.75" fill="#e83838" stroke="#c02020" stroke-width="0.3"/>
<circle cx="320.6" cy="83.6" r="0.75" fill="none" stroke="#fff" stroke-width="0.35" opacity="0.9"/>
<circle cx="336" cy="75.5" r="1.75" fill="#e83838" stroke="#c02020" stroke-width="0.3"/>
<circle cx="336" cy="75.5" r="0.75" fill="none" stroke="#fff" stroke-width="0.35" opacity="0.9"/>
<circle cx="338" cy="83.6" r="1.75" fill="#e83838" stroke="#c02020" stroke-width="0.3"/>
<circle cx="338" cy="83.6" r="0.75" fill="none" stroke="#fff" stroke-width="0.35" opacity="0.9"/>
<circle cx="336.7" cy="87.5" r="1.75" fill="#e83838" stroke="#c02020" stroke-width="0.3"/>
<circle cx="336.7" cy="87.5" r="0.75" fill="none" stroke="#fff" stroke-width="0.35" opacity="0.9"/>
<circle cx="362.1" cy="75.5" r="1.75" fill="#e83838" stroke="#c02020" stroke-width="0.3"/>
<circle cx="362.1" cy="75.5" r="0.75" fill="none" stroke="#fff" stroke-width="0.35" opacity="0.9"/>
<circle cx="358.3" cy="79.5" r="1.75" fill="#e83838" stroke="#c02020" stroke-width="0.3"/>
<circle cx="358.3" cy="79.5" r="0.75" fill="none" stroke="#fff" stroke-width="0.35" opacity="0.9"/>
<circle cx="389.7" cy="75.5" r="1.75" fill="#e83838" stroke="#c02020" stroke-width="0.3"/>
<circle cx="389.7" cy="75.5" r="0.75" fill="none" stroke="#fff" stroke-width="0.35" opacity="0.9"/>
<circle cx="389.2" cy="79.5" r="1.75" fill="#e83838" stroke="#c02020" stroke-width="0.3"/>
<circle cx="389.2" cy="79.5" r="0.75" fill="none" stroke="#fff" stroke-width="0.35" opacity="0.9"/>
<circle cx="394.3" cy="79.5" r="1.75" fill="#e83838" stroke="#c02020" stroke-width="0.3"/>
<circle cx="394.3" cy="79.5" r="0.75" fill="none" stroke="#fff" stroke-width="0.35" opacity="0.9"/>
<circle cx="385.1" cy="83.6" r="1.75" fill="#e83838" stroke="#c02020" stroke-width="0.3"/>
<circle cx="385.1" cy="83.6" r="0.75" fill="none" stroke="#fff" stroke-width="0.35" opacity="0.9"/>
<circle cx="393.8" cy="83.6" r="1.75" fill="#e83838" stroke="#c02020" stroke-width="0.3"/>
<circle cx="393.8" cy="83.6" r="0.75" fill="none" stroke="#fff" stroke-width="0.35" opacity="0.9"/>
<circle cx="404" cy="83.6" r="1.75" fill="#e83838" stroke="#c02020" stroke-width="0.3"/>
<circle cx="404" cy="83.6" r="0.75" fill="none" stroke="#fff" stroke-width="0.35" opacity="0.9"/>
<circle cx="384.1" cy="87.5" r="1.75" fill="#e83838" stroke="#c02020" stroke-width="0.3"/>
<circle cx="384.1" cy="87.5" r="0.75" fill="none" stroke="#fff" stroke-width="0.35" opacity="0.9"/>
<circle cx="390.9" cy="87.5" r="1.75" fill="#e83838" stroke="#c02020" stroke-width="0.3"/>
<circle cx="390.9" cy="87.5" r="0.75" fill="none" stroke="#fff" stroke-width="0.35" opacity="0.9"/>
<circle cx="403.6" cy="87.5" r="1.75" fill="#e83838" stroke="#c02020" stroke-width="0.3"/>
<circle cx="403.6" cy="87.5" r="0.75" fill="none" stroke="#fff" stroke-width="0.35" opacity="0.9"/>
<circle cx="411.9" cy="75.5" r="1.75" fill="#e83838" stroke="#c02020" stroke-width="0.3"/>
<circle cx="411.9" cy="75.5" r="0.75" fill="none" stroke="#fff" stroke-width="0.35" opacity="0.9"/>
<circle cx="410.5" cy="79.5" r="1.75" fill="#e83838" stroke="#c02020" stroke-width="0.3"/>
<circle cx="410.5" cy="79.5" r="0.75" fill="none" stroke="#fff" stroke-width="0.35" opacity="0.9"/>
<circle cx="459.4" cy="75.5" r="1.75" fill="#e83838" stroke="#c02020" stroke-width="0.3"/>
<circle cx="459.4" cy="75.5" r="0.75" fill="none" stroke="#fff" stroke-width="0.35" opacity="0.9"/>
<circle cx="462.3" cy="75.5" r="1.75" fill="#e83838" stroke="#c02020" stroke-width="0.3"/>
<circle cx="462.3" cy="75.5" r="0.75" fill="none" stroke="#fff" stroke-width="0.35" opacity="0.9"/>
<circle cx="457.9" cy="79.5" r="1.75" fill="#e83838" stroke="#c02020" stroke-width="0.3"/>
<circle cx="457.9" cy="79.5" r="0.75" fill="none" stroke="#fff" stroke-width="0.35" opacity="0.9"/>
<circle cx="461.5" cy="79.5" r="1.75" fill="#e83838" stroke="#c02020" stroke-width="0.3"/>
<circle cx="461.5" cy="79.5" r="0.75" fill="none" stroke="#fff" stroke-width="0.35" opacity="0.9"/>
<circle cx="460.1" cy="83.6" r="1.75" fill="#e83838" stroke="#c02020" stroke-width="0.3"/>
<circle cx="460.1" cy="83.6" r="0.75" fill="none" stroke="#fff" stroke-width="0.35" opacity="0.9"/>
<circle cx="461.5" cy="85.5" r="1.75" fill="#e83838" stroke="#c02020" stroke-width="0.3"/>
<circle cx="461.5" cy="85.5" r="0.75" fill="none" stroke="#fff" stroke-width="0.35" opacity="0.9"/>
<circle cx="460.1" cy="87.5" r="1.75" fill="#e83838" stroke="#c02020" stroke-width="0.3"/>
<circle cx="460.1" cy="87.5" r="0.75" fill="none" stroke="#fff" stroke-width="0.35" opacity="0.9"/>
<circle cx="514.1" cy="75.4" r="1.75" fill="#e83838" stroke="#c02020" stroke-width="0.3"/>
<circle cx="514.1" cy="75.4" r="0.75" fill="none" stroke="#fff" stroke-width="0.35" opacity="0.9"/>
<circle cx="512.1" cy="79.6" r="1.75" fill="#e83838" stroke="#c02020" stroke-width="0.3"/>
<circle cx="512.1" cy="79.6" r="0.75" fill="none" stroke="#fff" stroke-width="0.35" opacity="0.9"/>
<circle cx="509.7" cy="83.7" r="1.75" fill="#e83838" stroke="#c02020" stroke-width="0.3"/>
<circle cx="509.7" cy="83.7" r="0.75" fill="none" stroke="#fff" stroke-width="0.35" opacity="0.9"/>
<circle cx="516.9" cy="87.7" r="1.75" fill="#e83838" stroke="#c02020" stroke-width="0.3"/>
<circle cx="516.9" cy="87.7" r="0.75" fill="none" stroke="#fff" stroke-width="0.35" opacity="0.9"/>
<circle cx="523" cy="83.7" r="1.75" fill="#e83838" stroke="#c02020" stroke-width="0.3"/>
<circle cx="523" cy="83.7" r="0.75" fill="none" stroke="#fff" stroke-width="0.35" opacity="0.9"/>
<circle cx="529.6" cy="79.6" r="1.75" fill="#e83838" stroke="#c02020" stroke-width="0.3"/>
<circle cx="529.6" cy="79.6" r="0.75" fill="none" stroke="#fff" stroke-width="0.35" opacity="0.9"/>
<circle cx="426.6" cy="83.6" r="1.75" fill="#f0ee50" stroke="#d8d030" stroke-width="0.3"/>
<circle cx="426.3" cy="87.5" r="1.75" fill="#f0ee50" stroke="#d8d030" stroke-width="0.3"/>
<circle cx="484.5" cy="87.6" r="1.75" fill="#f0ee50" stroke="#d8d030" stroke-width="0.3"/>
<circle cx="394.5" cy="75.5" r="1.75" fill="#4848e0" stroke="#2020a0" stroke-width="0.3"/>
<circle cx="394.5" cy="75.5" r="0.75" fill="none" stroke="#fff" stroke-width="0.35" opacity="0.9"/>
<line x1="344.6" y1="137" x2="344.6" y2="184.9" stroke="#bdbdbd" stroke-width="0.3" stroke-dasharray="0.6,0.7"/>
<line x1="349.7" y1="137" x2="349.7" y2="181" stroke="#bdbdbd" stroke-width="0.3" stroke-dasharray="0.6,0.7"/>
<line x1="364.1" y1="137" x2="364.1" y2="176.8" stroke="#bdbdbd" stroke-width="0.3" stroke-dasharray="0.6,0.7"/>
<line x1="394.7" y1="137" x2="394.7" y2="172.9" stroke="#bdbdbd" stroke-width="0.3" stroke-dasharray="0.6,0.7"/>
<line x1="413.6" y1="137" x2="413.6" y2="181" stroke="#bdbdbd" stroke-width="0.3" stroke-dasharray="0.6,0.7"/>
<line x1="412.1" y1="137" x2="412.1" y2="184.9" stroke="#bdbdbd" stroke-width="0.3" stroke-dasharray="0.6,0.7"/>
<line x1="431.8" y1="137" x2="431.8" y2="177.2" stroke="#bdbdbd" stroke-width="0.3" stroke-dasharray="0.6,0.7"/>
<line x1="473.2" y1="137" x2="473.2" y2="173.2" stroke="#bdbdbd" stroke-width="0.3" stroke-dasharray="0.6,0.7"/>
<line x1="473.9" y1="137" x2="473.9" y2="185" stroke="#bdbdbd" stroke-width="0.3" stroke-dasharray="0.6,0.7"/>
<line x1="506.3" y1="137" x2="506.3" y2="173.2" stroke="#bdbdbd" stroke-width="0.3" stroke-dasharray="0.6,0.7"/>
<line x1="503.2" y1="137" x2="503.2" y2="177.2" stroke="#bdbdbd" stroke-width="0.3" stroke-dasharray="0.6,0.7"/>
<line x1="508" y1="137" x2="508" y2="185" stroke="#bdbdbd" stroke-width="0.3" stroke-dasharray="0.6,0.7"/>
<line x1="520.5" y1="137" x2="520.5" y2="173.2" stroke="#bdbdbd" stroke-width="0.3" stroke-dasharray="0.6,0.7"/>
<line x1="520.5" y1="137" x2="520.5" y2="177.2" stroke="#bdbdbd" stroke-width="0.3" stroke-dasharray="0.6,0.7"/>
<line x1="526.9" y1="137" x2="526.9" y2="180.8" stroke="#bdbdbd" stroke-width="0.3" stroke-dasharray="0.6,0.7"/>
<line x1="522.4" y1="137" x2="522.4" y2="185" stroke="#bdbdbd" stroke-width="0.3" stroke-dasharray="0.6,0.7"/>
<line x1="538.7" y1="137" x2="538.7" y2="177.2" stroke="#bdbdbd" stroke-width="0.3" stroke-dasharray="0.6,0.7"/>
<line x1="276.6" y1="140.5" x2="276.6" y2="172.8" stroke="#bdbdbd" stroke-width="0.3" stroke-dasharray="0.6,0.7"/>
<line x1="478.6" y1="137" x2="478.6" y2="180.8" stroke="#bdbdbd" stroke-width="0.3" stroke-dasharray="0.6,0.7"/>
<line x1="517.6" y1="137" x2="517.6" y2="180.8" stroke="#bdbdbd" stroke-width="0.3" stroke-dasharray="0.6,0.7"/>
<circle cx="344.6" cy="186.5" r="1.75" fill="#e83838" stroke="#c02020" stroke-width="0.3"/>
<circle cx="344.6" cy="186.5" r="0.75" fill="none" stroke="#fff" stroke-width="0.35" opacity="0.9"/>
<circle cx="349.7" cy="182.6" r="1.75" fill="#e83838" stroke="#c02020" stroke-width="0.3"/>
<circle cx="349.7" cy="182.6" r="0.75" fill="none" stroke="#fff" stroke-width="0.35" opacity="0.9"/>
<circle cx="364.1" cy="178.4" r="1.75" fill="#e83838" stroke="#c02020" stroke-width="0.3"/>
<circle cx="364.1" cy="178.4" r="0.75" fill="none" stroke="#fff" stroke-width="0.35" opacity="0.9"/>
<circle cx="394.7" cy="174.5" r="1.75" fill="#e83838" stroke="#c02020" stroke-width="0.3"/>
<circle cx="394.7" cy="174.5" r="0.75" fill="none" stroke="#fff" stroke-width="0.35" opacity="0.9"/>
<circle cx="413.6" cy="182.6" r="1.75" fill="#e83838" stroke="#c02020" stroke-width="0.3"/>
<circle cx="413.6" cy="182.6" r="0.75" fill="none" stroke="#fff" stroke-width="0.35" opacity="0.9"/>
<circle cx="412.1" cy="186.5" r="1.75" fill="#e83838" stroke="#c02020" stroke-width="0.3"/>
<circle cx="412.1" cy="186.5" r="0.75" fill="none" stroke="#fff" stroke-width="0.35" opacity="0.9"/>
<circle cx="431.8" cy="178.8" r="1.75" fill="#e83838" stroke="#c02020" stroke-width="0.3"/>
<circle cx="431.8" cy="178.8" r="0.75" fill="none" stroke="#fff" stroke-width="0.35" opacity="0.9"/>
<circle cx="473.2" cy="174.8" r="1.75" fill="#e83838" stroke="#c02020" stroke-width="0.3"/>
<circle cx="473.2" cy="174.8" r="0.75" fill="none" stroke="#fff" stroke-width="0.35" opacity="0.9"/>
<circle cx="473.9" cy="186.6" r="1.75" fill="#e83838" stroke="#c02020" stroke-width="0.3"/>
<circle cx="473.9" cy="186.6" r="0.75" fill="none" stroke="#fff" stroke-width="0.35" opacity="0.9"/>
<circle cx="506.3" cy="174.8" r="1.75" fill="#e83838" stroke="#c02020" stroke-width="0.3"/>
<circle cx="506.3" cy="174.8" r="0.75" fill="none" stroke="#fff" stroke-width="0.35" opacity="0.9"/>
<circle cx="503.2" cy="178.8" r="1.75" fill="#e83838" stroke="#c02020" stroke-width="0.3"/>
<circle cx="503.2" cy="178.8" r="0.75" fill="none" stroke="#fff" stroke-width="0.35" opacity="0.9"/>
<circle cx="508" cy="186.6" r="1.75" fill="#e83838" stroke="#c02020" stroke-width="0.3"/>
<circle cx="508" cy="186.6" r="0.75" fill="none" stroke="#fff" stroke-width="0.35" opacity="0.9"/>
<circle cx="520.5" cy="174.8" r="1.75" fill="#e83838" stroke="#c02020" stroke-width="0.3"/>
<circle cx="520.5" cy="174.8" r="0.75" fill="none" stroke="#fff" stroke-width="0.35" opacity="0.9"/>
<circle cx="520.5" cy="178.8" r="1.75" fill="#e83838" stroke="#c02020" stroke-width="0.3"/>
<circle cx="520.5" cy="178.8" r="0.75" fill="none" stroke="#fff" stroke-width="0.35" opacity="0.9"/>
<circle cx="526.9" cy="182.4" r="1.75" fill="#e83838" stroke="#c02020" stroke-width="0.3"/>
<circle cx="526.9" cy="182.4" r="0.75" fill="none" stroke="#fff" stroke-width="0.35" opacity="0.9"/>
<circle cx="522.4" cy="186.6" r="1.75" fill="#e83838" stroke="#c02020" stroke-width="0.3"/>
<circle cx="522.4" cy="186.6" r="0.75" fill="none" stroke="#fff" stroke-width="0.35" opacity="0.9"/>
<circle cx="538.7" cy="178.8" r="1.75" fill="#e83838" stroke="#c02020" stroke-width="0.3"/>
<circle cx="538.7" cy="178.8" r="0.75" fill="none" stroke="#fff" stroke-width="0.35" opacity="0.9"/>
<circle cx="276.4" cy="174.5" r="1.75" fill="#b050b8" stroke="#803090" stroke-width="0.3"/>
<circle cx="478.6" cy="182.4" r="1.75" fill="#1f9a4a" stroke="#106030" stroke-width="0.3"/>
<circle cx="517.6" cy="182.4" r="1.75" fill="#b050b8" stroke="#803090" stroke-width="0.3"/>
<line x1="334" y1="229" x2="334" y2="271.8" stroke="#8a8a8a" stroke-width="0.3" stroke-dasharray="0.6,0.7"/>
<circle cx="334" cy="273.6" r="1.75" fill="#b050b8" stroke="#803090" stroke-width="0.3"/>
<rect x="271.5" y="61.6" width="275.3" height="2.6" fill="#fafafa" stroke="#9a9a9a" stroke-width="0.45"/>
<rect x="271.5" y="61.6" width="10.2" height="2.6" fill="#10e040"/>
<rect x="281.7" y="61.6" width="6.6" height="2.6" fill="#1050e0"/>
<rect x="297.7" y="61.6" width="5.8" height="2.6" fill="#a8f0f4"/>
<rect x="299" y="61.6" width="3" height="2.6" fill="#20e0f0"/>
<rect x="318.8" y="61.6" width="2.2" height="2.6" fill="#20e0f0"/>
<rect x="326" y="61.6" width="5.2" height="2.6" fill="#1050e0"/>
<rect x="331.2" y="61.6" width="8" height="2.6" fill="#10e040"/>
<rect x="340" y="61.6" width="1" height="2.6" fill="#20e0f0"/>
<rect x="377.8" y="61.6" width="2.2" height="2.6" fill="#20e0f0"/>
<rect x="380" y="61.6" width="32.7" height="2.6" fill="#10e040"/>
<rect x="426.6" y="61.6" width="1.4" height="2.6" fill="#20e0f0"/>
<rect x="449.9" y="61.6" width="5.8" height="2.6" fill="#1050e0"/>
<rect x="455.7" y="61.6" width="5.1" height="2.6" fill="#10e040"/>
<rect x="460.8" y="61.6" width="7.3" height="2.6" fill="#1050e0"/>
<rect x="468.1" y="61.6" width="1.9" height="2.6" fill="#20e0f0"/>
<rect x="471.7" y="61.6" width="1.8" height="2.6" fill="#20e0f0"/>
<rect x="478.3" y="61.6" width="1.2" height="2.6" fill="#a8f0f4"/>
<rect x="488.3" y="61.6" width="2.5" height="2.6" fill="#20e0f0"/>
<rect x="497.2" y="61.6" width="6.3" height="2.6" fill="#a8f0f4"/>
<rect x="499" y="61.6" width="4.5" height="2.6" fill="#20e0f0"/>
<rect x="503.5" y="61.6" width="5.8" height="2.6" fill="#1050e0"/>
<rect x="509.3" y="61.6" width="2.5" height="2.6" fill="#10e040"/>
<rect x="511.8" y="61.6" width="5.1" height="2.6" fill="#1050e0"/>
<rect x="516.9" y="61.6" width="3.2" height="2.6" fill="#20e0f0"/>
<rect x="523.3" y="61.6" width="1.9" height="2.6" fill="#20e0f0"/>
<rect x="534.7" y="61.6" width="2.6" height="2.6" fill="#a8f0f4"/>
<rect x="270.8" y="160.4" width="276.2" height="2.6" fill="#fafafa" stroke="#9a9a9a" stroke-width="0.45"/>
<rect x="278.8" y="160.4" width="4.4" height="2.6" fill="#1890f0"/>
<rect x="291.2" y="160.4" width="2.2" height="2.6" fill="#40e080"/>
<rect x="297.7" y="160.4" width="2.3" height="2.6" fill="#20b0f0"/>
<rect x="314.5" y="160.4" width="2.1" height="2.6" fill="#20e0f0"/>
<rect x="323.9" y="160.4" width="3.6" height="2.6" fill="#a8f0f4"/>
<rect x="327.5" y="160.4" width="23.1" height="2.6" fill="#10e040"/>
<rect x="406.4" y="160.4" width="16.3" height="2.6" fill="#10e040"/>
<rect x="443.6" y="160.4" width="2.4" height="2.6" fill="#a0f0b0"/>
<rect x="463.7" y="160.4" width="7.1" height="2.6" fill="#a0f0b0"/>
<rect x="480.3" y="160.4" width="23.7" height="2.6" fill="#10e040"/>
<rect x="504" y="160.4" width="9.4" height="2.6" fill="#1050e0"/>
<rect x="518" y="160.4" width="1.5" height="2.6" fill="#20e0f0"/>
<rect x="521" y="160.4" width="3" height="2.6" fill="#a8f0f4"/>
<rect x="525.2" y="160.4" width="9.5" height="2.6" fill="#1050e0"/>
<rect x="534.7" y="160.4" width="12.3" height="2.6" fill="#10e040"/>
<rect x="272.9" y="259.6" width="79.4" height="2.6" fill="#fafafa" stroke="#9a9a9a" stroke-width="0.45"/>
<rect x="272.9" y="259.6" width="46.1" height="2.6" fill="#10e040"/>
<rect x="326" y="259.6" width="14" height="2.6" fill="#10e040"/>
<rect x="350.6" y="259.6" width="1.4" height="2.6" fill="#10e040"/>
<rect x="288.3" y="66.1" width="4.3" height="1.5" fill="#b09010"/>
<rect x="297" y="66.1" width="2" height="1.5" fill="#b09010"/>
<rect x="313.7" y="66.1" width="2.9" height="1.5" fill="#b09010"/>
<rect x="340" y="66.1" width="3.5" height="1.5" fill="#b09010"/>
<rect x="374.9" y="66.1" width="2.9" height="1.5" fill="#b09010"/>
<rect x="399.6" y="66.1" width="3.7" height="1.5" fill="#b09010"/>
<rect x="415" y="66.1" width="3" height="1.5" fill="#b09010"/>
<rect x="440.5" y="66.1" width="2.5" height="1.5" fill="#b09010"/>
<rect x="447" y="66.1" width="3.5" height="1.5" fill="#b09010"/>
<rect x="467.4" y="66.1" width="3.1" height="1.5" fill="#b09010"/>
<rect x="474.6" y="66.1" width="1.9" height="1.5" fill="#b09010"/>
<rect x="500.4" y="66.1" width="2.5" height="1.5" fill="#b09010"/>
<rect x="526.5" y="66.1" width="2" height="1.5" fill="#b09010"/>
<rect x="326" y="165.1" width="3" height="1.5" fill="#b09010"/>
<rect x="485" y="165.1" width="2.4" height="1.5" fill="#b09010"/>
<rect x="498" y="165.1" width="4.7" height="1.5" fill="#b09010"/>
<rect x="512.2" y="165.1" width="13" height="1.5" fill="#b09010"/>
<rect x="540" y="165.1" width="7.5" height="1.5" fill="#b09010"/>
<rect x="273" y="264.3" width="13" height="1.5" fill="#b09010"/>
<rect x="291" y="264.3" width="16" height="1.5" fill="#b09010"/>
<rect x="314" y="264.3" width="4" height="1.5" fill="#b09010"/>
<rect x="320" y="264.3" width="6" height="1.5" fill="#b09010"/>
<line x1="271.5" y1="94.9" x2="546.5" y2="94.9" stroke="#8c8c8c" stroke-width="1.2"/>
<text x="271.6" y="99.9" font-size="3.6" text-anchor="middle" class="serif" fill="#3a3a3a">0</text>
<text x="290.32" y="99.9" font-size="3.6" text-anchor="middle" class="serif" fill="#3a3a3a">50</text>
<text x="309.04" y="99.9" font-size="3.6" text-anchor="middle" class="serif" fill="#3a3a3a">100</text>
<text x="327.76" y="99.9" font-size="3.6" text-anchor="middle" class="serif" fill="#3a3a3a">150</text>
<text x="346.48" y="99.9" font-size="3.6" text-anchor="middle" class="serif" fill="#3a3a3a">200</text>
<text x="365.2" y="99.9" font-size="3.6" text-anchor="middle" class="serif" fill="#3a3a3a">250</text>
<text x="383.92" y="99.9" font-size="3.6" text-anchor="middle" class="serif" fill="#3a3a3a">300</text>
<text x="402.64" y="99.9" font-size="3.6" text-anchor="middle" class="serif" fill="#3a3a3a">350</text>
<text x="421.36" y="99.9" font-size="3.6" text-anchor="middle" class="serif" fill="#3a3a3a">400</text>
<text x="440.08" y="99.9" font-size="3.6" text-anchor="middle" class="serif" fill="#3a3a3a">450</text>
<text x="458.8" y="99.9" font-size="3.6" text-anchor="middle" class="serif" fill="#3a3a3a">500</text>
<text x="477.52" y="99.9" font-size="3.6" text-anchor="middle" class="serif" fill="#3a3a3a">550</text>
<text x="496.24" y="99.9" font-size="3.6" text-anchor="middle" class="serif" fill="#3a3a3a">600</text>
<text x="514.96" y="99.9" font-size="3.6" text-anchor="middle" class="serif" fill="#3a3a3a">650</text>
<text x="533.68" y="99.9" font-size="3.6" text-anchor="middle" class="serif" fill="#3a3a3a">700</text>
<line x1="271" y1="193.8" x2="547" y2="193.8" stroke="#8c8c8c" stroke-width="1.2"/>
<text x="275.5" y="199.6" font-size="3.9" text-anchor="middle" class="serif" fill="#3a3a3a">750</text>
<text x="294.25" y="199.6" font-size="3.9" text-anchor="middle" class="serif" fill="#3a3a3a">800</text>
<text x="313" y="199.6" font-size="3.9" text-anchor="middle" class="serif" fill="#3a3a3a">850</text>
<text x="331.75" y="199.6" font-size="3.9" text-anchor="middle" class="serif" fill="#3a3a3a">900</text>
<text x="350.5" y="199.6" font-size="3.9" text-anchor="middle" class="serif" fill="#3a3a3a">950</text>
<text x="369.25" y="199.6" font-size="3.9" text-anchor="middle" class="serif" fill="#3a3a3a">1000</text>
<text x="388" y="199.6" font-size="3.9" text-anchor="middle" class="serif" fill="#3a3a3a">1050</text>
<text x="406.75" y="199.6" font-size="3.9" text-anchor="middle" class="serif" fill="#3a3a3a">1100</text>
<text x="425.5" y="199.6" font-size="3.9" text-anchor="middle" class="serif" fill="#3a3a3a">1150</text>
<text x="444.25" y="199.6" font-size="3.9" text-anchor="middle" class="serif" fill="#3a3a3a">1200</text>
<text x="463" y="199.6" font-size="3.9" text-anchor="middle" class="serif" fill="#3a3a3a">1250</text>
<text x="481.75" y="199.6" font-size="3.9" text-anchor="middle" class="serif" fill="#3a3a3a">1300</text>
<text x="500.5" y="199.6" font-size="3.9" text-anchor="middle" class="serif" fill="#3a3a3a">1350</text>
<text x="519.25" y="199.6" font-size="3.9" text-anchor="middle" class="serif" fill="#3a3a3a">1400</text>
<text x="538" y="199.6" font-size="3.9" text-anchor="middle" class="serif" fill="#3a3a3a">1450</text>
<line x1="273" y1="293.2" x2="352.3" y2="293.2" stroke="#8c8c8c" stroke-width="1.2"/>
<text x="281.5" y="298.5" font-size="3.9" text-anchor="middle" class="serif" fill="#3a3a3a">1500</text>
<text x="300" y="298.5" font-size="3.9" text-anchor="middle" class="serif" fill="#3a3a3a">1550</text>
<text x="319" y="298.5" font-size="3.9" text-anchor="middle" class="serif" fill="#3a3a3a">1600</text>
<text x="336.5" y="298.5" font-size="3.9" text-anchor="middle" class="serif" fill="#3a3a3a">1650</text>
<text x="351" y="298.5" font-size="3.9" text-anchor="middle" class="serif" fill="#3a3a3a">1689</text>
<text x="271.6" y="60.6" font-size="4" class="sans" fill="#222" textLength="51" lengthAdjust="spacingAndGlyphs">Predicted Disorder Agreement</text>
<path d="M354.2,203.5 q1.3,0 1.3,1.3 v10.9 q0,1.3 1.3,1.3 q-1.3,0 -1.3,1.3 v10.9 q0,1.3 -1.3,1.3" fill="none" stroke="#555" stroke-width="0.4"/>
<path d="M354.2,231 q1.3,0 1.3,1.3 v7.4 q0,1.3 1.3,1.3 q-1.3,0 -1.3,1.3 v7.4 q0,1.3 -1.3,1.3" fill="none" stroke="#555" stroke-width="0.4"/>
<path d="M354.2,256.6 q1.3,0 1.3,1.3 v4.75 q0,1.3 1.3,1.3 q-1.3,0 -1.3,1.3 v4.75 q0,1.3 -1.3,1.3" fill="none" stroke="#555" stroke-width="0.4"/>
<path d="M354.2,271.7 q1.3,0 1.3,1.3 v5.05 q0,1.3 1.3,1.3 q-1.3,0 -1.3,1.3 v5.05 q0,1.3 -1.3,1.3" fill="none" stroke="#555" stroke-width="0.4"/>
<text x="358.8" y="207" font-size="2.6" class="sans" fill="#555">Espritz-D</text>
<text x="358.8" y="209.75" font-size="2.6" class="sans" fill="#555">Espritz-X</text>
<text x="358.8" y="212.5" font-size="2.6" class="sans" fill="#555">Espritz-N</text>
<text x="358.8" y="215.25" font-size="2.6" class="sans" fill="#555">IUPred-L</text>
<text x="358.8" y="218" font-size="2.6" class="sans" fill="#555">IUPred-S</text>
<text x="358.8" y="220.75" font-size="2.6" class="sans" fill="#555">PV2</text>
<text x="358.8" y="223.5" font-size="2.6" class="sans" fill="#555">PDOS</text>
<text x="358.8" y="226.25" font-size="2.6" class="sans" fill="#555">VSL2b</text>
<text x="358.8" y="229" font-size="2.6" class="sans" fill="#555">VLXT</text>
<text x="359.3" y="242.8" font-size="4" class="serif" fill="#333">Predicted Domains</text>
<text x="359.3" y="266" font-size="4" class="serif" fill="#333">MoRF Region</text>
<text x="359" y="281" font-size="4" class="serif" fill="#333">PTM Sites</text>
<text x="394.6" y="227.6" font-size="4.6" class="serif" fill="#222">Key:</text>
<text x="401.4" y="231.9" font-size="3.9" class="serif" fill="#333">Predicted SCOP Structure</text>
<text x="401.4" y="236.8" font-size="3.9" class="serif" fill="#333">Motif Support</text>
<text x="401.4" y="241.7" font-size="3.9" class="serif" fill="#333">Pfam Conserved Domain</text>
<text x="401.4" y="246.1" font-size="3.9" class="serif" fill="#333">Predicted Disorder</text>
<text x="401.4" y="251" font-size="3.9" class="serif" fill="#333">Predicted MoRFs</text>
<text x="401.4" y="255.9" font-size="3.9" class="serif" fill="#333">Curated PTM Site</text>
<rect x="397.5" y="229.3" width="2.8" height="2.8" fill="#ccc" stroke="#999" stroke-width="0.3"/>
<line x1="399" y1="233.5" x2="399" y2="236.5" stroke="#999" stroke-width="0.4" stroke-dasharray="0.6,0.6"/>
<circle cx="399" cy="240.4" r="1.5" fill="#fff" stroke="#555" stroke-width="0.45"/>
<rect x="397.6" y="243.4" width="2.8" height="2.8" rx="0.6" fill="#ddd" stroke="#555" stroke-width="0.45"/>
<line x1="397" y1="249.6" x2="401" y2="249.6" stroke="#777" stroke-width="0.8" stroke-dasharray="1,0.3"/>
<circle cx="399" cy="254.6" r="1.5" fill="#777" stroke="#444" stroke-width="0.4"/>
<text x="449.3" y="227.4" font-size="4.6" class="serif" fill="#222">Disorder:</text>
<rect x="451.8" y="228.6" width="3.2" height="3.2" fill="#3c9aa8" stroke="#777" stroke-width="0.3"/>
<text x="456.6" y="231.4" font-size="3.5" class="serif" fill="#333">Espritz-D</text>
<rect x="451.8" y="233.37" width="3.2" height="3.2" fill="#22c0b4" stroke="#777" stroke-width="0.3"/>
<text x="456.6" y="236.17" font-size="3.5" class="serif" fill="#333">Espritz-X</text>
<rect x="451.8" y="238.14" width="3.2" height="3.2" fill="#3fb0d4" stroke="#777" stroke-width="0.3"/>
<text x="456.6" y="240.94" font-size="3.5" class="serif" fill="#333">Espritz-N</text>
<rect x="451.8" y="242.91" width="3.2" height="3.2" fill="#c84660" stroke="#777" stroke-width="0.3"/>
<text x="456.6" y="245.71" font-size="3.5" class="serif" fill="#333">IUPred-L</text>
<rect x="451.8" y="247.68" width="3.2" height="3.2" fill="#a44c60" stroke="#777" stroke-width="0.3"/>
<text x="456.6" y="250.48" font-size="3.5" class="serif" fill="#333">IUPred-S</text>
<rect x="451.8" y="252.45" width="3.2" height="3.2" fill="#e2aa56" stroke="#777" stroke-width="0.3"/>
<text x="456.6" y="255.25" font-size="3.5" class="serif" fill="#333">PV2</text>
<rect x="451.8" y="257.22" width="3.2" height="3.2" fill="#5e6894" stroke="#777" stroke-width="0.3"/>
<text x="456.6" y="260.02" font-size="3.5" class="serif" fill="#333">PDOS</text>
<rect x="451.8" y="261.99" width="3.2" height="3.2" fill="#b866b8" stroke="#777" stroke-width="0.3"/>
<text x="456.6" y="264.79" font-size="3.5" class="serif" fill="#333">VSL2b</text>
<rect x="451.8" y="266.76" width="3.2" height="3.2" fill="#6c7c62" stroke="#777" stroke-width="0.3"/>
<text x="456.6" y="269.56" font-size="3.5" class="serif" fill="#333">VLXT</text>
<text x="481.5" y="227.6" font-size="4.6" class="serif" fill="#222">Superfamilies:</text>
<rect x="484.2" y="229.5" width="3" height="3.6" fill="#f4f03a" stroke="#777" stroke-width="0.3"/>
<text x="488.9" y="232.7" font-size="3.6" class="serif" fill="#333">[1] Bromodomain</text>
<rect x="484.2" y="233.8" width="3" height="3.6" fill="#f04040" stroke="#777" stroke-width="0.3"/>
<text x="488.9" y="236.9" font-size="3.6" class="serif" fill="#333">[2] HMG-box</text>
<text x="481.5" y="244" font-size="4.6" class="serif" fill="#222">Pfam:</text>
<circle cx="485.6" cy="247.8" r="1.55" fill="#a0e0b0" stroke="#20b040" stroke-width="0.8"/>
<text x="488.9" y="249" font-size="3.6" class="serif" fill="#333">[3] BAH domain</text>
<circle cx="485.6" cy="252.4" r="1.55" fill="#f4b0b0" stroke="#e04848" stroke-width="0.8"/>
<text x="488.9" y="253.6" font-size="3.6" class="serif" fill="#333">[4] Bromodomain</text>
<circle cx="485.6" cy="257.3" r="1.55" fill="#eeeab0" stroke="#c8c040" stroke-width="0.8"/>
<text x="488.9" y="258.5" font-size="3.6" class="serif" fill="#333">[5] HMG (high mobility group) box</text>
<text x="538.2" y="288.8" font-size="8.2" font-weight="bold" class="sans" fill="#333">G</text>
</svg>
</body></html>
